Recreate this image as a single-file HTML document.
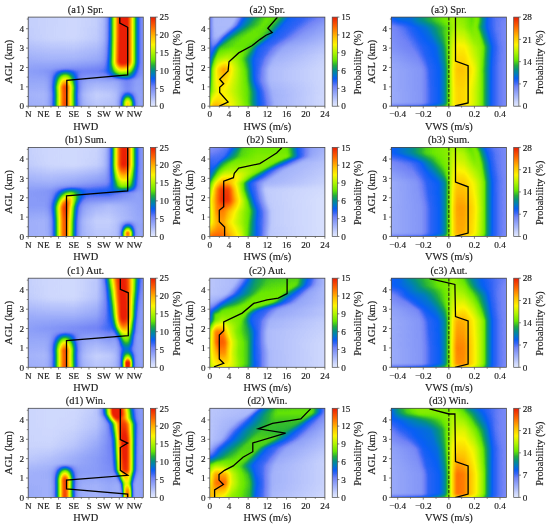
<!DOCTYPE html><html><head><meta charset="utf-8"><style>html,body{margin:0;padding:0;background:#fff;width:550px;height:528px;overflow:hidden}body{position:relative}svg{display:block;position:absolute;left:0;top:0}.hc{position:absolute;overflow:hidden}.hm{position:absolute;left:-3px;top:-3px;filter:url(#cm)}.hm i{display:block;height:2px}.t{font-family:"Liberation Serif",serif;font-size:9.2px;fill:#1a1a1a;stroke:#1a1a1a;stroke-width:0.15px}.l{font-family:"Liberation Serif",serif;font-size:10.4px;fill:#1a1a1a;stroke:#1a1a1a;stroke-width:0.15px}</style></head><body><div class="hc" style="left:28px;top:17px;width:115px;height:89px"><div class="hm" style="width:121px;height:95px"><i style="background:linear-gradient(90deg,#0f0f0f 0%,#0b0b0b 40.2%,#0f0f0f 58.9%,#181818 63.9%,#1e1e1e 65.6%,#292929 67.2%,#373737 68.5%,#494949 69.7%,#575757 70.5%,#717171 71.8%,#c2c2c2 75.1%,#dddddd 76.3%,#f2f2f2 77.6%,#fdfdfd 78.4%,#ffffff 78.8%,#ffffff 84.2%,#fefefe 84.6%,#f3f3f3 85.5%,#dedede 86.7%,#c4c4c4 88%,#767676 91.3%,#5e5e5e 92.5%,#4b4b4b 93.8%,#3d3d3d 95%,#343434 96.3%,#2e2e2e 97.9%,#2a2a2a 100%)"></i><i style="background:linear-gradient(90deg,#0f0f0f 0%,#0b0b0b 40.2%,#0f0f0f 58.9%,#181818 63.9%,#1e1e1e 65.6%,#292929 67.2%,#373737 68.5%,#494949 69.7%,#575757 70.5%,#717171 71.8%,#c2c2c2 75.1%,#dddddd 76.3%,#f2f2f2 77.6%,#fdfdfd 78.4%,#ffffff 78.8%,#ffffff 84.2%,#fefefe 84.6%,#f3f3f3 85.5%,#dedede 86.7%,#c4c4c4 88%,#767676 91.3%,#5e5e5e 92.5%,#4b4b4b 93.8%,#3d3d3d 95%,#343434 96.3%,#2e2e2e 97.9%,#2a2a2a 100%)"></i><i style="background:linear-gradient(90deg,#101010 0%,#0b0b0b 40.2%,#101010 58.9%,#181818 63.9%,#1e1e1e 65.6%,#2a2a2a 67.2%,#373737 68.5%,#494949 69.7%,#575757 70.5%,#717171 71.8%,#c2c2c2 75.1%,#dddddd 76.3%,#f2f2f2 77.6%,#fdfdfd 78.4%,#ffffff 78.8%,#ffffff 84.2%,#fefefe 84.6%,#f3f3f3 85.5%,#dedede 86.7%,#c4c4c4 88%,#767676 91.3%,#5e5e5e 92.5%,#4b4b4b 93.8%,#3d3d3d 95%,#343434 96.3%,#2e2e2e 97.9%,#2a2a2a 100%)"></i><i style="background:linear-gradient(90deg,#101010 0%,#0b0b0b 40.2%,#101010 58.9%,#181818 63.9%,#1f1f1f 65.6%,#2a2a2a 67.2%,#373737 68.5%,#494949 69.7%,#585858 70.5%,#717171 71.8%,#c2c2c2 75.1%,#dddddd 76.3%,#f2f2f2 77.6%,#fdfdfd 78.4%,#ffffff 78.8%,#ffffff 84.2%,#fefefe 84.6%,#f3f3f3 85.5%,#dedede 86.7%,#c4c4c4 88%,#767676 91.3%,#5e5e5e 92.5%,#4b4b4b 93.8%,#3d3d3d 95%,#343434 96.3%,#2e2e2e 97.9%,#2a2a2a 100%)"></i><i style="background:linear-gradient(90deg,#101010 0%,#0b0b0b 40.2%,#101010 58.9%,#181818 63.9%,#1f1f1f 65.6%,#2a2a2a 67.2%,#373737 68.5%,#494949 69.7%,#585858 70.5%,#727272 71.8%,#c2c2c2 75.1%,#dddddd 76.3%,#f2f2f2 77.6%,#fdfdfd 78.4%,#ffffff 78.8%,#ffffff 84.2%,#fefefe 84.6%,#f3f3f3 85.5%,#dedede 86.7%,#c4c4c4 88%,#767676 91.3%,#5e5e5e 92.5%,#4b4b4b 93.8%,#3d3d3d 95%,#343434 96.3%,#2e2e2e 97.9%,#2a2a2a 100%)"></i><i style="background:linear-gradient(90deg,#101010 0%,#0b0b0b 40.2%,#101010 58.9%,#191919 63.9%,#1f1f1f 65.6%,#2a2a2a 67.2%,#383838 68.5%,#4a4a4a 69.7%,#585858 70.5%,#727272 71.8%,#c2c2c2 75.1%,#dddddd 76.3%,#f3f3f3 77.6%,#fdfdfd 78.4%,#ffffff 78.8%,#ffffff 84.2%,#fefefe 84.6%,#f3f3f3 85.5%,#dedede 86.7%,#c4c4c4 88%,#767676 91.3%,#5e5e5e 92.5%,#4b4b4b 93.8%,#3d3d3d 95%,#343434 96.3%,#2e2e2e 97.9%,#2a2a2a 100%)"></i><i style="background:linear-gradient(90deg,#101010 0%,#0d0d0d 21.6%,#0b0b0b 40.2%,#101010 58.9%,#191919 63.9%,#1f1f1f 65.6%,#2b2b2b 67.2%,#383838 68.5%,#4a4a4a 69.7%,#585858 70.5%,#727272 71.8%,#c2c2c2 75.1%,#dddddd 76.3%,#f3f3f3 77.6%,#fdfdfd 78.4%,#ffffff 78.8%,#ffffff 84.2%,#fefefe 84.6%,#f3f3f3 85.5%,#dedede 86.7%,#c4c4c4 88%,#767676 91.3%,#5e5e5e 92.5%,#4b4b4b 93.8%,#3d3d3d 95%,#343434 96.3%,#2e2e2e 97.9%,#2a2a2a 100%)"></i><i style="background:linear-gradient(90deg,#111111 0%,#0d0d0d 21.6%,#0b0b0b 40.2%,#111111 58.9%,#191919 63.9%,#202020 65.6%,#2b2b2b 67.2%,#383838 68.5%,#4a4a4a 69.7%,#585858 70.5%,#727272 71.8%,#c3c3c3 75.1%,#dddddd 76.3%,#f3f3f3 77.6%,#fdfdfd 78.4%,#ffffff 78.8%,#ffffff 84.2%,#fefefe 84.6%,#f3f3f3 85.5%,#dedede 86.7%,#c4c4c4 88%,#767676 91.3%,#5e5e5e 92.5%,#4b4b4b 93.8%,#3d3d3d 95%,#343434 96.3%,#2e2e2e 97.9%,#2a2a2a 100%)"></i><i style="background:linear-gradient(90deg,#111111 0%,#0d0d0d 21.6%,#0b0b0b 40.2%,#111111 58.9%,#191919 63.9%,#202020 65.6%,#2b2b2b 67.2%,#383838 68.5%,#4a4a4a 69.7%,#595959 70.5%,#727272 71.8%,#c3c3c3 75.1%,#dedede 76.3%,#f3f3f3 77.6%,#fdfdfd 78.4%,#ffffff 78.8%,#ffffff 84.2%,#fefefe 84.6%,#f3f3f3 85.5%,#dedede 86.7%,#c4c4c4 88%,#767676 91.3%,#5e5e5e 92.5%,#4b4b4b 93.8%,#3d3d3d 95%,#343434 96.3%,#2e2e2e 97.9%,#2a2a2a 100%)"></i><i style="background:linear-gradient(90deg,#111111 0%,#0d0d0d 21.6%,#0b0b0b 40.2%,#111111 58.9%,#1a1a1a 63.9%,#202020 65.6%,#2b2b2b 67.2%,#393939 68.5%,#4a4a4a 69.7%,#595959 70.5%,#737373 71.8%,#c3c3c3 75.1%,#dedede 76.3%,#f3f3f3 77.6%,#fdfdfd 78.4%,#ffffff 78.8%,#ffffff 84.2%,#fefefe 84.6%,#f3f3f3 85.5%,#dedede 86.7%,#c4c4c4 88%,#767676 91.3%,#5e5e5e 92.5%,#4b4b4b 93.8%,#3d3d3d 95%,#343434 96.3%,#2e2e2e 97.9%,#2a2a2a 100%)"></i><i style="background:linear-gradient(90deg,#111111 0%,#0d0d0d 21.6%,#0b0b0b 40.2%,#111111 58.9%,#1a1a1a 63.9%,#202020 65.6%,#2c2c2c 67.2%,#393939 68.5%,#4b4b4b 69.7%,#595959 70.5%,#737373 71.8%,#c3c3c3 75.1%,#dedede 76.3%,#f3f3f3 77.6%,#fdfdfd 78.4%,#ffffff 78.8%,#ffffff 84.2%,#fefefe 84.6%,#f3f3f3 85.5%,#dedede 86.7%,#c4c4c4 88%,#767676 91.3%,#5e5e5e 92.5%,#4b4b4b 93.8%,#3d3d3d 95%,#343434 96.3%,#2e2e2e 97.9%,#2a2a2a 100%)"></i><i style="background:linear-gradient(90deg,#121212 0%,#0d0d0d 21.6%,#0b0b0b 40.2%,#121212 58.9%,#1a1a1a 63.9%,#212121 65.6%,#2c2c2c 67.2%,#393939 68.5%,#4b4b4b 69.7%,#595959 70.5%,#737373 71.8%,#c3c3c3 75.1%,#dedede 76.3%,#f3f3f3 77.6%,#fdfdfd 78.4%,#ffffff 78.8%,#ffffff 84.2%,#fefefe 84.6%,#f3f3f3 85.5%,#dedede 86.7%,#c4c4c4 88%,#767676 91.3%,#5e5e5e 92.5%,#4b4b4b 93.8%,#3d3d3d 95%,#343434 96.3%,#2e2e2e 97.9%,#2a2a2a 100%)"></i><i style="background:linear-gradient(90deg,#121212 0%,#0d0d0d 21.6%,#0c0c0c 40.2%,#121212 58.9%,#1b1b1b 63.9%,#212121 65.6%,#2c2c2c 67.2%,#3a3a3a 68.5%,#4b4b4b 69.7%,#5a5a5a 70.5%,#737373 71.8%,#c3c3c3 75.1%,#dedede 76.3%,#ededed 77.2%,#f9f9f9 78%,#fdfdfd 78.4%,#ffffff 78.8%,#ffffff 84.2%,#fefefe 84.6%,#f3f3f3 85.5%,#dedede 86.7%,#c4c4c4 88%,#767676 91.3%,#5e5e5e 92.5%,#4b4b4b 93.8%,#3d3d3d 95%,#343434 96.3%,#2e2e2e 97.9%,#2a2a2a 100%)"></i><i style="background:linear-gradient(90deg,#141414 0%,#0f0f0f 21.6%,#0e0e0e 40.2%,#141414 58.9%,#1c1c1c 63.9%,#222222 65.6%,#2e2e2e 67.2%,#3b3b3b 68.5%,#4d4d4d 69.7%,#5b5b5b 70.5%,#747474 71.8%,#c4c4c4 75.1%,#dfdfdf 76.3%,#ededed 77.2%,#f9f9f9 78%,#fefefe 78.4%,#ffffff 78.8%,#ffffff 84.2%,#fefefe 84.6%,#f3f3f3 85.5%,#dedede 86.7%,#c4c4c4 88%,#767676 91.3%,#5e5e5e 92.5%,#4b4b4b 93.8%,#3d3d3d 95%,#343434 96.3%,#2e2e2e 97.9%,#2a2a2a 100%)"></i><i style="background:linear-gradient(90deg,#151515 0%,#111111 21.6%,#101010 40.2%,#161616 58.9%,#1a1a1a 62.2%,#1f1f1f 64.3%,#262626 66%,#2f2f2f 67.2%,#3c3c3c 68.5%,#4e4e4e 69.7%,#5c5c5c 70.5%,#757575 71.8%,#c5c5c5 75.1%,#dfdfdf 76.3%,#eeeeee 77.2%,#f9f9f9 78%,#fefefe 78.4%,#ffffff 78.8%,#ffffff 84.2%,#fefefe 84.6%,#f3f3f3 85.5%,#dedede 86.7%,#c4c4c4 88%,#767676 91.3%,#5e5e5e 92.5%,#4b4b4b 93.8%,#3d3d3d 95%,#343434 96.3%,#2e2e2e 97.9%,#2a2a2a 100%)"></i><i style="background:linear-gradient(90deg,#171717 0%,#121212 21.6%,#111111 40.2%,#171717 58.9%,#1c1c1c 62.2%,#202020 64.3%,#272727 66%,#303030 67.2%,#3d3d3d 68.5%,#4f4f4f 69.7%,#5d5d5d 70.5%,#767676 71.8%,#c5c5c5 75.1%,#e0e0e0 76.3%,#eeeeee 77.2%,#fafafa 78%,#fefefe 78.4%,#ffffff 78.8%,#ffffff 84.2%,#fefefe 84.6%,#f3f3f3 85.5%,#dedede 86.7%,#c4c4c4 88%,#767676 91.3%,#5e5e5e 92.5%,#4b4b4b 93.8%,#3d3d3d 95%,#343434 96.3%,#2e2e2e 97.9%,#2a2a2a 100%)"></i><i style="background:linear-gradient(90deg,#181818 0%,#141414 21.2%,#131313 40.2%,#191919 58.9%,#1d1d1d 62.2%,#222222 64.3%,#292929 66%,#323232 67.2%,#3f3f3f 68.5%,#505050 69.7%,#5e5e5e 70.5%,#777777 71.8%,#c6c6c6 75.1%,#e0e0e0 76.3%,#efefef 77.2%,#fafafa 78%,#ffffff 78.4%,#ffffff 78.8%,#ffffff 84.2%,#fefefe 84.6%,#f3f3f3 85.5%,#dedede 86.7%,#c4c4c4 88%,#767676 91.3%,#5e5e5e 92.5%,#4b4b4b 93.8%,#3d3d3d 95%,#343434 96.3%,#2e2e2e 97.9%,#2a2a2a 100%)"></i><i style="background:linear-gradient(90deg,#191919 0%,#161616 21.2%,#151515 40.2%,#1b1b1b 58.9%,#1f1f1f 62.2%,#232323 64.3%,#2a2a2a 66%,#333333 67.2%,#404040 68.5%,#515151 69.7%,#5f5f5f 70.5%,#787878 71.8%,#bdbdbd 74.7%,#d9d9d9 75.9%,#efefef 77.2%,#ffffff 78.4%,#ffffff 84.2%,#fefefe 84.6%,#f3f3f3 85.5%,#dedede 86.7%,#c4c4c4 88%,#767676 91.3%,#5e5e5e 92.5%,#4b4b4b 93.8%,#3d3d3d 95%,#343434 96.3%,#2e2e2e 97.9%,#2a2a2a 100%)"></i><i style="background:linear-gradient(90deg,#1b1b1b 0%,#171717 21.2%,#171717 40.2%,#1c1c1c 58.9%,#202020 62.2%,#252525 64.3%,#2b2b2b 66%,#343434 67.2%,#414141 68.5%,#525252 69.7%,#606060 70.5%,#797979 71.8%,#bebebe 74.7%,#d9d9d9 75.9%,#f0f0f0 77.2%,#ffffff 78.4%,#ffffff 84.2%,#fefefe 84.6%,#f3f3f3 85.5%,#dedede 86.7%,#c4c4c4 88%,#767676 91.3%,#5e5e5e 92.5%,#4b4b4b 93.8%,#3d3d3d 95%,#343434 96.3%,#2e2e2e 97.9%,#2a2a2a 100%)"></i><i style="background:linear-gradient(90deg,#1c1c1c 0%,#191919 21.2%,#191919 40.2%,#1e1e1e 58.9%,#222222 62.2%,#262626 64.3%,#2d2d2d 66%,#353535 67.2%,#424242 68.5%,#535353 69.7%,#616161 70.5%,#7a7a7a 71.8%,#bebebe 74.7%,#dadada 75.9%,#f0f0f0 77.2%,#fbfbfb 78%,#ffffff 78.4%,#ffffff 84.2%,#fefefe 84.6%,#f3f3f3 85.5%,#dedede 86.7%,#c4c4c4 88%,#767676 91.3%,#5e5e5e 92.5%,#4b4b4b 93.8%,#3d3d3d 95%,#343434 96.3%,#2e2e2e 97.9%,#2a2a2a 100%)"></i><i style="background:linear-gradient(90deg,#1e1e1e 0%,#1b1b1b 21.2%,#1a1a1a 40.2%,#202020 58.9%,#232323 62.2%,#272727 64.3%,#2e2e2e 66%,#373737 67.2%,#434343 68.5%,#555555 69.7%,#626262 70.5%,#7b7b7b 71.8%,#bfbfbf 74.7%,#dadada 75.9%,#f0f0f0 77.2%,#fcfcfc 78%,#ffffff 78.4%,#ffffff 84.2%,#fefefe 84.6%,#f3f3f3 85.5%,#dedede 86.7%,#c4c4c4 88%,#767676 91.3%,#5e5e5e 92.5%,#4b4b4b 93.8%,#3d3d3d 95%,#343434 96.3%,#2e2e2e 97.9%,#2a2a2a 100%)"></i><i style="background:linear-gradient(90deg,#1f1f1f 0%,#1c1c1c 21.2%,#1c1c1c 40.2%,#212121 58.9%,#252525 62.2%,#292929 64.3%,#303030 66%,#383838 67.2%,#454545 68.5%,#565656 69.7%,#636363 70.5%,#7c7c7c 71.8%,#c0c0c0 74.7%,#dbdbdb 75.9%,#f1f1f1 77.2%,#fcfcfc 78%,#ffffff 78.4%,#ffffff 84.2%,#fefefe 84.6%,#f3f3f3 85.5%,#dedede 86.7%,#c4c4c4 88%,#767676 91.3%,#5e5e5e 92.5%,#4b4b4b 93.8%,#3d3d3d 95%,#343434 96.3%,#2e2e2e 97.9%,#2a2a2a 100%)"></i><i style="background:linear-gradient(90deg,#212121 0%,#1e1e1e 21.2%,#1e1e1e 40.2%,#232323 58.9%,#262626 62.2%,#2a2a2a 64.3%,#313131 66%,#393939 67.2%,#464646 68.5%,#575757 69.7%,#646464 70.5%,#7d7d7d 71.8%,#c0c0c0 74.7%,#dbdbdb 75.9%,#f1f1f1 77.2%,#fcfcfc 78%,#ffffff 78.4%,#ffffff 84.2%,#fefefe 84.6%,#f3f3f3 85.5%,#dedede 86.7%,#c4c4c4 88%,#767676 91.3%,#5e5e5e 92.5%,#4b4b4b 93.8%,#3d3d3d 95%,#343434 96.3%,#2e2e2e 97.9%,#2a2a2a 100%)"></i><i style="background:linear-gradient(90deg,#222222 0%,#202020 21.2%,#212121 40.2%,#262626 58.9%,#292929 62.2%,#2d2d2d 64.3%,#343434 66%,#3c3c3c 67.2%,#484848 68.5%,#595959 69.7%,#676767 70.5%,#7f7f7f 71.8%,#cbcbcb 75.1%,#e5e5e5 76.3%,#f9f9f9 77.6%,#fefefe 78%,#ffffff 78.4%,#fefefe 84.6%,#f4f4f4 85.5%,#dfdfdf 86.7%,#c4c4c4 88%,#767676 91.3%,#5e5e5e 92.5%,#4b4b4b 93.8%,#3d3d3d 95%,#343434 96.3%,#2e2e2e 97.9%,#2a2a2a 100%)"></i><i style="background:linear-gradient(90deg,#232323 0%,#232323 21.2%,#252525 40.2%,#2a2a2a 58.9%,#2d2d2d 62.2%,#303030 64.3%,#363636 66%,#3e3e3e 67.2%,#4a4a4a 68.5%,#5a5a5a 69.7%,#676767 70.5%,#7e7e7e 71.8%,#c6c6c6 75.1%,#dedede 76.3%,#ececec 77.2%,#f6f6f6 78%,#fdfdfd 78.8%,#ffffff 79.3%,#ffffff 83.4%,#f6f6f6 84.6%,#ececec 85.5%,#d7d7d7 86.7%,#bebebe 88%,#737373 91.3%,#5c5c5c 92.5%,#4a4a4a 93.8%,#3d3d3d 95%,#343434 96.3%,#2f2f2f 97.5%,#2b2b2b 100%)"></i><i style="background:linear-gradient(90deg,#252525 0%,#262626 21.2%,#292929 40.2%,#2e2e2e 59.3%,#313131 62.7%,#353535 64.7%,#393939 66%,#404040 67.2%,#4b4b4b 68.5%,#5a5a5a 69.7%,#656565 70.5%,#7a7a7a 71.8%,#bcbcbc 75.1%,#d8d8d8 76.8%,#e3e3e3 77.6%,#ebebeb 78.4%,#f0f0f0 79.3%,#f3f3f3 80.5%,#f1f1f1 82.6%,#eeeeee 83.4%,#e6e6e6 84.6%,#dddddd 85.5%,#d1d1d1 86.3%,#bbbbbb 87.6%,#7e7e7e 90.5%,#666666 91.7%,#525252 92.9%,#434343 94.2%,#383838 95.4%,#323232 96.7%,#2d2d2d 98.3%,#2b2b2b 100%)"></i><i style="background:linear-gradient(90deg,#262626 0%,#282828 21.6%,#313131 56.8%,#343434 61.8%,#383838 64.7%,#3f3f3f 66.8%,#484848 68%,#4f4f4f 68.9%,#5d5d5d 70.1%,#6d6d6d 71.4%,#818181 72.6%,#acacac 75.1%,#c4c4c4 76.8%,#cdcdcd 77.6%,#d3d3d3 78.4%,#d7d7d7 79.3%,#d9d9d9 80.5%,#d5d5d5 83.4%,#cecece 84.6%,#c6c6c6 85.5%,#bcbcbc 86.3%,#a8a8a8 87.6%,#747474 90.5%,#5f5f5f 91.7%,#4d4d4d 92.9%,#404040 94.2%,#373737 95.4%,#313131 96.7%,#2b2b2b 100%)"></i><i style="background:linear-gradient(90deg,#272727 0%,#2b2b2b 21.2%,#353535 33.6%,#333333 48.1%,#363636 60.2%,#3b3b3b 64.7%,#414141 66.8%,#484848 68%,#4f4f4f 68.9%,#5a5a5a 70.1%,#676767 71.4%,#9c9c9c 75.1%,#b0b0b0 76.8%,#b7b7b7 77.6%,#bcbcbc 78.4%,#c0c0c0 79.3%,#c1c1c1 80.5%,#bdbdbd 83.4%,#b6b6b6 84.6%,#b0b0b0 85.5%,#a7a7a7 86.3%,#969696 87.6%,#696969 90.5%,#575757 91.7%,#484848 92.9%,#3d3d3d 94.2%,#353535 95.4%,#313131 96.7%,#2c2c2c 100%)"></i><i style="background:linear-gradient(90deg,#292929 0%,#2c2c2c 14.9%,#303030 20.7%,#373737 24.5%,#4c4c4c 30.7%,#505050 33.2%,#4e4e4e 35.7%,#3e3e3e 42.3%,#393939 46.1%,#383838 49.8%,#393939 57.3%,#3b3b3b 62.2%,#3e3e3e 64.7%,#454545 67.2%,#545454 69.7%,#666666 71.8%,#8d8d8d 75.1%,#9d9d9d 76.8%,#a6a6a6 78.4%,#aaaaaa 80.1%,#a5a5a5 83.4%,#a0a0a0 84.6%,#9a9a9a 85.5%,#939393 86.3%,#858585 87.6%,#505050 91.7%,#434343 92.9%,#3a3a3a 94.2%,#343434 95.4%,#303030 96.7%,#2c2c2c 100%)"></i><i style="background:linear-gradient(90deg,#282828 0%,#2b2b2b 15.4%,#2d2d2d 18.3%,#303030 20.7%,#363636 22.8%,#3d3d3d 24.5%,#616161 30.7%,#666666 32%,#686868 33.2%,#676767 34.4%,#646464 35.7%,#434343 42.3%,#3d3d3d 44%,#383838 46.1%,#363636 48.5%,#363636 52.3%,#373737 60.6%,#3a3a3a 64.7%,#404040 67.2%,#4c4c4c 69.7%,#5b5b5b 71.8%,#797979 75.1%,#858585 76.8%,#8d8d8d 78.4%,#909090 80.1%,#8c8c8c 83.4%,#888888 84.6%,#838383 85.5%,#727272 87.6%,#484848 91.7%,#3e3e3e 92.9%,#373737 94.2%,#2f2f2f 96.7%,#2c2c2c 100%)"></i><i style="background:linear-gradient(90deg,#272727 0%,#2a2a2a 15.4%,#2c2c2c 18.3%,#303030 20.3%,#373737 22.4%,#414141 24.1%,#4e4e4e 25.7%,#707070 29.5%,#7a7a7a 30.7%,#808080 32%,#828282 33.2%,#808080 34.4%,#787878 36.1%,#4f4f4f 41.1%,#424242 43.2%,#393939 45.2%,#343434 47.7%,#323232 51.5%,#323232 59.3%,#343434 63.9%,#373737 66.4%,#3c3c3c 68%,#484848 71%,#696969 75.9%,#747474 78%,#787878 80.1%,#797979 82.6%,#767676 84.2%,#6f6f6f 85.9%,#636363 87.6%,#434343 91.3%,#3b3b3b 92.5%,#353535 93.8%,#2e2e2e 96.3%,#2b2b2b 100%)"></i><i style="background:linear-gradient(90deg,#262626 0%,#282828 15.4%,#2b2b2b 18.3%,#303030 20.3%,#3a3a3a 22.4%,#474747 24.1%,#585858 25.7%,#848484 29.5%,#909090 30.7%,#989898 32%,#9a9a9a 33.2%,#979797 34.4%,#8c8c8c 36.1%,#808080 37.3%,#565656 41.1%,#444444 43.2%,#383838 45.2%,#313131 47.7%,#2e2e2e 51.5%,#2d2d2d 58.9%,#2f2f2f 63.9%,#323232 66.8%,#3e3e3e 71.8%,#575757 77.2%,#5f5f5f 79.3%,#636363 80.9%,#656565 83.4%,#636363 84.6%,#5c5c5c 86.3%,#3e3e3e 90.9%,#323232 93.4%,#2c2c2c 95.9%,#2a2a2a 100%)"></i><i style="background:linear-gradient(90deg,#252525 0%,#262626 15.4%,#292929 18.3%,#2f2f2f 20.3%,#3b3b3b 22.4%,#4b4b4b 24.1%,#5f5f5f 25.7%,#959595 29.5%,#a3a3a3 30.7%,#acacac 32%,#afafaf 33.2%,#ababab 34.4%,#a6a6a6 35.3%,#9e9e9e 36.1%,#8e8e8e 37.3%,#5b5b5b 41.1%,#454545 43.2%,#3c3c3c 44.4%,#353535 45.6%,#2e2e2e 48.1%,#2a2a2a 51.5%,#282828 58.9%,#2b2b2b 66.8%,#313131 73%,#424242 80.5%,#464646 83.8%,#424242 86.3%,#333333 90.5%,#2d2d2d 92.9%,#2a2a2a 95.4%,#2a2a2a 100%)"></i><i style="background:linear-gradient(90deg,#252525 0%,#252525 15.4%,#282828 18.3%,#2f2f2f 20.3%,#363636 21.6%,#3d3d3d 22.4%,#4f4f4f 24.1%,#676767 25.7%,#a5a5a5 29.5%,#b5b5b5 30.7%,#c0c0c0 32%,#c4c4c4 33.2%,#bfbfbf 34.4%,#b9b9b9 35.3%,#afafaf 36.1%,#9d9d9d 37.3%,#616161 41.1%,#505050 42.3%,#474747 43.2%,#3c3c3c 44.4%,#343434 45.6%,#2b2b2b 48.1%,#262626 51.5%,#232323 58.9%,#262626 69.3%,#252525 73.9%,#282828 76.8%,#343434 82.6%,#363636 84.2%,#343434 86.3%,#2c2c2c 90.5%,#292929 92.5%,#292929 100%)"></i><i style="background:linear-gradient(90deg,#242424 0%,#232323 15.4%,#272727 18.3%,#2e2e2e 20.3%,#363636 21.6%,#3e3e3e 22.4%,#515151 24.1%,#6c6c6c 25.7%,#b0b0b0 29.5%,#c3c3c3 30.7%,#cecece 32%,#d2d2d2 33.2%,#cdcdcd 34.4%,#c6c6c6 35.3%,#bbbbbb 36.1%,#a7a7a7 37.3%,#646464 41.1%,#515151 42.3%,#474747 43.2%,#3b3b3b 44.4%,#323232 45.6%,#2c2c2c 46.9%,#282828 48.1%,#222222 51.5%,#1f1f1f 58.9%,#212121 73%,#252525 76.3%,#333333 82.6%,#353535 84.6%,#333333 86.3%,#292929 92.1%,#292929 100%)"></i><i style="background:linear-gradient(90deg,#232323 0%,#222222 15.4%,#262626 18.3%,#2e2e2e 20.3%,#373737 21.6%,#3f3f3f 22.4%,#555555 24.1%,#717171 25.7%,#bdbdbd 29.5%,#d1d1d1 30.7%,#dedede 32%,#e2e2e2 32.8%,#e2e2e2 33.2%,#e1e1e1 33.6%,#dddddd 34.4%,#d4d4d4 35.3%,#c9c9c9 36.1%,#b3b3b3 37.3%,#696969 41.1%,#545454 42.3%,#494949 43.2%,#3b3b3b 44.4%,#323232 45.6%,#2b2b2b 46.9%,#262626 48.1%,#202020 51.5%,#1c1c1c 58.9%,#1f1f1f 72.6%,#232323 76.3%,#323232 82.6%,#343434 84.6%,#333333 86.3%,#292929 92.1%,#282828 100%)"></i><i style="background:linear-gradient(90deg,#222222 0%,#212121 15.4%,#252525 18.3%,#2e2e2e 20.3%,#373737 21.6%,#404040 22.4%,#585858 24.1%,#777777 25.7%,#c8c8c8 29.5%,#dedede 30.7%,#ececec 32%,#f0f0f0 32.8%,#f0f0f0 33.2%,#efefef 33.6%,#eaeaea 34.4%,#e1e1e1 35.3%,#d5d5d5 36.1%,#bdbdbd 37.3%,#6d6d6d 41.1%,#575757 42.3%,#4b4b4b 43.2%,#3c3c3c 44.4%,#313131 45.6%,#2a2a2a 46.9%,#252525 48.1%,#1e1e1e 51.9%,#191919 59.3%,#1e1e1e 74.3%,#222222 76.8%,#303030 82.2%,#333333 84.2%,#323232 86.3%,#2a2a2a 90.5%,#282828 92.5%,#282828 100%)"></i><i style="background:linear-gradient(90deg,#212121 0%,#202020 15.4%,#242424 18.3%,#2d2d2d 20.3%,#363636 21.6%,#3f3f3f 22.4%,#565656 24.1%,#757575 25.7%,#c7c7c7 29.5%,#dcdcdc 30.7%,#eaeaea 32%,#eeeeee 32.8%,#efefef 33.2%,#eeeeee 33.6%,#e9e9e9 34.4%,#e0e0e0 35.3%,#d3d3d3 36.1%,#bcbcbc 37.3%,#6c6c6c 41.1%,#555555 42.3%,#494949 43.2%,#3a3a3a 44.4%,#2f2f2f 45.6%,#282828 46.9%,#222222 48.5%,#1c1c1c 51.9%,#171717 58.9%,#1a1a1a 71.4%,#1f1f1f 75.9%,#303030 82.6%,#323232 84.6%,#313131 86.3%,#282828 92.1%,#282828 100%)"></i><i style="background:linear-gradient(90deg,#202020 0%,#1f1f1f 15.4%,#232323 18.3%,#2b2b2b 20.3%,#353535 21.6%,#3e3e3e 22.4%,#555555 24.1%,#747474 25.7%,#c6c6c6 29.5%,#dbdbdb 30.7%,#e9e9e9 32%,#ededed 32.8%,#ededed 33.2%,#ededed 33.6%,#e8e8e8 34.4%,#dfdfdf 35.3%,#d2d2d2 36.1%,#bababa 37.3%,#6a6a6a 41.1%,#545454 42.3%,#474747 43.2%,#393939 44.4%,#2e2e2e 45.6%,#262626 46.9%,#202020 48.5%,#1a1a1a 51.9%,#141414 58.9%,#171717 71%,#1d1d1d 75.9%,#313131 82.6%,#343434 84.6%,#333333 86.3%,#2a2a2a 90.5%,#282828 92.5%,#272727 100%)"></i><i style="background:linear-gradient(90deg,#1f1f1f 0%,#1d1d1d 15.4%,#212121 18.3%,#2a2a2a 20.3%,#333333 21.6%,#3c3c3c 22.4%,#545454 24.1%,#737373 25.7%,#c4c4c4 29.5%,#dadada 30.7%,#e8e8e8 32%,#ececec 32.8%,#ececec 33.2%,#ebebeb 33.6%,#e6e6e6 34.4%,#dddddd 35.3%,#d1d1d1 36.1%,#b9b9b9 37.3%,#696969 41.1%,#525252 42.3%,#464646 43.2%,#373737 44.4%,#2c2c2c 45.6%,#242424 46.9%,#1e1e1e 48.5%,#181818 51.9%,#111111 59.3%,#141414 69.3%,#171717 73%,#1a1a1a 75.1%,#212121 77.2%,#292929 78.8%,#3f3f3f 82.6%,#434343 83.8%,#454545 84.6%,#444444 85.5%,#414141 86.7%,#303030 90.5%,#292929 92.5%,#272727 95%,#272727 100%)"></i><i style="background:linear-gradient(90deg,#1f1f1f 0%,#1d1d1d 15.4%,#212121 18.3%,#292929 20.3%,#373737 22%,#464646 23.2%,#535353 24.1%,#727272 25.7%,#c3c3c3 29.5%,#d9d9d9 30.7%,#e7e7e7 32%,#ebebeb 32.8%,#ebebeb 33.2%,#eaeaea 33.6%,#e5e5e5 34.4%,#dcdcdc 35.3%,#d0d0d0 36.1%,#b8b8b8 37.3%,#686868 41.1%,#515151 42.3%,#454545 43.2%,#363636 44.4%,#2b2b2b 45.6%,#232323 46.9%,#1c1c1c 48.5%,#161616 51.9%,#101010 59.3%,#121212 69.3%,#171717 73.9%,#1c1c1c 75.9%,#232323 77.6%,#2f2f2f 79.3%,#515151 83%,#565656 83.8%,#585858 84.6%,#575757 85.5%,#545454 86.3%,#4f4f4f 87.1%,#343434 90.5%,#2b2b2b 92.5%,#262626 95%,#262626 100%)"></i><i style="background:linear-gradient(90deg,#1f1f1f 0%,#1d1d1d 15.4%,#212121 18.3%,#2a2a2a 20.3%,#373737 22%,#464646 23.2%,#535353 24.1%,#727272 25.7%,#c4c4c4 29.5%,#d9d9d9 30.7%,#e7e7e7 32%,#ebebeb 32.8%,#ececec 33.2%,#ebebeb 33.6%,#e6e6e6 34.4%,#dddddd 35.3%,#d0d0d0 36.1%,#b8b8b8 37.3%,#686868 41.1%,#525252 42.3%,#454545 43.2%,#363636 44.4%,#2b2b2b 45.6%,#242424 46.9%,#1d1d1d 48.5%,#171717 51.9%,#101010 59.3%,#131313 69.3%,#161616 72.6%,#191919 74.7%,#1e1e1e 76.3%,#292929 78%,#3b3b3b 79.7%,#6a6a6a 83%,#747474 84.2%,#757575 85.1%,#727272 85.9%,#6b6b6b 86.7%,#404040 90%,#373737 90.9%,#2e2e2e 92.1%,#2a2a2a 93.4%,#272727 94.6%,#262626 100%)"></i><i style="background:linear-gradient(90deg,#202020 0%,#1d1d1d 15.4%,#212121 18.3%,#2a2a2a 20.3%,#383838 22%,#474747 23.2%,#545454 24.1%,#737373 25.7%,#c4c4c4 29.5%,#dadada 30.7%,#e8e8e8 32%,#ececec 32.8%,#ececec 33.2%,#ebebeb 33.6%,#e6e6e6 34.4%,#dddddd 35.3%,#d1d1d1 36.1%,#b9b9b9 37.3%,#696969 41.1%,#525252 42.3%,#464646 43.2%,#373737 44.4%,#2c2c2c 45.6%,#242424 46.9%,#1e1e1e 48.5%,#171717 51.9%,#111111 59.3%,#151515 70.5%,#171717 73.4%,#1a1a1a 75.1%,#222222 76.8%,#282828 77.6%,#303030 78.4%,#3c3c3c 79.3%,#494949 80.1%,#727272 82.2%,#818181 83%,#8c8c8c 83.8%,#8f8f8f 84.2%,#919191 85.1%,#8c8c8c 85.9%,#828282 86.7%,#474747 90%,#3c3c3c 90.9%,#303030 92.1%,#2a2a2a 93.4%,#272727 94.6%,#262626 100%)"></i><i style="background:linear-gradient(90deg,#202020 0%,#1e1e1e 15.4%,#222222 18.3%,#2b2b2b 20.3%,#383838 22%,#474747 23.2%,#545454 24.1%,#737373 25.7%,#c5c5c5 29.5%,#dadada 30.7%,#e8e8e8 32%,#ececec 32.8%,#ededed 33.2%,#ececec 33.6%,#e7e7e7 34.4%,#dedede 35.3%,#d1d1d1 36.1%,#b9b9b9 37.3%,#696969 41.1%,#535353 42.3%,#464646 43.2%,#373737 44.4%,#2c2c2c 45.6%,#252525 46.9%,#1e1e1e 48.5%,#181818 51.9%,#121212 59.3%,#161616 71.4%,#181818 73.9%,#1d1d1d 75.5%,#272727 77.2%,#353535 78.4%,#424242 79.3%,#535353 80.1%,#8e8e8e 82.6%,#9e9e9e 83.4%,#a8a8a8 84.2%,#aaaaaa 85.1%,#a5a5a5 85.9%,#989898 86.7%,#878787 87.6%,#606060 89.2%,#4f4f4f 90%,#414141 90.9%,#333333 92.1%,#2b2b2b 93.4%,#282828 94.6%,#262626 100%)"></i><i style="background:linear-gradient(90deg,#202020 0%,#1e1e1e 15.4%,#222222 18.3%,#2b2b2b 20.3%,#383838 22%,#484848 23.2%,#545454 24.1%,#747474 25.7%,#c5c5c5 29.5%,#dbdbdb 30.7%,#e9e9e9 32%,#ededed 32.8%,#ededed 33.2%,#ececec 33.6%,#e7e7e7 34.4%,#dedede 35.3%,#d2d2d2 36.1%,#bababa 37.3%,#6a6a6a 41.1%,#535353 42.3%,#474747 43.2%,#383838 44.4%,#2d2d2d 45.6%,#252525 46.9%,#1f1f1f 48.5%,#191919 51.9%,#131313 59.3%,#171717 71.8%,#191919 73.9%,#1d1d1d 75.5%,#222222 76.3%,#282828 77.2%,#373737 78.4%,#464646 79.3%,#595959 80.1%,#9b9b9b 82.6%,#adadad 83.4%,#b8b8b8 84.2%,#bababa 84.6%,#bbbbbb 85.1%,#b9b9b9 85.5%,#b4b4b4 85.9%,#a6a6a6 86.7%,#939393 87.6%,#676767 89.2%,#545454 90%,#454545 90.9%,#353535 92.1%,#2c2c2c 93.4%,#282828 94.6%,#262626 96.3%,#262626 100%)"></i><i style="background:linear-gradient(90deg,#212121 0%,#1f1f1f 15.4%,#232323 18.3%,#2b2b2b 20.3%,#393939 22%,#484848 23.2%,#555555 24.1%,#747474 25.7%,#c6c6c6 29.5%,#dbdbdb 30.7%,#e9e9e9 32%,#ededed 32.8%,#ededed 33.2%,#ededed 33.6%,#e8e8e8 34.4%,#dfdfdf 35.3%,#d2d2d2 36.1%,#bababa 37.3%,#6a6a6a 41.1%,#545454 42.3%,#474747 43.2%,#383838 44.4%,#2e2e2e 45.6%,#262626 46.9%,#202020 48.5%,#1a1a1a 51.9%,#141414 59.3%,#181818 71.8%,#191919 73.9%,#1e1e1e 75.5%,#222222 76.3%,#282828 77.2%,#373737 78.4%,#464646 79.3%,#585858 80.1%,#999999 82.6%,#ababab 83.4%,#b6b6b6 84.2%,#b8b8b8 84.6%,#b8b8b8 85.1%,#b6b6b6 85.5%,#b2b2b2 85.9%,#a4a4a4 86.7%,#919191 87.6%,#666666 89.2%,#545454 90%,#444444 90.9%,#353535 92.1%,#2c2c2c 93.4%,#282828 94.6%,#262626 96.3%,#262626 100%)"></i><i style="background:linear-gradient(90deg,#212121 0%,#1f1f1f 15.4%,#232323 18.3%,#2c2c2c 20.3%,#393939 22%,#484848 23.2%,#555555 24.1%,#747474 25.7%,#c6c6c6 29.5%,#dbdbdb 30.7%,#e9e9e9 32%,#ededed 32.8%,#eeeeee 33.2%,#ededed 33.6%,#e8e8e8 34.4%,#dfdfdf 35.3%,#d2d2d2 36.1%,#bababa 37.3%,#6a6a6a 41.1%,#545454 42.3%,#484848 43.2%,#393939 44.4%,#2e2e2e 45.6%,#262626 46.9%,#202020 48.5%,#1a1a1a 51.9%,#141414 59.3%,#181818 72.2%,#1b1b1b 74.3%,#1e1e1e 75.5%,#222222 76.3%,#282828 77.2%,#373737 78.4%,#454545 79.3%,#575757 80.1%,#989898 82.6%,#a9a9a9 83.4%,#b4b4b4 84.2%,#b7b7b7 84.6%,#b7b7b7 85.1%,#b5b5b5 85.5%,#b1b1b1 85.9%,#a3a3a3 86.7%,#909090 87.6%,#666666 89.2%,#535353 90%,#444444 90.9%,#343434 92.1%,#2c2c2c 93.4%,#282828 94.6%,#262626 96.3%,#262626 100%)"></i><i style="background:linear-gradient(90deg,#212121 0%,#1f1f1f 15.4%,#232323 18.3%,#2c2c2c 20.3%,#393939 22%,#484848 23.2%,#555555 24.1%,#747474 25.7%,#c6c6c6 29.5%,#dbdbdb 30.7%,#e9e9e9 32%,#ededed 32.8%,#eeeeee 33.2%,#ededed 33.6%,#e8e8e8 34.4%,#dfdfdf 35.3%,#d2d2d2 36.1%,#bababa 37.3%,#6a6a6a 41.1%,#545454 42.3%,#484848 43.2%,#393939 44.4%,#2e2e2e 45.6%,#262626 46.9%,#202020 48.5%,#1a1a1a 51.9%,#141414 59.3%,#181818 72.2%,#1b1b1b 74.3%,#1e1e1e 75.5%,#222222 76.3%,#282828 77.2%,#373737 78.4%,#454545 79.3%,#575757 80.1%,#989898 82.6%,#a9a9a9 83.4%,#b4b4b4 84.2%,#b7b7b7 84.6%,#b7b7b7 85.1%,#b5b5b5 85.5%,#b1b1b1 85.9%,#a3a3a3 86.7%,#909090 87.6%,#666666 89.2%,#535353 90%,#444444 90.9%,#343434 92.1%,#2c2c2c 93.4%,#282828 94.6%,#262626 96.3%,#262626 100%)"></i></div></div><div class="hc" style="left:210px;top:17px;width:115px;height:89px"><div class="hm" style="width:121px;height:95px"><i style="background:linear-gradient(90deg,#424242 0%,#414141 1.2%,#3e3e3e 2.1%,#383838 2.9%,#202020 5.4%,#1b1b1b 6.6%,#1a1a1a 22.8%,#1d1d1d 24.1%,#222222 24.9%,#444444 29%,#505050 31.1%,#737373 42.3%,#828282 49%,#848484 51%,#808080 56.8%,#7b7b7b 59.3%,#6f6f6f 62.2%,#515151 67.2%,#4c4c4c 68.9%,#454545 81.7%,#343434 97.1%,#333333 100%)"></i><i style="background:linear-gradient(90deg,#424242 0%,#414141 1.2%,#3e3e3e 2.1%,#383838 2.9%,#202020 5.4%,#1b1b1b 6.6%,#1a1a1a 22.8%,#1d1d1d 24.1%,#222222 24.9%,#444444 29%,#505050 31.1%,#737373 42.3%,#828282 49%,#848484 51%,#808080 56.8%,#7b7b7b 59.3%,#6f6f6f 62.2%,#515151 67.2%,#4c4c4c 68.9%,#454545 81.7%,#343434 97.1%,#333333 100%)"></i><i style="background:linear-gradient(90deg,#424242 0%,#414141 1.2%,#3e3e3e 2.1%,#383838 2.9%,#202020 5.4%,#1b1b1b 6.6%,#1a1a1a 22%,#1c1c1c 22.8%,#202020 23.7%,#454545 28.2%,#505050 30.3%,#727272 40.7%,#828282 47.7%,#848484 49.8%,#808080 55.6%,#7a7a7a 58.1%,#717171 60.6%,#535353 65.6%,#4d4d4d 67.2%,#444444 80.1%,#323232 96.3%,#313131 100%)"></i><i style="background:linear-gradient(90deg,#424242 0%,#414141 1.2%,#3e3e3e 2.1%,#383838 2.9%,#202020 5.4%,#1b1b1b 6.6%,#1a1a1a 21.2%,#1c1c1c 22%,#202020 22.8%,#454545 27.4%,#4d4d4d 28.6%,#525252 29.9%,#737373 39.4%,#828282 46.9%,#848484 49%,#808080 54.4%,#797979 57.3%,#6e6e6e 59.8%,#525252 64.3%,#4d4d4d 66%,#454545 78%,#353535 91.3%,#2f2f2f 97.1%,#2e2e2e 100%)"></i><i style="background:linear-gradient(90deg,#424242 0%,#414141 1.2%,#3e3e3e 2.1%,#383838 2.9%,#202020 5.4%,#1b1b1b 6.6%,#1a1a1a 20.3%,#1d1d1d 21.2%,#212121 22%,#464646 26.6%,#4e4e4e 27.8%,#535353 29%,#737373 38.2%,#828282 45.6%,#848484 48.1%,#808080 53.1%,#787878 56%,#6f6f6f 58.1%,#515151 63.1%,#4c4c4c 64.7%,#454545 75.9%,#343434 88.8%,#2d2d2d 96.7%,#2c2c2c 100%)"></i><i style="background:linear-gradient(90deg,#424242 0%,#414141 1.2%,#3e3e3e 2.1%,#383838 2.9%,#202020 5.4%,#1b1b1b 6.6%,#1a1a1a 8.7%,#1a1a1a 19.5%,#1d1d1d 20.3%,#222222 21.2%,#4a4a4a 26.1%,#555555 28.6%,#6d6d6d 34.9%,#737373 36.9%,#828282 44.8%,#848484 46.9%,#7f7f7f 51.9%,#777777 54.8%,#6f6f6f 56.8%,#535353 61.4%,#4d4d4d 63.1%,#454545 74.3%,#333333 87.1%,#2a2a2a 96.7%,#2a2a2a 100%)"></i><i style="background:linear-gradient(90deg,#434343 0%,#424242 1.2%,#3f3f3f 2.1%,#383838 2.9%,#202020 5.4%,#1b1b1b 6.6%,#1b1b1b 17.8%,#1d1d1d 18.7%,#222222 19.5%,#444444 23.7%,#4d4d4d 24.9%,#6d6d6d 32.8%,#737373 34.4%,#777777 36.1%,#838383 43.2%,#848484 45.2%,#808080 50.2%,#777777 53.5%,#6e6e6e 55.6%,#525252 60.2%,#4c4c4c 61.8%,#444444 72.6%,#323232 85.5%,#282828 96.7%,#282828 100%)"></i><i style="background:linear-gradient(90deg,#444444 0%,#434343 1.2%,#3f3f3f 2.1%,#393939 2.9%,#242424 5%,#1d1d1d 6.2%,#1b1b1b 7.9%,#1a1a1a 15.8%,#1d1d1d 16.6%,#212121 17.4%,#444444 21.6%,#4d4d4d 22.8%,#707070 31.1%,#767676 32.8%,#797979 34.4%,#838383 40.7%,#848484 42.7%,#818181 48.5%,#787878 52.3%,#6e6e6e 54.4%,#535353 58.5%,#4d4d4d 60.2%,#444444 71%,#313131 83.4%,#262626 96.7%,#262626 100%)"></i><i style="background:linear-gradient(90deg,#454545 0%,#444444 1.2%,#404040 2.1%,#3a3a3a 2.9%,#252525 5%,#1d1d1d 6.2%,#1b1b1b 7.9%,#1b1b1b 13.7%,#1c1c1c 14.5%,#212121 15.4%,#444444 19.5%,#4f4f4f 21.2%,#747474 29.5%,#797979 31.5%,#848484 38.6%,#838383 44.4%,#818181 47.3%,#777777 51.5%,#6e6e6e 53.1%,#525252 57.3%,#4c4c4c 58.9%,#444444 68.9%,#303030 81.3%,#252525 96.3%,#242424 100%)"></i><i style="background:linear-gradient(90deg,#464646 0%,#454545 1.2%,#414141 2.1%,#3b3b3b 2.9%,#252525 5%,#1e1e1e 6.2%,#1b1b1b 9.1%,#1b1b1b 12%,#1e1e1e 12.9%,#232323 13.7%,#434343 17.4%,#4f4f4f 19.1%,#6e6e6e 25.7%,#777777 27.8%,#7a7a7a 29.5%,#848484 36.1%,#838383 43.6%,#808080 46.5%,#777777 50.2%,#707070 51.5%,#535353 55.6%,#4d4d4d 57.3%,#444444 67.2%,#2f2f2f 79.7%,#232323 96.3%,#222222 100%)"></i><i style="background:linear-gradient(90deg,#474747 0%,#454545 1.2%,#424242 2.1%,#3b3b3b 2.9%,#252525 5%,#202020 5.8%,#1c1c1c 7.5%,#1b1b1b 10%,#1e1e1e 10.8%,#222222 11.6%,#434343 15.4%,#4f4f4f 17%,#707070 23.7%,#787878 25.7%,#848484 33.6%,#848484 42.3%,#818181 44.8%,#797979 48.5%,#707070 50.2%,#525252 54.4%,#4c4c4c 56%,#444444 65.1%,#2e2e2e 77.6%,#212121 96.3%,#202020 100%)"></i><i style="background:linear-gradient(90deg,#484848 0%,#464646 1.2%,#434343 2.1%,#3c3c3c 2.9%,#2a2a2a 4.6%,#212121 5.8%,#1e1e1e 7.1%,#1e1e1e 8.3%,#202020 9.1%,#242424 10%,#454545 13.7%,#515151 15.4%,#717171 21.6%,#797979 23.2%,#7d7d7d 25.3%,#848484 31.5%,#848484 40.7%,#7e7e7e 45.2%,#787878 47.3%,#717171 48.5%,#555555 52.3%,#505050 53.1%,#4c4c4c 54.4%,#444444 63.5%,#2d2d2d 75.9%,#1f1f1f 96.3%,#1e1e1e 100%)"></i><i style="background:linear-gradient(90deg,#494949 0%,#474747 1.2%,#444444 2.1%,#3e3e3e 2.9%,#2d2d2d 4.6%,#282828 5.4%,#252525 6.6%,#252525 7.9%,#2b2b2b 9.1%,#474747 12.4%,#535353 14.1%,#727272 19.5%,#7a7a7a 21.2%,#848484 29.5%,#848484 38.6%,#7e7e7e 43.2%,#797979 45.2%,#717171 46.5%,#555555 50.2%,#505050 51%,#4c4c4c 52.3%,#434343 61.4%,#2c2c2c 73.4%,#1d1d1d 96.3%,#1c1c1c 100%)"></i><i style="background:linear-gradient(90deg,#494949 0%,#484848 1.2%,#454545 2.1%,#343434 4.1%,#2f2f2f 5%,#2c2c2c 5.8%,#2c2c2c 7.1%,#313131 8.3%,#4f4f4f 12%,#6c6c6c 16.2%,#747474 17.4%,#797979 18.7%,#7d7d7d 20.3%,#848484 27.8%,#848484 36.5%,#7e7e7e 41.1%,#797979 43.2%,#727272 44.4%,#545454 48.1%,#4f4f4f 49%,#4c4c4c 50.2%,#434343 58.9%,#2a2a2a 71.4%,#1b1b1b 96.3%,#1a1a1a 100%)"></i><i style="background:linear-gradient(90deg,#4a4a4a 0%,#484848 1.7%,#444444 2.5%,#353535 4.6%,#323232 5.4%,#333333 6.2%,#353535 7.1%,#3a3a3a 7.9%,#707070 14.5%,#797979 16.2%,#7c7c7c 17.8%,#848484 25.7%,#848484 34.4%,#7e7e7e 39.4%,#7a7a7a 41.1%,#737373 42.3%,#545454 46.1%,#4c4c4c 47.7%,#434343 56.8%,#292929 68.5%,#1a1a1a 95.4%,#191919 100%)"></i><i style="background:linear-gradient(90deg,#4b4b4b 0%,#494949 1.7%,#3b3b3b 4.1%,#393939 5.4%,#3c3c3c 6.2%,#434343 7.5%,#515151 9.1%,#717171 12.4%,#777777 13.3%,#7a7a7a 14.1%,#848484 24.1%,#848484 32.4%,#7d7d7d 37.8%,#787878 39.4%,#707070 40.7%,#545454 44%,#4d4d4d 45.2%,#424242 54.8%,#272727 66.4%,#181818 95.4%,#171717 100%)"></i><i style="background:linear-gradient(90deg,#4c4c4c 0%,#4b4b4b 1.7%,#414141 4.1%,#424242 5.4%,#474747 6.2%,#4d4d4d 7.1%,#737373 10.4%,#787878 11.2%,#7b7b7b 12%,#848484 22.4%,#848484 30.3%,#7d7d7d 35.7%,#797979 37.3%,#717171 38.6%,#535353 41.9%,#4d4d4d 43.2%,#414141 52.7%,#252525 64.3%,#161616 95.4%,#151515 100%)"></i><i style="background:linear-gradient(90deg,#4c4c4c 0%,#4a4a4a 1.7%,#454545 3.7%,#474747 5%,#4c4c4c 5.8%,#545454 6.6%,#767676 9.5%,#7c7c7c 10.4%,#7f7f7f 11.2%,#888888 21.2%,#868686 28.6%,#7e7e7e 34%,#797979 36.1%,#717171 37.3%,#555555 40.7%,#505050 41.5%,#4c4c4c 42.3%,#424242 51%,#242424 62.7%,#151515 95%,#131313 100%)"></i><i style="background:linear-gradient(90deg,#4b4b4b 0%,#474747 3.3%,#4b4b4b 4.6%,#515151 5.4%,#595959 6.2%,#7b7b7b 9.1%,#808080 10%,#838383 10.8%,#8c8c8c 19.9%,#898989 26.1%,#868686 29.5%,#7a7a7a 34.9%,#737373 36.1%,#535353 40.2%,#4d4d4d 41.5%,#414141 50.2%,#232323 61.4%,#131313 95.4%,#121212 100%)"></i><i style="background:linear-gradient(90deg,#4a4a4a 0%,#494949 2.9%,#4e4e4e 4.1%,#595959 5.4%,#7f7f7f 8.7%,#878787 10%,#8f8f8f 17%,#909090 19.9%,#8a8a8a 27.4%,#7f7f7f 32.4%,#7b7b7b 33.6%,#757575 34.9%,#575757 39%,#4e4e4e 40.7%,#4b4b4b 41.9%,#414141 49%,#252525 58.5%,#222222 60.2%,#111111 100%)"></i><i style="background:linear-gradient(90deg,#494949 0%,#4a4a4a 2.1%,#4e4e4e 3.3%,#595959 4.6%,#808080 7.9%,#878787 8.7%,#8b8b8b 9.5%,#949494 16.2%,#959595 18.7%,#8c8c8c 26.6%,#858585 29.5%,#787878 33.2%,#555555 38.6%,#4d4d4d 40.2%,#414141 48.1%,#212121 58.5%,#101010 95%,#0f0f0f 100%)"></i><i style="background:linear-gradient(90deg,#484848 0%,#494949 1.7%,#4f4f4f 2.9%,#5c5c5c 4.1%,#848484 7.5%,#8e8e8e 8.7%,#939393 10.8%,#999999 15.8%,#999999 17.4%,#8f8f8f 25.3%,#8a8a8a 27.4%,#7a7a7a 32%,#565656 37.8%,#4e4e4e 39.4%,#414141 46.9%,#242424 55.6%,#202020 57.3%,#0e0e0e 100%)"></i><i style="background:linear-gradient(90deg,#484848 0%,#494949 1.2%,#505050 2.5%,#595959 3.3%,#848484 6.6%,#8c8c8c 7.5%,#939393 8.3%,#969696 9.1%,#999999 10.4%,#9e9e9e 14.5%,#9f9f9f 16.2%,#949494 23.7%,#8e8e8e 26.1%,#7a7a7a 31.1%,#4f4f4f 38.6%,#4a4a4a 40.2%,#414141 46.1%,#232323 54.4%,#1f1f1f 56%,#0d0d0d 100%)"></i><i style="background:linear-gradient(90deg,#494949 0%,#4a4a4a 1.2%,#4f4f4f 2.1%,#535353 2.5%,#767676 5%,#868686 6.2%,#939393 7.5%,#999999 8.3%,#9d9d9d 9.1%,#a0a0a0 10.4%,#a8a8a8 14.1%,#a9a9a9 15.8%,#a5a5a5 18.3%,#929292 25.7%,#7a7a7a 31.5%,#565656 37.3%,#4d4d4d 39%,#404040 45.6%,#232323 53.5%,#1e1e1e 55.2%,#0c0c0c 100%)"></i><i style="background:linear-gradient(90deg,#4a4a4a 0%,#4c4c4c 1.2%,#515151 2.1%,#5c5c5c 2.9%,#777777 4.6%,#888888 5.8%,#969696 7.1%,#a0a0a0 8.3%,#a6a6a6 9.5%,#ababab 11.2%,#b2b2b2 14.1%,#b3b3b3 15.4%,#b0b0b0 17%,#9b9b9b 23.7%,#808080 30.7%,#767676 32.8%,#565656 37.3%,#4d4d4d 39%,#404040 45.2%,#232323 52.7%,#1e1e1e 54.4%,#1b1b1b 57.3%,#0c0c0c 100%)"></i><i style="background:linear-gradient(90deg,#4b4b4b 0%,#4d4d4d 1.2%,#545454 2.1%,#5a5a5a 2.5%,#777777 4.1%,#848484 5%,#989898 6.6%,#a4a4a4 7.9%,#acacac 9.1%,#b1b1b1 10.4%,#bbbbbb 13.7%,#bdbdbd 14.9%,#b7b7b7 17%,#7e7e7e 31.5%,#757575 33.2%,#575757 37.3%,#4d4d4d 39%,#404040 44.8%,#222222 51.9%,#1d1d1d 53.5%,#1b1b1b 56%,#0b0b0b 100%)"></i><i style="background:linear-gradient(90deg,#4c4c4c 0%,#4e4e4e 1.2%,#565656 2.1%,#5d5d5d 2.5%,#7d7d7d 4.1%,#8a8a8a 5%,#9f9f9f 6.6%,#ababab 7.9%,#b3b3b3 9.1%,#bcbcbc 11.2%,#c4c4c4 13.3%,#c6c6c6 14.5%,#c2c2c2 16.2%,#a3a3a3 22.8%,#7c7c7c 32.4%,#727272 34%,#555555 37.8%,#4e4e4e 39%,#3e3e3e 44.8%,#222222 51%,#1c1c1c 52.7%,#1a1a1a 55.2%,#0b0b0b 100%)"></i><i style="background:linear-gradient(90deg,#4c4c4c 0%,#4e4e4e 0.8%,#535353 1.7%,#606060 2.5%,#7b7b7b 3.7%,#8b8b8b 4.6%,#9c9c9c 5.8%,#aeaeae 7.5%,#b8b8b8 8.7%,#c2c2c2 10.4%,#cdcdcd 12.9%,#d0d0d0 14.1%,#cecece 14.9%,#cbcbcb 15.8%,#a5a5a5 22.8%,#7c7c7c 32.8%,#757575 34%,#565656 37.8%,#4e4e4e 39%,#3d3d3d 44.4%,#202020 50.6%,#1b1b1b 52.3%,#191919 54.8%,#0a0a0a 100%)"></i><i style="background:linear-gradient(90deg,#4d4d4d 0%,#4f4f4f 0.8%,#545454 1.7%,#626262 2.5%,#7d7d7d 3.7%,#8d8d8d 4.6%,#9e9e9e 5.8%,#afafaf 7.5%,#bbbbbb 9.1%,#c8c8c8 11.6%,#cecece 13.3%,#cfcfcf 14.1%,#c9c9c9 15.8%,#a6a6a6 22.4%,#7e7e7e 32.8%,#737373 34.4%,#565656 37.8%,#4e4e4e 39%,#3d3d3d 44.4%,#212121 50.2%,#1b1b1b 51.9%,#191919 54.4%,#0a0a0a 100%)"></i><i style="background:linear-gradient(90deg,#4e4e4e 0%,#505050 0.8%,#555555 1.7%,#626262 2.5%,#7e7e7e 3.7%,#8e8e8e 4.6%,#9f9f9f 5.8%,#ababab 7.1%,#b8b8b8 8.7%,#c0c0c0 10.4%,#cacaca 12.9%,#cccccc 14.1%,#c8c8c8 15.4%,#a5a5a5 22.4%,#7e7e7e 32.8%,#747474 34.4%,#575757 37.8%,#4e4e4e 39%,#494949 40.2%,#3c3c3c 44.4%,#212121 50.2%,#1b1b1b 51.9%,#191919 54.4%,#0a0a0a 100%)"></i><i style="background:linear-gradient(90deg,#4f4f4f 0%,#515151 0.8%,#565656 1.7%,#636363 2.5%,#7f7f7f 3.7%,#8e8e8e 4.6%,#9f9f9f 5.8%,#ababab 7.1%,#b4b4b4 8.3%,#bbbbbb 9.5%,#c6c6c6 12.4%,#c8c8c8 13.7%,#c4c4c4 15.4%,#a5a5a5 22.4%,#7f7f7f 32.8%,#787878 34%,#575757 37.8%,#4c4c4c 39.4%,#3c3c3c 44.4%,#212121 50.2%,#1b1b1b 51.9%,#191919 54.4%,#0a0a0a 100%)"></i><i style="background:linear-gradient(90deg,#505050 0%,#525252 0.8%,#575757 1.7%,#646464 2.5%,#808080 3.7%,#8f8f8f 4.6%,#9b9b9b 5.4%,#a7a7a7 6.6%,#b1b1b1 7.9%,#b9b9b9 9.5%,#c4c4c4 12.4%,#c5c5c5 13.7%,#c0c0c0 15.4%,#a4a4a4 22.4%,#808080 32.8%,#757575 34.4%,#585858 37.8%,#4d4d4d 39.4%,#3b3b3b 44.4%,#212121 50.2%,#1b1b1b 51.9%,#191919 54.4%,#0a0a0a 100%)"></i><i style="background:linear-gradient(90deg,#515151 0%,#535353 0.8%,#585858 1.7%,#656565 2.5%,#818181 3.7%,#909090 4.6%,#9b9b9b 5.4%,#a7a7a7 6.6%,#b0b0b0 7.9%,#b8b8b8 9.5%,#c1c1c1 12.4%,#c1c1c1 13.7%,#bebebe 14.9%,#a4a4a4 22%,#818181 32.8%,#767676 34.4%,#555555 38.2%,#4d4d4d 39.4%,#3b3b3b 44.4%,#212121 50.2%,#1b1b1b 51.9%,#191919 54.4%,#0a0a0a 100%)"></i><i style="background:linear-gradient(90deg,#535353 0%,#545454 0.8%,#5a5a5a 1.7%,#676767 2.5%,#828282 3.7%,#919191 4.6%,#9c9c9c 5.4%,#a7a7a7 6.6%,#afafaf 7.9%,#b5b5b5 9.1%,#bdbdbd 12%,#bebebe 13.3%,#bbbbbb 14.9%,#a3a3a3 22%,#818181 32.8%,#777777 34.4%,#575757 38.2%,#4e4e4e 39.4%,#3b3b3b 44.4%,#202020 50.6%,#1b1b1b 52.3%,#191919 54.8%,#0a0a0a 100%)"></i><i style="background:linear-gradient(90deg,#585858 0%,#595959 0.8%,#5e5e5e 1.7%,#6b6b6b 2.5%,#848484 3.7%,#919191 4.6%,#9b9b9b 5.4%,#a6a6a6 6.6%,#aeaeae 7.9%,#b3b3b3 9.1%,#bbbbbb 12%,#bcbcbc 13.3%,#b8b8b8 14.9%,#808080 33.2%,#767676 34.9%,#575757 38.6%,#4f4f4f 39.8%,#3c3c3c 44.8%,#212121 51%,#1c1c1c 52.7%,#0a0a0a 100%)"></i><i style="background:linear-gradient(90deg,#5c5c5c 0%,#5e5e5e 0.8%,#636363 1.7%,#6e6e6e 2.5%,#858585 3.7%,#929292 4.6%,#9b9b9b 5.4%,#a5a5a5 6.6%,#adadad 7.9%,#b2b2b2 9.1%,#b8b8b8 11.6%,#b9b9b9 13.3%,#818181 33.2%,#787878 34.9%,#585858 39%,#505050 40.2%,#3d3d3d 45.2%,#212121 51.5%,#1c1c1c 53.1%,#0a0a0a 100%)"></i><i style="background:linear-gradient(90deg,#616161 0%,#626262 0.8%,#676767 1.7%,#727272 2.5%,#878787 3.7%,#929292 4.6%,#9b9b9b 5.4%,#a5a5a5 6.6%,#acacac 7.9%,#b0b0b0 9.1%,#b6b6b6 11.6%,#b6b6b6 12.9%,#a8a8a8 19.1%,#818181 33.6%,#777777 35.3%,#5b5b5b 39%,#515151 40.7%,#3e3e3e 45.6%,#222222 51.9%,#1d1d1d 53.5%,#0a0a0a 100%)"></i><i style="background:linear-gradient(90deg,#666666 0%,#676767 0.8%,#6b6b6b 1.7%,#707070 2.1%,#898989 3.7%,#939393 4.6%,#9e9e9e 5.8%,#a6a6a6 7.1%,#acacac 8.3%,#b0b0b0 10%,#b3b3b3 11.6%,#b4b4b4 12.9%,#a7a7a7 19.1%,#818181 33.6%,#797979 35.3%,#5c5c5c 39.4%,#525252 41.1%,#3e3e3e 46.1%,#232323 52.3%,#1e1e1e 53.9%,#0a0a0a 100%)"></i><i style="background:linear-gradient(90deg,#6b6b6b 0%,#6c6c6c 0.8%,#707070 1.7%,#797979 2.5%,#8f8f8f 4.1%,#9a9a9a 5.4%,#a5a5a5 7.1%,#aaaaaa 8.3%,#afafaf 10.4%,#b1b1b1 12.9%,#a7a7a7 18.7%,#818181 34%,#787878 35.7%,#5d5d5d 39.8%,#535353 41.5%,#414141 46.1%,#242424 52.7%,#1f1f1f 54.4%,#0b0b0b 95.4%,#0a0a0a 100%)"></i><i style="background:linear-gradient(90deg,#707070 0%,#717171 0.8%,#757575 1.7%,#7e7e7e 2.5%,#959595 4.1%,#9c9c9c 5%,#a7a7a7 6.6%,#acacac 7.9%,#afafaf 9.1%,#b2b2b2 11.2%,#b2b2b2 12.9%,#a7a7a7 19.1%,#818181 34%,#797979 35.7%,#545454 41.5%,#414141 46.5%,#252525 52.7%,#202020 54.4%,#1d1d1d 57.3%,#0a0a0a 100%)"></i><i style="background:linear-gradient(90deg,#757575 0%,#777777 0.8%,#7b7b7b 1.7%,#848484 2.5%,#9b9b9b 4.1%,#a2a2a2 5%,#a9a9a9 6.2%,#afafaf 7.5%,#b1b1b1 8.7%,#b4b4b4 11.2%,#b4b4b4 12.9%,#a6a6a6 19.9%,#818181 34%,#797979 35.7%,#545454 41.5%,#424242 46.5%,#252525 53.1%,#202020 54.8%,#0b0b0b 95%,#0a0a0a 100%)"></i><i style="background:linear-gradient(90deg,#7b7b7b 0%,#7c7c7c 0.8%,#808080 1.7%,#8a8a8a 2.5%,#a1a1a1 4.1%,#a8a8a8 5%,#adadad 5.8%,#b4b4b4 8.3%,#b6b6b6 10.8%,#b6b6b6 12.4%,#a7a7a7 20.3%,#818181 34%,#797979 35.7%,#545454 41.5%,#424242 46.9%,#252525 53.5%,#1f1f1f 55.2%,#0b0b0b 95.4%,#0a0a0a 100%)"></i><i style="background:linear-gradient(90deg,#818181 0%,#828282 0.8%,#868686 1.7%,#8f8f8f 2.5%,#a7a7a7 4.1%,#aeaeae 5%,#b2b2b2 5.8%,#b8b8b8 8.3%,#b8b8b8 12.4%,#a8a8a8 20.7%,#818181 34%,#797979 35.7%,#5c5c5c 40.2%,#535353 41.9%,#414141 47.3%,#242424 53.9%,#1f1f1f 55.6%,#0b0b0b 95.4%,#0a0a0a 100%)"></i><i style="background:linear-gradient(90deg,#868686 0%,#878787 0.8%,#8b8b8b 1.7%,#959595 2.5%,#adadad 4.1%,#b6b6b6 5.4%,#bababa 6.6%,#bcbcbc 8.3%,#bababa 12%,#a7a7a7 21.6%,#838383 33.6%,#797979 35.7%,#5c5c5c 40.2%,#535353 41.9%,#414141 47.7%,#262626 53.9%,#202020 55.6%,#1d1d1d 58.5%,#0b0b0b 95.9%,#0a0a0a 100%)"></i><i style="background:linear-gradient(90deg,#8c8c8c 0%,#8d8d8d 0.8%,#919191 1.7%,#9b9b9b 2.5%,#b3b3b3 4.1%,#b7b7b7 4.6%,#bcbcbc 5.4%,#c0c0c0 7.9%,#bebebe 10.8%,#a8a8a8 22%,#838383 33.6%,#797979 35.7%,#535353 41.9%,#404040 48.1%,#252525 54.4%,#202020 56%,#1d1d1d 59.3%,#0b0b0b 95.9%,#0a0a0a 100%)"></i><i style="background:linear-gradient(90deg,#a3a3a3 0%,#a3a3a3 0.8%,#a6a6a6 1.7%,#adadad 2.5%,#bfbfbf 4.1%,#c6c6c6 5.4%,#cacaca 7.5%,#c6c6c6 11.2%,#c1c1c1 13.7%,#848484 34%,#7c7c7c 35.7%,#5a5a5a 40.7%,#535353 41.9%,#414141 48.1%,#252525 54.4%,#202020 56%,#1d1d1d 58.9%,#0b0b0b 95.9%,#0a0a0a 100%)"></i><i style="background:linear-gradient(90deg,#b3b3b3 0%,#b3b3b3 1.2%,#b6b6b6 2.1%,#c9c9c9 4.6%,#cfcfcf 6.2%,#d0d0d0 8.3%,#cbcbcb 12%,#adadad 20.3%,#868686 34%,#7e7e7e 35.7%,#5b5b5b 40.7%,#535353 41.9%,#414141 48.1%,#242424 54.8%,#1f1f1f 56.4%,#0b0b0b 95.4%,#0a0a0a 100%)"></i><i style="background:linear-gradient(90deg,#b3b3b3 0%,#b3b3b3 1.2%,#b6b6b6 2.1%,#c9c9c9 4.6%,#cfcfcf 6.2%,#d0d0d0 8.3%,#cbcbcb 12%,#adadad 20.3%,#868686 34%,#7e7e7e 35.7%,#5b5b5b 40.7%,#535353 41.9%,#414141 48.1%,#242424 54.8%,#1f1f1f 56.4%,#0b0b0b 95.4%,#0a0a0a 100%)"></i></div></div><div class="hc" style="left:391px;top:17px;width:115px;height:89px"><div class="hm" style="width:121px;height:95px"><i style="background:linear-gradient(90deg,#4d4d4d 0%,#4e4e4e 2.9%,#575757 8.3%,#555555 18.7%,#7e7e7e 39%,#878787 49.4%,#909090 53.1%,#919191 54.4%,#8c8c8c 62.7%,#828282 68.9%,#838383 70.1%,#8a8a8a 72.6%,#8a8a8a 73.4%,#858585 74.7%,#676767 78.4%,#565656 80.9%,#4b4b4b 83%,#414141 87.1%,#3d3d3d 89.2%,#383838 100%)"></i><i style="background:linear-gradient(90deg,#4d4d4d 0%,#4e4e4e 2.9%,#575757 8.3%,#555555 18.7%,#7e7e7e 39%,#878787 49.4%,#909090 53.1%,#919191 54.4%,#8c8c8c 62.7%,#828282 68.9%,#838383 70.1%,#8a8a8a 72.6%,#8a8a8a 73.4%,#858585 74.7%,#676767 78.4%,#565656 80.9%,#4b4b4b 83%,#414141 87.1%,#3d3d3d 89.2%,#383838 100%)"></i><i style="background:linear-gradient(90deg,#494949 0%,#4a4a4a 2.9%,#545454 8.3%,#555555 18.7%,#7d7d7d 38.6%,#8a8a8a 49.4%,#949494 53.1%,#949494 54.4%,#8e8e8e 62.7%,#828282 68.9%,#838383 70.1%,#8a8a8a 72.6%,#8a8a8a 73.4%,#858585 74.7%,#676767 78.4%,#565656 80.9%,#4b4b4b 83%,#414141 87.1%,#3d3d3d 89.2%,#363636 100%)"></i><i style="background:linear-gradient(90deg,#454545 0%,#464646 2.9%,#505050 8.7%,#545454 19.1%,#7c7c7c 39.4%,#8a8a8a 49.4%,#959595 53.1%,#969696 54.4%,#8f8f8f 62.7%,#838383 68.9%,#848484 70.1%,#8b8b8b 72.6%,#8a8a8a 73.4%,#848484 74.7%,#6a6a6a 78%,#585858 80.5%,#505050 81.7%,#4b4b4b 83%,#3d3d3d 89.2%,#363636 97.1%,#353535 100%)"></i><i style="background:linear-gradient(90deg,#3f3f3f 0%,#404040 2.9%,#4a4a4a 9.5%,#505050 17.8%,#535353 20.3%,#636363 29.9%,#7a7a7a 40.7%,#888888 49.4%,#949494 53.1%,#969696 55.2%,#919191 62.7%,#848484 68.5%,#858585 69.7%,#8b8b8b 72.2%,#8b8b8b 73%,#858585 74.3%,#6b6b6b 77.6%,#575757 80.5%,#505050 81.7%,#4b4b4b 83%,#3d3d3d 89.2%,#353535 97.1%,#343434 100%)"></i><i style="background:linear-gradient(90deg,#393939 0%,#3b3b3b 3.7%,#5d5d5d 30.3%,#767676 41.1%,#868686 49.4%,#959595 53.5%,#979797 56%,#929292 62.7%,#858585 68.5%,#868686 69.7%,#8b8b8b 71.8%,#8b8b8b 72.6%,#868686 73.9%,#6c6c6c 77.2%,#5e5e5e 79.3%,#525252 81.3%,#4b4b4b 83%,#3d3d3d 89.2%,#353535 97.1%,#343434 100%)"></i><i style="background:linear-gradient(90deg,#333333 0%,#353535 4.1%,#3f3f3f 11.6%,#4a4a4a 18.7%,#585858 31.1%,#727272 41.5%,#838383 49.4%,#969696 53.9%,#989898 56.4%,#949494 62.7%,#878787 68%,#878787 69.3%,#8b8b8b 71.4%,#8b8b8b 72.6%,#848484 73.9%,#707070 76.3%,#656565 78%,#525252 81.3%,#4b4b4b 83%,#3d3d3d 89.2%,#343434 97.1%,#333333 100%)"></i><i style="background:linear-gradient(90deg,#333333 0%,#343434 3.3%,#3c3c3c 11.2%,#4a4a4a 19.9%,#575757 32%,#838383 49.4%,#979797 53.9%,#9b9b9b 56.8%,#969696 62.7%,#898989 68.5%,#8c8c8c 71.8%,#8b8b8b 73%,#848484 74.3%,#707070 76.8%,#656565 78.4%,#515151 81.7%,#4b4b4b 83.4%,#3c3c3c 89.6%,#343434 97.1%,#333333 100%)"></i><i style="background:linear-gradient(90deg,#323232 0%,#333333 3.3%,#3c3c3c 12.4%,#4a4a4a 20.7%,#565656 32.8%,#838383 49%,#878787 50.2%,#949494 52.7%,#999999 53.9%,#9c9c9c 55.6%,#9d9d9d 57.3%,#9a9a9a 62.7%,#8a8a8a 68.9%,#8d8d8d 72.2%,#8b8b8b 73.4%,#858585 74.7%,#6e6e6e 77.6%,#636363 79.3%,#525252 82.2%,#4b4b4b 83.8%,#3d3d3d 89.6%,#343434 97.1%,#333333 100%)"></i><i style="background:linear-gradient(90deg,#313131 0%,#323232 3.3%,#3c3c3c 13.7%,#4a4a4a 22%,#565656 33.6%,#838383 49%,#888888 50.2%,#969696 52.7%,#9b9b9b 53.9%,#9f9f9f 55.6%,#a0a0a0 57.3%,#9c9c9c 63.1%,#8c8c8c 69.3%,#8d8d8d 72.6%,#8c8c8c 73.9%,#868686 75.1%,#6f6f6f 78%,#636363 79.7%,#525252 82.6%,#4b4b4b 84.2%,#3d3d3d 90%,#343434 97.1%,#333333 100%)"></i><i style="background:linear-gradient(90deg,#313131 0%,#323232 3.3%,#3c3c3c 14.5%,#4a4a4a 22.8%,#555555 34.4%,#6e6e6e 42.7%,#828282 48.5%,#888888 50.2%,#979797 52.7%,#9d9d9d 53.9%,#a1a1a1 56%,#a2a2a2 57.7%,#9f9f9f 63.1%,#8e8e8e 69.7%,#8d8d8d 74.3%,#878787 75.5%,#6d6d6d 78.8%,#616161 80.5%,#525252 83%,#4b4b4b 84.6%,#3d3d3d 90.5%,#343434 97.1%,#333333 100%)"></i><i style="background:linear-gradient(90deg,#303030 0%,#323232 3.7%,#3b3b3b 15.4%,#4a4a4a 24.1%,#555555 35.3%,#6a6a6a 42.3%,#767676 45.6%,#878787 49.8%,#999999 52.7%,#9f9f9f 53.9%,#a4a4a4 56%,#a5a5a5 57.7%,#a3a3a3 62.7%,#909090 69.7%,#8d8d8d 74.7%,#8a8a8a 75.5%,#858585 76.3%,#6d6d6d 79.3%,#5d5d5d 81.7%,#505050 83.8%,#4b4b4b 85.1%,#3c3c3c 90.9%,#343434 97.1%,#333333 100%)"></i><i style="background:linear-gradient(90deg,#303030 0%,#313131 3.7%,#3b3b3b 16.2%,#4a4a4a 24.9%,#545454 36.1%,#656565 41.5%,#727272 45.2%,#878787 49.8%,#9a9a9a 52.7%,#a1a1a1 53.9%,#a6a6a6 56%,#a8a8a8 57.7%,#a5a5a5 63.1%,#929292 70.1%,#8e8e8e 75.1%,#8b8b8b 75.9%,#868686 76.8%,#6b6b6b 80.1%,#5a5a5a 82.6%,#505050 84.2%,#4b4b4b 85.5%,#3c3c3c 91.3%,#343434 97.1%,#333333 100%)"></i><i style="background:linear-gradient(90deg,#2f2f2f 0%,#303030 3.7%,#3a3a3a 17%,#4a4a4a 26.1%,#545454 36.9%,#5b5b5b 39.4%,#707070 45.2%,#888888 49.8%,#9c9c9c 52.7%,#a2a2a2 53.9%,#a9a9a9 56%,#aaaaaa 58.1%,#a8a8a8 63.1%,#959595 70.1%,#8e8e8e 75.5%,#878787 77.2%,#6c6c6c 80.5%,#585858 83.4%,#4b4b4b 85.9%,#3c3c3c 91.7%,#343434 97.1%,#333333 100%)"></i><i style="background:linear-gradient(90deg,#2f2f2f 0%,#303030 3.7%,#3a3a3a 18.3%,#4a4a4a 27%,#525252 36.5%,#545454 38.2%,#676767 43.6%,#707070 45.6%,#868686 49.4%,#9d9d9d 52.7%,#a4a4a4 53.9%,#ababab 56%,#adadad 58.1%,#ababab 63.1%,#969696 70.5%,#8e8e8e 76.3%,#878787 77.6%,#6a6a6a 81.3%,#585858 83.8%,#515151 85.1%,#4b4b4b 86.3%,#3c3c3c 91.7%,#353535 97.1%,#333333 100%)"></i><i style="background:linear-gradient(90deg,#2e2e2e 0%,#2f2f2f 3.7%,#3a3a3a 19.1%,#4a4a4a 28.2%,#515151 37.3%,#545454 39%,#626262 43.2%,#6d6d6d 45.6%,#808080 48.5%,#9e9e9e 52.7%,#a6a6a6 53.9%,#aeaeae 56.4%,#b0b0b0 58.5%,#afafaf 61.8%,#aeaeae 63.5%,#989898 71%,#8e8e8e 76.8%,#858585 78.4%,#6b6b6b 81.7%,#595959 84.2%,#515151 85.5%,#4b4b4b 86.7%,#3c3c3c 92.1%,#343434 97.5%,#333333 100%)"></i><i style="background:linear-gradient(90deg,#2e2e2e 0%,#2f2f2f 3.7%,#393939 19.9%,#494949 29%,#525252 39.4%,#5b5b5b 41.9%,#6d6d6d 46.1%,#7b7b7b 48.1%,#a0a0a0 52.7%,#a8a8a8 53.9%,#b1b1b1 56.4%,#b3b3b3 58.9%,#b2b2b2 61.8%,#b1b1b1 63.5%,#9a9a9a 71.4%,#8f8f8f 77.2%,#868686 78.8%,#6b6b6b 82.2%,#565656 85.1%,#4b4b4b 87.1%,#3c3c3c 92.5%,#343434 97.5%,#333333 100%)"></i><i style="background:linear-gradient(90deg,#2d2d2d 0%,#2e2e2e 3.7%,#383838 20.3%,#494949 29.5%,#525252 39.8%,#5b5b5b 42.3%,#6b6b6b 46.1%,#777777 47.7%,#a1a1a1 52.7%,#a9a9a9 53.9%,#b2b2b2 56.4%,#b4b4b4 58.9%,#b4b4b4 61.8%,#b2b2b2 63.5%,#9c9c9c 71.4%,#909090 76.8%,#888888 78.4%,#616161 83.4%,#535353 85.5%,#4c4c4c 86.7%,#3d3d3d 92.1%,#353535 97.1%,#333333 100%)"></i><i style="background:linear-gradient(90deg,#2c2c2c 0%,#2d2d2d 3.7%,#373737 21.2%,#494949 30.3%,#525252 40.2%,#626262 44.4%,#6d6d6d 46.5%,#7a7a7a 48.1%,#a1a1a1 52.7%,#aaaaaa 53.9%,#b4b4b4 56.4%,#b6b6b6 58.9%,#b6b6b6 61.8%,#b4b4b4 63.5%,#9d9d9d 71.4%,#909090 76.8%,#888888 78.4%,#5e5e5e 83.8%,#525252 85.5%,#4c4c4c 86.7%,#3c3c3c 92.1%,#343434 97.5%,#333333 100%)"></i><i style="background:linear-gradient(90deg,#2b2b2b 0%,#2c2c2c 3.7%,#363636 22%,#494949 30.7%,#505050 39%,#535353 40.7%,#616161 44.4%,#6c6c6c 46.5%,#757575 47.7%,#a2a2a2 52.7%,#adadad 54.4%,#b5b5b5 56.4%,#b7b7b7 58.9%,#b7b7b7 61.8%,#b5b5b5 63.5%,#909090 76.8%,#878787 78.4%,#696969 82.2%,#545454 85.1%,#4d4d4d 86.3%,#484848 87.6%,#3c3c3c 92.5%,#343434 97.5%,#333333 100%)"></i><i style="background:linear-gradient(90deg,#2a2a2a 0%,#2a2a2a 3.7%,#353535 22.4%,#383838 24.1%,#494949 31.1%,#525252 40.7%,#5e5e5e 44%,#6a6a6a 46.5%,#747474 47.7%,#a2a2a2 52.7%,#aeaeae 54.4%,#b6b6b6 56.4%,#b9b9b9 58.9%,#b9b9b9 62.2%,#b6b6b6 63.9%,#909090 76.8%,#878787 78.4%,#6c6c6c 81.7%,#565656 84.6%,#4f4f4f 85.9%,#484848 87.6%,#3b3b3b 92.5%,#343434 97.5%,#333333 100%)"></i><i style="background:linear-gradient(90deg,#292929 0%,#292929 3.7%,#343434 23.2%,#373737 24.9%,#484848 31.5%,#525252 41.1%,#606060 44.8%,#6c6c6c 46.9%,#777777 48.1%,#9f9f9f 52.3%,#afafaf 54.4%,#b8b8b8 56.4%,#bababa 58.5%,#bababa 62.2%,#b8b8b8 63.9%,#a2a2a2 71.4%,#929292 76.3%,#898989 78%,#6b6b6b 81.7%,#565656 84.6%,#4e4e4e 85.9%,#494949 87.1%,#3c3c3c 92.1%,#343434 97.5%,#333333 100%)"></i><i style="background:linear-gradient(90deg,#282828 0%,#282828 3.7%,#333333 23.7%,#373737 25.7%,#484848 32%,#4f4f4f 39.8%,#525252 41.5%,#616161 45.2%,#6b6b6b 46.9%,#767676 48.1%,#a0a0a0 52.3%,#b0b0b0 54.4%,#b9b9b9 56.4%,#bcbcbc 58.5%,#bcbcbc 62.2%,#b9b9b9 63.9%,#a5a5a5 71%,#949494 75.9%,#888888 78%,#6a6a6a 81.7%,#555555 84.6%,#4e4e4e 85.9%,#494949 87.1%,#3c3c3c 92.1%,#343434 97.5%,#333333 100%)"></i><i style="background:linear-gradient(90deg,#272727 0%,#282828 4.1%,#323232 24.5%,#353535 26.1%,#474747 32.4%,#515151 41.5%,#5e5e5e 44.8%,#696969 46.9%,#757575 48.1%,#a0a0a0 52.3%,#b1b1b1 54.4%,#bbbbbb 56.4%,#bebebe 58.5%,#bdbdbd 62.2%,#bbbbbb 63.9%,#a7a7a7 71%,#979797 75.1%,#8b8b8b 77.6%,#696969 81.7%,#545454 84.6%,#4d4d4d 85.9%,#494949 87.1%,#3c3c3c 92.1%,#343434 97.5%,#333333 100%)"></i><i style="background:linear-gradient(90deg,#262626 0%,#262626 3.7%,#313131 24.9%,#353535 27%,#484848 33.2%,#515151 41.9%,#5d5d5d 44.8%,#686868 46.9%,#737373 48.1%,#a1a1a1 52.3%,#b2b2b2 54.4%,#bcbcbc 56.4%,#bfbfbf 58.5%,#bfbfbf 61.8%,#bdbdbd 63.5%,#ababab 70.1%,#a3a3a3 72.6%,#949494 75.9%,#8d8d8d 77.2%,#5a5a5a 83.8%,#4f4f4f 85.5%,#4a4a4a 86.7%,#3c3c3c 91.7%,#343434 97.1%,#333333 100%)"></i><i style="background:linear-gradient(90deg,#252525 0%,#252525 4.1%,#303030 25.7%,#333333 27.4%,#474747 33.6%,#4e4e4e 40.7%,#515151 42.3%,#5f5f5f 45.6%,#6a6a6a 47.3%,#727272 48.1%,#a1a1a1 52.3%,#b3b3b3 54.4%,#bebebe 56.4%,#c1c1c1 58.5%,#c1c1c1 61.8%,#bfbfbf 63.5%,#adadad 70.1%,#a6a6a6 72.2%,#8f8f8f 76.8%,#595959 83.8%,#4e4e4e 85.5%,#494949 86.7%,#3c3c3c 91.7%,#343434 97.1%,#333333 100%)"></i><i style="background:linear-gradient(90deg,#242424 0%,#2f2f2f 26.1%,#333333 28.2%,#474747 34%,#505050 42.3%,#5c5c5c 45.2%,#696969 47.3%,#717171 48.1%,#9d9d9d 51.9%,#aaaaaa 53.1%,#b4b4b4 54.4%,#bfbfbf 56.4%,#c2c2c2 58.5%,#c2c2c2 61.8%,#c1c1c1 63.5%,#b0b0b0 69.7%,#a9a9a9 71.8%,#8f8f8f 76.8%,#585858 83.8%,#4e4e4e 85.5%,#494949 86.7%,#3c3c3c 91.7%,#343434 97.1%,#333333 100%)"></i><i style="background:linear-gradient(90deg,#232323 0%,#2e2e2e 27%,#323232 28.6%,#474747 34.4%,#505050 42.7%,#5d5d5d 45.6%,#676767 47.3%,#747474 48.5%,#8f8f8f 50.6%,#9e9e9e 51.9%,#ababab 53.1%,#b5b5b5 54.4%,#c1c1c1 56.4%,#c4c4c4 58.5%,#c4c4c4 61.8%,#c2c2c2 63.5%,#b2b2b2 69.7%,#ababab 71.8%,#919191 76.3%,#5a5a5a 83.4%,#505050 85.1%,#4a4a4a 86.3%,#3d3d3d 91.3%,#343434 97.1%,#333333 100%)"></i><i style="background:linear-gradient(90deg,#222222 0%,#2e2e2e 27%,#313131 28.6%,#424242 33.2%,#474747 34.9%,#505050 42.7%,#5c5c5c 45.6%,#676767 47.3%,#6f6f6f 48.1%,#8f8f8f 50.6%,#9e9e9e 51.9%,#aaaaaa 53.1%,#b5b5b5 54.4%,#c0c0c0 56.4%,#c4c4c4 58.5%,#c4c4c4 61.8%,#c2c2c2 63.5%,#b2b2b2 69.7%,#aaaaaa 71.8%,#919191 76.3%,#5a5a5a 83.4%,#505050 85.1%,#4a4a4a 86.3%,#3d3d3d 91.3%,#343434 97.1%,#333333 100%)"></i><i style="background:linear-gradient(90deg,#222222 0%,#2e2e2e 27%,#323232 29%,#474747 34.9%,#505050 42.7%,#5c5c5c 45.6%,#676767 47.3%,#6f6f6f 48.1%,#8f8f8f 50.6%,#9d9d9d 51.9%,#aaaaaa 53.1%,#b4b4b4 54.4%,#c0c0c0 56.4%,#c3c3c3 58.5%,#c3c3c3 61.8%,#c1c1c1 63.5%,#b1b1b1 69.7%,#a9a9a9 71.8%,#919191 76.3%,#5a5a5a 83.4%,#505050 85.1%,#4a4a4a 86.3%,#3d3d3d 91.3%,#343434 97.1%,#333333 100%)"></i><i style="background:linear-gradient(90deg,#222222 0%,#2e2e2e 27%,#323232 29%,#474747 34.9%,#505050 42.7%,#5c5c5c 45.6%,#676767 47.3%,#6f6f6f 48.1%,#8f8f8f 50.6%,#9d9d9d 51.9%,#aaaaaa 53.1%,#b4b4b4 54.4%,#bfbfbf 56.4%,#c2c2c2 58.5%,#c2c2c2 61.8%,#c0c0c0 63.5%,#b0b0b0 69.7%,#a9a9a9 71.8%,#8e8e8e 76.8%,#5a5a5a 83.4%,#505050 85.1%,#4a4a4a 86.3%,#3d3d3d 91.3%,#343434 97.1%,#333333 100%)"></i><i style="background:linear-gradient(90deg,#222222 0%,#2e2e2e 27%,#323232 29%,#474747 34.9%,#505050 42.7%,#5c5c5c 45.6%,#676767 47.3%,#6f6f6f 48.1%,#999999 51.5%,#a6a6a6 52.7%,#b0b0b0 53.9%,#b9b9b9 55.2%,#bebebe 56.4%,#c2c2c2 58.5%,#c1c1c1 61.8%,#c0c0c0 63.5%,#afafaf 69.7%,#a8a8a8 71.8%,#8e8e8e 76.8%,#5a5a5a 83.4%,#505050 85.1%,#4a4a4a 86.3%,#3d3d3d 91.3%,#343434 97.1%,#333333 100%)"></i><i style="background:linear-gradient(90deg,#222222 0%,#2e2e2e 27%,#323232 29%,#464646 34.9%,#505050 42.7%,#5c5c5c 45.6%,#676767 47.3%,#6f6f6f 48.1%,#989898 51.5%,#a5a5a5 52.7%,#b0b0b0 53.9%,#b8b8b8 55.2%,#bebebe 56.4%,#c1c1c1 58.5%,#c1c1c1 61.8%,#bfbfbf 63.5%,#adadad 70.1%,#a5a5a5 72.2%,#8e8e8e 76.8%,#5a5a5a 83.4%,#505050 85.1%,#4a4a4a 86.3%,#3d3d3d 91.3%,#343434 97.1%,#333333 100%)"></i><i style="background:linear-gradient(90deg,#222222 0%,#2e2e2e 27%,#323232 29%,#474747 35.3%,#505050 42.7%,#5c5c5c 45.6%,#676767 47.3%,#6f6f6f 48.1%,#989898 51.5%,#a5a5a5 52.7%,#b0b0b0 53.9%,#b7b7b7 55.2%,#bdbdbd 56.4%,#c0c0c0 58.5%,#c0c0c0 61.8%,#bebebe 63.5%,#acacac 70.1%,#a4a4a4 72.2%,#8e8e8e 76.8%,#5a5a5a 83.4%,#505050 85.1%,#4a4a4a 86.3%,#3d3d3d 91.3%,#343434 97.1%,#333333 100%)"></i><i style="background:linear-gradient(90deg,#222222 0%,#2e2e2e 27%,#323232 29%,#474747 35.3%,#505050 42.7%,#5c5c5c 45.6%,#676767 47.3%,#6f6f6f 48.1%,#989898 51.5%,#a5a5a5 52.7%,#afafaf 53.9%,#b7b7b7 55.2%,#bdbdbd 56.4%,#bfbfbf 58.5%,#bfbfbf 61.8%,#bebebe 63.5%,#acacac 69.7%,#a4a4a4 72.2%,#8e8e8e 76.8%,#575757 83.8%,#4d4d4d 85.5%,#494949 86.7%,#3c3c3c 91.7%,#343434 97.1%,#333333 100%)"></i><i style="background:linear-gradient(90deg,#222222 0%,#2e2e2e 27%,#323232 29%,#474747 35.3%,#505050 42.7%,#5c5c5c 45.6%,#676767 47.3%,#6f6f6f 48.1%,#989898 51.5%,#a5a5a5 52.7%,#afafaf 53.9%,#b6b6b6 55.2%,#bcbcbc 56.4%,#bfbfbf 58.5%,#bfbfbf 61.8%,#bdbdbd 63.5%,#aaaaaa 70.1%,#a1a1a1 72.6%,#8e8e8e 76.8%,#575757 83.8%,#4d4d4d 85.5%,#494949 86.7%,#3c3c3c 91.7%,#343434 97.1%,#333333 100%)"></i><i style="background:linear-gradient(90deg,#222222 0%,#2e2e2e 27%,#323232 29%,#464646 35.3%,#505050 42.7%,#5c5c5c 45.6%,#676767 47.3%,#6f6f6f 48.1%,#8a8a8a 50.2%,#989898 51.5%,#a4a4a4 52.7%,#aeaeae 53.9%,#b6b6b6 55.2%,#bbbbbb 56.4%,#bebebe 58.5%,#bebebe 62.2%,#bbbbbb 63.9%,#a8a8a8 70.5%,#9d9d9d 73.4%,#8e8e8e 76.8%,#575757 83.8%,#4d4d4d 85.5%,#494949 86.7%,#3c3c3c 91.7%,#343434 97.1%,#333333 100%)"></i><i style="background:linear-gradient(90deg,#222222 0%,#2e2e2e 27%,#323232 29%,#464646 35.3%,#505050 42.7%,#5c5c5c 45.6%,#676767 47.3%,#6f6f6f 48.1%,#8a8a8a 50.2%,#989898 51.5%,#a4a4a4 52.7%,#aeaeae 53.9%,#b5b5b5 55.2%,#bbbbbb 56.4%,#bdbdbd 58.5%,#bdbdbd 62.2%,#bababa 63.9%,#a6a6a6 71%,#969696 75.1%,#8b8b8b 77.2%,#6a6a6a 81.3%,#555555 84.2%,#4d4d4d 85.5%,#494949 86.7%,#3c3c3c 91.7%,#343434 97.1%,#333333 100%)"></i><i style="background:linear-gradient(90deg,#222222 0%,#232323 4.1%,#2e2e2e 27.4%,#323232 29%,#464646 35.3%,#505050 42.7%,#5c5c5c 45.6%,#676767 47.3%,#6f6f6f 48.1%,#898989 50.2%,#989898 51.5%,#a4a4a4 52.7%,#aeaeae 53.9%,#b5b5b5 55.2%,#bababa 56.4%,#bdbdbd 58.5%,#bcbcbc 62.2%,#bababa 63.9%,#a5a5a5 71%,#959595 75.1%,#8b8b8b 77.2%,#6a6a6a 81.3%,#555555 84.2%,#4d4d4d 85.5%,#494949 86.7%,#3c3c3c 91.7%,#343434 97.1%,#333333 100%)"></i><i style="background:linear-gradient(90deg,#222222 0%,#232323 4.1%,#2e2e2e 27.4%,#323232 29%,#464646 35.3%,#505050 42.7%,#5c5c5c 45.6%,#676767 47.3%,#6f6f6f 48.1%,#898989 50.2%,#989898 51.5%,#a4a4a4 52.7%,#aeaeae 53.9%,#b5b5b5 55.2%,#bababa 56.4%,#bdbdbd 58.5%,#bcbcbc 62.2%,#bababa 63.9%,#a5a5a5 71%,#959595 75.1%,#8b8b8b 77.2%,#6a6a6a 81.3%,#555555 84.2%,#4d4d4d 85.5%,#494949 86.7%,#3c3c3c 91.7%,#343434 97.1%,#333333 100%)"></i><i style="background:linear-gradient(90deg,#222222 0%,#232323 4.1%,#2e2e2e 27.4%,#323232 29%,#464646 35.3%,#505050 42.7%,#5c5c5c 45.6%,#676767 47.3%,#6f6f6f 48.1%,#898989 50.2%,#989898 51.5%,#a4a4a4 52.7%,#aeaeae 53.9%,#b5b5b5 55.2%,#bababa 56.4%,#bdbdbd 58.5%,#bcbcbc 62.2%,#bababa 63.9%,#a5a5a5 71%,#959595 75.1%,#8b8b8b 77.2%,#6a6a6a 81.3%,#555555 84.2%,#4d4d4d 85.5%,#494949 86.7%,#3c3c3c 91.7%,#343434 97.1%,#333333 100%)"></i><i style="background:linear-gradient(90deg,#222222 0%,#232323 4.1%,#2e2e2e 27.4%,#323232 29%,#464646 35.3%,#505050 42.7%,#5c5c5c 45.6%,#676767 47.3%,#6f6f6f 48.1%,#898989 50.2%,#989898 51.5%,#a4a4a4 52.7%,#aeaeae 53.9%,#b5b5b5 55.2%,#bababa 56.4%,#bdbdbd 58.5%,#bcbcbc 62.2%,#bababa 63.9%,#a5a5a5 71%,#959595 75.1%,#8b8b8b 77.2%,#6a6a6a 81.3%,#555555 84.2%,#4d4d4d 85.5%,#494949 86.7%,#3c3c3c 91.7%,#343434 97.1%,#333333 100%)"></i><i style="background:linear-gradient(90deg,#222222 0%,#232323 4.1%,#2e2e2e 27.4%,#323232 29%,#464646 35.3%,#505050 42.7%,#5c5c5c 45.6%,#676767 47.3%,#6f6f6f 48.1%,#898989 50.2%,#989898 51.5%,#a4a4a4 52.7%,#aeaeae 53.9%,#b5b5b5 55.2%,#bababa 56.4%,#bdbdbd 58.5%,#bcbcbc 62.2%,#bababa 63.9%,#a5a5a5 71%,#959595 75.1%,#8b8b8b 77.2%,#6a6a6a 81.3%,#555555 84.2%,#4d4d4d 85.5%,#494949 86.7%,#3c3c3c 91.7%,#343434 97.1%,#333333 100%)"></i><i style="background:linear-gradient(90deg,#222222 0%,#232323 4.1%,#2e2e2e 27.4%,#323232 29%,#464646 35.3%,#505050 42.7%,#5c5c5c 45.6%,#676767 47.3%,#6f6f6f 48.1%,#898989 50.2%,#989898 51.5%,#a4a4a4 52.7%,#aeaeae 53.9%,#b5b5b5 55.2%,#bababa 56.4%,#bdbdbd 58.5%,#bcbcbc 62.2%,#bababa 63.9%,#a5a5a5 71%,#959595 75.1%,#8b8b8b 77.2%,#6a6a6a 81.3%,#555555 84.2%,#4d4d4d 85.5%,#494949 86.7%,#3c3c3c 91.7%,#343434 97.1%,#333333 100%)"></i><i style="background:linear-gradient(90deg,#222222 0%,#232323 4.1%,#2e2e2e 27.4%,#323232 29%,#464646 35.3%,#505050 42.7%,#5c5c5c 45.6%,#676767 47.3%,#6f6f6f 48.1%,#898989 50.2%,#989898 51.5%,#a4a4a4 52.7%,#aeaeae 53.9%,#b5b5b5 55.2%,#bababa 56.4%,#bdbdbd 58.5%,#bcbcbc 62.2%,#bababa 63.9%,#a5a5a5 71%,#959595 75.1%,#8b8b8b 77.2%,#6a6a6a 81.3%,#555555 84.2%,#4d4d4d 85.5%,#494949 86.7%,#3c3c3c 91.7%,#343434 97.1%,#333333 100%)"></i><i style="background:linear-gradient(90deg,#303030 0%,#313131 4.1%,#3c3c3c 26.1%,#585858 41.5%,#616161 44%,#6f6f6f 46.9%,#797979 48.1%,#9b9b9b 51.5%,#a6a6a6 52.7%,#afafaf 53.9%,#b9b9b9 56.4%,#bbbbbb 59.3%,#bababa 62.2%,#b8b8b8 63.9%,#a2a2a2 71.4%,#919191 75.9%,#888888 77.6%,#6a6a6a 81.3%,#555555 84.2%,#4d4d4d 85.5%,#494949 86.7%,#3c3c3c 91.7%,#343434 97.1%,#333333 100%)"></i><i style="background:linear-gradient(90deg,#474747 0%,#484848 3.7%,#525252 23.2%,#525252 32.8%,#535353 34.4%,#696969 41.1%,#7e7e7e 46.5%,#858585 47.7%,#a7a7a7 52.3%,#b0b0b0 53.9%,#b7b7b7 56.8%,#b8b8b8 61.4%,#b6b6b6 63.1%,#b4b4b4 64.3%,#8f8f8f 76.3%,#888888 77.6%,#6a6a6a 81.3%,#575757 83.8%,#505050 85.1%,#4a4a4a 86.3%,#3d3d3d 91.3%,#343434 97.1%,#333333 100%)"></i><i style="background:linear-gradient(90deg,#474747 0%,#484848 3.7%,#525252 23.2%,#525252 32.8%,#535353 34.4%,#696969 41.1%,#7e7e7e 46.5%,#858585 47.7%,#a7a7a7 52.3%,#b0b0b0 53.9%,#b7b7b7 56.8%,#b8b8b8 61.4%,#b6b6b6 63.1%,#b4b4b4 64.3%,#8f8f8f 76.3%,#888888 77.6%,#6a6a6a 81.3%,#575757 83.8%,#505050 85.1%,#4a4a4a 86.3%,#3d3d3d 91.3%,#343434 97.1%,#333333 100%)"></i></div></div><div class="hc" style="left:28px;top:147px;width:115px;height:89px"><div class="hm" style="width:121px;height:95px"><i style="background:linear-gradient(90deg,#0f0f0f 0%,#0b0b0b 21.6%,#0a0a0a 40.2%,#0d0d0d 58.9%,#121212 63.1%,#181818 65.6%,#1d1d1d 66.8%,#242424 68%,#313131 69.3%,#414141 70.5%,#505050 71.4%,#6b6b6b 72.6%,#b4b4b4 75.5%,#c8c8c8 76.3%,#d9d9d9 77.2%,#e7e7e7 78%,#f2f2f2 78.8%,#f9f9f9 79.7%,#fdfdfd 80.5%,#ffffff 81.7%,#fefefe 83%,#f9f9f9 83.8%,#f2f2f2 84.6%,#e6e6e6 85.5%,#d8d8d8 86.3%,#c6c6c6 87.1%,#808080 90%,#656565 91.3%,#4f4f4f 92.5%,#434343 93.4%,#373737 94.6%,#303030 95.9%,#2b2b2b 97.5%,#292929 100%)"></i><i style="background:linear-gradient(90deg,#0f0f0f 0%,#0b0b0b 21.6%,#0a0a0a 40.2%,#0d0d0d 58.9%,#121212 63.1%,#181818 65.6%,#1d1d1d 66.8%,#242424 68%,#313131 69.3%,#414141 70.5%,#505050 71.4%,#6b6b6b 72.6%,#b4b4b4 75.5%,#c8c8c8 76.3%,#d9d9d9 77.2%,#e7e7e7 78%,#f2f2f2 78.8%,#f9f9f9 79.7%,#fdfdfd 80.5%,#ffffff 81.7%,#fefefe 83%,#f9f9f9 83.8%,#f2f2f2 84.6%,#e6e6e6 85.5%,#d8d8d8 86.3%,#c6c6c6 87.1%,#808080 90%,#656565 91.3%,#4f4f4f 92.5%,#434343 93.4%,#373737 94.6%,#303030 95.9%,#2b2b2b 97.5%,#292929 100%)"></i><i style="background:linear-gradient(90deg,#101010 0%,#0b0b0b 21.6%,#0a0a0a 40.2%,#0d0d0d 58.9%,#121212 63.1%,#181818 65.6%,#1d1d1d 66.8%,#252525 68%,#313131 69.3%,#424242 70.5%,#505050 71.4%,#6b6b6b 72.6%,#b4b4b4 75.5%,#c8c8c8 76.3%,#d9d9d9 77.2%,#e7e7e7 78%,#f2f2f2 78.8%,#f9f9f9 79.7%,#fdfdfd 80.5%,#ffffff 81.7%,#fefefe 83%,#f9f9f9 83.8%,#f2f2f2 84.6%,#e6e6e6 85.5%,#d8d8d8 86.3%,#c6c6c6 87.1%,#808080 90%,#656565 91.3%,#4f4f4f 92.5%,#434343 93.4%,#373737 94.6%,#303030 95.9%,#2b2b2b 97.5%,#292929 100%)"></i><i style="background:linear-gradient(90deg,#101010 0%,#0b0b0b 21.6%,#0a0a0a 40.2%,#0d0d0d 58.9%,#131313 63.1%,#181818 65.6%,#1d1d1d 66.8%,#252525 68%,#313131 69.3%,#424242 70.5%,#505050 71.4%,#6b6b6b 72.6%,#b4b4b4 75.5%,#c8c8c8 76.3%,#d9d9d9 77.2%,#e7e7e7 78%,#f2f2f2 78.8%,#f9f9f9 79.7%,#fdfdfd 80.5%,#ffffff 81.7%,#fefefe 83%,#f9f9f9 83.8%,#f2f2f2 84.6%,#e6e6e6 85.5%,#d8d8d8 86.3%,#c6c6c6 87.1%,#808080 90%,#656565 91.3%,#4f4f4f 92.5%,#434343 93.4%,#373737 94.6%,#303030 95.9%,#2b2b2b 97.5%,#292929 100%)"></i><i style="background:linear-gradient(90deg,#101010 0%,#0b0b0b 21.6%,#0a0a0a 40.2%,#0e0e0e 58.9%,#131313 63.1%,#181818 65.6%,#1d1d1d 66.8%,#252525 68%,#313131 69.3%,#424242 70.5%,#515151 71.4%,#6b6b6b 72.6%,#b4b4b4 75.5%,#c8c8c8 76.3%,#d9d9d9 77.2%,#e8e8e8 78%,#f2f2f2 78.8%,#f9f9f9 79.7%,#fdfdfd 80.5%,#ffffff 81.7%,#fefefe 83%,#f9f9f9 83.8%,#f2f2f2 84.6%,#e6e6e6 85.5%,#d8d8d8 86.3%,#c6c6c6 87.1%,#808080 90%,#656565 91.3%,#4f4f4f 92.5%,#434343 93.4%,#373737 94.6%,#303030 95.9%,#2b2b2b 97.5%,#292929 100%)"></i><i style="background:linear-gradient(90deg,#101010 0%,#0b0b0b 21.6%,#0a0a0a 40.2%,#0e0e0e 58.9%,#131313 63.1%,#191919 65.6%,#1e1e1e 66.8%,#262626 68%,#323232 69.3%,#424242 70.5%,#515151 71.4%,#6b6b6b 72.6%,#b5b5b5 75.5%,#c8c8c8 76.3%,#d9d9d9 77.2%,#e8e8e8 78%,#f2f2f2 78.8%,#f9f9f9 79.7%,#fdfdfd 80.5%,#ffffff 81.7%,#fefefe 83%,#f9f9f9 83.8%,#f2f2f2 84.6%,#e6e6e6 85.5%,#d8d8d8 86.3%,#c6c6c6 87.1%,#808080 90%,#656565 91.3%,#4f4f4f 92.5%,#434343 93.4%,#373737 94.6%,#303030 95.9%,#2b2b2b 97.5%,#292929 100%)"></i><i style="background:linear-gradient(90deg,#111111 0%,#0b0b0b 21.6%,#0a0a0a 40.2%,#0e0e0e 58.9%,#131313 62.7%,#181818 65.1%,#1e1e1e 66.8%,#262626 68%,#2d2d2d 68.9%,#3c3c3c 70.1%,#4a4a4a 71%,#626262 72.2%,#808080 73.4%,#bfbfbf 75.9%,#d1d1d1 76.8%,#e1e1e1 77.6%,#eeeeee 78.4%,#fafafa 79.7%,#fdfdfd 80.5%,#ffffff 81.7%,#fefefe 83%,#f9f9f9 83.8%,#f2f2f2 84.6%,#e6e6e6 85.5%,#d8d8d8 86.3%,#c6c6c6 87.1%,#808080 90%,#656565 91.3%,#4f4f4f 92.5%,#434343 93.4%,#373737 94.6%,#303030 95.9%,#2b2b2b 97.5%,#292929 100%)"></i><i style="background:linear-gradient(90deg,#111111 0%,#0b0b0b 21.6%,#0a0a0a 40.2%,#0e0e0e 58.9%,#131313 62.7%,#181818 65.1%,#1e1e1e 66.8%,#262626 68%,#2e2e2e 68.9%,#3d3d3d 70.1%,#4a4a4a 71%,#626262 72.2%,#808080 73.4%,#bfbfbf 75.9%,#d1d1d1 76.8%,#e1e1e1 77.6%,#eeeeee 78.4%,#fafafa 79.7%,#fdfdfd 80.5%,#ffffff 81.7%,#fefefe 83%,#f9f9f9 83.8%,#f2f2f2 84.6%,#e6e6e6 85.5%,#d8d8d8 86.3%,#c6c6c6 87.1%,#808080 90%,#656565 91.3%,#4f4f4f 92.5%,#434343 93.4%,#373737 94.6%,#303030 95.9%,#2b2b2b 97.5%,#292929 100%)"></i><i style="background:linear-gradient(90deg,#111111 0%,#0b0b0b 21.6%,#0a0a0a 40.2%,#0f0f0f 58.9%,#131313 62.7%,#181818 65.1%,#1f1f1f 66.8%,#262626 68%,#2e2e2e 68.9%,#3d3d3d 70.1%,#4a4a4a 71%,#636363 72.2%,#808080 73.4%,#bfbfbf 75.9%,#d2d2d2 76.8%,#e1e1e1 77.6%,#eeeeee 78.4%,#fafafa 79.7%,#fdfdfd 80.5%,#ffffff 81.7%,#fefefe 83%,#f9f9f9 83.8%,#f2f2f2 84.6%,#e6e6e6 85.5%,#d8d8d8 86.3%,#c6c6c6 87.1%,#808080 90%,#656565 91.3%,#4f4f4f 92.5%,#434343 93.4%,#373737 94.6%,#303030 95.9%,#2b2b2b 97.5%,#292929 100%)"></i><i style="background:linear-gradient(90deg,#121212 0%,#0b0b0b 21.6%,#0a0a0a 40.2%,#0f0f0f 58.9%,#141414 62.7%,#191919 65.1%,#1f1f1f 66.8%,#272727 68%,#2e2e2e 68.9%,#3d3d3d 70.1%,#4a4a4a 71%,#636363 72.2%,#808080 73.4%,#bfbfbf 75.9%,#d2d2d2 76.8%,#e1e1e1 77.6%,#eeeeee 78.4%,#fafafa 79.7%,#fefefe 80.5%,#ffffff 81.7%,#fefefe 83%,#f9f9f9 83.8%,#f2f2f2 84.6%,#e6e6e6 85.5%,#d8d8d8 86.3%,#c6c6c6 87.1%,#808080 90%,#656565 91.3%,#4f4f4f 92.5%,#434343 93.4%,#373737 94.6%,#303030 95.9%,#2b2b2b 97.5%,#292929 100%)"></i><i style="background:linear-gradient(90deg,#121212 0%,#0c0c0c 21.2%,#0a0a0a 40.2%,#101010 58.9%,#141414 62.7%,#191919 65.1%,#1f1f1f 66.8%,#272727 68%,#2f2f2f 68.9%,#3e3e3e 70.1%,#4b4b4b 71%,#636363 72.2%,#808080 73.4%,#bfbfbf 75.9%,#d1d1d1 76.8%,#e1e1e1 77.6%,#ededed 78.4%,#f9f9f9 79.7%,#fdfdfd 80.5%,#fefefe 81.7%,#fdfdfd 83%,#f9f9f9 83.8%,#f1f1f1 84.6%,#e6e6e6 85.5%,#d7d7d7 86.3%,#c6c6c6 87.1%,#808080 90%,#646464 91.3%,#4f4f4f 92.5%,#434343 93.4%,#373737 94.6%,#303030 95.9%,#2b2b2b 97.5%,#292929 100%)"></i><i style="background:linear-gradient(90deg,#141414 0%,#0e0e0e 21.2%,#0d0d0d 40.2%,#131313 58.9%,#181818 63.1%,#1d1d1d 65.6%,#222222 66.8%,#292929 68%,#303030 68.9%,#3e3e3e 70.1%,#4b4b4b 71%,#626262 72.2%,#7e7e7e 73.4%,#bababa 75.9%,#cbcbcb 76.8%,#dadada 77.6%,#e6e6e6 78.4%,#eeeeee 79.3%,#f3f3f3 80.1%,#f6f6f6 81.3%,#f5f5f5 82.6%,#f2f2f2 83.4%,#e9e9e9 84.6%,#dedede 85.5%,#d0d0d0 86.3%,#bfbfbf 87.1%,#7c7c7c 90%,#626262 91.3%,#4d4d4d 92.5%,#424242 93.4%,#363636 94.6%,#303030 95.9%,#2b2b2b 97.5%,#292929 100%)"></i><i style="background:linear-gradient(90deg,#161616 0%,#101010 21.2%,#101010 40.2%,#161616 58.9%,#1b1b1b 63.1%,#1f1f1f 65.6%,#242424 66.8%,#2b2b2b 68%,#323232 68.9%,#3f3f3f 70.1%,#4b4b4b 71%,#616161 72.2%,#7b7b7b 73.4%,#b4b4b4 75.9%,#c5c5c5 76.8%,#d3d3d3 77.6%,#dedede 78.4%,#e6e6e6 79.3%,#eaeaea 80.1%,#ededed 81.3%,#ececec 82.6%,#eaeaea 83.4%,#e0e0e0 84.6%,#d6d6d6 85.5%,#c9c9c9 86.3%,#b9b9b9 87.1%,#787878 90%,#5f5f5f 91.3%,#4b4b4b 92.5%,#414141 93.4%,#363636 94.6%,#2f2f2f 95.9%,#2b2b2b 97.5%,#292929 100%)"></i><i style="background:linear-gradient(90deg,#171717 0%,#121212 21.2%,#131313 40.2%,#191919 58.9%,#1d1d1d 63.1%,#222222 65.6%,#262626 66.8%,#2c2c2c 68%,#333333 68.9%,#3f3f3f 70.1%,#4a4a4a 71%,#5e5e5e 72.2%,#777777 73.4%,#acacac 75.9%,#bcbcbc 76.8%,#c9c9c9 77.6%,#d4d4d4 78.4%,#dbdbdb 79.3%,#e0e0e0 80.1%,#e2e2e2 81.3%,#e2e2e2 82.6%,#e0e0e0 83.4%,#d7d7d7 84.6%,#cdcdcd 85.5%,#c1c1c1 86.3%,#b2b2b2 87.1%,#757575 90%,#5d5d5d 91.3%,#4a4a4a 92.5%,#404040 93.4%,#353535 94.6%,#2f2f2f 95.9%,#2b2b2b 97.5%,#292929 100%)"></i><i style="background:linear-gradient(90deg,#191919 0%,#141414 21.2%,#161616 40.2%,#1c1c1c 58.9%,#202020 63.1%,#242424 65.6%,#282828 66.8%,#2e2e2e 68%,#3b3b3b 69.7%,#444444 70.5%,#4f4f4f 71.4%,#636363 72.6%,#a5a5a5 75.9%,#b4b4b4 76.8%,#c0c0c0 77.6%,#cacaca 78.4%,#d1d1d1 79.3%,#d6d6d6 80.1%,#d8d8d8 81.3%,#d7d7d7 82.6%,#d5d5d5 83.4%,#cecece 84.6%,#c5c5c5 85.5%,#b9b9b9 86.3%,#ababab 87.1%,#727272 90%,#5b5b5b 91.3%,#494949 92.5%,#3b3b3b 93.8%,#333333 95%,#2e2e2e 96.3%,#292929 100%)"></i><i style="background:linear-gradient(90deg,#1b1b1b 0%,#171717 21.2%,#191919 40.2%,#202020 58.9%,#272727 65.6%,#2a2a2a 66.8%,#303030 68%,#3b3b3b 69.7%,#434343 70.5%,#4d4d4d 71.4%,#606060 72.6%,#9d9d9d 75.9%,#b7b7b7 77.6%,#c1c1c1 78.4%,#c7c7c7 79.3%,#cbcbcb 80.1%,#cdcdcd 81.3%,#cccccc 83%,#c9c9c9 83.8%,#c4c4c4 84.6%,#bcbcbc 85.5%,#b1b1b1 86.3%,#a4a4a4 87.1%,#6e6e6e 90%,#595959 91.3%,#474747 92.5%,#3a3a3a 93.8%,#323232 95%,#2d2d2d 96.3%,#292929 100%)"></i><i style="background:linear-gradient(90deg,#1d1d1d 0%,#191919 21.2%,#1c1c1c 40.2%,#232323 58.9%,#292929 65.6%,#313131 68%,#3c3c3c 69.7%,#434343 70.5%,#4c4c4c 71.4%,#5e5e5e 72.6%,#969696 75.9%,#aeaeae 77.6%,#b7b7b7 78.4%,#bdbdbd 79.3%,#c1c1c1 80.1%,#c3c3c3 81.3%,#c2c2c2 83%,#bfbfbf 83.8%,#bababa 84.6%,#b3b3b3 85.5%,#a9a9a9 86.3%,#9d9d9d 87.1%,#565656 91.3%,#464646 92.5%,#3a3a3a 93.8%,#323232 95%,#2d2d2d 96.3%,#292929 100%)"></i><i style="background:linear-gradient(90deg,#1e1e1e 0%,#1b1b1b 21.2%,#1f1f1f 40.2%,#262626 59.3%,#2c2c2c 66%,#333333 68%,#3c3c3c 69.7%,#434343 70.5%,#4b4b4b 71.4%,#5b5b5b 72.6%,#8e8e8e 75.9%,#a4a4a4 77.6%,#adadad 78.4%,#b2b2b2 79.3%,#b6b6b6 80.1%,#b8b8b8 81.3%,#b7b7b7 83%,#b5b5b5 83.8%,#b0b0b0 84.6%,#a9a9a9 85.5%,#959595 87.1%,#545454 91.3%,#444444 92.5%,#393939 93.8%,#313131 95%,#2d2d2d 96.3%,#292929 100%)"></i><i style="background:linear-gradient(90deg,#202020 0%,#1d1d1d 21.6%,#222222 40.2%,#292929 57.3%,#2c2c2c 63.1%,#2f2f2f 66%,#363636 68.5%,#3f3f3f 70.1%,#454545 71%,#575757 72.6%,#8a8a8a 76.3%,#999999 77.6%,#a1a1a1 78.4%,#a6a6a6 79.3%,#a9a9a9 80.1%,#ababab 81.3%,#aaaaaa 83%,#a8a8a8 83.8%,#a2a2a2 85.1%,#9b9b9b 85.9%,#878787 87.6%,#515151 91.3%,#434343 92.5%,#383838 93.8%,#313131 95%,#2d2d2d 96.3%,#292929 100%)"></i><i style="background:linear-gradient(90deg,#222222 0%,#202020 21.6%,#262626 40.2%,#2f2f2f 61.4%,#323232 66%,#393939 68.5%,#464646 71%,#555555 72.6%,#828282 76.3%,#939393 78%,#9d9d9d 79.7%,#9f9f9f 81.3%,#9d9d9d 83.8%,#989898 85.1%,#919191 85.9%,#808080 87.6%,#4a4a4a 91.7%,#3d3d3d 92.9%,#373737 93.8%,#313131 95%,#2d2d2d 96.3%,#292929 100%)"></i><i style="background:linear-gradient(90deg,#242424 0%,#232323 21.6%,#2b2b2b 40.2%,#393939 66.4%,#3e3e3e 68.5%,#444444 70.1%,#4b4b4b 71.4%,#595959 73%,#7c7c7c 76.3%,#888888 77.6%,#939393 79.3%,#969696 80.9%,#949494 83.8%,#8f8f8f 85.1%,#898989 85.9%,#797979 87.6%,#484848 91.7%,#3c3c3c 92.9%,#363636 93.8%,#303030 95%,#2d2d2d 96.3%,#2a2a2a 100%)"></i><i style="background:linear-gradient(90deg,#262626 0%,#262626 21.2%,#2b2b2b 26.6%,#383838 38.2%,#383838 51.5%,#3f3f3f 66.4%,#424242 68.5%,#4c4c4c 71.4%,#575757 73%,#7c7c7c 77.6%,#848484 79.3%,#878787 80.9%,#848484 83.8%,#7f7f7f 85.1%,#7b7b7b 85.9%,#6d6d6d 87.6%,#434343 91.7%,#393939 92.9%,#343434 93.8%,#2d2d2d 96.3%,#2a2a2a 100%)"></i><i style="background:linear-gradient(90deg,#282828 0%,#2b2b2b 21.6%,#333333 26.6%,#4d4d4d 34.9%,#525252 38.2%,#505050 41.1%,#444444 47.7%,#414141 51.5%,#454545 66.8%,#4c4c4c 71.4%,#525252 73%,#696969 77.6%,#6d6d6d 79.3%,#6e6e6e 80.5%,#6b6b6b 83.8%,#646464 85.9%,#5a5a5a 87.6%,#3b3b3b 91.7%,#323232 93.4%,#2d2d2d 95.9%,#2b2b2b 100%)"></i><i style="background:linear-gradient(90deg,#2a2a2a 0%,#2c2c2c 16.6%,#303030 22%,#353535 24.5%,#3e3e3e 27%,#484848 29%,#606060 33.2%,#676767 34.9%,#6c6c6c 36.5%,#6e6e6e 38.2%,#6c6c6c 39.4%,#686868 41.1%,#4f4f4f 47.7%,#484848 51%,#474747 54.4%,#4c4c4c 71%,#555555 77.6%,#565656 80.1%,#525252 83.4%,#4d4d4d 85.5%,#2e2e2e 93.4%,#2c2c2c 95.9%,#2b2b2b 100%)"></i><i style="background:linear-gradient(90deg,#2b2b2b 0%,#2d2d2d 16.6%,#2f2f2f 19.9%,#323232 22%,#393939 24.1%,#434343 26.1%,#515151 28.2%,#7c7c7c 33.6%,#848484 35.3%,#888888 36.9%,#878787 38.2%,#818181 39.8%,#777777 41.5%,#5e5e5e 45.2%,#535353 47.3%,#4d4d4d 49%,#494949 51%,#474747 53.9%,#494949 59.3%,#484848 69.3%,#363636 81.7%,#292929 92.9%,#2b2b2b 100%)"></i><i style="background:linear-gradient(90deg,#2b2b2b 0%,#2d2d2d 16.6%,#2f2f2f 19.9%,#343434 22%,#3f3f3f 24.5%,#4e4e4e 26.6%,#5d5d5d 28.2%,#858585 32%,#949494 33.6%,#9d9d9d 35.3%,#9f9f9f 36.5%,#9d9d9d 37.8%,#939393 39.4%,#898989 40.7%,#656565 44.4%,#555555 46.5%,#4a4a4a 48.5%,#444444 50.6%,#414141 53.9%,#424242 59.3%,#414141 69.3%,#323232 81.7%,#282828 92.9%,#2b2b2b 100%)"></i><i style="background:linear-gradient(90deg,#2b2b2b 0%,#2c2c2c 16.2%,#2f2f2f 19.5%,#343434 21.6%,#3e3e3e 23.7%,#4b4b4b 25.3%,#616161 27.4%,#939393 31.1%,#a6a6a6 32.8%,#adadad 33.6%,#b3b3b3 34.4%,#b6b6b6 35.7%,#b5b5b5 36.5%,#b2b2b2 37.3%,#a5a5a5 39%,#989898 40.2%,#696969 44%,#555555 46.1%,#484848 48.1%,#3f3f3f 50.6%,#3b3b3b 54.4%,#393939 69.3%,#2f2f2f 81.7%,#282828 92.9%,#2a2a2a 100%)"></i><i style="background:linear-gradient(90deg,#2b2b2b 0%,#2c2c2c 16.2%,#2f2f2f 19.1%,#363636 21.6%,#434343 23.7%,#575757 25.7%,#6e6e6e 27.4%,#a8a8a8 31.1%,#b8b8b8 32.4%,#c1c1c1 33.2%,#c6c6c6 34%,#c9c9c9 35.3%,#c5c5c5 36.5%,#bfbfbf 37.3%,#b7b7b7 38.2%,#a1a1a1 39.8%,#6f6f6f 43.2%,#565656 45.2%,#4b4b4b 46.5%,#434343 47.7%,#3a3a3a 50.2%,#363636 53.9%,#323232 69.3%,#2b2b2b 82.2%,#282828 92.9%,#2a2a2a 100%)"></i><i style="background:linear-gradient(90deg,#2b2b2b 0%,#2c2c2c 16.2%,#2f2f2f 19.1%,#363636 21.2%,#444444 23.2%,#565656 24.9%,#6e6e6e 26.6%,#b0b0b0 30.3%,#c3c3c3 31.5%,#cecece 32.4%,#d5d5d5 33.2%,#dadada 34.4%,#d6d6d6 35.7%,#d0d0d0 36.5%,#c6c6c6 37.3%,#adadad 39%,#818181 41.5%,#6d6d6d 42.7%,#5c5c5c 44%,#525252 44.8%,#4a4a4a 45.6%,#414141 46.9%,#3a3a3a 48.1%,#363636 49.4%,#323232 51.5%,#2f2f2f 54.8%,#272727 81.7%,#272727 92.9%,#2a2a2a 100%)"></i><i style="background:linear-gradient(90deg,#2b2b2b 0%,#2b2b2b 16.2%,#2f2f2f 19.1%,#383838 21.2%,#414141 22.4%,#484848 23.2%,#5e5e5e 24.9%,#7a7a7a 26.6%,#bcbcbc 29.9%,#cbcbcb 30.7%,#d7d7d7 31.5%,#e4e4e4 32.8%,#e8e8e8 34%,#e3e3e3 35.3%,#dadada 36.1%,#cfcfcf 36.9%,#bababa 38.2%,#717171 41.9%,#5e5e5e 43.2%,#535353 44%,#454545 45.2%,#3c3c3c 46.5%,#353535 47.7%,#313131 49%,#2d2d2d 51%,#2a2a2a 53.9%,#232323 69.3%,#232323 81.7%,#292929 100%)"></i><i style="background:linear-gradient(90deg,#2b2b2b 0%,#2b2b2b 15.8%,#2f2f2f 18.7%,#363636 20.7%,#3c3c3c 21.6%,#474747 22.8%,#5d5d5d 24.5%,#7a7a7a 26.1%,#c8c8c8 29.9%,#dcdcdc 31.1%,#e9e9e9 32.4%,#ededed 33.2%,#ededed 33.6%,#ededed 34%,#e8e8e8 34.9%,#dfdfdf 35.7%,#d3d3d3 36.5%,#bcbcbc 37.8%,#707070 41.5%,#5b5b5b 42.7%,#505050 43.6%,#464646 44.4%,#3b3b3b 45.6%,#333333 46.9%,#2d2d2d 48.5%,#282828 51%,#242424 54.8%,#1b1b1b 69.3%,#202020 81.7%,#292929 97.9%,#292929 100%)"></i><i style="background:linear-gradient(90deg,#2a2a2a 0%,#2a2a2a 15.8%,#2e2e2e 18.7%,#373737 20.7%,#3d3d3d 21.6%,#4a4a4a 22.8%,#555555 23.7%,#626262 24.5%,#828282 26.1%,#cbcbcb 29.5%,#e1e1e1 30.7%,#efefef 32%,#f3f3f3 32.8%,#f3f3f3 33.2%,#f2f2f2 33.6%,#ededed 34.4%,#e3e3e3 35.3%,#d6d6d6 36.1%,#bebebe 37.3%,#919191 39.4%,#6f6f6f 41.1%,#595959 42.3%,#4e4e4e 43.2%,#444444 44%,#393939 45.2%,#313131 46.5%,#2a2a2a 48.1%,#252525 51%,#202020 56%,#191919 69.3%,#1e1e1e 81.7%,#292929 97.9%,#292929 100%)"></i><i style="background:linear-gradient(90deg,#292929 0%,#282828 15.8%,#2d2d2d 18.7%,#363636 20.7%,#3c3c3c 21.6%,#494949 22.8%,#555555 23.7%,#626262 24.5%,#838383 26.1%,#c4c4c4 29%,#dbdbdb 30.3%,#ececec 31.5%,#f2f2f2 32.4%,#f3f3f3 32.8%,#f3f3f3 33.2%,#efefef 34%,#e7e7e7 34.9%,#dbdbdb 35.7%,#c4c4c4 36.9%,#8d8d8d 39.4%,#6b6b6b 41.1%,#565656 42.3%,#4a4a4a 43.2%,#414141 44%,#363636 45.2%,#2f2f2f 46.5%,#282828 48.1%,#222222 51.5%,#1b1b1b 58.9%,#171717 69.3%,#1d1d1d 81.7%,#262626 93.4%,#282828 100%)"></i><i style="background:linear-gradient(90deg,#282828 0%,#272727 15.8%,#2b2b2b 18.7%,#343434 20.7%,#3b3b3b 21.6%,#484848 22.8%,#535353 23.7%,#616161 24.5%,#818181 26.1%,#c2c2c2 29%,#dadada 30.3%,#eaeaea 31.5%,#f0f0f0 32.4%,#f1f1f1 32.8%,#f1f1f1 33.2%,#ededed 34%,#e5e5e5 34.9%,#d9d9d9 35.7%,#c1c1c1 36.9%,#8b8b8b 39.4%,#696969 41.1%,#545454 42.3%,#484848 43.2%,#3f3f3f 44%,#343434 45.2%,#2d2d2d 46.5%,#262626 48.1%,#202020 51.5%,#191919 58.9%,#161616 69.3%,#1d1d1d 81.7%,#252525 93.4%,#282828 100%)"></i><i style="background:linear-gradient(90deg,#262626 0%,#252525 15.8%,#292929 18.7%,#333333 20.7%,#393939 21.6%,#464646 22.8%,#515151 23.7%,#5f5f5f 24.5%,#808080 26.1%,#c0c0c0 29%,#d8d8d8 30.3%,#e8e8e8 31.5%,#eeeeee 32.4%,#efefef 32.8%,#efefef 33.2%,#ebebeb 34%,#e3e3e3 34.9%,#d6d6d6 35.7%,#bfbfbf 36.9%,#888888 39.4%,#6e6e6e 40.7%,#585858 41.9%,#4b4b4b 42.7%,#3d3d3d 44%,#323232 45.2%,#2b2b2b 46.5%,#252525 48.1%,#1e1e1e 51.5%,#171717 58.9%,#151515 69.3%,#1c1c1c 81.7%,#252525 93.4%,#282828 100%)"></i><i style="background:linear-gradient(90deg,#252525 0%,#232323 15.8%,#282828 18.7%,#313131 20.7%,#373737 21.6%,#444444 22.8%,#505050 23.7%,#5d5d5d 24.5%,#7e7e7e 26.1%,#bfbfbf 29%,#d6d6d6 30.3%,#e6e6e6 31.5%,#ececec 32.4%,#ededed 32.8%,#ededed 33.2%,#e9e9e9 34%,#e0e0e0 34.9%,#d4d4d4 35.7%,#bcbcbc 36.9%,#868686 39.4%,#6c6c6c 40.7%,#565656 41.9%,#494949 42.7%,#3a3a3a 44%,#303030 45.2%,#292929 46.5%,#232323 48.1%,#1d1d1d 51.5%,#151515 58.9%,#131313 69.3%,#252525 93.4%,#272727 100%)"></i><i style="background:linear-gradient(90deg,#242424 0%,#222222 15.8%,#262626 18.7%,#2f2f2f 20.7%,#353535 21.6%,#424242 22.8%,#4e4e4e 23.7%,#5b5b5b 24.5%,#7c7c7c 26.1%,#bdbdbd 29%,#d4d4d4 30.3%,#e5e5e5 31.5%,#eaeaea 32.4%,#ebebeb 32.8%,#ebebeb 33.2%,#e7e7e7 34%,#dedede 34.9%,#d2d2d2 35.7%,#bababa 36.9%,#838383 39.4%,#6a6a6a 40.7%,#535353 41.9%,#474747 42.7%,#383838 44%,#2e2e2e 45.2%,#272727 46.5%,#212121 48.1%,#1b1b1b 51.5%,#131313 58.9%,#121212 69.3%,#242424 93.4%,#272727 100%)"></i><i style="background:linear-gradient(90deg,#222222 0%,#202020 15.8%,#242424 18.7%,#2d2d2d 20.7%,#343434 21.6%,#414141 22.8%,#4c4c4c 23.7%,#5a5a5a 24.5%,#7a7a7a 26.1%,#bbbbbb 29%,#d3d3d3 30.3%,#e3e3e3 31.5%,#e8e8e8 32.4%,#e9e9e9 32.8%,#e9e9e9 33.2%,#e4e4e4 34%,#dcdcdc 34.9%,#cfcfcf 35.7%,#b7b7b7 36.9%,#818181 39.4%,#676767 40.7%,#515151 41.9%,#454545 42.7%,#363636 44%,#2c2c2c 45.2%,#252525 46.5%,#1f1f1f 48.1%,#191919 51.5%,#111111 58.9%,#111111 69.3%,#242424 93.4%,#272727 100%)"></i><i style="background:linear-gradient(90deg,#212121 0%,#1f1f1f 15.8%,#232323 18.7%,#2c2c2c 20.7%,#323232 21.6%,#3f3f3f 22.8%,#4a4a4a 23.7%,#585858 24.5%,#797979 26.1%,#bababa 29%,#d1d1d1 30.3%,#e1e1e1 31.5%,#e6e6e6 32.4%,#e7e7e7 32.8%,#e7e7e7 33.2%,#e2e2e2 34%,#dadada 34.9%,#cdcdcd 35.7%,#b5b5b5 36.9%,#7e7e7e 39.4%,#656565 40.7%,#4f4f4f 41.9%,#424242 42.7%,#343434 44%,#2a2a2a 45.2%,#232323 46.5%,#1d1d1d 48.1%,#171717 51.5%,#101010 58.9%,#0f0f0f 69.3%,#161616 76.8%,#252525 85.1%,#242424 91.7%,#262626 100%)"></i><i style="background:linear-gradient(90deg,#212121 0%,#1f1f1f 15.8%,#232323 18.7%,#2c2c2c 20.7%,#323232 21.6%,#3f3f3f 22.8%,#4a4a4a 23.7%,#585858 24.5%,#797979 26.1%,#bababa 29%,#d1d1d1 30.3%,#e1e1e1 31.5%,#e6e6e6 32.4%,#e7e7e7 32.8%,#e6e6e6 33.2%,#e2e2e2 34%,#d9d9d9 34.9%,#cccccc 35.7%,#b4b4b4 36.9%,#7d7d7d 39.4%,#646464 40.7%,#4e4e4e 41.9%,#424242 42.7%,#383838 43.6%,#2d2d2d 44.8%,#252525 46.1%,#1e1e1e 47.7%,#181818 51%,#101010 58.9%,#101010 69.3%,#141414 74.3%,#191919 77.2%,#202020 79.3%,#323232 83%,#373737 85.1%,#363636 86.7%,#2a2a2a 90.5%,#272727 92.1%,#252525 94.6%,#262626 100%)"></i><i style="background:linear-gradient(90deg,#212121 0%,#1f1f1f 15.8%,#232323 18.7%,#2c2c2c 20.7%,#323232 21.6%,#3f3f3f 22.8%,#4a4a4a 23.7%,#585858 24.5%,#787878 26.1%,#bababa 29%,#d1d1d1 30.3%,#e1e1e1 31.5%,#e6e6e6 32.4%,#e6e6e6 32.8%,#e6e6e6 33.2%,#e1e1e1 34%,#d8d8d8 34.9%,#cccccc 35.7%,#b3b3b3 36.9%,#7c7c7c 39.4%,#636363 40.7%,#4d4d4d 41.9%,#424242 42.7%,#383838 43.6%,#2d2d2d 44.8%,#252525 46.1%,#1e1e1e 47.7%,#181818 51%,#111111 59.3%,#111111 69.3%,#151515 74.3%,#1a1a1a 76.8%,#212121 78.4%,#2c2c2c 80.1%,#454545 83%,#4c4c4c 84.2%,#4d4d4d 85.1%,#4c4c4c 85.9%,#494949 86.7%,#323232 90%,#292929 92.1%,#262626 94.6%,#262626 100%)"></i><i style="background:linear-gradient(90deg,#212121 0%,#1f1f1f 15.8%,#232323 18.7%,#2b2b2b 20.7%,#323232 21.6%,#3f3f3f 22.8%,#4a4a4a 23.7%,#575757 24.5%,#787878 26.1%,#bababa 29%,#d1d1d1 30.3%,#e0e0e0 31.5%,#e5e5e5 32.4%,#e6e6e6 32.8%,#e6e6e6 33.2%,#e1e1e1 34%,#d8d8d8 34.9%,#cbcbcb 35.7%,#b3b3b3 36.9%,#7c7c7c 39.4%,#636363 40.7%,#4d4d4d 41.9%,#414141 42.7%,#373737 43.6%,#2c2c2c 44.8%,#252525 46.1%,#1f1f1f 47.7%,#191919 51%,#111111 59.3%,#111111 69.3%,#171717 75.5%,#1d1d1d 77.2%,#282828 78.8%,#373737 80.1%,#5c5c5c 82.6%,#666666 83.4%,#6d6d6d 84.2%,#6f6f6f 85.1%,#6e6e6e 85.5%,#696969 86.3%,#606060 87.1%,#3a3a3a 90%,#333333 90.9%,#2b2b2b 92.1%,#272727 93.4%,#262626 94.6%,#262626 100%)"></i><i style="background:linear-gradient(90deg,#212121 0%,#1f1f1f 15.8%,#232323 18.7%,#2b2b2b 20.7%,#313131 21.6%,#3f3f3f 22.8%,#4a4a4a 23.7%,#575757 24.5%,#787878 26.1%,#b9b9b9 29%,#d1d1d1 30.3%,#dcdcdc 31.1%,#e0e0e0 31.5%,#e5e5e5 32.4%,#e6e6e6 32.8%,#e5e5e5 33.2%,#e0e0e0 34%,#d1d1d1 35.3%,#bbbbbb 36.5%,#7b7b7b 39.4%,#626262 40.7%,#4c4c4c 41.9%,#414141 42.7%,#373737 43.6%,#2c2c2c 44.8%,#252525 46.1%,#1f1f1f 47.7%,#191919 51%,#121212 59.3%,#121212 69.3%,#151515 74.3%,#1a1a1a 76.3%,#1d1d1d 77.2%,#232323 78%,#313131 79.3%,#474747 80.5%,#757575 82.6%,#858585 83.4%,#8f8f8f 84.2%,#929292 85.1%,#919191 85.5%,#888888 86.3%,#7a7a7a 87.1%,#575757 88.8%,#474747 89.6%,#3b3b3b 90.5%,#2e2e2e 91.7%,#282828 92.9%,#262626 94.2%,#262626 100%)"></i><i style="background:linear-gradient(90deg,#212121 0%,#1f1f1f 15.8%,#222222 18.7%,#2b2b2b 20.7%,#313131 21.6%,#3e3e3e 22.8%,#4a4a4a 23.7%,#575757 24.5%,#787878 26.1%,#b9b9b9 29%,#d1d1d1 30.3%,#dcdcdc 31.1%,#e0e0e0 31.5%,#e5e5e5 32.4%,#e5e5e5 32.8%,#e5e5e5 33.2%,#e0e0e0 34%,#d1d1d1 35.3%,#bababa 36.5%,#838383 39%,#696969 40.2%,#525252 41.5%,#464646 42.3%,#373737 43.6%,#2c2c2c 44.8%,#252525 46.1%,#1f1f1f 47.7%,#191919 51%,#131313 59.3%,#131313 69.3%,#161616 74.3%,#1a1a1a 76.3%,#1f1f1f 77.2%,#262626 78%,#313131 78.8%,#393939 79.3%,#414141 79.7%,#565656 80.5%,#989898 82.6%,#aeaeae 83.4%,#b7b7b7 83.8%,#bdbdbd 84.2%,#c0c0c0 84.6%,#c0c0c0 85.1%,#bebebe 85.5%,#b9b9b9 85.9%,#b1b1b1 86.3%,#9c9c9c 87.1%,#6a6a6a 88.8%,#535353 89.6%,#424242 90.5%,#3b3b3b 90.9%,#313131 91.7%,#292929 92.9%,#262626 94.2%,#262626 100%)"></i><i style="background:linear-gradient(90deg,#212121 0%,#1f1f1f 15.8%,#222222 18.7%,#2b2b2b 20.7%,#313131 21.6%,#3e3e3e 22.8%,#4a4a4a 23.7%,#575757 24.5%,#787878 26.1%,#b9b9b9 29%,#d0d0d0 30.3%,#dcdcdc 31.1%,#e0e0e0 31.5%,#e5e5e5 32.4%,#e5e5e5 32.8%,#e4e4e4 33.2%,#e0e0e0 34%,#d0d0d0 35.3%,#b9b9b9 36.5%,#717171 39.8%,#595959 41.1%,#454545 42.3%,#3b3b3b 43.2%,#2f2f2f 44.4%,#272727 45.6%,#202020 47.3%,#1a1a1a 51%,#131313 59.3%,#131313 69.3%,#151515 72.2%,#171717 75.1%,#1d1d1d 76.8%,#282828 78%,#343434 78.8%,#3d3d3d 79.3%,#474747 79.7%,#616161 80.5%,#7f7f7f 81.3%,#b1b1b1 82.6%,#cdcdcd 83.4%,#d8d8d8 83.8%,#e0e0e0 84.2%,#e4e4e4 84.6%,#e4e4e4 85.1%,#e1e1e1 85.5%,#dadada 85.9%,#d0d0d0 86.3%,#b6b6b6 87.1%,#777777 88.8%,#5b5b5b 89.6%,#464646 90.5%,#383838 91.3%,#323232 91.7%,#2c2c2c 92.5%,#272727 93.8%,#252525 95.4%,#262626 100%)"></i><i style="background:linear-gradient(90deg,#212121 0%,#1f1f1f 15.8%,#222222 18.7%,#2b2b2b 20.7%,#313131 21.6%,#3e3e3e 22.8%,#4a4a4a 23.7%,#575757 24.5%,#787878 26.1%,#b9b9b9 29%,#d0d0d0 30.3%,#dcdcdc 31.1%,#e0e0e0 31.5%,#e4e4e4 32.4%,#e5e5e5 32.8%,#e4e4e4 33.2%,#dfdfdf 34%,#cfcfcf 35.3%,#b8b8b8 36.5%,#707070 39.8%,#585858 41.1%,#454545 42.3%,#3b3b3b 43.2%,#2f2f2f 44.4%,#272727 45.6%,#202020 47.3%,#1a1a1a 51%,#141414 59.3%,#141414 69.3%,#151515 72.6%,#181818 75.1%,#1d1d1d 76.8%,#272727 78%,#333333 78.8%,#3b3b3b 79.3%,#454545 79.7%,#5d5d5d 80.5%,#7b7b7b 81.3%,#aaaaaa 82.6%,#c5c5c5 83.4%,#cfcfcf 83.8%,#d7d7d7 84.2%,#dbdbdb 84.6%,#dbdbdb 85.1%,#d8d8d8 85.5%,#d1d1d1 85.9%,#c8c8c8 86.3%,#afafaf 87.1%,#737373 88.8%,#595959 89.6%,#454545 90.5%,#373737 91.3%,#323232 91.7%,#2b2b2b 92.5%,#272727 93.8%,#252525 95.4%,#262626 100%)"></i><i style="background:linear-gradient(90deg,#212121 0%,#1f1f1f 15.8%,#222222 18.7%,#2b2b2b 20.7%,#313131 21.6%,#3e3e3e 22.8%,#494949 23.7%,#575757 24.5%,#787878 26.1%,#b9b9b9 29%,#d0d0d0 30.3%,#dcdcdc 31.1%,#e0e0e0 31.5%,#e4e4e4 32.4%,#e5e5e5 32.8%,#e4e4e4 33.2%,#dfdfdf 34%,#cfcfcf 35.3%,#b8b8b8 36.5%,#6f6f6f 39.8%,#585858 41.1%,#444444 42.3%,#3a3a3a 43.2%,#2f2f2f 44.4%,#272727 45.6%,#202020 47.3%,#1a1a1a 51%,#141414 59.3%,#141414 69.3%,#161616 72.6%,#181818 75.1%,#1d1d1d 76.8%,#272727 78%,#323232 78.8%,#3a3a3a 79.3%,#444444 79.7%,#5b5b5b 80.5%,#777777 81.3%,#a5a5a5 82.6%,#bfbfbf 83.4%,#c9c9c9 83.8%,#d0d0d0 84.2%,#d4d4d4 84.6%,#d4d4d4 85.1%,#d1d1d1 85.5%,#cbcbcb 85.9%,#c2c2c2 86.3%,#aaaaaa 87.1%,#707070 88.8%,#575757 89.6%,#434343 90.5%,#363636 91.3%,#313131 91.7%,#2b2b2b 92.5%,#272727 93.8%,#252525 95.4%,#262626 100%)"></i><i style="background:linear-gradient(90deg,#212121 0%,#1f1f1f 15.8%,#222222 18.7%,#2b2b2b 20.7%,#313131 21.6%,#3e3e3e 22.8%,#494949 23.7%,#575757 24.5%,#787878 26.1%,#b9b9b9 29%,#d0d0d0 30.3%,#dcdcdc 31.1%,#e0e0e0 31.5%,#e4e4e4 32.4%,#e5e5e5 32.8%,#e4e4e4 33.2%,#dfdfdf 34%,#cfcfcf 35.3%,#b8b8b8 36.5%,#6f6f6f 39.8%,#585858 41.1%,#444444 42.3%,#3a3a3a 43.2%,#2f2f2f 44.4%,#272727 45.6%,#202020 47.3%,#1a1a1a 51%,#141414 59.3%,#141414 69.3%,#161616 72.6%,#181818 75.1%,#1d1d1d 76.8%,#272727 78%,#323232 78.8%,#3a3a3a 79.3%,#444444 79.7%,#5b5b5b 80.5%,#777777 81.3%,#a5a5a5 82.6%,#bfbfbf 83.4%,#c9c9c9 83.8%,#d0d0d0 84.2%,#d4d4d4 84.6%,#d4d4d4 85.1%,#d1d1d1 85.5%,#cbcbcb 85.9%,#c2c2c2 86.3%,#aaaaaa 87.1%,#707070 88.8%,#575757 89.6%,#434343 90.5%,#363636 91.3%,#313131 91.7%,#2b2b2b 92.5%,#272727 93.8%,#252525 95.4%,#262626 100%)"></i></div></div><div class="hc" style="left:210px;top:147px;width:115px;height:89px"><div class="hm" style="width:121px;height:95px"><i style="background:linear-gradient(90deg,#2e2e2e 0%,#2f2f2f 3.7%,#3b3b3b 16.2%,#3e3e3e 17.8%,#454545 19.5%,#5b5b5b 24.1%,#7b7b7b 29.5%,#808080 31.1%,#858585 42.3%,#858585 63.9%,#828282 66.4%,#767676 69.3%,#6e6e6e 70.5%,#535353 73.9%,#4c4c4c 75.1%,#3e3e3e 80.1%,#2b2b2b 85.5%,#272727 87.6%,#202020 95.9%,#1f1f1f 100%)"></i><i style="background:linear-gradient(90deg,#2e2e2e 0%,#2f2f2f 3.7%,#3b3b3b 16.2%,#3e3e3e 17.8%,#454545 19.5%,#5b5b5b 24.1%,#7b7b7b 29.5%,#808080 31.1%,#858585 42.3%,#858585 63.9%,#828282 66.4%,#767676 69.3%,#6e6e6e 70.5%,#535353 73.9%,#4c4c4c 75.1%,#3e3e3e 80.1%,#2b2b2b 85.5%,#272727 87.6%,#202020 95.9%,#1f1f1f 100%)"></i><i style="background:linear-gradient(90deg,#313131 0%,#323232 3.7%,#3f3f3f 17%,#4b4b4b 19.9%,#7a7a7a 28.6%,#808080 30.7%,#868686 42.3%,#868686 64.3%,#838383 66.4%,#777777 69.3%,#6f6f6f 70.5%,#555555 73.9%,#4d4d4d 75.1%,#3e3e3e 80.1%,#2a2a2a 85.5%,#262626 87.6%,#1f1f1f 95.9%,#1e1e1e 100%)"></i><i style="background:linear-gradient(90deg,#343434 0%,#353535 3.7%,#404040 16.2%,#474747 17.8%,#787878 27.4%,#7d7d7d 28.6%,#808080 29.9%,#878787 42.3%,#878787 64.3%,#848484 66.4%,#787878 69.3%,#717171 70.5%,#535353 74.3%,#4c4c4c 75.5%,#3e3e3e 80.1%,#292929 85.5%,#252525 87.6%,#1e1e1e 95.9%,#1d1d1d 100%)"></i><i style="background:linear-gradient(90deg,#373737 0%,#393939 4.6%,#3f3f3f 13.7%,#414141 15.4%,#484848 17%,#616161 21.6%,#6f6f6f 24.5%,#7d7d7d 27.8%,#808080 29.5%,#898989 42.3%,#898989 64.3%,#868686 66.4%,#7a7a7a 69.3%,#6f6f6f 71%,#555555 74.3%,#4d4d4d 75.5%,#3e3e3e 80.1%,#282828 85.5%,#252525 87.1%,#1d1d1d 95.4%,#1c1c1c 100%)"></i><i style="background:linear-gradient(90deg,#3a3a3a 0%,#404040 12%,#434343 14.5%,#4a4a4a 16.2%,#676767 21.6%,#7b7b7b 26.6%,#808080 28.6%,#8b8b8b 42.3%,#8b8b8b 64.3%,#898989 66%,#7f7f7f 68.5%,#737373 70.5%,#575757 74.3%,#4e4e4e 75.5%,#3e3e3e 80.1%,#272727 85.5%,#242424 87.1%,#1c1c1c 95.4%,#1a1a1a 100%)"></i><i style="background:linear-gradient(90deg,#3e3e3e 0%,#414141 11.2%,#434343 13.3%,#4a4a4a 14.9%,#606060 18.7%,#686868 20.3%,#7c7c7c 25.7%,#818181 27.8%,#8c8c8c 41.9%,#8c8c8c 63.9%,#8a8a8a 65.6%,#7f7f7f 68%,#767676 69.7%,#4f4f4f 75.1%,#3d3d3d 79.7%,#252525 85.1%,#222222 86.7%,#1b1b1b 95%,#191919 100%)"></i><i style="background:linear-gradient(90deg,#414141 0%,#424242 10%,#444444 11.6%,#4a4a4a 12.9%,#636363 16.6%,#6c6c6c 18.3%,#808080 24.1%,#848484 26.1%,#8d8d8d 40.7%,#8c8c8c 60.2%,#888888 62.2%,#7b7b7b 65.1%,#737373 66.4%,#545454 70.5%,#4d4d4d 71.8%,#3f3f3f 75.9%,#282828 80.9%,#232323 82.2%,#212121 83.8%,#1a1a1a 94.6%,#181818 100%)"></i><i style="background:linear-gradient(90deg,#444444 0%,#434343 8.3%,#444444 9.5%,#4a4a4a 10.8%,#666666 14.5%,#707070 16.2%,#838383 22%,#888888 24.1%,#8e8e8e 39.4%,#8c8c8c 56.4%,#888888 58.5%,#7b7b7b 61.4%,#545454 66.8%,#4d4d4d 68%,#3e3e3e 72.6%,#222222 78.8%,#1f1f1f 81.3%,#161616 100%)"></i><i style="background:linear-gradient(90deg,#474747 0%,#444444 6.6%,#454545 7.9%,#4c4c4c 9.1%,#6a6a6a 12.4%,#727272 13.7%,#7c7c7c 16.6%,#888888 20.7%,#8b8b8b 22.4%,#8f8f8f 37.8%,#8c8c8c 52.7%,#888888 54.8%,#7b7b7b 57.7%,#545454 63.1%,#4d4d4d 64.3%,#3e3e3e 69.3%,#252525 74.7%,#202020 75.9%,#1d1d1d 78.4%,#141414 100%)"></i><i style="background:linear-gradient(90deg,#494949 0%,#484848 5.8%,#4a4a4a 7.1%,#515151 8.3%,#6c6c6c 11.2%,#747474 12.4%,#7c7c7c 14.5%,#8d8d8d 20.3%,#929292 35.3%,#8d8d8d 49%,#8a8a8a 51%,#7d7d7d 54.4%,#757575 55.6%,#565656 59.3%,#4e4e4e 60.6%,#3f3f3f 65.6%,#252525 71%,#202020 72.6%,#1d1d1d 75.5%,#141414 100%)"></i><i style="background:linear-gradient(90deg,#4a4a4a 0%,#4b4b4b 4.6%,#4e4e4e 6.2%,#565656 7.5%,#717171 10.4%,#797979 11.6%,#8a8a8a 16.6%,#909090 18.7%,#959595 32.8%,#8f8f8f 44.4%,#8c8c8c 47.3%,#808080 51%,#757575 52.7%,#585858 55.6%,#4f4f4f 56.8%,#494949 58.1%,#3d3d3d 62.2%,#262626 67.2%,#202020 68.9%,#1e1e1e 71.4%,#131313 100%)"></i><i style="background:linear-gradient(90deg,#4c4c4c 0%,#4d4d4d 2.9%,#515151 5%,#585858 6.2%,#737373 9.1%,#7b7b7b 10.4%,#8b8b8b 14.5%,#929292 16.6%,#949494 19.5%,#979797 29.5%,#979797 32%,#8e8e8e 42.7%,#828282 47.7%,#7e7e7e 48.5%,#777777 49.4%,#575757 52.3%,#4d4d4d 53.5%,#4a4a4a 54.4%,#3e3e3e 58.5%,#242424 63.9%,#1f1f1f 65.6%,#121212 100%)"></i><i style="background:linear-gradient(90deg,#4d4d4d 0%,#4e4e4e 2.1%,#545454 4.1%,#5b5b5b 5.4%,#727272 7.9%,#7c7c7c 9.1%,#878787 11.2%,#969696 14.9%,#999999 17%,#9d9d9d 29%,#919191 39.4%,#838383 44.4%,#7a7a7a 46.1%,#585858 49.4%,#4e4e4e 50.6%,#494949 51.9%,#3e3e3e 55.6%,#252525 61%,#1f1f1f 62.7%,#111111 100%)"></i><i style="background:linear-gradient(90deg,#4d4d4d 0%,#4e4e4e 1.7%,#555555 3.3%,#5d5d5d 4.6%,#787878 7.5%,#828282 8.7%,#979797 12.4%,#9e9e9e 14.1%,#a1a1a1 16.2%,#a5a5a5 27%,#949494 36.5%,#858585 41.1%,#7f7f7f 42.3%,#797979 43.2%,#575757 46.9%,#4e4e4e 48.1%,#494949 49.4%,#3d3d3d 53.5%,#262626 58.5%,#202020 60.2%,#1e1e1e 62.7%,#111111 100%)"></i><i style="background:linear-gradient(90deg,#4d4d4d 0%,#4e4e4e 1.2%,#535353 2.5%,#858585 7.9%,#9c9c9c 11.2%,#a5a5a5 12.9%,#a9a9a9 14.9%,#acacac 24.9%,#aaaaaa 26.6%,#9b9b9b 32.4%,#909090 35.7%,#7e7e7e 39.4%,#575757 44.4%,#4f4f4f 45.6%,#4a4a4a 46.9%,#3e3e3e 51%,#262626 56%,#202020 57.7%,#1e1e1e 60.2%,#101010 100%)"></i><i style="background:linear-gradient(90deg,#505050 0%,#515151 1.2%,#555555 2.1%,#5d5d5d 2.9%,#757575 5%,#898989 7.1%,#a3a3a3 10.4%,#adadad 12%,#b1b1b1 14.1%,#b4b4b4 22.8%,#b0b0b0 24.9%,#999999 31.5%,#7f7f7f 36.5%,#565656 41.9%,#4e4e4e 43.2%,#3e3e3e 48.5%,#252525 53.9%,#1f1f1f 55.6%,#0f0f0f 100%)"></i><i style="background:linear-gradient(90deg,#5c5c5c 0%,#5d5d5d 1.2%,#646464 2.5%,#848484 5.4%,#959595 7.1%,#acacac 10%,#b7b7b7 11.6%,#bababa 12.4%,#bcbcbc 13.7%,#bcbcbc 20.7%,#bababa 22%,#b5b5b5 23.7%,#a3a3a3 28.2%,#989898 30.3%,#7f7f7f 34.4%,#585858 39%,#4d4d4d 40.7%,#3e3e3e 45.6%,#242424 51.5%,#202020 52.7%,#1e1e1e 55.2%,#0e0e0e 100%)"></i><i style="background:linear-gradient(90deg,#686868 0%,#696969 1.2%,#6f6f6f 2.5%,#777777 3.3%,#949494 5.8%,#a1a1a1 7.1%,#b5b5b5 9.5%,#c2c2c2 11.6%,#c6c6c6 13.3%,#c5c5c5 18.7%,#c3c3c3 19.9%,#bcbcbc 21.6%,#aaaaaa 25.7%,#9e9e9e 27.8%,#828282 32%,#565656 36.5%,#4d4d4d 37.8%,#3e3e3e 42.7%,#262626 48.5%,#202020 50.2%,#1e1e1e 52.7%,#0d0d0d 100%)"></i><i style="background:linear-gradient(90deg,#737373 0%,#747474 1.2%,#7a7a7a 2.5%,#868686 3.7%,#a0a0a0 5.8%,#adadad 7.1%,#bbbbbb 8.7%,#cbcbcb 11.2%,#cfcfcf 12%,#d0d0d0 12.9%,#cecece 16.2%,#cccccc 17.8%,#c7c7c7 19.1%,#b1b1b1 23.2%,#a2a2a2 25.7%,#848484 29.9%,#565656 34%,#4d4d4d 35.3%,#3e3e3e 40.2%,#202020 47.7%,#1d1d1d 50.6%,#0d0d0d 100%)"></i><i style="background:linear-gradient(90deg,#7b7b7b 0%,#7d7d7d 1.7%,#858585 2.9%,#8d8d8d 3.7%,#adadad 6.2%,#bbbbbb 7.5%,#c8c8c8 9.1%,#d7d7d7 11.2%,#dadada 12%,#dcdcdc 12.9%,#dadada 16.2%,#d7d7d7 17.8%,#d1d1d1 19.1%,#aaaaaa 24.9%,#848484 29.9%,#595959 34%,#4f4f4f 35.3%,#494949 36.5%,#3d3d3d 40.7%,#212121 46.5%,#1c1c1c 48.1%,#1a1a1a 50.6%,#0b0b0b 100%)"></i><i style="background:linear-gradient(90deg,#838383 0%,#858585 1.7%,#8c8c8c 2.9%,#999999 4.1%,#b6b6b6 6.2%,#c5c5c5 7.5%,#d3d3d3 9.1%,#e2e2e2 11.2%,#e6e6e6 12%,#e8e8e8 12.9%,#e6e6e6 16.2%,#e2e2e2 17.8%,#dedede 18.7%,#d5d5d5 19.9%,#888888 29.5%,#585858 34.4%,#4e4e4e 35.7%,#494949 36.9%,#3e3e3e 40.7%,#1f1f1f 46.5%,#181818 48.1%,#161616 50.6%,#0a0a0a 100%)"></i><i style="background:linear-gradient(90deg,#8b8b8b 0%,#8c8c8c 1.7%,#939393 2.9%,#a0a0a0 4.1%,#c4c4c4 6.6%,#cecece 7.5%,#dadada 8.7%,#ededed 11.2%,#f1f1f1 12%,#f3f3f3 12.9%,#f1f1f1 16.6%,#ededed 17.8%,#e5e5e5 19.1%,#b7b7b7 24.1%,#898989 29.5%,#5a5a5a 34.4%,#505050 35.7%,#4a4a4a 36.9%,#424242 39.8%,#3c3c3c 41.1%,#1c1c1c 46.5%,#141414 48.1%,#121212 50.6%,#080808 100%)"></i><i style="background:linear-gradient(90deg,#909090 0%,#929292 1.7%,#989898 2.9%,#a5a5a5 4.1%,#c7c7c7 6.6%,#d1d1d1 7.5%,#e0e0e0 9.1%,#f0f0f0 11.2%,#f4f4f4 12%,#f6f6f6 12.9%,#f4f4f4 16.6%,#f0f0f0 17.8%,#e8e8e8 19.1%,#bababa 24.1%,#858585 30.3%,#5b5b5b 34.9%,#515151 36.1%,#4a4a4a 37.3%,#3e3e3e 41.1%,#1a1a1a 46.9%,#131313 48.5%,#111111 51%,#070707 100%)"></i><i style="background:linear-gradient(90deg,#959595 0%,#969696 1.7%,#9c9c9c 2.9%,#a9a9a9 4.1%,#d2d2d2 7.5%,#e1e1e1 9.1%,#f1f1f1 11.2%,#f5f5f5 12%,#f7f7f7 12.9%,#f5f5f5 16.6%,#f2f2f2 17.8%,#eaeaea 19.1%,#b6b6b6 24.9%,#878787 30.7%,#515151 36.5%,#4b4b4b 37.8%,#414141 40.7%,#3c3c3c 41.9%,#1a1a1a 47.3%,#141414 48.5%,#111111 51%,#070707 100%)"></i><i style="background:linear-gradient(90deg,#999999 0%,#9b9b9b 1.7%,#a1a1a1 2.9%,#adadad 4.1%,#cbcbcb 6.6%,#d8d8d8 7.9%,#ececec 10.4%,#f4f4f4 11.6%,#f8f8f8 12.4%,#f8f8f8 13.3%,#f6f6f6 16.6%,#f3f3f3 17.8%,#e8e8e8 19.5%,#b9b9b9 24.9%,#848484 31.5%,#525252 36.9%,#4b4b4b 38.2%,#3d3d3d 41.9%,#1a1a1a 47.7%,#141414 49%,#111111 51.5%,#060606 100%)"></i><i style="background:linear-gradient(90deg,#9e9e9e 0%,#9f9f9f 1.7%,#a5a5a5 2.9%,#b1b1b1 4.1%,#cccccc 6.6%,#d9d9d9 7.9%,#ededed 10.4%,#f5f5f5 11.6%,#f8f8f8 12.4%,#f9f9f9 13.3%,#f7f7f7 16.6%,#f4f4f4 17.8%,#e9e9e9 19.5%,#b8b8b8 25.3%,#858585 32%,#5a5a5a 36.5%,#505050 37.8%,#494949 39%,#3d3d3d 42.3%,#1c1c1c 47.7%,#141414 49.4%,#111111 51.9%,#060606 100%)"></i><i style="background:linear-gradient(90deg,#a2a2a2 0%,#a4a4a4 1.7%,#aaaaaa 2.9%,#b4b4b4 4.1%,#dadada 7.9%,#eeeeee 10.4%,#f6f6f6 11.6%,#f9f9f9 12.4%,#fafafa 13.3%,#f8f8f8 16.6%,#f5f5f5 17.8%,#ededed 19.1%,#b8b8b8 25.7%,#8a8a8a 32%,#515151 38.2%,#4a4a4a 39.4%,#3d3d3d 42.7%,#1c1c1c 48.1%,#141414 49.8%,#111111 52.3%,#050505 100%)"></i><i style="background:linear-gradient(90deg,#a5a5a5 0%,#a7a7a7 1.7%,#adadad 2.9%,#b7b7b7 4.1%,#dadada 7.9%,#ededed 10.4%,#f5f5f5 11.6%,#f8f8f8 12.4%,#f9f9f9 13.3%,#f6f6f6 16.6%,#f3f3f3 17.8%,#ededed 19.1%,#b6b6b6 26.1%,#8a8a8a 32.4%,#7d7d7d 34%,#585858 37.8%,#4e4e4e 39%,#3d3d3d 43.2%,#1c1c1c 48.5%,#141414 50.2%,#111111 52.7%,#050505 100%)"></i><i style="background:linear-gradient(90deg,#a4a4a4 0%,#a6a6a6 1.7%,#ababab 2.9%,#b6b6b6 4.1%,#d6d6d6 7.5%,#dedede 8.7%,#ededed 11.2%,#f2f2f2 12.9%,#f1f1f1 14.5%,#ebebeb 17.8%,#e3e3e3 19.5%,#b0b0b0 26.6%,#848484 33.6%,#595959 38.2%,#4f4f4f 39.4%,#494949 40.7%,#3e3e3e 43.6%,#1a1a1a 49.4%,#131313 51%,#111111 53.5%,#050505 100%)"></i><i style="background:linear-gradient(90deg,#a3a3a3 0%,#a4a4a4 1.7%,#aaaaaa 2.9%,#b4b4b4 4.1%,#d1d1d1 7.1%,#dddddd 8.7%,#ebebeb 12%,#ececec 12.9%,#ebebeb 14.1%,#e2e2e2 17.8%,#dbdbdb 19.5%,#aaaaaa 27%,#838383 34%,#797979 35.3%,#575757 39%,#4e4e4e 40.2%,#3d3d3d 44.4%,#1b1b1b 49.8%,#141414 51.5%,#111111 53.9%,#050505 100%)"></i><i style="background:linear-gradient(90deg,#a1a1a1 0%,#a3a3a3 1.7%,#a8a8a8 2.9%,#b3b3b3 4.1%,#d0d0d0 7.1%,#d9d9d9 8.3%,#e4e4e4 11.6%,#e6e6e6 12.9%,#e6e6e6 13.7%,#dbdbdb 17.4%,#d3d3d3 19.5%,#a7a7a7 27%,#858585 34%,#797979 35.7%,#585858 39.4%,#4f4f4f 40.7%,#3e3e3e 44.8%,#1a1a1a 50.6%,#131313 52.3%,#111111 54.8%,#050505 100%)"></i><i style="background:linear-gradient(90deg,#a0a0a0 0%,#a1a1a1 1.7%,#a7a7a7 2.9%,#b1b1b1 4.1%,#d0d0d0 7.1%,#d9d9d9 8.3%,#dcdcdc 9.5%,#e0e0e0 11.6%,#e0e0e0 13.7%,#cbcbcb 19.5%,#a1a1a1 27.4%,#828282 34.9%,#797979 36.1%,#505050 41.1%,#494949 42.3%,#3c3c3c 45.6%,#1b1b1b 51%,#131313 52.7%,#111111 55.2%,#050505 100%)"></i><i style="background:linear-gradient(90deg,#9e9e9e 0%,#a0a0a0 1.7%,#a6a6a6 2.9%,#b4b4b4 4.6%,#cfcfcf 7.1%,#d8d8d8 8.3%,#dbdbdb 10%,#dbdbdb 13.3%,#d6d6d6 14.9%,#c5c5c5 19.1%,#9b9b9b 27.8%,#818181 35.3%,#767676 36.9%,#575757 40.7%,#4e4e4e 41.9%,#3d3d3d 46.1%,#191919 51.9%,#131313 53.5%,#111111 56%,#050505 100%)"></i><i style="background:linear-gradient(90deg,#9e9e9e 0%,#a0a0a0 1.7%,#a5a5a5 2.9%,#b0b0b0 4.1%,#cdcdcd 7.1%,#d6d6d6 8.3%,#d9d9d9 10%,#d9d9d9 13.3%,#d2d2d2 15.4%,#9b9b9b 27.4%,#808080 35.3%,#787878 36.5%,#505050 41.5%,#4a4a4a 42.7%,#3e3e3e 46.1%,#1a1a1a 51.9%,#131313 53.5%,#111111 56%,#050505 100%)"></i><i style="background:linear-gradient(90deg,#9e9e9e 0%,#a0a0a0 1.7%,#a6a6a6 2.9%,#b0b0b0 4.1%,#cbcbcb 7.1%,#d3d3d3 8.3%,#d7d7d7 10%,#d7d7d7 13.3%,#d2d2d2 14.9%,#bababa 19.9%,#9c9c9c 27%,#818181 34.9%,#777777 36.5%,#585858 40.2%,#505050 41.5%,#4a4a4a 42.7%,#3e3e3e 46.1%,#1a1a1a 51.9%,#131313 53.5%,#111111 56%,#050505 100%)"></i><i style="background:linear-gradient(90deg,#9e9e9e 0%,#9f9f9f 1.2%,#a3a3a3 2.5%,#acacac 3.7%,#c9c9c9 7.1%,#d1d1d1 8.3%,#d4d4d4 10%,#d5d5d5 13.3%,#d1d1d1 14.5%,#bababa 19.5%,#9d9d9d 26.6%,#838383 34.4%,#787878 36.1%,#575757 40.2%,#4f4f4f 41.5%,#3e3e3e 46.1%,#1a1a1a 51.9%,#131313 53.5%,#111111 56%,#050505 100%)"></i><i style="background:linear-gradient(90deg,#9e9e9e 0%,#9f9f9f 1.2%,#a4a4a4 2.5%,#c8c8c8 7.1%,#cecece 8.3%,#d2d2d2 10%,#d3d3d3 13.3%,#cfcfcf 14.5%,#bcbcbc 18.3%,#b4b4b4 20.3%,#9b9b9b 27%,#848484 34%,#7a7a7a 35.7%,#505050 41.1%,#4a4a4a 42.3%,#3e3e3e 46.1%,#1a1a1a 51.9%,#131313 53.5%,#111111 56%,#050505 100%)"></i><i style="background:linear-gradient(90deg,#9e9e9e 0%,#9f9f9f 1.2%,#a4a4a4 2.5%,#c3c3c3 6.6%,#cccccc 8.3%,#d0d0d0 10.4%,#d1d1d1 13.3%,#cdcdcd 14.5%,#bbbbbb 17.8%,#b4b4b4 19.5%,#9a9a9a 27%,#858585 33.6%,#7b7b7b 35.3%,#585858 39.8%,#4f4f4f 41.1%,#4a4a4a 42.3%,#3e3e3e 46.1%,#1a1a1a 51.9%,#131313 53.5%,#111111 56%,#050505 100%)"></i><i style="background:linear-gradient(90deg,#a1a1a1 0%,#a2a2a2 1.2%,#a4a4a4 2.1%,#c3c3c3 6.6%,#cbcbcb 8.3%,#cfcfcf 10.4%,#d0d0d0 13.3%,#cccccc 14.5%,#bdbdbd 17.4%,#b5b5b5 19.1%,#848484 33.6%,#7a7a7a 35.3%,#515151 40.7%,#4b4b4b 41.9%,#3d3d3d 46.1%,#1a1a1a 51.9%,#131313 53.5%,#111111 56%,#050505 100%)"></i><i style="background:linear-gradient(90deg,#a8a8a8 0%,#a9a9a9 1.2%,#acacac 2.1%,#c1c1c1 5.4%,#cfcfcf 8.3%,#d2d2d2 10.4%,#d2d2d2 13.3%,#cfcfcf 14.5%,#b9b9b9 19.1%,#868686 33.2%,#7c7c7c 34.9%,#515151 40.7%,#4b4b4b 41.9%,#424242 44.8%,#3d3d3d 46.1%,#1b1b1b 51.5%,#131313 53.1%,#111111 55.6%,#050505 100%)"></i><i style="background:linear-gradient(90deg,#b0b0b0 0%,#b1b1b1 1.2%,#b4b4b4 2.1%,#c5c5c5 5%,#d2d2d2 8.3%,#d4d4d4 9.5%,#d5d5d5 12%,#d3d3d3 14.1%,#bebebe 18.7%,#a0a0a0 27%,#858585 33.2%,#7b7b7b 34.9%,#515151 40.7%,#3f3f3f 45.6%,#1a1a1a 51.5%,#141414 52.7%,#121212 53.5%,#050505 100%)"></i><i style="background:linear-gradient(90deg,#b8b8b8 0%,#bababa 1.7%,#c9c9c9 4.6%,#d5d5d5 8.3%,#d7d7d7 9.5%,#d8d8d8 12%,#d5d5d5 14.1%,#c1c1c1 18.7%,#a2a2a2 27%,#878787 32.8%,#7b7b7b 34.9%,#545454 40.2%,#4d4d4d 41.5%,#3f3f3f 45.6%,#191919 51.5%,#131313 53.1%,#050505 100%)"></i><i style="background:linear-gradient(90deg,#c0c0c0 0%,#c2c2c2 1.7%,#d0d0d0 4.6%,#d9d9d9 8.3%,#dbdbdb 12%,#d7d7d7 14.1%,#c4c4c4 18.7%,#a6a6a6 26.6%,#9d9d9d 28.6%,#808080 34%,#545454 40.2%,#4e4e4e 41.5%,#404040 45.2%,#393939 46.5%,#1a1a1a 51%,#131313 52.7%,#111111 55.2%,#050505 100%)"></i><i style="background:linear-gradient(90deg,#c7c7c7 0%,#c9c9c9 1.7%,#d7d7d7 4.6%,#dddddd 7.9%,#dedede 9.5%,#dddddd 12%,#d9d9d9 14.5%,#a3a3a3 27.8%,#828282 33.6%,#565656 39.8%,#505050 41.1%,#404040 45.2%,#191919 51%,#131313 52.7%,#050505 100%)"></i><i style="background:linear-gradient(90deg,#d1d1d1 0%,#d2d2d2 1.7%,#dfdfdf 4.6%,#e2e2e2 7.5%,#e3e3e3 9.5%,#e2e2e2 11.6%,#e0e0e0 13.3%,#dcdcdc 14.5%,#a8a8a8 27.4%,#818181 33.6%,#555555 39.8%,#4f4f4f 41.1%,#404040 45.2%,#191919 51%,#121212 52.7%,#050505 100%)"></i><i style="background:linear-gradient(90deg,#d9d9d9 0%,#dadada 1.7%,#e6e6e6 4.6%,#eaeaea 8.3%,#e7e7e7 12%,#e1e1e1 14.5%,#ababab 27.4%,#858585 33.2%,#565656 39.4%,#505050 40.7%,#404040 45.2%,#1b1b1b 50.6%,#131313 52.3%,#111111 54.8%,#050505 100%)"></i><i style="background:linear-gradient(90deg,#d9d9d9 0%,#dadada 1.7%,#e6e6e6 4.6%,#eaeaea 8.3%,#e7e7e7 12%,#e1e1e1 14.5%,#ababab 27.4%,#858585 33.2%,#565656 39.4%,#505050 40.7%,#404040 45.2%,#1b1b1b 50.6%,#131313 52.3%,#111111 54.8%,#050505 100%)"></i></div></div><div class="hc" style="left:391px;top:147px;width:115px;height:89px"><div class="hm" style="width:121px;height:95px"><i style="background:linear-gradient(90deg,#4d4d4d 0%,#4d4d4d 2.9%,#515151 7.1%,#606060 17.4%,#7f7f7f 31.5%,#878787 39.4%,#8c8c8c 49.4%,#959595 53.1%,#969696 54.4%,#8f8f8f 62.2%,#838383 66.4%,#828282 67.2%,#838383 68%,#8a8a8a 70.5%,#8a8a8a 71.4%,#858585 72.6%,#6a6a6a 75.9%,#555555 78.8%,#4b4b4b 80.9%,#3d3d3d 87.1%,#343434 97.1%,#333333 100%)"></i><i style="background:linear-gradient(90deg,#4d4d4d 0%,#4d4d4d 2.9%,#515151 7.1%,#606060 17.4%,#7f7f7f 31.5%,#878787 39.4%,#8c8c8c 49.4%,#959595 53.1%,#969696 54.4%,#8f8f8f 62.2%,#838383 66.4%,#828282 67.2%,#838383 68%,#8a8a8a 70.5%,#8a8a8a 71.4%,#858585 72.6%,#6a6a6a 75.9%,#555555 78.8%,#4b4b4b 80.9%,#3d3d3d 87.1%,#343434 97.1%,#333333 100%)"></i><i style="background:linear-gradient(90deg,#4d4d4d 0%,#4d4d4d 2.9%,#515151 7.1%,#606060 17.4%,#7f7f7f 31.5%,#878787 39.4%,#8d8d8d 49.4%,#8f8f8f 50.6%,#979797 53.1%,#989898 54.8%,#919191 62.7%,#848484 67.6%,#858585 68.9%,#8a8a8a 71%,#8a8a8a 72.2%,#838383 73.4%,#686868 76.8%,#565656 79.3%,#4f4f4f 80.5%,#4a4a4a 81.7%,#3d3d3d 87.6%,#343434 97.1%,#333333 100%)"></i><i style="background:linear-gradient(90deg,#4d4d4d 0%,#4d4d4d 2.9%,#515151 7.1%,#606060 17.4%,#7f7f7f 31.5%,#878787 39.4%,#8e8e8e 49.4%,#909090 50.6%,#999999 53.1%,#9b9b9b 55.2%,#959595 62.7%,#878787 67.2%,#858585 68.5%,#868686 69.7%,#8b8b8b 71.8%,#8b8b8b 72.6%,#858585 73.9%,#686868 77.6%,#565656 80.1%,#4b4b4b 82.2%,#3d3d3d 88.4%,#343434 97.1%,#333333 100%)"></i><i style="background:linear-gradient(90deg,#4d4d4d 0%,#4d4d4d 2.9%,#515151 7.1%,#5e5e5e 16.2%,#636363 19.5%,#7f7f7f 31.1%,#878787 39%,#8e8e8e 49%,#919191 50.6%,#9c9c9c 53.5%,#9e9e9e 56%,#989898 62.7%,#878787 68.9%,#878787 70.1%,#8b8b8b 72.6%,#8b8b8b 73.4%,#858585 74.7%,#6a6a6a 78%,#555555 80.9%,#4b4b4b 83%,#3d3d3d 89.2%,#343434 97.1%,#333333 100%)"></i><i style="background:linear-gradient(90deg,#484848 0%,#494949 3.3%,#4e4e4e 9.1%,#5b5b5b 18.7%,#606060 21.2%,#7b7b7b 32%,#858585 39.8%,#8e8e8e 49.4%,#929292 50.6%,#9d9d9d 53.5%,#a0a0a0 56.4%,#9b9b9b 62.7%,#898989 69.3%,#888888 70.5%,#8c8c8c 73%,#8b8b8b 73.9%,#858585 75.1%,#6a6a6a 78.4%,#555555 81.3%,#4b4b4b 83.4%,#3d3d3d 89.2%,#343434 97.1%,#333333 100%)"></i><i style="background:linear-gradient(90deg,#434343 0%,#434343 3.3%,#4a4a4a 11.2%,#585858 20.7%,#777777 33.2%,#848484 40.7%,#8e8e8e 49.4%,#929292 50.6%,#9e9e9e 53.5%,#a1a1a1 54.8%,#a1a1a1 56.8%,#9c9c9c 63.1%,#8a8a8a 69.7%,#898989 71%,#8c8c8c 73.4%,#8b8b8b 74.3%,#858585 75.5%,#6b6b6b 78.8%,#565656 81.7%,#4b4b4b 83.8%,#3d3d3d 89.6%,#343434 97.1%,#333333 100%)"></i><i style="background:linear-gradient(90deg,#3d3d3d 0%,#3e3e3e 3.3%,#474747 13.7%,#545454 22.8%,#757575 35.3%,#828282 41.1%,#8e8e8e 49.4%,#929292 50.6%,#9f9f9f 53.5%,#a2a2a2 54.8%,#a3a3a3 56.8%,#9e9e9e 63.1%,#8b8b8b 70.1%,#8b8b8b 71.4%,#8d8d8d 73.9%,#8c8c8c 74.7%,#858585 75.9%,#6b6b6b 79.3%,#565656 82.2%,#4b4b4b 84.2%,#404040 88%,#3c3c3c 90%,#343434 97.1%,#333333 100%)"></i><i style="background:linear-gradient(90deg,#383838 0%,#393939 3.7%,#434343 15.8%,#4f4f4f 24.5%,#7e7e7e 40.2%,#8e8e8e 49.4%,#929292 50.6%,#a2a2a2 53.9%,#a5a5a5 56.8%,#a0a0a0 63.1%,#8c8c8c 71%,#8d8d8d 74.3%,#8c8c8c 75.1%,#868686 76.3%,#6b6b6b 79.7%,#565656 82.6%,#4b4b4b 84.6%,#3d3d3d 90%,#343434 97.1%,#333333 100%)"></i><i style="background:linear-gradient(90deg,#333333 0%,#343434 3.7%,#3f3f3f 17.8%,#4c4c4c 26.6%,#7e7e7e 41.5%,#8f8f8f 49.8%,#a3a3a3 53.9%,#a7a7a7 55.6%,#a8a8a8 57.3%,#a3a3a3 63.1%,#8e8e8e 71.4%,#8e8e8e 74.7%,#8c8c8c 75.5%,#868686 76.8%,#6b6b6b 80.1%,#565656 83%,#4b4b4b 85.1%,#414141 88.4%,#3c3c3c 90.5%,#343434 97.1%,#333333 100%)"></i><i style="background:linear-gradient(90deg,#313131 0%,#323232 3.7%,#3d3d3d 18.3%,#4b4b4b 27%,#616161 34.4%,#7c7c7c 42.3%,#8d8d8d 49.4%,#929292 50.6%,#a1a1a1 53.1%,#a6a6a6 54.4%,#aaaaaa 57.3%,#a6a6a6 62.7%,#929292 71%,#8d8d8d 75.5%,#8a8a8a 76.3%,#858585 77.2%,#6a6a6a 80.5%,#555555 83.4%,#4a4a4a 85.5%,#3d3d3d 90.5%,#343434 97.1%,#333333 100%)"></i><i style="background:linear-gradient(90deg,#2f2f2f 0%,#303030 3.7%,#3b3b3b 18.7%,#4b4b4b 27.8%,#616161 35.7%,#7a7a7a 43.2%,#8b8b8b 49%,#929292 50.6%,#a6a6a6 53.9%,#acacac 56%,#adadad 57.7%,#a9a9a9 63.1%,#959595 71%,#8e8e8e 75.9%,#878787 77.2%,#6b6b6b 80.5%,#595959 83%,#515151 84.2%,#4b4b4b 85.5%,#414141 88.8%,#3c3c3c 90.9%,#343434 97.1%,#333333 100%)"></i><i style="background:linear-gradient(90deg,#2e2e2e 0%,#2f2f2f 3.7%,#3a3a3a 19.5%,#4b4b4b 28.6%,#5c5c5c 35.7%,#646464 38.2%,#8b8b8b 49.4%,#929292 50.6%,#a3a3a3 53.1%,#a9a9a9 54.4%,#aeaeae 56%,#afafaf 57.7%,#acacac 63.1%,#989898 71%,#8f8f8f 75.9%,#8c8c8c 76.8%,#868686 77.6%,#6a6a6a 80.9%,#585858 83.4%,#505050 84.6%,#4a4a4a 85.9%,#3d3d3d 90.9%,#343434 97.1%,#333333 100%)"></i><i style="background:linear-gradient(90deg,#2c2c2c 0%,#2d2d2d 3.7%,#383838 20.3%,#595959 36.1%,#626262 39%,#7e7e7e 46.5%,#8c8c8c 49.8%,#a9a9a9 53.9%,#b0b0b0 56%,#b2b2b2 57.7%,#b0b0b0 61.8%,#aeaeae 63.5%,#9b9b9b 71%,#909090 75.9%,#898989 77.6%,#626262 82.2%,#535353 84.2%,#4b4b4b 85.9%,#414141 89.2%,#3c3c3c 91.3%,#343434 97.1%,#333333 100%)"></i><i style="background:linear-gradient(90deg,#2a2a2a 0%,#2b2b2b 3.7%,#363636 20.7%,#595959 37.8%,#6e6e6e 43.6%,#7c7c7c 46.9%,#8c8c8c 49.8%,#a5a5a5 53.1%,#acacac 54.4%,#b3b3b3 56.4%,#b5b5b5 58.1%,#b1b1b1 63.5%,#919191 76.3%,#888888 78%,#646464 82.2%,#525252 84.6%,#4c4c4c 85.9%,#3d3d3d 91.3%,#343434 97.1%,#333333 100%)"></i><i style="background:linear-gradient(90deg,#292929 0%,#292929 3.7%,#353535 21.2%,#494949 30.3%,#575757 38.6%,#616161 41.5%,#727272 45.6%,#8b8b8b 49.8%,#a3a3a3 52.7%,#ababab 53.9%,#b5b5b5 56%,#b8b8b8 58.1%,#b7b7b7 61.8%,#b5b5b5 63.5%,#929292 76.3%,#8a8a8a 78%,#626262 82.6%,#545454 84.6%,#4b4b4b 86.3%,#3c3c3c 91.7%,#343434 97.1%,#333333 100%)"></i><i style="background:linear-gradient(90deg,#272727 0%,#282828 3.7%,#333333 21.6%,#363636 23.7%,#484848 30.7%,#565656 39.8%,#656565 44%,#6e6e6e 46.1%,#868686 49.4%,#a4a4a4 52.7%,#adadad 53.9%,#b7b7b7 56%,#bababa 58.1%,#bababa 61.8%,#b7b7b7 63.9%,#949494 76.3%,#8f8f8f 77.6%,#898989 78.4%,#646464 82.6%,#555555 84.6%,#4c4c4c 86.3%,#3d3d3d 91.7%,#353535 97.1%,#333333 100%)"></i><i style="background:linear-gradient(90deg,#252525 0%,#262626 4.1%,#313131 22.4%,#484848 31.5%,#545454 40.7%,#656565 45.2%,#6e6e6e 46.9%,#7c7c7c 48.5%,#a4a4a4 52.7%,#b1b1b1 54.4%,#bbbbbb 56.4%,#bdbdbd 58.5%,#bcbcbc 62.2%,#bababa 63.9%,#a6a6a6 71.4%,#939393 77.2%,#898989 78.8%,#6d6d6d 81.7%,#5f5f5f 83.4%,#515151 85.5%,#4a4a4a 87.1%,#3c3c3c 92.1%,#343434 97.5%,#333333 100%)"></i><i style="background:linear-gradient(90deg,#242424 0%,#242424 3.7%,#2f2f2f 22.8%,#323232 24.5%,#474747 32%,#525252 41.5%,#626262 45.6%,#6b6b6b 47.3%,#737373 48.1%,#a1a1a1 52.3%,#b2b2b2 54.4%,#bdbdbd 56.4%,#c0c0c0 58.5%,#c0c0c0 61.8%,#bebebe 63.5%,#a6a6a6 72.2%,#969696 76.8%,#8e8e8e 78.4%,#888888 79.3%,#6f6f6f 81.7%,#646464 83%,#555555 85.1%,#4c4c4c 86.7%,#3d3d3d 92.1%,#343434 97.5%,#333333 100%)"></i><i style="background:linear-gradient(90deg,#222222 0%,#232323 4.1%,#2e2e2e 23.2%,#313131 24.9%,#474747 32.4%,#505050 41.9%,#5d5d5d 45.2%,#646464 46.9%,#6f6f6f 48.1%,#949494 51%,#adadad 53.5%,#b7b7b7 54.8%,#bdbdbd 56%,#c1c1c1 57.3%,#c2c2c2 58.5%,#c2c2c2 61.8%,#c0c0c0 63.5%,#aaaaaa 71.8%,#979797 76.8%,#8f8f8f 78.4%,#868686 79.7%,#707070 81.7%,#656565 83%,#565656 85.1%,#4d4d4d 86.7%,#434343 89.6%,#3c3c3c 92.5%,#343434 97.5%,#333333 100%)"></i><i style="background:linear-gradient(90deg,#222222 0%,#232323 4.1%,#2e2e2e 23.7%,#313131 25.3%,#474747 32.8%,#4e4e4e 40.7%,#515151 42.3%,#5e5e5e 45.6%,#676767 47.3%,#747474 48.5%,#8f8f8f 50.6%,#9e9e9e 51.9%,#aaaaaa 53.1%,#b5b5b5 54.4%,#c0c0c0 56.4%,#c3c3c3 58.5%,#c3c3c3 61.8%,#c2c2c2 63.5%,#ababab 71.8%,#979797 76.8%,#8f8f8f 78.4%,#868686 79.7%,#707070 81.7%,#656565 83%,#565656 85.1%,#4d4d4d 86.7%,#434343 89.6%,#3c3c3c 92.5%,#343434 97.5%,#333333 100%)"></i><i style="background:linear-gradient(90deg,#222222 0%,#232323 3.7%,#2e2e2e 23.7%,#323232 25.7%,#464646 32.8%,#4e4e4e 40.7%,#515151 42.3%,#5e5e5e 45.6%,#676767 47.3%,#747474 48.5%,#8f8f8f 50.6%,#9e9e9e 51.9%,#ababab 53.1%,#b5b5b5 54.4%,#c1c1c1 56.4%,#c5c5c5 58.5%,#c5c5c5 61.8%,#c3c3c3 63.5%,#acacac 71.8%,#989898 76.8%,#909090 78.4%,#868686 79.7%,#707070 81.7%,#656565 83%,#565656 85.1%,#4d4d4d 86.7%,#434343 89.6%,#3c3c3c 92.5%,#343434 97.5%,#333333 100%)"></i><i style="background:linear-gradient(90deg,#222222 0%,#232323 3.7%,#2e2e2e 24.1%,#323232 26.1%,#474747 33.2%,#4e4e4e 40.7%,#515151 42.3%,#5e5e5e 45.6%,#676767 47.3%,#747474 48.5%,#9e9e9e 51.9%,#ababab 53.1%,#b6b6b6 54.4%,#c2c2c2 56.4%,#c6c6c6 58.5%,#c6c6c6 61.8%,#c4c4c4 63.5%,#aeaeae 71.4%,#989898 76.8%,#909090 78.4%,#868686 79.7%,#707070 81.7%,#656565 83%,#565656 85.1%,#4d4d4d 86.7%,#434343 89.6%,#3c3c3c 92.5%,#343434 97.5%,#333333 100%)"></i><i style="background:linear-gradient(90deg,#222222 0%,#232323 4.1%,#2e2e2e 24.5%,#313131 26.1%,#474747 33.6%,#4e4e4e 40.7%,#515151 42.3%,#5e5e5e 45.6%,#676767 47.3%,#747474 48.5%,#8f8f8f 50.6%,#a3a3a3 52.3%,#b0b0b0 53.5%,#bababa 54.8%,#c4c4c4 56.4%,#c6c6c6 57.3%,#c7c7c7 58.5%,#c7c7c7 62.2%,#c4c4c4 63.9%,#b2b2b2 70.5%,#a7a7a7 73.4%,#909090 78.4%,#868686 79.7%,#707070 81.7%,#626262 83.4%,#515151 85.9%,#494949 87.6%,#3c3c3c 92.5%,#343434 97.5%,#333333 100%)"></i><i style="background:linear-gradient(90deg,#222222 0%,#232323 4.1%,#2e2e2e 24.9%,#313131 26.6%,#474747 33.6%,#515151 42.3%,#5e5e5e 45.6%,#676767 47.3%,#747474 48.5%,#9f9f9f 51.9%,#b4b4b4 53.9%,#bebebe 55.2%,#c5c5c5 56.4%,#c7c7c7 57.3%,#c8c8c8 58.5%,#c8c8c8 62.2%,#c6c6c6 63.9%,#b3b3b3 70.5%,#a9a9a9 73%,#909090 78.4%,#868686 79.7%,#707070 81.7%,#626262 83.4%,#515151 85.9%,#494949 87.6%,#3c3c3c 92.5%,#343434 97.5%,#333333 100%)"></i><i style="background:linear-gradient(90deg,#222222 0%,#232323 4.1%,#2e2e2e 25.3%,#323232 27%,#474747 34%,#505050 42.3%,#5d5d5d 45.6%,#676767 47.3%,#747474 48.5%,#a4a4a4 52.3%,#b5b5b5 53.9%,#bfbfbf 55.2%,#c6c6c6 56.4%,#c8c8c8 57.3%,#c9c9c9 58.5%,#c9c9c9 61.8%,#c8c8c8 63.5%,#b5b5b5 70.1%,#acacac 72.6%,#909090 78.4%,#868686 79.7%,#707070 81.7%,#656565 83%,#535353 85.5%,#4b4b4b 87.1%,#3c3c3c 92.5%,#343434 97.5%,#333333 100%)"></i><i style="background:linear-gradient(90deg,#222222 0%,#232323 3.7%,#2e2e2e 25.3%,#323232 27.4%,#464646 34%,#4e4e4e 41.1%,#515151 42.7%,#5f5f5f 46.1%,#6b6b6b 47.7%,#747474 48.5%,#a4a4a4 52.3%,#b2b2b2 53.5%,#bcbcbc 54.8%,#c7c7c7 56.4%,#cacaca 57.3%,#cbcbcb 58.5%,#cbcbcb 61.8%,#c9c9c9 63.5%,#b6b6b6 70.1%,#adadad 72.6%,#909090 78.4%,#868686 79.7%,#707070 81.7%,#656565 83%,#535353 85.5%,#4b4b4b 87.1%,#3c3c3c 92.5%,#343434 97.5%,#333333 100%)"></i><i style="background:linear-gradient(90deg,#222222 0%,#232323 4.1%,#2e2e2e 25.7%,#323232 27.8%,#474747 34.4%,#4e4e4e 41.1%,#515151 42.7%,#5f5f5f 46.1%,#6b6b6b 47.7%,#747474 48.5%,#a5a5a5 52.3%,#b2b2b2 53.5%,#bdbdbd 54.8%,#c8c8c8 56.4%,#cbcbcb 57.3%,#cccccc 58.5%,#cccccc 61.8%,#cacaca 63.5%,#b7b7b7 70.1%,#b0b0b0 72.2%,#909090 78.4%,#868686 79.7%,#707070 81.7%,#656565 83%,#535353 85.5%,#4b4b4b 87.1%,#3c3c3c 92.5%,#343434 97.5%,#333333 100%)"></i><i style="background:linear-gradient(90deg,#222222 0%,#232323 4.1%,#2e2e2e 26.1%,#313131 27.8%,#464646 34.4%,#4e4e4e 41.1%,#515151 42.7%,#5f5f5f 46.1%,#6b6b6b 47.7%,#747474 48.5%,#aaaaaa 52.7%,#bebebe 54.8%,#c9c9c9 56.4%,#cccccc 57.3%,#cdcdcd 58.5%,#cdcdcd 61.8%,#cbcbcb 63.5%,#b8b8b8 70.1%,#b1b1b1 72.2%,#909090 78.4%,#868686 79.7%,#707070 81.7%,#656565 83%,#535353 85.5%,#4b4b4b 87.1%,#3c3c3c 92.5%,#343434 97.5%,#333333 100%)"></i><i style="background:linear-gradient(90deg,#222222 0%,#232323 4.1%,#2e2e2e 26.6%,#313131 28.2%,#464646 34.9%,#515151 42.7%,#5f5f5f 46.1%,#6b6b6b 47.7%,#747474 48.5%,#aaaaaa 52.7%,#bfbfbf 54.8%,#cacaca 56.4%,#cdcdcd 57.3%,#cecece 58.5%,#cecece 61.8%,#cccccc 63.5%,#b9b9b9 70.1%,#b1b1b1 72.2%,#909090 78.4%,#868686 79.7%,#707070 81.7%,#656565 83%,#535353 85.5%,#4b4b4b 87.1%,#3c3c3c 92.5%,#343434 97.5%,#333333 100%)"></i><i style="background:linear-gradient(90deg,#222222 0%,#232323 4.1%,#2e2e2e 27%,#323232 28.6%,#474747 35.3%,#505050 42.7%,#5f5f5f 46.1%,#6b6b6b 47.7%,#747474 48.5%,#ababab 52.7%,#b8b8b8 53.9%,#c3c3c3 55.2%,#cdcdcd 56.8%,#d0d0d0 58.9%,#cfcfcf 61.8%,#cecece 63.5%,#bababa 70.1%,#b2b2b2 72.2%,#909090 78.4%,#868686 79.7%,#707070 81.7%,#656565 83%,#535353 85.5%,#4b4b4b 87.1%,#3c3c3c 92.5%,#343434 97.5%,#333333 100%)"></i><i style="background:linear-gradient(90deg,#222222 0%,#2e2e2e 27%,#323232 29%,#464646 35.3%,#505050 42.7%,#5f5f5f 46.1%,#6b6b6b 47.7%,#747474 48.5%,#ababab 52.7%,#b9b9b9 53.9%,#c4c4c4 55.2%,#cecece 56.8%,#d1d1d1 58.9%,#d1d1d1 61.8%,#cfcfcf 63.5%,#bbbbbb 70.1%,#b3b3b3 72.2%,#919191 78.4%,#868686 79.7%,#707070 81.7%,#656565 83%,#535353 85.5%,#4b4b4b 87.1%,#3c3c3c 92.5%,#343434 97.5%,#333333 100%)"></i><i style="background:linear-gradient(90deg,#222222 0%,#232323 4.1%,#2e2e2e 27.4%,#323232 29%,#464646 35.3%,#505050 42.7%,#5f5f5f 46.1%,#6b6b6b 47.7%,#747474 48.5%,#ababab 52.7%,#b9b9b9 53.9%,#c4c4c4 55.2%,#cecece 56.8%,#d1d1d1 58.9%,#d1d1d1 61.8%,#cfcfcf 63.5%,#bbbbbb 70.1%,#b3b3b3 72.2%,#919191 78.4%,#868686 79.7%,#707070 81.7%,#656565 83%,#535353 85.5%,#4b4b4b 87.1%,#3c3c3c 92.5%,#343434 97.5%,#333333 100%)"></i><i style="background:linear-gradient(90deg,#222222 0%,#232323 4.1%,#2e2e2e 27.4%,#323232 29%,#464646 35.3%,#505050 42.7%,#5f5f5f 46.1%,#6b6b6b 47.7%,#747474 48.5%,#ababab 52.7%,#b9b9b9 53.9%,#c4c4c4 55.2%,#cecece 56.8%,#d0d0d0 58.9%,#d0d0d0 61.8%,#cecece 63.5%,#bbbbbb 70.1%,#b3b3b3 72.2%,#919191 78.4%,#868686 79.7%,#707070 81.7%,#656565 83%,#535353 85.5%,#4b4b4b 87.1%,#3c3c3c 92.5%,#343434 97.5%,#333333 100%)"></i><i style="background:linear-gradient(90deg,#222222 0%,#232323 4.1%,#2e2e2e 27.4%,#323232 29%,#464646 35.3%,#505050 42.7%,#5f5f5f 46.1%,#6b6b6b 47.7%,#747474 48.5%,#ababab 52.7%,#b9b9b9 53.9%,#c4c4c4 55.2%,#cdcdcd 56.8%,#d0d0d0 58.9%,#d0d0d0 61.8%,#cecece 63.5%,#bbbbbb 70.1%,#b3b3b3 72.2%,#909090 78.4%,#868686 79.7%,#707070 81.7%,#656565 83%,#535353 85.5%,#4b4b4b 87.1%,#3c3c3c 92.5%,#343434 97.5%,#333333 100%)"></i><i style="background:linear-gradient(90deg,#222222 0%,#232323 4.1%,#2e2e2e 27.4%,#323232 29%,#464646 35.3%,#505050 42.7%,#5f5f5f 46.1%,#6b6b6b 47.7%,#747474 48.5%,#ababab 52.7%,#b8b8b8 53.9%,#c3c3c3 55.2%,#cdcdcd 56.8%,#d0d0d0 58.9%,#d0d0d0 61.8%,#cecece 63.5%,#bababa 70.1%,#b2b2b2 72.2%,#909090 78.4%,#868686 79.7%,#707070 81.7%,#656565 83%,#535353 85.5%,#4b4b4b 87.1%,#3c3c3c 92.5%,#343434 97.5%,#333333 100%)"></i><i style="background:linear-gradient(90deg,#222222 0%,#232323 4.1%,#2e2e2e 27.4%,#323232 29%,#464646 35.3%,#505050 42.7%,#5f5f5f 46.1%,#6b6b6b 47.7%,#747474 48.5%,#ababab 52.7%,#b8b8b8 53.9%,#c3c3c3 55.2%,#cdcdcd 56.8%,#cfcfcf 58.9%,#cfcfcf 61.8%,#cdcdcd 63.5%,#bababa 70.1%,#b2b2b2 72.2%,#909090 78.4%,#868686 79.7%,#707070 81.7%,#656565 83%,#535353 85.5%,#4b4b4b 87.1%,#3c3c3c 92.5%,#343434 97.5%,#333333 100%)"></i><i style="background:linear-gradient(90deg,#222222 0%,#232323 4.1%,#2e2e2e 27.4%,#323232 29%,#464646 35.3%,#505050 42.7%,#5f5f5f 46.1%,#6b6b6b 47.7%,#747474 48.5%,#ababab 52.7%,#b8b8b8 53.9%,#c3c3c3 55.2%,#cccccc 56.8%,#cfcfcf 58.9%,#cfcfcf 61.8%,#cdcdcd 63.5%,#bababa 70.1%,#b2b2b2 72.2%,#909090 78.4%,#868686 79.7%,#707070 81.7%,#656565 83%,#535353 85.5%,#4b4b4b 87.1%,#3c3c3c 92.5%,#343434 97.5%,#333333 100%)"></i><i style="background:linear-gradient(90deg,#222222 0%,#232323 4.1%,#2e2e2e 27.4%,#323232 29%,#464646 35.3%,#505050 42.7%,#5f5f5f 46.1%,#6b6b6b 47.7%,#747474 48.5%,#aaaaaa 52.7%,#bfbfbf 54.8%,#cacaca 56.4%,#cdcdcd 57.3%,#cecece 58.5%,#cecece 61.8%,#cdcdcd 63.5%,#b9b9b9 70.1%,#b1b1b1 72.2%,#909090 78.4%,#868686 79.7%,#707070 81.7%,#656565 83%,#535353 85.5%,#4b4b4b 87.1%,#3c3c3c 92.5%,#343434 97.5%,#333333 100%)"></i><i style="background:linear-gradient(90deg,#222222 0%,#232323 4.1%,#2e2e2e 27.4%,#323232 29%,#464646 35.3%,#505050 42.7%,#5f5f5f 46.1%,#6b6b6b 47.7%,#747474 48.5%,#aaaaaa 52.7%,#bfbfbf 54.8%,#cacaca 56.4%,#cdcdcd 57.3%,#cecece 58.5%,#cecece 61.8%,#cccccc 63.5%,#b9b9b9 70.1%,#b1b1b1 72.2%,#909090 78.4%,#868686 79.7%,#707070 81.7%,#656565 83%,#535353 85.5%,#4b4b4b 87.1%,#3c3c3c 92.5%,#343434 97.5%,#333333 100%)"></i><i style="background:linear-gradient(90deg,#222222 0%,#232323 4.1%,#2e2e2e 27.4%,#323232 29%,#464646 35.3%,#505050 42.7%,#5f5f5f 46.1%,#6b6b6b 47.7%,#747474 48.5%,#aaaaaa 52.7%,#bfbfbf 54.8%,#cacaca 56.4%,#cccccc 57.3%,#cecece 58.5%,#cecece 61.8%,#cccccc 63.5%,#b8b8b8 70.1%,#b1b1b1 72.2%,#909090 78.4%,#868686 79.7%,#707070 81.7%,#656565 83%,#535353 85.5%,#4b4b4b 87.1%,#3c3c3c 92.5%,#343434 97.5%,#333333 100%)"></i><i style="background:linear-gradient(90deg,#222222 0%,#232323 4.1%,#2e2e2e 27.4%,#323232 29%,#464646 35.3%,#505050 42.7%,#5f5f5f 46.1%,#6b6b6b 47.7%,#747474 48.5%,#aaaaaa 52.7%,#bebebe 54.8%,#c9c9c9 56.4%,#cccccc 57.3%,#cdcdcd 58.5%,#cdcdcd 61.8%,#cbcbcb 63.5%,#b8b8b8 70.1%,#b0b0b0 72.2%,#909090 78.4%,#868686 79.7%,#707070 81.7%,#656565 83%,#535353 85.5%,#4b4b4b 87.1%,#3c3c3c 92.5%,#343434 97.5%,#333333 100%)"></i><i style="background:linear-gradient(90deg,#222222 0%,#232323 4.1%,#2e2e2e 27.4%,#323232 29%,#464646 35.3%,#505050 42.7%,#5f5f5f 46.1%,#6b6b6b 47.7%,#747474 48.5%,#a5a5a5 52.3%,#b3b3b3 53.5%,#bebebe 54.8%,#c9c9c9 56.4%,#cccccc 57.3%,#cdcdcd 58.5%,#cdcdcd 61.8%,#cbcbcb 63.5%,#b8b8b8 70.1%,#b0b0b0 72.2%,#909090 78.4%,#868686 79.7%,#707070 81.7%,#656565 83%,#535353 85.5%,#4b4b4b 87.1%,#3c3c3c 92.5%,#343434 97.5%,#333333 100%)"></i><i style="background:linear-gradient(90deg,#222222 0%,#232323 4.1%,#2e2e2e 27.4%,#323232 29%,#464646 35.3%,#505050 42.7%,#5c5c5c 45.6%,#676767 47.3%,#747474 48.5%,#959595 51%,#aaaaaa 52.7%,#bebebe 54.8%,#c9c9c9 56.4%,#cbcbcb 57.3%,#cdcdcd 58.5%,#cdcdcd 61.8%,#cbcbcb 63.5%,#b7b7b7 70.1%,#b0b0b0 72.2%,#909090 78.4%,#868686 79.7%,#707070 81.7%,#656565 83%,#535353 85.5%,#4b4b4b 87.1%,#3c3c3c 92.5%,#343434 97.5%,#333333 100%)"></i><i style="background:linear-gradient(90deg,#222222 0%,#232323 4.1%,#2e2e2e 27.4%,#323232 29%,#464646 35.3%,#505050 42.7%,#5c5c5c 45.6%,#676767 47.3%,#747474 48.5%,#959595 51%,#aaaaaa 52.7%,#bebebe 54.8%,#c8c8c8 56.4%,#cbcbcb 57.3%,#cccccc 58.5%,#cccccc 61.8%,#cacaca 63.5%,#b7b7b7 70.1%,#adadad 72.6%,#909090 78.4%,#868686 79.7%,#707070 81.7%,#656565 83%,#535353 85.5%,#4b4b4b 87.1%,#3c3c3c 92.5%,#343434 97.5%,#333333 100%)"></i><i style="background:linear-gradient(90deg,#2b2b2b 0%,#2c2c2c 4.1%,#363636 26.6%,#4a4a4a 35.3%,#565656 42.3%,#636363 45.6%,#6d6d6d 47.3%,#7a7a7a 48.5%,#aaaaaa 52.7%,#bbbbbb 54.8%,#c2c2c2 56%,#c5c5c5 56.8%,#c7c7c7 58.9%,#c7c7c7 62.2%,#c4c4c4 63.9%,#b1b1b1 70.5%,#a5a5a5 73.4%,#909090 78%,#868686 79.3%,#6e6e6e 81.7%,#636363 83%,#525252 85.5%,#4a4a4a 87.1%,#3c3c3c 92.5%,#343434 97.5%,#333333 100%)"></i><i style="background:linear-gradient(90deg,#474747 0%,#484848 3.7%,#525252 23.2%,#525252 32.8%,#535353 34.4%,#696969 41.1%,#7e7e7e 46.5%,#858585 47.7%,#a7a7a7 52.3%,#b0b0b0 53.9%,#b7b7b7 56.8%,#b8b8b8 61.4%,#b6b6b6 63.1%,#b4b4b4 64.3%,#8f8f8f 76.3%,#888888 77.6%,#6a6a6a 81.3%,#575757 83.8%,#505050 85.1%,#4a4a4a 86.3%,#3d3d3d 91.3%,#343434 97.1%,#333333 100%)"></i><i style="background:linear-gradient(90deg,#474747 0%,#484848 3.7%,#525252 23.2%,#525252 32.8%,#535353 34.4%,#696969 41.1%,#7e7e7e 46.5%,#858585 47.7%,#a7a7a7 52.3%,#b0b0b0 53.9%,#b7b7b7 56.8%,#b8b8b8 61.4%,#b6b6b6 63.1%,#b4b4b4 64.3%,#8f8f8f 76.3%,#888888 77.6%,#6a6a6a 81.3%,#575757 83.8%,#505050 85.1%,#4a4a4a 86.3%,#3d3d3d 91.3%,#343434 97.1%,#333333 100%)"></i></div></div><div class="hc" style="left:28px;top:278px;width:115px;height:89px"><div class="hm" style="width:121px;height:95px"><i style="background:linear-gradient(90deg,#0f0f0f 0%,#0b0b0b 21.6%,#0a0a0a 40.2%,#111111 56%,#141414 59.3%,#1c1c1c 61.4%,#252525 63.1%,#333333 64.7%,#414141 66%,#4d4d4d 66.8%,#626262 68%,#c0c0c0 73%,#dddddd 74.7%,#ededed 75.9%,#f6f6f6 76.8%,#fcfcfc 77.6%,#ffffff 78.4%,#ffffff 81.3%,#fdfdfd 82.2%,#f9f9f9 83.4%,#efefef 84.6%,#e0e0e0 85.9%,#cccccc 87.1%,#747474 91.7%,#606060 92.9%,#545454 93.8%,#454545 95%,#383838 96.7%,#313131 98.3%,#2c2c2c 100%)"></i><i style="background:linear-gradient(90deg,#0f0f0f 0%,#0b0b0b 21.6%,#0a0a0a 40.2%,#111111 56%,#141414 59.3%,#1c1c1c 61.4%,#252525 63.1%,#333333 64.7%,#414141 66%,#4d4d4d 66.8%,#626262 68%,#c0c0c0 73%,#dddddd 74.7%,#ededed 75.9%,#f6f6f6 76.8%,#fcfcfc 77.6%,#ffffff 78.4%,#ffffff 81.3%,#fdfdfd 82.2%,#f9f9f9 83.4%,#efefef 84.6%,#e0e0e0 85.9%,#cccccc 87.1%,#747474 91.7%,#606060 92.9%,#545454 93.8%,#454545 95%,#383838 96.7%,#313131 98.3%,#2c2c2c 100%)"></i><i style="background:linear-gradient(90deg,#101010 0%,#0b0b0b 21.6%,#0a0a0a 40.2%,#111111 56%,#131313 59.3%,#1c1c1c 61.4%,#252525 63.1%,#323232 64.7%,#3f3f3f 66%,#505050 67.2%,#5e5e5e 68%,#8c8c8c 70.5%,#c5c5c5 73.4%,#dadada 74.7%,#ececec 75.9%,#f4f4f4 76.8%,#fbfbfb 77.6%,#ffffff 78.4%,#ffffff 81.3%,#fdfdfd 82.6%,#f6f6f6 83.8%,#efefef 84.6%,#e0e0e0 85.9%,#cccccc 87.1%,#737373 91.7%,#5e5e5e 92.9%,#525252 93.8%,#444444 95%,#373737 96.7%,#303030 98.3%,#2c2c2c 100%)"></i><i style="background:linear-gradient(90deg,#101010 0%,#0b0b0b 21.6%,#0a0a0a 40.2%,#141414 59.3%,#1b1b1b 61.4%,#242424 63.1%,#303030 64.7%,#3d3d3d 66%,#4d4d4d 67.2%,#5a5a5a 68%,#878787 70.5%,#c8c8c8 73.9%,#dedede 75.1%,#eeeeee 76.3%,#f7f7f7 77.2%,#fdfdfd 78%,#ffffff 78.8%,#ffffff 81.3%,#fdfdfd 82.6%,#f7f7f7 83.8%,#f0f0f0 84.6%,#e6e6e6 85.5%,#d3d3d3 86.7%,#bcbcbc 88%,#717171 91.7%,#5d5d5d 92.9%,#515151 93.8%,#434343 95%,#363636 96.7%,#2f2f2f 98.3%,#2b2b2b 100%)"></i><i style="background:linear-gradient(90deg,#101010 0%,#0b0b0b 21.6%,#0a0a0a 40.2%,#141414 59.3%,#1d1d1d 61.8%,#262626 63.5%,#323232 65.1%,#3f3f3f 66.4%,#575757 68%,#7b7b7b 70.1%,#c4c4c4 73.9%,#e1e1e1 75.5%,#ececec 76.3%,#f5f5f5 77.2%,#fcfcfc 78%,#ffffff 78.8%,#ffffff 81.3%,#fdfdfd 82.6%,#f7f7f7 83.8%,#f0f0f0 84.6%,#e6e6e6 85.5%,#d3d3d3 86.7%,#bcbcbc 88%,#888888 90.5%,#707070 91.7%,#5b5b5b 92.9%,#4f4f4f 93.8%,#414141 95%,#353535 96.7%,#2f2f2f 98.3%,#2b2b2b 100%)"></i><i style="background:linear-gradient(90deg,#101010 0%,#0b0b0b 21.6%,#0a0a0a 40.2%,#141414 59.3%,#1d1d1d 61.8%,#282828 63.9%,#343434 65.6%,#424242 66.8%,#535353 68%,#7e7e7e 70.5%,#c8c8c8 74.3%,#dedede 75.5%,#eaeaea 76.3%,#f4f4f4 77.2%,#fbfbfb 78%,#ffffff 78.8%,#ffffff 81.7%,#fdfdfd 82.6%,#f8f8f8 83.8%,#f0f0f0 84.6%,#e7e7e7 85.5%,#d3d3d3 86.7%,#bcbcbc 88%,#878787 90.5%,#6f6f6f 91.7%,#5a5a5a 92.9%,#4e4e4e 93.8%,#404040 95%,#373737 96.3%,#2f2f2f 97.9%,#2b2b2b 100%)"></i><i style="background:linear-gradient(90deg,#111111 0%,#0b0b0b 21.6%,#0a0a0a 40.2%,#141414 59.3%,#1d1d1d 61.8%,#272727 63.9%,#333333 65.6%,#3f3f3f 66.8%,#505050 68%,#797979 70.5%,#919191 71.8%,#c4c4c4 74.3%,#e2e2e2 75.9%,#ededed 76.8%,#f6f6f6 77.6%,#fcfcfc 78.4%,#ffffff 79.3%,#fefefe 82.6%,#f8f8f8 83.8%,#f1f1f1 84.6%,#e7e7e7 85.5%,#d4d4d4 86.7%,#bbbbbb 88%,#757575 91.3%,#5e5e5e 92.5%,#4c4c4c 93.8%,#3f3f3f 95%,#363636 96.3%,#2f2f2f 97.9%,#2b2b2b 100%)"></i><i style="background:linear-gradient(90deg,#111111 0%,#0b0b0b 21.6%,#0a0a0a 40.2%,#141414 59.3%,#1f1f1f 62.2%,#292929 64.3%,#353535 66%,#424242 67.2%,#535353 68.5%,#7c7c7c 71%,#949494 72.2%,#c8c8c8 74.7%,#dfdfdf 75.9%,#ebebeb 76.8%,#f5f5f5 77.6%,#fcfcfc 78.4%,#ffffff 79.3%,#fefefe 82.6%,#f8f8f8 83.8%,#f1f1f1 84.6%,#e8e8e8 85.5%,#d4d4d4 86.7%,#bbbbbb 88%,#737373 91.3%,#5d5d5d 92.5%,#4b4b4b 93.8%,#3d3d3d 95%,#353535 96.3%,#2e2e2e 97.9%,#2a2a2a 100%)"></i><i style="background:linear-gradient(90deg,#111111 0%,#0b0b0b 21.6%,#0a0a0a 40.2%,#141414 59.3%,#1f1f1f 62.2%,#292929 64.3%,#343434 66%,#404040 67.2%,#515151 68.5%,#787878 71%,#909090 72.2%,#cdcdcd 75.1%,#e3e3e3 76.3%,#efefef 77.2%,#f8f8f8 78%,#ffffff 79.3%,#fefefe 82.6%,#f8f8f8 83.8%,#f1f1f1 84.6%,#e7e7e7 85.5%,#d3d3d3 86.7%,#bababa 88%,#717171 91.3%,#5a5a5a 92.5%,#4e4e4e 93.4%,#3f3f3f 94.6%,#333333 96.3%,#2e2e2e 97.5%,#2a2a2a 100%)"></i><i style="background:linear-gradient(90deg,#111111 0%,#0b0b0b 21.6%,#0a0a0a 40.2%,#151515 59.3%,#212121 62.7%,#2b2b2b 64.7%,#373737 66.4%,#444444 67.6%,#676767 70.1%,#747474 71%,#8c8c8c 72.2%,#cbcbcb 75.1%,#e1e1e1 76.3%,#eeeeee 77.2%,#f7f7f7 78%,#ffffff 79.3%,#fefefe 82.6%,#f8f8f8 83.8%,#f1f1f1 84.6%,#e7e7e7 85.5%,#d2d2d2 86.7%,#b8b8b8 88%,#888888 90%,#6e6e6e 91.3%,#585858 92.5%,#4b4b4b 93.4%,#3d3d3d 94.6%,#323232 96.3%,#2e2e2e 97.5%,#2a2a2a 100%)"></i><i style="background:linear-gradient(90deg,#121212 0%,#0b0b0b 21.6%,#0a0a0a 40.2%,#151515 59.3%,#212121 62.7%,#2b2b2b 64.7%,#363636 66.4%,#424242 67.6%,#646464 70.1%,#787878 71.4%,#919191 72.6%,#c7c7c7 75.1%,#d8d8d8 75.9%,#e6e6e6 76.8%,#f1f1f1 77.6%,#fafafa 78.4%,#ffffff 79.3%,#ffffff 79.7%,#ffffff 81.7%,#fdfdfd 83%,#f5f5f5 84.2%,#ececec 85.1%,#e0e0e0 85.9%,#c8c8c8 87.1%,#7d7d7d 90.5%,#636363 91.7%,#4f4f4f 92.9%,#3f3f3f 94.2%,#353535 95.4%,#2f2f2f 96.7%,#2b2b2b 98.3%,#2a2a2a 100%)"></i><i style="background:linear-gradient(90deg,#121212 0%,#0c0c0c 21.2%,#0b0b0b 40.2%,#161616 59.3%,#232323 63.1%,#2d2d2d 65.1%,#393939 66.8%,#464646 68%,#606060 70.1%,#747474 71.4%,#8d8d8d 72.6%,#cdcdcd 75.5%,#e4e4e4 76.8%,#f0f0f0 77.6%,#f9f9f9 78.4%,#fefefe 79.3%,#ffffff 79.7%,#ffffff 82.2%,#fdfdfd 83%,#f5f5f5 84.2%,#ececec 85.1%,#dfdfdf 85.9%,#c7c7c7 87.1%,#838383 90%,#686868 91.3%,#525252 92.5%,#424242 93.8%,#373737 95%,#303030 96.3%,#2c2c2c 97.5%,#292929 100%)"></i><i style="background:linear-gradient(90deg,#141414 0%,#0e0e0e 21.2%,#0d0d0d 40.2%,#181818 59.3%,#252525 63.1%,#2e2e2e 65.1%,#393939 66.8%,#444444 68%,#5d5d5d 70.1%,#707070 71.4%,#888888 72.6%,#d2d2d2 75.9%,#e9e9e9 77.2%,#f8f8f8 78.4%,#fefefe 79.3%,#ffffff 79.7%,#ffffff 82.2%,#fdfdfd 83%,#f5f5f5 84.2%,#ececec 85.1%,#dfdfdf 85.9%,#c6c6c6 87.1%,#808080 90%,#666666 91.3%,#505050 92.5%,#404040 93.8%,#353535 95%,#2f2f2f 96.3%,#2c2c2c 97.5%,#292929 100%)"></i><i style="background:linear-gradient(90deg,#161616 0%,#101010 21.2%,#0f0f0f 40.2%,#1a1a1a 59.3%,#282828 63.5%,#313131 65.6%,#3b3b3b 67.2%,#474747 68.5%,#5f5f5f 70.5%,#737373 71.8%,#8d8d8d 73%,#cfcfcf 75.9%,#e7e7e7 77.2%,#f7f7f7 78.4%,#fefefe 79.3%,#ffffff 79.7%,#ffffff 82.6%,#fefefe 83%,#f6f6f6 84.2%,#ececec 85.1%,#dedede 85.9%,#cecece 86.7%,#bbbbbb 87.6%,#7e7e7e 90%,#636363 91.3%,#4d4d4d 92.5%,#3e3e3e 93.8%,#343434 95%,#2e2e2e 96.3%,#2b2b2b 97.5%,#292929 100%)"></i><i style="background:linear-gradient(90deg,#171717 0%,#131313 21.2%,#121212 40.2%,#1c1c1c 59.3%,#2b2b2b 63.9%,#363636 66.4%,#424242 68%,#575757 70.1%,#626262 71%,#777777 72.2%,#929292 73.4%,#cccccc 75.9%,#e5e5e5 77.2%,#f6f6f6 78.4%,#fefefe 79.3%,#ffffff 79.7%,#fefefe 83%,#f6f6f6 84.2%,#ececec 85.1%,#dedede 85.9%,#cdcdcd 86.7%,#b9b9b9 87.6%,#858585 89.6%,#686868 90.9%,#515151 92.1%,#404040 93.4%,#353535 94.6%,#2e2e2e 95.9%,#2b2b2b 97.5%,#292929 100%)"></i><i style="background:linear-gradient(90deg,#191919 0%,#151515 21.2%,#141414 40.2%,#1e1e1e 59.3%,#2c2c2c 63.9%,#363636 66.4%,#414141 68%,#595959 70.5%,#656565 71.4%,#7b7b7b 72.6%,#979797 73.9%,#c9c9c9 75.9%,#e3e3e3 77.2%,#f5f5f5 78.4%,#fdfdfd 79.3%,#ffffff 79.7%,#fefefe 83%,#f6f6f6 84.2%,#ebebeb 85.1%,#dddddd 85.9%,#cccccc 86.7%,#828282 89.6%,#666666 90.9%,#4e4e4e 92.1%,#3e3e3e 93.4%,#333333 94.6%,#2e2e2e 95.9%,#2b2b2b 97.1%,#292929 100%)"></i><i style="background:linear-gradient(90deg,#1b1b1b 0%,#171717 21.2%,#161616 40.2%,#202020 59.3%,#2f2f2f 64.3%,#373737 66.4%,#414141 68%,#575757 70.5%,#626262 71.4%,#787878 72.6%,#949494 73.9%,#c6c6c6 75.9%,#e1e1e1 77.2%,#f5f5f5 78.4%,#fdfdfd 79.3%,#ffffff 79.7%,#ffffff 83%,#f6f6f6 84.2%,#ececec 85.1%,#dddddd 85.9%,#cbcbcb 86.7%,#818181 89.6%,#646464 90.9%,#4d4d4d 92.1%,#3c3c3c 93.4%,#323232 94.6%,#2d2d2d 95.9%,#2b2b2b 97.1%,#292929 100%)"></i><i style="background:linear-gradient(90deg,#1d1d1d 0%,#191919 21.2%,#191919 40.2%,#212121 58.9%,#282828 61.4%,#333333 65.1%,#3c3c3c 67.2%,#515151 70.1%,#5a5a5a 71%,#666666 71.8%,#7d7d7d 73%,#909090 73.9%,#cdcdcd 76.3%,#dfdfdf 77.2%,#f4f4f4 78.4%,#fcfcfc 79.3%,#ffffff 79.7%,#ffffff 83%,#fafafa 83.8%,#f2f2f2 84.6%,#ececec 85.1%,#dddddd 85.9%,#cbcbcb 86.7%,#7f7f7f 89.6%,#626262 90.9%,#4b4b4b 92.1%,#3b3b3b 93.4%,#313131 94.6%,#2c2c2c 95.9%,#2a2a2a 97.1%,#292929 100%)"></i><i style="background:linear-gradient(90deg,#1f1f1f 0%,#1b1b1b 21.2%,#1b1b1b 40.2%,#232323 58.9%,#2f2f2f 63.5%,#373737 66%,#3e3e3e 67.6%,#505050 70.1%,#5d5d5d 71.4%,#6a6a6a 72.2%,#838383 73.4%,#cbcbcb 76.3%,#e5e5e5 77.6%,#f8f8f8 78.8%,#ffffff 79.7%,#ffffff 83%,#fbfbfb 83.8%,#f2f2f2 84.6%,#e5e5e5 85.5%,#cacaca 86.7%,#7d7d7d 89.6%,#606060 90.9%,#505050 91.7%,#3e3e3e 92.9%,#333333 94.2%,#2d2d2d 95.4%,#2a2a2a 97.1%,#292929 100%)"></i><i style="background:linear-gradient(90deg,#202020 0%,#1e1e1e 21.2%,#1d1d1d 40.2%,#252525 58.9%,#333333 64.3%,#393939 66.4%,#414141 68%,#4e4e4e 70.1%,#5b5b5b 71.4%,#676767 72.2%,#7f7f7f 73.4%,#939393 74.3%,#c8c8c8 76.3%,#e3e3e3 77.6%,#f1f1f1 78.4%,#f7f7f7 78.8%,#ffffff 79.7%,#ffffff 80.1%,#fefefe 83.4%,#f7f7f7 84.2%,#ececec 85.1%,#dcdcdc 85.9%,#c9c9c9 86.7%,#868686 89.2%,#676767 90.5%,#4e4e4e 91.7%,#3c3c3c 92.9%,#323232 94.2%,#2c2c2c 95.4%,#2a2a2a 97.1%,#292929 100%)"></i><i style="background:linear-gradient(90deg,#222222 0%,#202020 21.2%,#202020 40.2%,#272727 58.9%,#363636 65.1%,#3f3f3f 67.6%,#4d4d4d 70.1%,#545454 71%,#5e5e5e 71.8%,#6b6b6b 72.6%,#7b7b7b 73.4%,#8f8f8f 74.3%,#cfcfcf 76.8%,#e1e1e1 77.6%,#f0f0f0 78.4%,#f6f6f6 78.8%,#ffffff 79.7%,#ffffff 80.1%,#ffffff 83.4%,#f8f8f8 84.2%,#ececec 85.1%,#dcdcdc 85.9%,#c9c9c9 86.7%,#848484 89.2%,#656565 90.5%,#4c4c4c 91.7%,#3b3b3b 92.9%,#313131 94.2%,#2c2c2c 95.4%,#2a2a2a 97.1%,#292929 100%)"></i><i style="background:linear-gradient(90deg,#232323 0%,#232323 40.2%,#2a2a2a 58.9%,#3a3a3a 66%,#3f3f3f 67.6%,#4b4b4b 70.1%,#515151 71%,#5a5a5a 71.8%,#676767 72.6%,#808080 73.9%,#cacaca 76.8%,#e6e6e6 78%,#f3f3f3 78.8%,#f8f8f8 79.3%,#fefefe 80.1%,#ffffff 80.5%,#fefefe 83%,#f9f9f9 83.8%,#f5f5f5 84.2%,#e9e9e9 85.1%,#d9d9d9 85.9%,#c5c5c5 86.7%,#808080 89.2%,#616161 90.5%,#505050 91.3%,#3e3e3e 92.5%,#323232 93.8%,#2d2d2d 95%,#2a2a2a 96.7%,#292929 100%)"></i><i style="background:linear-gradient(90deg,#242424 0%,#262626 40.2%,#2d2d2d 58.9%,#3d3d3d 66.8%,#4c4c4c 70.5%,#525252 71.4%,#5c5c5c 72.2%,#6a6a6a 73%,#7a7a7a 73.9%,#8e8e8e 74.7%,#c4c4c4 76.8%,#e0e0e0 78%,#ededed 78.8%,#f2f2f2 79.3%,#f9f9f9 80.1%,#fcfcfc 80.9%,#fafafa 82.6%,#f7f7f7 83.4%,#f0f0f0 84.2%,#e4e4e4 85.1%,#d3d3d3 85.9%,#bfbfbf 86.7%,#7a7a7a 89.2%,#656565 90%,#4c4c4c 91.3%,#3b3b3b 92.5%,#313131 93.8%,#2c2c2c 95%,#2a2a2a 96.7%,#2a2a2a 100%)"></i><i style="background:linear-gradient(90deg,#252525 0%,#292929 40.2%,#2f2f2f 58.9%,#3e3e3e 67.2%,#494949 70.5%,#4f4f4f 71.4%,#575757 72.2%,#636363 73%,#737373 73.9%,#868686 74.7%,#c4c4c4 77.2%,#dddddd 78.4%,#e9e9e9 79.3%,#ededed 79.7%,#f0f0f0 80.1%,#f3f3f3 80.9%,#f2f2f2 82.6%,#efefef 83.4%,#e8e8e8 84.2%,#dcdcdc 85.1%,#c2c2c2 86.3%,#747474 89.2%,#606060 90%,#494949 91.3%,#393939 92.5%,#303030 93.8%,#2c2c2c 95%,#2a2a2a 100%)"></i><i style="background:linear-gradient(90deg,#262626 0%,#2c2c2c 40.2%,#323232 58.9%,#404040 67.6%,#494949 71%,#4f4f4f 71.8%,#575757 72.6%,#646464 73.4%,#737373 74.3%,#868686 75.1%,#b8b8b8 77.2%,#d1d1d1 78.4%,#dddddd 79.3%,#e1e1e1 79.7%,#e7e7e7 80.5%,#e8e8e8 81.3%,#e7e7e7 82.6%,#e4e4e4 83.4%,#dedede 84.2%,#d3d3d3 85.1%,#bababa 86.3%,#7a7a7a 88.8%,#5c5c5c 90%,#4c4c4c 90.9%,#3b3b3b 92.1%,#313131 93.4%,#2c2c2c 94.6%,#2a2a2a 96.3%,#2b2b2b 100%)"></i><i style="background:linear-gradient(90deg,#272727 0%,#2f2f2f 40.2%,#353535 58.9%,#3e3e3e 66.4%,#454545 70.5%,#494949 71.4%,#4e4e4e 72.2%,#575757 73%,#636363 73.9%,#7c7c7c 75.1%,#b5b5b5 77.6%,#cccccc 78.8%,#d6d6d6 79.7%,#d9d9d9 80.1%,#dddddd 81.3%,#dcdcdc 82.6%,#dadada 83.4%,#d4d4d4 84.2%,#c9c9c9 85.1%,#b2b2b2 86.3%,#747474 88.8%,#585858 90%,#494949 90.9%,#393939 92.1%,#303030 93.4%,#2c2c2c 94.6%,#2b2b2b 96.3%,#2b2b2b 100%)"></i><i style="background:linear-gradient(90deg,#282828 0%,#373737 58.9%,#434343 69.3%,#444444 71%,#474747 71.8%,#4c4c4c 72.6%,#545454 73.4%,#606060 74.3%,#777777 75.5%,#adadad 78%,#c2c2c2 79.3%,#cbcbcb 80.1%,#cdcdcd 80.5%,#d0d0d0 81.3%,#d0d0d0 82.6%,#cfcfcf 83.4%,#c9c9c9 84.2%,#c5c5c5 84.6%,#bababa 85.5%,#a1a1a1 86.7%,#6f6f6f 88.8%,#555555 90%,#474747 90.9%,#383838 92.1%,#2f2f2f 93.4%,#2c2c2c 94.6%,#2b2b2b 100%)"></i><i style="background:linear-gradient(90deg,#282828 0%,#353535 58.9%,#404040 69.3%,#3f3f3f 71.4%,#424242 72.2%,#464646 73%,#4d4d4d 73.9%,#585858 74.7%,#6e6e6e 75.9%,#a1a1a1 78.4%,#b5b5b5 79.7%,#b9b9b9 80.1%,#bfbfbf 80.9%,#c2c2c2 82.6%,#c1c1c1 83.4%,#bdbdbd 84.2%,#bababa 84.6%,#b0b0b0 85.5%,#999999 86.7%,#626262 89.2%,#515151 90%,#444444 90.9%,#363636 92.1%,#2e2e2e 93.4%,#2b2b2b 94.6%,#2b2b2b 100%)"></i><i style="background:linear-gradient(90deg,#282828 0%,#2b2b2b 21.2%,#343434 33.6%,#313131 45.2%,#323232 58.9%,#3b3b3b 69.3%,#3a3a3a 71%,#3b3b3b 72.2%,#3d3d3d 73%,#424242 73.9%,#505050 75.1%,#646464 76.3%,#949494 78.8%,#a7a7a7 80.1%,#ababab 80.5%,#b0b0b0 81.3%,#b3b3b3 83%,#b2b2b2 83.8%,#adadad 84.6%,#aaaaaa 85.1%,#9f9f9f 85.9%,#919191 86.7%,#5d5d5d 89.2%,#4d4d4d 90%,#414141 90.9%,#343434 92.1%,#2d2d2d 93.4%,#2b2b2b 94.6%,#2b2b2b 100%)"></i><i style="background:linear-gradient(90deg,#272727 0%,#282828 16.2%,#2b2b2b 21.2%,#323232 24.9%,#454545 30.7%,#494949 33.2%,#464646 36.1%,#343434 42.7%,#2f2f2f 46.9%,#2e2e2e 58.9%,#373737 69.3%,#353535 71.4%,#353535 72.6%,#383838 73.4%,#3c3c3c 74.3%,#484848 75.5%,#5b5b5b 76.8%,#898989 79.3%,#9a9a9a 80.5%,#a2a2a2 81.7%,#a5a5a5 83.4%,#a1a1a1 84.6%,#949494 85.9%,#7f7f7f 87.1%,#4f4f4f 89.6%,#3c3c3c 90.9%,#343434 91.7%,#2d2d2d 92.9%,#2a2a2a 94.2%,#2a2a2a 100%)"></i><i style="background:linear-gradient(90deg,#262626 0%,#272727 16.2%,#2b2b2b 21.2%,#313131 23.2%,#383838 24.9%,#5a5a5a 30.7%,#5f5f5f 32%,#616161 33.2%,#5f5f5f 34.4%,#595959 36.1%,#404040 40.7%,#363636 42.7%,#313131 44.4%,#2e2e2e 46.5%,#2b2b2b 50.2%,#2a2a2a 58.9%,#333333 69.3%,#303030 71.8%,#313131 73%,#333333 73.9%,#373737 74.7%,#424242 75.9%,#535353 77.2%,#7e7e7e 79.7%,#8e8e8e 80.9%,#959595 82.2%,#969696 83.4%,#949494 84.6%,#898989 85.9%,#757575 87.1%,#484848 89.6%,#3d3d3d 90.5%,#313131 91.7%,#2b2b2b 92.9%,#292929 94.2%,#2a2a2a 100%)"></i><i style="background:linear-gradient(90deg,#252525 0%,#262626 16.2%,#282828 19.1%,#2c2c2c 21.2%,#343434 23.2%,#3f3f3f 24.9%,#4d4d4d 26.6%,#696969 29.5%,#737373 30.7%,#7a7a7a 32%,#7c7c7c 33.2%,#797979 34.4%,#727272 35.7%,#686868 36.9%,#474747 40.7%,#3b3b3b 42.3%,#333333 44%,#2d2d2d 46.1%,#292929 49.8%,#262626 58.9%,#2f2f2f 69.3%,#2d2d2d 71.8%,#2d2d2d 73.4%,#333333 75.1%,#3d3d3d 76.3%,#4f4f4f 77.6%,#797979 80.1%,#848484 80.9%,#8d8d8d 82.2%,#909090 83.4%,#8e8e8e 84.6%,#838383 85.9%,#717171 87.1%,#454545 89.6%,#3a3a3a 90.5%,#303030 91.7%,#2a2a2a 92.9%,#292929 94.2%,#2a2a2a 100%)"></i><i style="background:linear-gradient(90deg,#242424 0%,#242424 15.8%,#262626 18.7%,#2b2b2b 20.7%,#353535 22.8%,#424242 24.5%,#545454 26.1%,#7e7e7e 29.5%,#8a8a8a 30.7%,#929292 32%,#949494 33.2%,#909090 34.4%,#878787 35.7%,#7a7a7a 36.9%,#4e4e4e 40.7%,#3e3e3e 42.3%,#363636 43.6%,#303030 44.8%,#292929 47.3%,#262626 50.6%,#232323 58.9%,#2b2b2b 69.3%,#292929 72.6%,#2a2a2a 74.3%,#2f2f2f 75.5%,#393939 76.8%,#4a4a4a 78%,#727272 80.5%,#7c7c7c 81.3%,#858585 82.6%,#878787 83.8%,#838383 85.1%,#7c7c7c 85.9%,#6b6b6b 87.1%,#424242 89.6%,#383838 90.5%,#2f2f2f 91.7%,#2a2a2a 92.9%,#292929 94.2%,#292929 100%)"></i><i style="background:linear-gradient(90deg,#242424 0%,#232323 15.8%,#252525 18.7%,#2b2b2b 20.7%,#2f2f2f 21.6%,#383838 22.8%,#484848 24.5%,#5e5e5e 26.1%,#8f8f8f 29.5%,#9e9e9e 30.7%,#a7a7a7 32%,#aaaaaa 33.2%,#a5a5a5 34.4%,#9a9a9a 35.7%,#8a8a8a 36.9%,#555555 40.7%,#464646 41.9%,#3e3e3e 42.7%,#303030 44.8%,#2b2b2b 46.1%,#262626 47.7%,#222222 51%,#1f1f1f 58.9%,#272727 69.3%,#262626 72.6%,#282828 74.7%,#2c2c2c 75.9%,#363636 77.2%,#454545 78.4%,#656565 80.5%,#747474 81.7%,#7a7a7a 82.6%,#7d7d7d 83.8%,#7b7b7b 85.1%,#757575 85.9%,#656565 87.1%,#404040 89.6%,#373737 90.5%,#2e2e2e 91.7%,#2a2a2a 92.9%,#292929 94.2%,#292929 100%)"></i><i style="background:linear-gradient(90deg,#232323 0%,#222222 15.8%,#252525 18.7%,#2d2d2d 20.7%,#313131 21.6%,#3c3c3c 22.8%,#4f4f4f 24.5%,#686868 26.1%,#9b9b9b 29%,#adadad 30.3%,#bababa 31.5%,#c0c0c0 32.8%,#bdbdbd 34%,#b7b7b7 34.9%,#aeaeae 35.7%,#9c9c9c 36.9%,#5e5e5e 40.7%,#4c4c4c 41.9%,#434343 42.7%,#373737 44%,#2f2f2f 45.2%,#262626 47.7%,#212121 51%,#1d1d1d 58.9%,#242424 69.3%,#232323 73%,#252525 74.7%,#2a2a2a 75.9%,#323232 77.2%,#404040 78.4%,#5c5c5c 80.5%,#696969 81.7%,#6e6e6e 82.6%,#717171 83.8%,#6f6f6f 85.1%,#6a6a6a 85.9%,#5d5d5d 87.1%,#3d3d3d 89.6%,#353535 90.5%,#2d2d2d 91.7%,#2a2a2a 92.9%,#282828 94.2%,#282828 100%)"></i><i style="background:linear-gradient(90deg,#222222 0%,#212121 15.8%,#252525 18.7%,#2d2d2d 20.7%,#323232 21.6%,#3d3d3d 22.8%,#535353 24.5%,#6e6e6e 26.1%,#a6a6a6 29%,#bababa 30.3%,#c8c8c8 31.5%,#cecece 32.8%,#cbcbcb 34%,#c4c4c4 34.9%,#bababa 35.7%,#a6a6a6 36.9%,#626262 40.7%,#4f4f4f 41.9%,#444444 42.7%,#383838 44%,#2f2f2f 45.2%,#282828 46.5%,#242424 47.7%,#1f1f1f 51%,#1a1a1a 58.9%,#232323 74.3%,#272727 75.9%,#2f2f2f 77.2%,#3b3b3b 78.4%,#525252 80.5%,#5d5d5d 81.7%,#646464 83%,#656565 84.2%,#626262 85.5%,#5c5c5c 86.3%,#3a3a3a 89.6%,#333333 90.5%,#2d2d2d 91.7%,#282828 94.2%,#282828 100%)"></i><i style="background:linear-gradient(90deg,#212121 0%,#202020 15.8%,#242424 18.7%,#2d2d2d 20.7%,#333333 21.6%,#3f3f3f 22.8%,#565656 24.5%,#747474 26.1%,#b1b1b1 29%,#c7c7c7 30.3%,#d6d6d6 31.5%,#dbdbdb 32.4%,#dcdcdc 32.8%,#dcdcdc 33.2%,#d9d9d9 34%,#d2d2d2 34.9%,#c7c7c7 35.7%,#b1b1b1 36.9%,#676767 40.7%,#525252 41.9%,#464646 42.7%,#383838 44%,#2e2e2e 45.2%,#282828 46.5%,#232323 47.7%,#1d1d1d 51%,#181818 58.9%,#202020 73.9%,#232323 75.5%,#292929 76.8%,#323232 78%,#505050 81.3%,#565656 82.6%,#595959 84.2%,#575757 85.5%,#525252 86.3%,#373737 89.6%,#313131 90.5%,#2c2c2c 91.7%,#282828 94.6%,#282828 100%)"></i><i style="background:linear-gradient(90deg,#212121 0%,#1f1f1f 15.8%,#242424 18.7%,#2d2d2d 20.7%,#333333 21.6%,#404040 22.8%,#4c4c4c 23.7%,#595959 24.5%,#7a7a7a 26.1%,#bbbbbb 29%,#d2d2d2 30.3%,#e3e3e3 31.5%,#e8e8e8 32.4%,#eaeaea 32.8%,#eaeaea 33.2%,#e6e6e6 34%,#dedede 34.9%,#d2d2d2 35.7%,#bbbbbb 36.9%,#848484 39.4%,#636363 41.1%,#4e4e4e 42.3%,#424242 43.2%,#393939 44%,#2e2e2e 45.2%,#272727 46.5%,#212121 48.1%,#1b1b1b 51.5%,#161616 59.3%,#1e1e1e 73.9%,#222222 75.5%,#2a2a2a 77.2%,#343434 78.4%,#4c4c4c 80.9%,#545454 82.2%,#575757 83%,#595959 84.2%,#565656 85.5%,#525252 86.3%,#373737 89.6%,#313131 90.5%,#2c2c2c 91.7%,#282828 94.6%,#272727 100%)"></i><i style="background:linear-gradient(90deg,#202020 0%,#1e1e1e 15.8%,#222222 18.7%,#2c2c2c 20.7%,#323232 21.6%,#3f3f3f 22.8%,#4b4b4b 23.7%,#585858 24.5%,#797979 26.1%,#bababa 29%,#d1d1d1 30.3%,#e2e2e2 31.5%,#e7e7e7 32.4%,#e9e9e9 32.8%,#e9e9e9 33.2%,#e5e5e5 34%,#dddddd 34.9%,#d1d1d1 35.7%,#bababa 36.9%,#838383 39.4%,#626262 41.1%,#4c4c4c 42.3%,#414141 43.2%,#373737 44%,#2d2d2d 45.2%,#252525 46.5%,#1f1f1f 48.1%,#191919 51.5%,#141414 59.3%,#181818 70.5%,#1c1c1c 73.9%,#202020 75.5%,#292929 77.2%,#343434 78.4%,#505050 80.9%,#585858 81.7%,#606060 83%,#636363 84.2%,#636363 85.1%,#5c5c5c 86.3%,#3b3b3b 89.6%,#343434 90.5%,#2d2d2d 91.7%,#2a2a2a 92.9%,#282828 94.6%,#272727 100%)"></i><i style="background:linear-gradient(90deg,#1f1f1f 0%,#1d1d1d 15.8%,#212121 18.7%,#2b2b2b 20.7%,#313131 21.6%,#3e3e3e 22.8%,#494949 23.7%,#575757 24.5%,#787878 26.1%,#b8b8b8 29%,#d0d0d0 30.3%,#e0e0e0 31.5%,#e6e6e6 32.4%,#e7e7e7 32.8%,#e7e7e7 33.2%,#e4e4e4 34%,#dcdcdc 34.9%,#d0d0d0 35.7%,#b9b9b9 36.9%,#828282 39.4%,#606060 41.1%,#4b4b4b 42.3%,#404040 43.2%,#363636 44%,#2b2b2b 45.2%,#242424 46.5%,#1e1e1e 48.1%,#181818 51.5%,#111111 59.3%,#151515 69.3%,#171717 72.2%,#1b1b1b 74.3%,#212121 75.9%,#2c2c2c 77.6%,#3a3a3a 78.8%,#5d5d5d 81.3%,#6c6c6c 82.6%,#757575 83.8%,#777777 84.6%,#757575 85.5%,#6e6e6e 86.3%,#656565 87.1%,#414141 89.6%,#383838 90.5%,#2f2f2f 91.7%,#2a2a2a 92.9%,#282828 94.6%,#272727 100%)"></i><i style="background:linear-gradient(90deg,#1f1f1f 0%,#1c1c1c 15.8%,#212121 18.7%,#2a2a2a 20.7%,#303030 21.6%,#3d3d3d 22.8%,#494949 23.7%,#565656 24.5%,#777777 26.1%,#b8b8b8 29%,#cfcfcf 30.3%,#e0e0e0 31.5%,#e5e5e5 32.4%,#e7e7e7 32.8%,#e7e7e7 33.2%,#e3e3e3 34%,#dbdbdb 34.9%,#cfcfcf 35.7%,#b8b8b8 36.9%,#818181 39.4%,#5f5f5f 41.1%,#4a4a4a 42.3%,#3f3f3f 43.2%,#353535 44%,#2a2a2a 45.2%,#232323 46.5%,#1c1c1c 48.1%,#161616 51.5%,#0f0f0f 59.3%,#121212 69.3%,#161616 72.6%,#1a1a1a 74.7%,#222222 76.3%,#282828 77.2%,#303030 78%,#424242 79.3%,#767676 82.2%,#828282 83%,#8b8b8b 83.8%,#8f8f8f 84.6%,#8d8d8d 85.5%,#858585 86.3%,#777777 87.1%,#565656 88.8%,#474747 89.6%,#3c3c3c 90.5%,#303030 91.7%,#2b2b2b 92.9%,#282828 94.2%,#262626 100%)"></i><i style="background:linear-gradient(90deg,#1f1f1f 0%,#1d1d1d 15.8%,#212121 18.7%,#2a2a2a 20.7%,#303030 21.6%,#3e3e3e 22.8%,#494949 23.7%,#565656 24.5%,#777777 26.1%,#b8b8b8 29%,#d0d0d0 30.3%,#e0e0e0 31.5%,#e6e6e6 32.4%,#e7e7e7 32.8%,#e7e7e7 33.2%,#e3e3e3 34%,#dbdbdb 34.9%,#d0d0d0 35.7%,#b8b8b8 36.9%,#828282 39.4%,#606060 41.1%,#4b4b4b 42.3%,#3f3f3f 43.2%,#363636 44%,#2b2b2b 45.2%,#232323 46.5%,#1d1d1d 48.1%,#171717 51.5%,#101010 59.3%,#141414 70.1%,#181818 73.4%,#1e1e1e 75.5%,#282828 77.2%,#303030 78%,#3c3c3c 78.8%,#4b4b4b 79.7%,#5d5d5d 80.5%,#919191 82.6%,#a3a3a3 83.4%,#afafaf 84.2%,#b2b2b2 84.6%,#b2b2b2 85.1%,#afafaf 85.5%,#aaaaaa 85.9%,#a3a3a3 86.3%,#8e8e8e 87.1%,#6b6b6b 88.4%,#555555 89.2%,#444444 90%,#3e3e3e 90.5%,#343434 91.3%,#2c2c2c 92.5%,#282828 94.2%,#262626 100%)"></i><i style="background:linear-gradient(90deg,#202020 0%,#1d1d1d 15.8%,#212121 18.7%,#2b2b2b 20.7%,#313131 21.6%,#3e3e3e 22.8%,#494949 23.7%,#575757 24.5%,#787878 26.1%,#b8b8b8 29%,#d0d0d0 30.3%,#e0e0e0 31.5%,#e6e6e6 32.4%,#e7e7e7 32.8%,#e7e7e7 33.2%,#e4e4e4 34%,#dcdcdc 34.9%,#d0d0d0 35.7%,#b9b9b9 36.9%,#828282 39.4%,#606060 41.1%,#4b4b4b 42.3%,#404040 43.2%,#363636 44%,#2b2b2b 45.2%,#242424 46.5%,#1e1e1e 48.1%,#181818 51.5%,#111111 59.3%,#151515 71%,#191919 73.9%,#202020 75.9%,#282828 77.2%,#303030 78%,#3c3c3c 78.8%,#4c4c4c 79.7%,#565656 80.1%,#6e6e6e 80.9%,#8a8a8a 81.7%,#b7b7b7 83%,#c5c5c5 83.4%,#d0d0d0 83.8%,#d8d8d8 84.2%,#dcdcdc 84.6%,#dddddd 85.1%,#d9d9d9 85.5%,#d2d2d2 85.9%,#c7c7c7 86.3%,#aaaaaa 87.1%,#787878 88.4%,#5c5c5c 89.2%,#474747 90%,#393939 90.9%,#343434 91.3%,#2e2e2e 92.1%,#292929 93.8%,#272727 95.9%,#262626 100%)"></i><i style="background:linear-gradient(90deg,#202020 0%,#1e1e1e 15.8%,#222222 18.7%,#2b2b2b 20.7%,#313131 21.6%,#3f3f3f 22.8%,#4a4a4a 23.7%,#575757 24.5%,#787878 26.1%,#b9b9b9 29%,#c9c9c9 29.9%,#d7d7d7 30.7%,#e1e1e1 31.5%,#e4e4e4 32%,#e8e8e8 32.8%,#e8e8e8 33.2%,#e7e7e7 33.6%,#e1e1e1 34.4%,#d0d0d0 35.7%,#b9b9b9 36.9%,#696969 40.7%,#4c4c4c 42.3%,#404040 43.2%,#333333 44.4%,#2c2c2c 45.2%,#242424 46.5%,#1e1e1e 48.1%,#1a1a1a 50.2%,#121212 59.3%,#151515 69.7%,#181818 72.6%,#1c1c1c 74.7%,#232323 76.3%,#2c2c2c 77.6%,#363636 78.4%,#3d3d3d 78.8%,#4f4f4f 79.7%,#686868 80.5%,#777777 80.9%,#9d9d9d 81.7%,#dcdcdc 83%,#efefef 83.4%,#ffffff 83.8%,#ffffff 85.9%,#f5f5f5 86.3%,#e2e2e2 86.7%,#9e9e9e 88%,#767676 88.8%,#656565 89.2%,#565656 89.6%,#4b4b4b 90%,#424242 90.5%,#3b3b3b 90.9%,#353535 91.3%,#2e2e2e 92.1%,#2a2a2a 93.4%,#272727 95.4%,#262626 100%)"></i><i style="background:linear-gradient(90deg,#202020 0%,#1e1e1e 15.8%,#222222 18.7%,#2c2c2c 20.7%,#323232 21.6%,#3f3f3f 22.8%,#4a4a4a 23.7%,#585858 24.5%,#787878 26.1%,#b9b9b9 29%,#cacaca 29.9%,#d7d7d7 30.7%,#e1e1e1 31.5%,#e5e5e5 32%,#e8e8e8 32.8%,#e8e8e8 33.2%,#e7e7e7 33.6%,#e1e1e1 34.4%,#d1d1d1 35.7%,#bababa 36.9%,#696969 40.7%,#4c4c4c 42.3%,#414141 43.2%,#333333 44.4%,#2c2c2c 45.2%,#252525 46.5%,#1f1f1f 48.1%,#1b1b1b 50.2%,#131313 58.9%,#161616 69.7%,#191919 72.6%,#1d1d1d 74.7%,#232323 76.3%,#2d2d2d 77.6%,#373737 78.4%,#3d3d3d 78.8%,#4f4f4f 79.7%,#5a5a5a 80.1%,#686868 80.5%,#787878 80.9%,#9d9d9d 81.7%,#dfdfdf 83%,#f2f2f2 83.4%,#ffffff 83.8%,#ffffff 85.9%,#f9f9f9 86.3%,#e5e5e5 86.7%,#8a8a8a 88.4%,#767676 88.8%,#656565 89.2%,#575757 89.6%,#4b4b4b 90%,#424242 90.5%,#3b3b3b 90.9%,#353535 91.3%,#2f2f2f 92.1%,#2a2a2a 93.4%,#282828 95.4%,#272727 100%)"></i><i style="background:linear-gradient(90deg,#212121 0%,#1f1f1f 15.8%,#232323 18.7%,#2c2c2c 20.7%,#323232 21.6%,#3f3f3f 22.8%,#4b4b4b 23.7%,#585858 24.5%,#797979 26.1%,#bababa 29%,#cacaca 29.9%,#d8d8d8 30.7%,#e2e2e2 31.5%,#e5e5e5 32%,#e9e9e9 32.8%,#e9e9e9 33.2%,#e8e8e8 33.6%,#e2e2e2 34.4%,#d1d1d1 35.7%,#bababa 36.9%,#6a6a6a 40.7%,#4d4d4d 42.3%,#414141 43.2%,#343434 44.4%,#2d2d2d 45.2%,#262626 46.5%,#1f1f1f 48.1%,#1b1b1b 50.2%,#141414 58.9%,#171717 70.1%,#191919 72.6%,#1d1d1d 74.7%,#242424 76.3%,#2d2d2d 77.6%,#373737 78.4%,#3d3d3d 78.8%,#4e4e4e 79.7%,#666666 80.5%,#757575 80.9%,#878787 81.3%,#9a9a9a 81.7%,#d8d8d8 83%,#ebebeb 83.4%,#fbfbfb 83.8%,#ffffff 84.2%,#ffffff 85.9%,#f1f1f1 86.3%,#dedede 86.7%,#878787 88.4%,#747474 88.8%,#636363 89.2%,#555555 89.6%,#4a4a4a 90%,#414141 90.5%,#3b3b3b 90.9%,#353535 91.3%,#2f2f2f 92.1%,#2b2b2b 93.4%,#282828 95.4%,#272727 100%)"></i><i style="background:linear-gradient(90deg,#212121 0%,#1f1f1f 15.8%,#232323 18.7%,#2c2c2c 20.7%,#323232 21.6%,#404040 22.8%,#4b4b4b 23.7%,#595959 24.5%,#797979 26.1%,#bababa 29%,#cacaca 29.9%,#d8d8d8 30.7%,#e2e2e2 31.5%,#e6e6e6 32%,#e9e9e9 32.8%,#e9e9e9 33.2%,#e8e8e8 33.6%,#e2e2e2 34.4%,#d2d2d2 35.7%,#bababa 36.9%,#6a6a6a 40.7%,#4d4d4d 42.3%,#414141 43.2%,#343434 44.4%,#2d2d2d 45.2%,#262626 46.5%,#202020 48.1%,#1c1c1c 50.2%,#151515 58.9%,#181818 70.1%,#1a1a1a 72.6%,#1e1e1e 74.7%,#242424 76.3%,#2d2d2d 77.6%,#3d3d3d 78.8%,#4e4e4e 79.7%,#656565 80.5%,#747474 80.9%,#979797 81.7%,#d4d4d4 83%,#e6e6e6 83.4%,#f6f6f6 83.8%,#ffffff 84.2%,#ffffff 85.5%,#fbfbfb 85.9%,#ececec 86.3%,#dadada 86.7%,#858585 88.4%,#727272 88.8%,#626262 89.2%,#555555 89.6%,#4a4a4a 90%,#3a3a3a 90.9%,#353535 91.3%,#2f2f2f 92.1%,#2b2b2b 93.4%,#282828 95.4%,#272727 100%)"></i><i style="background:linear-gradient(90deg,#212121 0%,#1f1f1f 15.8%,#232323 18.7%,#2c2c2c 20.7%,#323232 21.6%,#404040 22.8%,#4b4b4b 23.7%,#595959 24.5%,#797979 26.1%,#bababa 29%,#cacaca 29.9%,#d8d8d8 30.7%,#e2e2e2 31.5%,#e6e6e6 32%,#e9e9e9 32.8%,#e9e9e9 33.2%,#e8e8e8 33.6%,#e2e2e2 34.4%,#d2d2d2 35.7%,#bababa 36.9%,#6a6a6a 40.7%,#4d4d4d 42.3%,#414141 43.2%,#343434 44.4%,#2d2d2d 45.2%,#262626 46.5%,#202020 48.1%,#1c1c1c 50.2%,#151515 58.9%,#181818 70.1%,#1a1a1a 72.6%,#1e1e1e 74.7%,#242424 76.3%,#2d2d2d 77.6%,#3d3d3d 78.8%,#4e4e4e 79.7%,#656565 80.5%,#747474 80.9%,#979797 81.7%,#d4d4d4 83%,#e6e6e6 83.4%,#f6f6f6 83.8%,#ffffff 84.2%,#ffffff 85.5%,#fbfbfb 85.9%,#ececec 86.3%,#dadada 86.7%,#858585 88.4%,#727272 88.8%,#626262 89.2%,#555555 89.6%,#4a4a4a 90%,#3a3a3a 90.9%,#353535 91.3%,#2f2f2f 92.1%,#2b2b2b 93.4%,#282828 95.4%,#272727 100%)"></i></div></div><div class="hc" style="left:210px;top:278px;width:115px;height:89px"><div class="hm" style="width:121px;height:95px"><i style="background:linear-gradient(90deg,#141414 0%,#1a1a1a 25.3%,#1c1c1c 26.1%,#232323 27.4%,#474747 33.2%,#535353 35.3%,#666666 39%,#6d6d6d 41.1%,#7a7a7a 50.6%,#7f7f7f 73.9%,#7e7e7e 75.1%,#7b7b7b 76.3%,#4f4f4f 83.4%,#414141 87.6%,#282828 92.1%,#1b1b1b 97.1%,#1a1a1a 100%)"></i><i style="background:linear-gradient(90deg,#141414 0%,#1a1a1a 25.3%,#1c1c1c 26.1%,#232323 27.4%,#474747 33.2%,#535353 35.3%,#666666 39%,#6d6d6d 41.1%,#7a7a7a 50.6%,#7f7f7f 73.9%,#7e7e7e 75.1%,#7b7b7b 76.3%,#4f4f4f 83.4%,#414141 87.6%,#282828 92.1%,#1b1b1b 97.1%,#1a1a1a 100%)"></i><i style="background:linear-gradient(90deg,#141414 0%,#1a1a1a 24.1%,#1c1c1c 24.9%,#212121 26.1%,#4f4f4f 33.6%,#656565 38.2%,#6c6c6c 40.2%,#7b7b7b 50.2%,#808080 73%,#7f7f7f 74.7%,#7b7b7b 75.9%,#4f4f4f 83%,#414141 87.1%,#2e2e2e 90.5%,#282828 91.7%,#1b1b1b 97.1%,#1a1a1a 100%)"></i><i style="background:linear-gradient(90deg,#141414 0%,#1a1a1a 23.2%,#1d1d1d 24.1%,#232323 25.3%,#4c4c4c 32%,#686868 38.2%,#6d6d6d 40.2%,#7b7b7b 48.5%,#7d7d7d 51.5%,#828282 72.6%,#818181 74.3%,#7c7c7c 75.5%,#515151 82.2%,#4b4b4b 83.4%,#404040 86.7%,#292929 90.9%,#1c1c1c 96.7%,#1a1a1a 100%)"></i><i style="background:linear-gradient(90deg,#141414 0%,#191919 20.3%,#1b1b1b 22.4%,#222222 24.1%,#4b4b4b 30.7%,#676767 37.3%,#6e6e6e 39.8%,#7c7c7c 48.5%,#7f7f7f 51.5%,#838383 72.2%,#828282 73.9%,#7d7d7d 75.1%,#6d6d6d 77.6%,#505050 81.7%,#4b4b4b 83%,#424242 85.9%,#292929 90.5%,#1c1c1c 96.7%,#1a1a1a 100%)"></i><i style="background:linear-gradient(90deg,#141414 0%,#191919 19.1%,#1b1b1b 21.2%,#222222 22.8%,#4b4b4b 29.5%,#656565 36.1%,#6d6d6d 38.6%,#7e7e7e 48.1%,#808080 51%,#848484 71%,#838383 72.6%,#7e7e7e 73.9%,#6f6f6f 76.3%,#4f4f4f 80.9%,#414141 85.1%,#2a2a2a 89.2%,#262626 90.9%,#1b1b1b 96.7%,#1a1a1a 100%)"></i><i style="background:linear-gradient(90deg,#141414 0%,#191919 17.8%,#1b1b1b 19.9%,#222222 21.6%,#494949 27.8%,#535353 29.9%,#6b6b6b 36.9%,#7f7f7f 46.5%,#818181 49%,#858585 68%,#848484 69.7%,#808080 71%,#717171 73.4%,#505050 78.4%,#4b4b4b 79.7%,#414141 83%,#2e2e2e 86.3%,#292929 87.6%,#252525 89.2%,#1b1b1b 96.3%,#1a1a1a 100%)"></i><i style="background:linear-gradient(90deg,#141414 0%,#1a1a1a 18.3%,#212121 19.9%,#454545 25.7%,#505050 27.8%,#6b6b6b 36.1%,#818181 45.2%,#828282 47.3%,#868686 65.1%,#858585 66.8%,#818181 68%,#737373 70.5%,#515151 75.9%,#4b4b4b 77.2%,#414141 80.9%,#2d2d2d 84.6%,#282828 85.9%,#1b1b1b 96.3%,#1a1a1a 100%)"></i><i style="background:linear-gradient(90deg,#141414 0%,#191919 14.9%,#1b1b1b 17%,#222222 18.7%,#464646 24.5%,#4e4e4e 26.1%,#6b6b6b 34.9%,#828282 43.6%,#848484 45.6%,#868686 62.7%,#858585 64.3%,#818181 65.6%,#4f4f4f 73.9%,#4b4b4b 75.1%,#414141 78.8%,#2d2d2d 82.6%,#282828 83.8%,#252525 85.5%,#1b1b1b 95.9%,#1a1a1a 100%)"></i><i style="background:linear-gradient(90deg,#141414 0%,#191919 13.7%,#1b1b1b 15.8%,#222222 17.4%,#444444 22.8%,#4d4d4d 24.5%,#838383 41.9%,#858585 44%,#878787 59.8%,#868686 61.4%,#828282 62.7%,#505050 71.4%,#4c4c4c 72.6%,#424242 76.8%,#2c2c2c 80.9%,#272727 82.2%,#252525 83.8%,#1b1b1b 95.9%,#1a1a1a 100%)"></i><i style="background:linear-gradient(90deg,#171717 0%,#1b1b1b 11.6%,#1e1e1e 13.7%,#242424 14.9%,#464646 20.3%,#4e4e4e 22%,#6c6c6c 31.5%,#838383 39.8%,#858585 41.9%,#878787 58.1%,#868686 59.8%,#828282 61%,#505050 69.3%,#4b4b4b 70.5%,#424242 74.7%,#282828 80.1%,#252525 82.2%,#1b1b1b 95%,#1a1a1a 100%)"></i><i style="background:linear-gradient(90deg,#191919 0%,#1b1b1b 4.6%,#202020 11.2%,#252525 12.4%,#474747 17.8%,#4f4f4f 19.5%,#6b6b6b 28.6%,#848484 37.8%,#868686 40.2%,#888888 56%,#878787 57.7%,#818181 59.3%,#727272 61.8%,#565656 66%,#4f4f4f 67.2%,#4b4b4b 68.5%,#424242 72.6%,#2c2c2c 77.2%,#272727 78.4%,#252525 80.5%,#1b1b1b 95.4%,#1a1a1a 100%)"></i><i style="background:linear-gradient(90deg,#1b1b1b 0%,#1d1d1d 4.1%,#212121 7.9%,#242424 9.1%,#2c2c2c 10.8%,#484848 15.4%,#505050 17%,#6b6b6b 25.7%,#848484 35.7%,#878787 38.2%,#898989 54.4%,#878787 56%,#818181 57.7%,#717171 60.2%,#555555 63.9%,#4e4e4e 65.1%,#4a4a4a 66.4%,#424242 70.5%,#282828 76.3%,#242424 79.3%,#1a1a1a 96.3%,#1a1a1a 100%)"></i><i style="background:linear-gradient(90deg,#1e1e1e 0%,#1f1f1f 2.9%,#262626 6.6%,#2e2e2e 8.3%,#474747 12.4%,#4f4f4f 14.1%,#6b6b6b 23.2%,#848484 33.6%,#878787 36.1%,#898989 52.7%,#888888 54.4%,#808080 56%,#707070 58.5%,#555555 61.8%,#4e4e4e 63.1%,#424242 68.5%,#2c2c2c 73.4%,#272727 74.7%,#252525 76.8%,#1b1b1b 94.6%,#1a1a1a 100%)"></i><i style="background:linear-gradient(90deg,#252525 0%,#262626 2.5%,#2c2c2c 5.4%,#323232 6.6%,#4f4f4f 11.6%,#6c6c6c 19.5%,#828282 29.5%,#878787 32%,#888888 33.6%,#898989 49%,#878787 50.6%,#818181 51.9%,#707070 54.4%,#555555 57.7%,#4e4e4e 58.9%,#424242 64.7%,#272727 71.4%,#252525 74.3%,#191919 96.3%,#191919 100%)"></i><i style="background:linear-gradient(90deg,#2f2f2f 0%,#303030 2.5%,#363636 5%,#545454 10.4%,#686868 14.5%,#727272 16.6%,#767676 18.3%,#898989 30.3%,#898989 43.2%,#878787 44.8%,#828282 46.1%,#727272 48.5%,#545454 52.3%,#4d4d4d 53.5%,#414141 60.2%,#2c2c2c 65.6%,#272727 67.2%,#181818 95.4%,#171717 100%)"></i><i style="background:linear-gradient(90deg,#393939 0%,#3a3a3a 2.5%,#424242 5%,#565656 8.7%,#747474 13.3%,#797979 14.1%,#7c7c7c 15.4%,#8a8a8a 27.4%,#888888 37.8%,#878787 39.4%,#828282 40.7%,#767676 42.3%,#565656 46.5%,#4d4d4d 48.1%,#414141 55.2%,#2b2b2b 61.4%,#272727 63.1%,#171717 95.4%,#151515 100%)"></i><i style="background:linear-gradient(90deg,#414141 0%,#434343 2.5%,#484848 4.1%,#5d5d5d 7.5%,#797979 11.2%,#818181 12.9%,#8b8b8b 24.1%,#8b8b8b 27.4%,#888888 33.6%,#868686 35.3%,#7d7d7d 36.9%,#565656 41.9%,#4d4d4d 43.6%,#414141 51.5%,#2a2a2a 58.1%,#262626 59.8%,#151515 95.9%,#141414 100%)"></i><i style="background:linear-gradient(90deg,#444444 0%,#454545 1.7%,#494949 2.9%,#515151 4.1%,#666666 6.2%,#707070 7.5%,#7c7c7c 10%,#848484 12%,#868686 13.7%,#8b8b8b 22%,#8b8b8b 25.7%,#868686 33.2%,#838383 34%,#7e7e7e 34.9%,#575757 39.4%,#4d4d4d 41.1%,#424242 49.4%,#292929 56.4%,#252525 58.1%,#141414 100%)"></i><i style="background:linear-gradient(90deg,#474747 0%,#494949 1.7%,#4f4f4f 2.9%,#575757 3.7%,#6f6f6f 5.4%,#797979 6.2%,#7f7f7f 7.1%,#828282 7.9%,#8a8a8a 12.9%,#8c8c8c 21.2%,#8b8b8b 24.9%,#888888 30.3%,#848484 32%,#7b7b7b 33.2%,#575757 36.9%,#515151 37.8%,#4d4d4d 38.6%,#424242 47.7%,#282828 54.8%,#242424 56.4%,#141414 100%)"></i><i style="background:linear-gradient(90deg,#494949 0%,#4a4a4a 1.2%,#4f4f4f 2.5%,#5b5b5b 3.7%,#727272 5.4%,#7b7b7b 6.2%,#828282 7.1%,#858585 7.9%,#8e8e8e 12.4%,#8c8c8c 22.4%,#888888 28.6%,#868686 30.3%,#7d7d7d 32%,#555555 36.5%,#4e4e4e 37.8%,#4b4b4b 39%,#424242 46.5%,#272727 53.5%,#232323 55.2%,#131313 100%)"></i><i style="background:linear-gradient(90deg,#4b4b4b 0%,#4c4c4c 1.2%,#525252 2.5%,#5a5a5a 3.3%,#797979 5.8%,#818181 6.6%,#868686 7.5%,#919191 11.6%,#929292 14.1%,#898989 26.6%,#868686 29%,#818181 30.3%,#777777 32%,#6d6d6d 33.2%,#575757 35.7%,#4f4f4f 36.9%,#4b4b4b 38.2%,#424242 45.2%,#252525 52.3%,#212121 53.9%,#111111 100%)"></i><i style="background:linear-gradient(90deg,#4c4c4c 0%,#4e4e4e 1.2%,#525252 2.1%,#5a5a5a 2.9%,#7b7b7b 5.8%,#888888 7.5%,#959595 11.2%,#969696 13.3%,#898989 26.6%,#868686 28.2%,#808080 29.5%,#757575 31.5%,#6c6c6c 32.8%,#555555 35.3%,#4e4e4e 36.5%,#4b4b4b 37.8%,#424242 44%,#3c3c3c 45.6%,#242424 51%,#1f1f1f 52.7%,#101010 100%)"></i><i style="background:linear-gradient(90deg,#575757 0%,#585858 1.2%,#5d5d5d 2.1%,#646464 2.9%,#868686 5.8%,#8e8e8e 6.6%,#949494 7.5%,#9e9e9e 10.8%,#a1a1a1 12.9%,#939393 19.9%,#8a8a8a 26.1%,#868686 27.8%,#737373 32%,#6a6a6a 33.2%,#555555 35.7%,#4e4e4e 36.9%,#404040 44%,#232323 50.6%,#1e1e1e 52.3%,#0f0f0f 100%)"></i><i style="background:linear-gradient(90deg,#646464 0%,#656565 1.2%,#6d6d6d 2.5%,#959595 5.8%,#9d9d9d 6.6%,#a2a2a2 7.5%,#aaaaaa 10.4%,#adadad 12.4%,#a9a9a9 14.1%,#999999 19.1%,#8b8b8b 25.7%,#838383 28.2%,#727272 32.4%,#6a6a6a 33.6%,#565656 36.1%,#4f4f4f 37.3%,#4b4b4b 38.6%,#404040 44%,#222222 50.2%,#1d1d1d 51.9%,#0e0e0e 100%)"></i><i style="background:linear-gradient(90deg,#717171 0%,#737373 1.2%,#797979 2.5%,#828282 3.3%,#a7a7a7 6.2%,#b1b1b1 7.5%,#b6b6b6 9.5%,#b9b9b9 12.4%,#b4b4b4 14.1%,#9e9e9e 19.1%,#898989 26.1%,#767676 32%,#6d6d6d 33.6%,#555555 36.9%,#4e4e4e 38.2%,#3f3f3f 44%,#222222 49.8%,#1d1d1d 51.5%,#0e0e0e 100%)"></i><i style="background:linear-gradient(90deg,#7e7e7e 0%,#808080 1.2%,#868686 2.5%,#949494 3.7%,#b6b6b6 6.2%,#c0c0c0 7.5%,#c4c4c4 9.1%,#c5c5c5 12.4%,#c1c1c1 13.7%,#a9a9a9 17.4%,#a1a1a1 19.1%,#8c8c8c 24.9%,#747474 32.8%,#6d6d6d 34%,#4f4f4f 38.6%,#4a4a4a 39.8%,#3f3f3f 44%,#222222 49.4%,#1c1c1c 51%,#0e0e0e 100%)"></i><i style="background:linear-gradient(90deg,#8c8c8c 0%,#8d8d8d 1.2%,#939393 2.5%,#a1a1a1 3.7%,#c4c4c4 6.2%,#cccccc 7.1%,#cfcfcf 7.5%,#d2d2d2 8.7%,#d2d2d2 12%,#d1d1d1 12.9%,#cccccc 13.7%,#b0b0b0 17%,#a3a3a3 19.1%,#8c8c8c 24.5%,#727272 33.6%,#4e4e4e 39.4%,#3e3e3e 44%,#212121 49%,#1b1b1b 50.6%,#191919 53.1%,#0d0d0d 100%)"></i><i style="background:linear-gradient(90deg,#959595 0%,#979797 1.7%,#9f9f9f 2.9%,#afafaf 4.1%,#cecece 6.2%,#d6d6d6 7.1%,#d9d9d9 7.5%,#dcdcdc 8.7%,#dcdcdc 12%,#dadada 12.9%,#d5d5d5 13.7%,#b0b0b0 17.4%,#a3a3a3 19.5%,#8c8c8c 24.5%,#777777 32.4%,#717171 34%,#505050 39.4%,#3e3e3e 44%,#222222 48.5%,#1b1b1b 50.2%,#191919 52.7%,#0d0d0d 100%)"></i><i style="background:linear-gradient(90deg,#969696 0%,#999999 1.7%,#a1a1a1 2.9%,#b0b0b0 4.1%,#cecece 6.2%,#d8d8d8 7.1%,#dbdbdb 7.5%,#dedede 8.7%,#dddddd 12.4%,#dbdbdb 13.3%,#d6d6d6 14.1%,#b1b1b1 17.8%,#a4a4a4 19.9%,#8c8c8c 24.9%,#747474 33.6%,#6e6e6e 34.9%,#505050 39.4%,#3e3e3e 44%,#222222 48.5%,#1b1b1b 50.2%,#191919 52.7%,#0c0c0c 100%)"></i><i style="background:linear-gradient(90deg,#989898 0%,#9a9a9a 1.7%,#a2a2a2 2.9%,#b1b1b1 4.1%,#d4d4d4 6.6%,#dcdcdc 7.5%,#dfdfdf 7.9%,#e1e1e1 9.1%,#e0e0e0 12.4%,#dddddd 13.7%,#d7d7d7 14.5%,#b1b1b1 18.3%,#a4a4a4 20.3%,#8d8d8d 25.3%,#767676 33.6%,#6f6f6f 34.9%,#4f4f4f 39.4%,#3e3e3e 44%,#222222 48.5%,#1b1b1b 50.2%,#191919 52.7%,#0c0c0c 100%)"></i><i style="background:linear-gradient(90deg,#9a9a9a 0%,#9c9c9c 1.7%,#a4a4a4 2.9%,#b2b2b2 4.1%,#d5d5d5 6.6%,#e0e0e0 7.9%,#e3e3e3 9.1%,#e2e2e2 12.9%,#e0e0e0 13.7%,#dbdbdb 14.5%,#d4d4d4 15.4%,#b2b2b2 18.7%,#a4a4a4 20.7%,#8e8e8e 25.3%,#777777 33.6%,#707070 34.9%,#4f4f4f 39.4%,#3e3e3e 44%,#222222 48.5%,#1b1b1b 50.2%,#191919 52.7%,#0b0b0b 100%)"></i><i style="background:linear-gradient(90deg,#9c9c9c 0%,#9e9e9e 1.7%,#a6a6a6 2.9%,#b3b3b3 4.1%,#dadada 7.1%,#e4e4e4 8.3%,#e6e6e6 9.5%,#e4e4e4 13.3%,#e1e1e1 14.1%,#dddddd 14.9%,#d5d5d5 15.8%,#b3b3b3 19.1%,#a5a5a5 21.2%,#8f8f8f 25.7%,#787878 33.6%,#717171 34.9%,#565656 38.2%,#4e4e4e 39.4%,#3e3e3e 44%,#222222 48.5%,#1b1b1b 50.2%,#191919 52.7%,#0b0b0b 100%)"></i><i style="background:linear-gradient(90deg,#9e9e9e 0%,#a0a0a0 1.7%,#a7a7a7 2.9%,#b4b4b4 4.1%,#dbdbdb 7.1%,#e6e6e6 8.3%,#e9e9e9 9.5%,#e6e6e6 13.3%,#e3e3e3 14.5%,#dddddd 15.4%,#b3b3b3 19.5%,#a5a5a5 21.6%,#8f8f8f 26.1%,#7a7a7a 33.6%,#727272 34.9%,#505050 39%,#4a4a4a 40.2%,#3e3e3e 44%,#222222 48.5%,#1b1b1b 50.2%,#191919 52.7%,#0a0a0a 100%)"></i><i style="background:linear-gradient(90deg,#9e9e9e 0%,#a0a0a0 1.7%,#a7a7a7 2.9%,#b4b4b4 4.1%,#d7d7d7 7.1%,#e2e2e2 8.3%,#e6e6e6 9.5%,#e4e4e4 13.3%,#e1e1e1 14.5%,#dcdcdc 15.4%,#b3b3b3 19.5%,#a5a5a5 21.6%,#8f8f8f 26.1%,#7e7e7e 32.4%,#7a7a7a 33.6%,#727272 34.9%,#595959 37.8%,#505050 39%,#4a4a4a 40.2%,#3e3e3e 44%,#212121 49%,#1b1b1b 50.6%,#191919 53.1%,#0a0a0a 100%)"></i><i style="background:linear-gradient(90deg,#9e9e9e 0%,#a0a0a0 1.7%,#a7a7a7 2.9%,#b3b3b3 4.1%,#d7d7d7 7.5%,#e0e0e0 8.7%,#e3e3e3 10%,#e0e0e0 13.7%,#dedede 14.5%,#d9d9d9 15.4%,#b2b2b2 19.5%,#a4a4a4 21.6%,#8e8e8e 26.1%,#7e7e7e 32.4%,#7a7a7a 33.6%,#727272 34.9%,#565656 38.2%,#4e4e4e 39.4%,#3f3f3f 44%,#212121 49.4%,#1a1a1a 51%,#191919 53.5%,#0a0a0a 100%)"></i><i style="background:linear-gradient(90deg,#9e9e9e 0%,#a0a0a0 1.7%,#a7a7a7 2.9%,#d3d3d3 7.5%,#dcdcdc 8.7%,#dfdfdf 10.4%,#dddddd 13.7%,#dbdbdb 14.5%,#d7d7d7 15.4%,#b1b1b1 19.5%,#a3a3a3 21.6%,#8e8e8e 26.1%,#7e7e7e 32.4%,#7a7a7a 33.6%,#727272 34.9%,#565656 38.2%,#4e4e4e 39.4%,#3f3f3f 44%,#202020 49.8%,#1b1b1b 51%,#191919 53.5%,#0a0a0a 100%)"></i><i style="background:linear-gradient(90deg,#9e9e9e 0%,#9f9f9f 1.2%,#a4a4a4 2.5%,#aeaeae 3.7%,#cfcfcf 7.5%,#d7d7d7 8.7%,#dbdbdb 10.4%,#dadada 13.7%,#d8d8d8 14.5%,#d4d4d4 15.4%,#b0b0b0 19.5%,#a2a2a2 21.6%,#8d8d8d 26.1%,#7e7e7e 32.4%,#7a7a7a 33.6%,#727272 34.9%,#565656 38.2%,#4e4e4e 39.4%,#404040 44%,#222222 49.8%,#1b1b1b 51.5%,#191919 53.9%,#0a0a0a 100%)"></i><i style="background:linear-gradient(90deg,#9e9e9e 0%,#9f9f9f 1.2%,#a4a4a4 2.5%,#cbcbcb 7.5%,#d5d5d5 9.1%,#d8d8d8 10.8%,#d7d7d7 13.7%,#d6d6d6 14.5%,#d2d2d2 15.4%,#aeaeae 19.5%,#a2a2a2 21.6%,#8d8d8d 26.1%,#7e7e7e 32.4%,#7a7a7a 33.6%,#727272 34.9%,#565656 38.2%,#4e4e4e 39.4%,#3f3f3f 44.4%,#212121 50.2%,#1b1b1b 51.9%,#191919 54.4%,#0a0a0a 100%)"></i><i style="background:linear-gradient(90deg,#9e9e9e 0%,#9f9f9f 1.2%,#a3a3a3 2.5%,#c7c7c7 7.5%,#d1d1d1 9.1%,#d4d4d4 10.8%,#d3d3d3 14.1%,#d1d1d1 14.9%,#cccccc 15.8%,#ababab 19.9%,#9f9f9f 22%,#8d8d8d 26.1%,#7e7e7e 32.4%,#7a7a7a 33.6%,#727272 34.9%,#565656 38.2%,#4e4e4e 39.4%,#3f3f3f 44.4%,#222222 50.2%,#1b1b1b 51.9%,#191919 54.4%,#0a0a0a 100%)"></i><i style="background:linear-gradient(90deg,#9d9d9d 0%,#9e9e9e 1.2%,#a0a0a0 2.1%,#bebebe 6.6%,#cbcbcb 9.1%,#cecece 10.8%,#cecece 14.1%,#c9c9c9 15.8%,#a7a7a7 20.7%,#919191 25.3%,#8b8b8b 27%,#7e7e7e 32.4%,#7a7a7a 33.6%,#727272 34.9%,#565656 38.2%,#4e4e4e 39.4%,#414141 44%,#202020 50.6%,#1a1a1a 52.3%,#191919 54.8%,#0a0a0a 100%)"></i><i style="background:linear-gradient(90deg,#9c9c9c 0%,#9d9d9d 1.2%,#9f9f9f 2.1%,#b4b4b4 5.4%,#c6c6c6 9.1%,#c9c9c9 10.8%,#c8c8c8 14.5%,#c3c3c3 16.2%,#a5a5a5 21.2%,#909090 25.7%,#8a8a8a 27.4%,#7e7e7e 32.4%,#7a7a7a 33.6%,#727272 34.9%,#5a5a5a 37.8%,#515151 39%,#4c4c4c 40.2%,#414141 44%,#202020 50.6%,#1a1a1a 52.3%,#191919 54.8%,#0a0a0a 100%)"></i><i style="background:linear-gradient(90deg,#9b9b9b 0%,#9c9c9c 1.2%,#9e9e9e 2.1%,#b0b0b0 5%,#c1c1c1 9.1%,#c3c3c3 10.8%,#c2c2c2 14.9%,#bdbdbd 16.6%,#a4a4a4 21.6%,#8f8f8f 26.1%,#7a7a7a 33.6%,#727272 34.9%,#5a5a5a 37.8%,#515151 39%,#4c4c4c 40.2%,#414141 44%,#202020 50.6%,#1a1a1a 52.3%,#191919 54.8%,#0a0a0a 100%)"></i><i style="background:linear-gradient(90deg,#9a9a9a 0%,#9b9b9b 1.2%,#9d9d9d 2.1%,#aeaeae 5%,#bcbcbc 9.1%,#bebebe 11.2%,#bdbdbd 15.4%,#b7b7b7 17.4%,#8e8e8e 26.6%,#7a7a7a 33.6%,#727272 34.9%,#5a5a5a 37.8%,#525252 39%,#414141 44%,#202020 50.6%,#1a1a1a 52.3%,#191919 54.8%,#0a0a0a 100%)"></i><i style="background:linear-gradient(90deg,#999999 0%,#9b9b9b 1.7%,#aaaaaa 4.6%,#b6b6b6 8.7%,#b8b8b8 10.8%,#b7b7b7 15.8%,#b3b3b3 17.4%,#a6a6a6 21.2%,#8c8c8c 27.4%,#7c7c7c 33.2%,#727272 34.9%,#5a5a5a 37.8%,#525252 39%,#414141 44%,#202020 50.6%,#1a1a1a 52.3%,#191919 54.8%,#0a0a0a 100%)"></i><i style="background:linear-gradient(90deg,#929292 0%,#949494 1.7%,#a4a4a4 4.6%,#b0b0b0 8.7%,#b2b2b2 10.8%,#b1b1b1 15.8%,#aeaeae 17.4%,#a3a3a3 21.2%,#888888 27.4%,#777777 33.2%,#717171 34.4%,#5a5a5a 37.3%,#525252 38.6%,#414141 44%,#202020 50.6%,#1a1a1a 52.3%,#191919 54.8%,#0a0a0a 100%)"></i><i style="background:linear-gradient(90deg,#8c8c8c 0%,#8f8f8f 1.7%,#a0a0a0 4.6%,#ababab 8.7%,#adadad 11.2%,#acacac 16.2%,#9f9f9f 21.6%,#858585 27.4%,#747474 33.2%,#6e6e6e 34.4%,#5a5a5a 36.9%,#535353 38.2%,#414141 44%,#202020 50.6%,#1a1a1a 52.3%,#191919 54.8%,#0a0a0a 100%)"></i><i style="background:linear-gradient(90deg,#8c8c8c 0%,#8f8f8f 1.7%,#a0a0a0 4.6%,#ababab 8.7%,#adadad 11.2%,#acacac 16.2%,#9f9f9f 21.6%,#858585 27.4%,#747474 33.2%,#6e6e6e 34.4%,#5a5a5a 36.9%,#535353 38.2%,#414141 44%,#202020 50.6%,#1a1a1a 52.3%,#191919 54.8%,#0a0a0a 100%)"></i></div></div><div class="hc" style="left:391px;top:278px;width:115px;height:89px"><div class="hm" style="width:121px;height:95px"><i style="background:linear-gradient(90deg,#4d4d4d 0%,#4d4d4d 3.7%,#525252 10%,#676767 19.1%,#797979 30.3%,#848484 39.8%,#878787 49.4%,#909090 53.9%,#8c8c8c 56.8%,#808080 62.7%,#6a6a6a 67.6%,#616161 70.1%,#5a5a5a 72.2%,#525252 75.9%,#484848 82.2%,#3e3e3e 90%,#383838 100%)"></i><i style="background:linear-gradient(90deg,#4d4d4d 0%,#4d4d4d 3.7%,#525252 10%,#676767 19.1%,#797979 30.3%,#848484 39.8%,#878787 49.4%,#909090 53.9%,#8c8c8c 56.8%,#808080 62.7%,#6a6a6a 67.6%,#616161 70.1%,#5a5a5a 72.2%,#525252 75.9%,#484848 82.2%,#3e3e3e 90%,#383838 100%)"></i><i style="background:linear-gradient(90deg,#4d4d4d 0%,#4d4d4d 3.3%,#525252 10%,#787878 30.3%,#848484 40.2%,#888888 49.4%,#919191 53.9%,#8e8e8e 56.4%,#828282 62.7%,#606060 71%,#515151 76.3%,#484848 82.2%,#3e3e3e 90%,#383838 97.1%,#373737 100%)"></i><i style="background:linear-gradient(90deg,#4d4d4d 0%,#4d4d4d 3.3%,#525252 10.4%,#616161 19.5%,#777777 30.7%,#848484 40.7%,#898989 49.4%,#919191 52.7%,#929292 53.9%,#888888 61%,#848484 63.1%,#616161 71.4%,#525252 76.3%,#3e3e3e 90.5%,#373737 97.1%,#363636 100%)"></i><i style="background:linear-gradient(90deg,#4d4d4d 0%,#505050 7.5%,#555555 12.9%,#606060 20.3%,#777777 31.5%,#848484 41.1%,#8a8a8a 49.4%,#929292 52.7%,#939393 53.9%,#878787 63.1%,#626262 71.8%,#535353 76.3%,#3d3d3d 90.9%,#363636 97.1%,#343434 100%)"></i><i style="background:linear-gradient(90deg,#4d4d4d 0%,#4d4d4d 3.3%,#515151 9.5%,#5c5c5c 19.9%,#777777 32%,#848484 41.5%,#8b8b8b 49.4%,#939393 52.7%,#959595 53.9%,#8d8d8d 61.8%,#898989 63.5%,#7c7c7c 66.8%,#5e5e5e 73.4%,#535353 76.8%,#3b3b3b 92.1%,#343434 97.5%,#333333 100%)"></i><i style="background:linear-gradient(90deg,#484848 0%,#484848 2.9%,#4d4d4d 8.3%,#585858 18.7%,#717171 31.5%,#818181 41.1%,#8b8b8b 49.4%,#959595 53.1%,#969696 54.4%,#8f8f8f 61.8%,#8c8c8c 63.5%,#7d7d7d 67.6%,#5c5c5c 75.1%,#535353 78%,#4a4a4a 82.6%,#3d3d3d 90.5%,#343434 97.1%,#333333 100%)"></i><i style="background:linear-gradient(90deg,#424242 0%,#434343 3.3%,#494949 9.1%,#666666 28.2%,#8a8a8a 49%,#979797 53.1%,#989898 54.8%,#929292 61.8%,#8e8e8e 63.9%,#7f7f7f 68.5%,#5b5b5b 76.8%,#4b4b4b 82.6%,#3c3c3c 90.9%,#343434 97.1%,#333333 100%)"></i><i style="background:linear-gradient(90deg,#3c3c3c 0%,#3e3e3e 4.1%,#454545 8.7%,#525252 16.2%,#646464 29.9%,#8a8a8a 49%,#989898 53.1%,#9a9a9a 55.2%,#959595 61.8%,#909090 64.3%,#818181 69.3%,#5b5b5b 78.4%,#4a4a4a 83.8%,#3c3c3c 90.9%,#343434 97.1%,#333333 100%)"></i><i style="background:linear-gradient(90deg,#363636 0%,#373737 2.5%,#3a3a3a 4.6%,#404040 8.3%,#4e4e4e 14.5%,#5e5e5e 29.9%,#898989 49%,#9a9a9a 53.5%,#9c9c9c 56%,#979797 62.7%,#888888 68.5%,#7f7f7f 71%,#505050 82.2%,#494949 84.6%,#3c3c3c 90.5%,#343434 97.1%,#333333 100%)"></i><i style="background:linear-gradient(90deg,#323232 0%,#333333 2.9%,#3a3a3a 7.5%,#4d4d4d 14.9%,#5b5b5b 30.3%,#898989 49%,#8d8d8d 50.2%,#9c9c9c 53.5%,#9f9f9f 56.4%,#9a9a9a 63.1%,#888888 69.7%,#737373 75.1%,#4f4f4f 83%,#474747 85.5%,#3c3c3c 90.5%,#343434 97.1%,#333333 100%)"></i><i style="background:linear-gradient(90deg,#313131 0%,#323232 3.3%,#3a3a3a 10%,#4a4a4a 15.8%,#4d4d4d 17.4%,#5a5a5a 31.5%,#727272 40.7%,#898989 49%,#9e9e9e 53.9%,#a1a1a1 56.8%,#9e9e9e 63.1%,#8c8c8c 69.7%,#787878 74.7%,#505050 83%,#484848 85.5%,#3c3c3c 90.9%,#343434 97.1%,#333333 100%)"></i><i style="background:linear-gradient(90deg,#2f2f2f 0%,#303030 3.3%,#393939 11.6%,#3d3d3d 13.7%,#4c4c4c 19.1%,#5a5a5a 32.8%,#717171 41.5%,#888888 48.5%,#8e8e8e 50.2%,#9b9b9b 52.7%,#a0a0a0 53.9%,#a3a3a3 55.6%,#a4a4a4 57.7%,#a2a2a2 63.1%,#8f8f8f 70.1%,#7a7a7a 75.1%,#515151 83%,#484848 85.5%,#3c3c3c 90.9%,#343434 97.1%,#333333 100%)"></i><i style="background:linear-gradient(90deg,#2d2d2d 0%,#2e2e2e 3.3%,#383838 14.1%,#3b3b3b 15.8%,#4c4c4c 21.2%,#595959 34%,#6e6e6e 41.5%,#797979 44.8%,#8c8c8c 49.8%,#9c9c9c 52.7%,#a2a2a2 53.9%,#a6a6a6 56%,#a7a7a7 58.1%,#a7a7a7 61.8%,#a5a5a5 63.5%,#919191 70.5%,#7b7b7b 75.5%,#515151 83.4%,#484848 85.9%,#3c3c3c 90.9%,#343434 97.1%,#333333 100%)"></i><i style="background:linear-gradient(90deg,#2c2c2c 0%,#2d2d2d 3.7%,#373737 16.2%,#3a3a3a 17.8%,#484848 22%,#4d4d4d 23.7%,#595959 35.3%,#6c6c6c 41.9%,#767676 44.8%,#8a8a8a 49.4%,#a0a0a0 53.1%,#a5a5a5 54.4%,#a9a9a9 56.8%,#ababab 61%,#a8a8a8 63.9%,#929292 71.4%,#7f7f7f 75.5%,#555555 83%,#4a4a4a 85.5%,#3d3d3d 90.9%,#343434 97.1%,#333333 100%)"></i><i style="background:linear-gradient(90deg,#2a2a2a 0%,#2b2b2b 3.7%,#353535 18.3%,#393939 19.9%,#4c4c4c 25.7%,#585858 36.5%,#606060 39.4%,#757575 45.2%,#8a8a8a 49.4%,#9f9f9f 52.7%,#a7a7a7 54.4%,#acacac 56.8%,#aeaeae 61.4%,#aeaeae 63.1%,#ababab 64.3%,#949494 71.8%,#7e7e7e 76.3%,#545454 83.4%,#494949 85.9%,#3c3c3c 91.3%,#343434 97.1%,#333333 100%)"></i><i style="background:linear-gradient(90deg,#282828 0%,#292929 3.7%,#343434 20.3%,#383838 22%,#4c4c4c 27.8%,#585858 38.2%,#6c6c6c 44%,#747474 46.1%,#898989 49.4%,#a0a0a0 52.7%,#a8a8a8 54.4%,#afafaf 57.3%,#b2b2b2 61.8%,#afafaf 64.3%,#9e9e9e 70.1%,#969696 72.2%,#828282 76.3%,#5b5b5b 82.6%,#4f4f4f 84.6%,#4a4a4a 85.9%,#3c3c3c 91.3%,#343434 97.1%,#333333 100%)"></i><i style="background:linear-gradient(90deg,#272727 0%,#272727 3.7%,#333333 22.4%,#363636 24.1%,#4c4c4c 29.9%,#585858 39.4%,#727272 46.5%,#7a7a7a 47.7%,#a1a1a1 52.7%,#aaaaaa 54.4%,#b2b2b2 57.3%,#b6b6b6 62.2%,#b2b2b2 64.7%,#a0a0a0 70.5%,#989898 72.6%,#868686 76.3%,#5d5d5d 82.6%,#515151 84.6%,#4a4a4a 86.3%,#3c3c3c 91.3%,#343434 97.1%,#333333 100%)"></i><i style="background:linear-gradient(90deg,#262626 0%,#262626 3.7%,#323232 23.2%,#353535 24.9%,#474747 29.5%,#4c4c4c 31.1%,#565656 39.8%,#666666 44.4%,#717171 46.9%,#7a7a7a 48.1%,#9f9f9f 52.3%,#adadad 54.4%,#b3b3b3 56%,#b6b6b6 57.3%,#bababa 61.8%,#b9b9b9 63.1%,#b5b5b5 64.7%,#a3a3a3 70.5%,#999999 73%,#878787 76.8%,#5f5f5f 82.6%,#525252 84.6%,#4a4a4a 86.3%,#3c3c3c 91.7%,#343434 97.1%,#333333 100%)"></i><i style="background:linear-gradient(90deg,#252525 0%,#262626 4.1%,#313131 24.1%,#353535 25.7%,#4a4a4a 31.5%,#565656 40.7%,#666666 45.2%,#6e6e6e 46.9%,#787878 48.1%,#a4a4a4 52.7%,#b2b2b2 54.8%,#b8b8b8 56%,#bbbbbb 57.3%,#bebebe 61.8%,#bcbcbc 63.9%,#a8a8a8 70.1%,#a0a0a0 72.2%,#8f8f8f 75.9%,#848484 78%,#696969 81.3%,#5e5e5e 83%,#515151 85.1%,#4b4b4b 86.3%,#3c3c3c 91.7%,#353535 97.1%,#333333 100%)"></i><i style="background:linear-gradient(90deg,#242424 0%,#252525 3.7%,#303030 24.5%,#333333 26.1%,#494949 32%,#545454 41.1%,#656565 45.6%,#6e6e6e 47.3%,#7a7a7a 48.5%,#a6a6a6 52.7%,#b0b0b0 53.9%,#b8b8b8 55.2%,#c0c0c0 57.3%,#c2c2c2 61.4%,#c1c1c1 63.1%,#bcbcbc 65.1%,#a7a7a7 71.4%,#919191 76.3%,#858585 78.4%,#6c6c6c 81.3%,#606060 83%,#525252 85.1%,#4a4a4a 86.7%,#3c3c3c 92.1%,#343434 97.5%,#333333 100%)"></i><i style="background:linear-gradient(90deg,#232323 0%,#242424 4.1%,#2f2f2f 25.3%,#333333 27%,#434343 31.1%,#484848 32.8%,#505050 39.8%,#535353 41.5%,#626262 45.6%,#6b6b6b 47.3%,#777777 48.5%,#a7a7a7 52.7%,#b3b3b3 53.9%,#bbbbbb 55.2%,#c2c2c2 56.4%,#c4c4c4 57.3%,#c6c6c6 61%,#c5c5c5 63.1%,#c1c1c1 64.7%,#aaaaaa 71.4%,#919191 77.2%,#868686 78.8%,#6c6c6c 81.7%,#626262 83%,#545454 85.1%,#4b4b4b 86.7%,#3c3c3c 92.1%,#343434 97.5%,#333333 100%)"></i><i style="background:linear-gradient(90deg,#232323 0%,#242424 4.1%,#2e2e2e 25.7%,#323232 27.4%,#474747 33.2%,#4e4e4e 40.2%,#525252 41.9%,#5f5f5f 45.6%,#696969 47.3%,#757575 48.5%,#959595 51%,#a9a9a9 52.7%,#b5b5b5 53.9%,#bfbfbf 55.2%,#c8c8c8 56.8%,#cacaca 58.9%,#cacaca 62.2%,#c7c7c7 63.9%,#adadad 71.4%,#959595 77.2%,#8e8e8e 78.4%,#888888 79.3%,#6f6f6f 81.7%,#616161 83.4%,#535353 85.5%,#4b4b4b 87.1%,#3c3c3c 92.5%,#343434 97.5%,#333333 100%)"></i><i style="background:linear-gradient(90deg,#222222 0%,#232323 4.1%,#2e2e2e 26.1%,#323232 27.8%,#474747 33.6%,#4e4e4e 40.7%,#525252 42.3%,#606060 46.1%,#676767 47.3%,#747474 48.5%,#a0a0a0 51.9%,#b7b7b7 53.9%,#c1c1c1 55.2%,#c9c9c9 56.4%,#cbcbcb 57.3%,#cdcdcd 58.5%,#cccccc 62.2%,#c9c9c9 63.9%,#aeaeae 71.4%,#969696 77.2%,#909090 78.4%,#8a8a8a 79.3%,#707070 81.7%,#626262 83.4%,#535353 85.5%,#4b4b4b 87.1%,#3c3c3c 92.5%,#343434 97.5%,#333333 100%)"></i><i style="background:linear-gradient(90deg,#222222 0%,#232323 4.1%,#2e2e2e 26.1%,#313131 27.8%,#464646 33.6%,#4e4e4e 40.7%,#515151 42.3%,#5e5e5e 45.6%,#676767 47.3%,#747474 48.5%,#a0a0a0 51.9%,#b7b7b7 53.9%,#c2c2c2 55.2%,#cacaca 56.4%,#cccccc 57.3%,#cecece 58.5%,#cdcdcd 62.2%,#cacaca 63.9%,#aeaeae 71.4%,#969696 77.2%,#909090 78.4%,#8a8a8a 79.3%,#707070 81.7%,#626262 83.4%,#535353 85.5%,#4b4b4b 87.1%,#3c3c3c 92.5%,#343434 97.5%,#333333 100%)"></i><i style="background:linear-gradient(90deg,#222222 0%,#232323 4.1%,#2e2e2e 26.1%,#313131 27.8%,#474747 34%,#4e4e4e 40.7%,#515151 42.3%,#5e5e5e 45.6%,#676767 47.3%,#747474 48.5%,#a0a0a0 51.9%,#b8b8b8 53.9%,#c3c3c3 55.2%,#cbcbcb 56.4%,#cecece 57.3%,#cfcfcf 58.5%,#cecece 62.2%,#cbcbcb 63.9%,#afafaf 71.4%,#969696 77.2%,#909090 78.4%,#8a8a8a 79.3%,#707070 81.7%,#626262 83.4%,#535353 85.5%,#4b4b4b 87.1%,#3c3c3c 92.5%,#343434 97.5%,#333333 100%)"></i><i style="background:linear-gradient(90deg,#222222 0%,#2e2e2e 26.1%,#323232 28.2%,#474747 34%,#4e4e4e 40.7%,#515151 42.3%,#5e5e5e 45.6%,#676767 47.3%,#747474 48.5%,#ababab 52.7%,#bdbdbd 54.4%,#c7c7c7 55.6%,#cccccc 56.4%,#cfcfcf 57.3%,#d0d0d0 58.5%,#cfcfcf 62.2%,#cccccc 63.9%,#afafaf 71.4%,#969696 77.2%,#909090 78.4%,#8a8a8a 79.3%,#707070 81.7%,#626262 83.4%,#535353 85.5%,#4b4b4b 87.1%,#3c3c3c 92.5%,#343434 97.5%,#333333 100%)"></i><i style="background:linear-gradient(90deg,#222222 0%,#232323 4.1%,#2e2e2e 26.6%,#323232 28.2%,#464646 34%,#515151 42.3%,#5e5e5e 45.6%,#676767 47.3%,#747474 48.5%,#ababab 52.7%,#bdbdbd 54.4%,#c8c8c8 55.6%,#cdcdcd 56.4%,#d0d0d0 57.3%,#d1d1d1 58.5%,#d0d0d0 62.2%,#cdcdcd 63.9%,#b0b0b0 71.4%,#969696 77.2%,#909090 78.4%,#8a8a8a 79.3%,#707070 81.7%,#626262 83.4%,#535353 85.5%,#4b4b4b 87.1%,#3c3c3c 92.5%,#343434 97.5%,#333333 100%)"></i><i style="background:linear-gradient(90deg,#222222 0%,#232323 4.1%,#2e2e2e 26.6%,#313131 28.2%,#474747 34.4%,#4e4e4e 41.1%,#525252 42.7%,#606060 46.1%,#676767 47.3%,#747474 48.5%,#a7a7a7 52.3%,#bebebe 54.4%,#c9c9c9 55.6%,#cecece 56.4%,#d1d1d1 57.3%,#d2d2d2 58.5%,#d1d1d1 62.2%,#cdcdcd 63.9%,#b0b0b0 71.4%,#969696 77.2%,#909090 78.4%,#8a8a8a 79.3%,#707070 81.7%,#626262 83.4%,#535353 85.5%,#4b4b4b 87.1%,#3c3c3c 92.5%,#343434 97.5%,#333333 100%)"></i><i style="background:linear-gradient(90deg,#222222 0%,#232323 4.1%,#2e2e2e 26.6%,#313131 28.2%,#474747 34.4%,#4e4e4e 41.1%,#525252 42.7%,#5f5f5f 46.1%,#676767 47.3%,#747474 48.5%,#a7a7a7 52.3%,#bfbfbf 54.4%,#c9c9c9 55.6%,#cfcfcf 56.4%,#d2d2d2 57.3%,#d3d3d3 58.5%,#d2d2d2 62.2%,#cecece 63.9%,#b0b0b0 71.4%,#979797 77.2%,#909090 78.4%,#8a8a8a 79.3%,#707070 81.7%,#626262 83.4%,#535353 85.5%,#4b4b4b 87.1%,#3c3c3c 92.5%,#343434 97.5%,#333333 100%)"></i><i style="background:linear-gradient(90deg,#222222 0%,#2e2e2e 26.6%,#323232 28.6%,#464646 34.4%,#4e4e4e 41.1%,#515151 42.7%,#5d5d5d 45.6%,#676767 47.3%,#747474 48.5%,#adadad 52.7%,#bfbfbf 54.4%,#cacaca 55.6%,#d0d0d0 56.4%,#d3d3d3 57.3%,#d4d4d4 58.5%,#d3d3d3 62.2%,#cfcfcf 63.9%,#b1b1b1 71.4%,#979797 77.2%,#909090 78.4%,#8a8a8a 79.3%,#707070 81.7%,#626262 83.4%,#535353 85.5%,#4b4b4b 87.1%,#3c3c3c 92.5%,#343434 97.5%,#333333 100%)"></i><i style="background:linear-gradient(90deg,#222222 0%,#232323 4.1%,#2e2e2e 27%,#323232 28.6%,#474747 34.9%,#4e4e4e 41.1%,#515151 42.7%,#5d5d5d 45.6%,#676767 47.3%,#747474 48.5%,#adadad 52.7%,#c0c0c0 54.4%,#cbcbcb 55.6%,#d1d1d1 56.4%,#d4d4d4 57.3%,#d5d5d5 58.5%,#d4d4d4 62.2%,#d0d0d0 63.9%,#b1b1b1 71.4%,#979797 77.2%,#909090 78.4%,#8a8a8a 79.3%,#707070 81.7%,#626262 83.4%,#535353 85.5%,#4b4b4b 87.1%,#3c3c3c 92.5%,#343434 97.5%,#333333 100%)"></i><i style="background:linear-gradient(90deg,#222222 0%,#232323 4.1%,#2e2e2e 27%,#323232 28.6%,#464646 34.9%,#4e4e4e 41.1%,#515151 42.7%,#5d5d5d 45.6%,#676767 47.3%,#747474 48.5%,#aeaeae 52.7%,#c1c1c1 54.4%,#cccccc 55.6%,#d2d2d2 56.4%,#d5d5d5 57.3%,#d6d6d6 58.5%,#d5d5d5 62.2%,#d1d1d1 63.9%,#b2b2b2 71.4%,#979797 77.2%,#909090 78.4%,#8a8a8a 79.3%,#707070 81.7%,#626262 83.4%,#535353 85.5%,#4b4b4b 87.1%,#3c3c3c 92.5%,#343434 97.5%,#333333 100%)"></i><i style="background:linear-gradient(90deg,#222222 0%,#2e2e2e 27%,#313131 28.6%,#464646 34.9%,#515151 42.7%,#5d5d5d 45.6%,#676767 47.3%,#747474 48.5%,#aeaeae 52.7%,#c2c2c2 54.4%,#cdcdcd 55.6%,#d3d3d3 56.4%,#d6d6d6 57.3%,#d7d7d7 58.5%,#d6d6d6 62.2%,#d2d2d2 63.9%,#b4b4b4 71%,#979797 77.2%,#909090 78.4%,#8a8a8a 79.3%,#707070 81.7%,#626262 83.4%,#535353 85.5%,#4b4b4b 87.1%,#3c3c3c 92.5%,#343434 97.5%,#333333 100%)"></i><i style="background:linear-gradient(90deg,#222222 0%,#2e2e2e 27%,#313131 28.6%,#474747 35.3%,#515151 42.7%,#5d5d5d 45.6%,#676767 47.3%,#747474 48.5%,#aeaeae 52.7%,#c7c7c7 54.8%,#d4d4d4 56.4%,#d7d7d7 57.3%,#d8d8d8 58.5%,#d7d7d7 62.2%,#d3d3d3 63.9%,#b4b4b4 71%,#979797 77.2%,#909090 78.4%,#8a8a8a 79.3%,#707070 81.7%,#626262 83.4%,#535353 85.5%,#4b4b4b 87.1%,#3c3c3c 92.5%,#343434 97.5%,#333333 100%)"></i><i style="background:linear-gradient(90deg,#222222 0%,#2e2e2e 27%,#323232 29%,#464646 35.3%,#4e4e4e 41.5%,#525252 43.2%,#5f5f5f 46.1%,#676767 47.3%,#747474 48.5%,#afafaf 52.7%,#c3c3c3 54.4%,#cfcfcf 55.6%,#d5d5d5 56.4%,#d8d8d8 57.3%,#d9d9d9 58.1%,#d8d8d8 61.8%,#d4d4d4 63.9%,#b5b5b5 71%,#999999 76.8%,#939393 78%,#8a8a8a 79.3%,#707070 81.7%,#626262 83.4%,#535353 85.5%,#4b4b4b 87.1%,#3c3c3c 92.5%,#343434 97.5%,#333333 100%)"></i><i style="background:linear-gradient(90deg,#222222 0%,#232323 4.1%,#2e2e2e 27.4%,#323232 29%,#464646 35.3%,#4e4e4e 41.5%,#515151 43.2%,#5f5f5f 46.1%,#6b6b6b 47.7%,#7a7a7a 49%,#b5b5b5 53.1%,#c4c4c4 54.4%,#d0d0d0 55.6%,#d6d6d6 56.4%,#d9d9d9 57.3%,#dadada 58.1%,#d9d9d9 61.8%,#d4d4d4 63.9%,#999999 76.8%,#939393 78%,#8a8a8a 79.3%,#707070 81.7%,#626262 83.4%,#535353 85.5%,#4b4b4b 87.1%,#3c3c3c 92.5%,#343434 97.5%,#333333 100%)"></i><i style="background:linear-gradient(90deg,#222222 0%,#232323 4.1%,#2e2e2e 27.4%,#323232 29%,#464646 35.3%,#4e4e4e 41.5%,#515151 43.2%,#5c5c5c 45.6%,#676767 47.3%,#747474 48.5%,#afafaf 52.7%,#c8c8c8 54.8%,#d5d5d5 56.4%,#d9d9d9 57.3%,#dadada 58.5%,#d8d8d8 62.2%,#d4d4d4 63.9%,#b5b5b5 71%,#979797 77.2%,#8a8a8a 79.3%,#707070 81.7%,#626262 83.4%,#535353 85.5%,#4b4b4b 87.1%,#3c3c3c 92.5%,#343434 97.5%,#333333 100%)"></i><i style="background:linear-gradient(90deg,#222222 0%,#232323 4.1%,#2e2e2e 27.4%,#323232 29%,#464646 35.3%,#4e4e4e 41.5%,#515151 43.2%,#5c5c5c 45.6%,#676767 47.3%,#747474 48.5%,#afafaf 52.7%,#c7c7c7 54.8%,#d5d5d5 56.4%,#d8d8d8 57.3%,#d9d9d9 58.5%,#d8d8d8 62.2%,#d4d4d4 63.9%,#b5b5b5 71%,#979797 77.2%,#8a8a8a 79.3%,#707070 81.7%,#626262 83.4%,#535353 85.5%,#4b4b4b 87.1%,#3c3c3c 92.5%,#343434 97.5%,#333333 100%)"></i><i style="background:linear-gradient(90deg,#222222 0%,#232323 4.1%,#2e2e2e 27.4%,#323232 29%,#464646 35.3%,#4e4e4e 41.5%,#515151 43.2%,#5c5c5c 45.6%,#676767 47.3%,#747474 48.5%,#afafaf 52.7%,#c7c7c7 54.8%,#d4d4d4 56.4%,#d8d8d8 57.3%,#d9d9d9 58.5%,#d8d8d8 62.2%,#d4d4d4 63.9%,#b5b5b5 71%,#999999 76.8%,#939393 78%,#8a8a8a 79.3%,#707070 81.7%,#626262 83.4%,#535353 85.5%,#4b4b4b 87.1%,#3c3c3c 92.5%,#343434 97.5%,#333333 100%)"></i><i style="background:linear-gradient(90deg,#222222 0%,#232323 4.1%,#2e2e2e 27.4%,#323232 29%,#464646 35.3%,#4e4e4e 41.5%,#515151 43.2%,#5f5f5f 46.1%,#6b6b6b 47.7%,#7a7a7a 49%,#b4b4b4 53.1%,#cacaca 55.2%,#d1d1d1 56%,#d6d6d6 56.8%,#d8d8d8 58.5%,#d7d7d7 62.2%,#d3d3d3 63.9%,#b5b5b5 71%,#999999 76.8%,#939393 78%,#8a8a8a 79.3%,#707070 81.7%,#626262 83.4%,#535353 85.5%,#4b4b4b 87.1%,#3c3c3c 92.5%,#343434 97.5%,#333333 100%)"></i><i style="background:linear-gradient(90deg,#222222 0%,#232323 4.1%,#2e2e2e 27.4%,#323232 29%,#464646 35.3%,#4e4e4e 41.5%,#515151 43.2%,#5f5f5f 46.1%,#6b6b6b 47.7%,#7a7a7a 49%,#b4b4b4 53.1%,#cacaca 55.2%,#d1d1d1 56%,#d5d5d5 56.8%,#d8d8d8 58.5%,#d7d7d7 62.2%,#d3d3d3 63.9%,#b5b5b5 71%,#999999 76.8%,#939393 78%,#8a8a8a 79.3%,#707070 81.7%,#626262 83.4%,#535353 85.5%,#4b4b4b 87.1%,#3c3c3c 92.5%,#343434 97.5%,#333333 100%)"></i><i style="background:linear-gradient(90deg,#222222 0%,#232323 4.1%,#2e2e2e 27.4%,#323232 29%,#464646 35.3%,#4e4e4e 41.5%,#515151 43.2%,#5f5f5f 46.1%,#6b6b6b 47.7%,#7a7a7a 49%,#b3b3b3 53.1%,#c9c9c9 55.2%,#d0d0d0 56%,#d5d5d5 56.8%,#d7d7d7 58.5%,#d6d6d6 62.2%,#d3d3d3 63.9%,#b5b5b5 71%,#999999 76.8%,#939393 78%,#8a8a8a 79.3%,#707070 81.7%,#626262 83.4%,#535353 85.5%,#4b4b4b 87.1%,#3c3c3c 92.5%,#343434 97.5%,#333333 100%)"></i><i style="background:linear-gradient(90deg,#222222 0%,#232323 4.1%,#2e2e2e 27.4%,#323232 29%,#464646 35.3%,#4e4e4e 41.5%,#515151 43.2%,#5f5f5f 46.1%,#6b6b6b 47.7%,#797979 49%,#b3b3b3 53.1%,#c9c9c9 55.2%,#cfcfcf 56%,#d4d4d4 56.8%,#d7d7d7 58.5%,#d6d6d6 62.2%,#d2d2d2 63.9%,#b5b5b5 71%,#999999 76.8%,#939393 78%,#8a8a8a 79.3%,#707070 81.7%,#626262 83.4%,#535353 85.5%,#4b4b4b 87.1%,#3c3c3c 92.5%,#343434 97.5%,#333333 100%)"></i><i style="background:linear-gradient(90deg,#222222 0%,#232323 4.1%,#2e2e2e 27.4%,#323232 29%,#464646 35.3%,#4e4e4e 41.5%,#515151 43.2%,#5f5f5f 46.1%,#6b6b6b 47.7%,#797979 49%,#b3b3b3 53.1%,#c8c8c8 55.2%,#cfcfcf 56%,#d3d3d3 56.8%,#d6d6d6 58.9%,#d6d6d6 62.2%,#d2d2d2 63.9%,#b5b5b5 71%,#999999 76.8%,#939393 78%,#8a8a8a 79.3%,#707070 81.7%,#626262 83.4%,#535353 85.5%,#4b4b4b 87.1%,#3c3c3c 92.5%,#343434 97.5%,#333333 100%)"></i><i style="background:linear-gradient(90deg,#373737 0%,#373737 3.7%,#424242 25.3%,#4c4c4c 34%,#535353 37.3%,#5f5f5f 42.3%,#6b6b6b 45.2%,#737373 46.9%,#818181 48.5%,#afafaf 53.1%,#b8b8b8 54.4%,#bfbfbf 55.6%,#c4c4c4 57.3%,#c5c5c5 60.6%,#c4c4c4 62.7%,#c1c1c1 64.3%,#a8a8a8 71.4%,#929292 76.8%,#888888 78.4%,#6e6e6e 81.3%,#5e5e5e 83.4%,#505050 85.5%,#4a4a4a 86.7%,#3c3c3c 92.1%,#343434 97.5%,#333333 100%)"></i><i style="background:linear-gradient(90deg,#474747 0%,#484848 3.7%,#525252 23.2%,#525252 32.8%,#535353 34.4%,#696969 41.1%,#7e7e7e 46.5%,#858585 47.7%,#a7a7a7 52.3%,#b0b0b0 53.9%,#b7b7b7 56.8%,#b8b8b8 61.4%,#b6b6b6 63.1%,#b4b4b4 64.3%,#8f8f8f 76.3%,#888888 77.6%,#6a6a6a 81.3%,#575757 83.8%,#505050 85.1%,#4a4a4a 86.3%,#3d3d3d 91.3%,#343434 97.1%,#333333 100%)"></i><i style="background:linear-gradient(90deg,#474747 0%,#484848 3.7%,#525252 23.2%,#525252 32.8%,#535353 34.4%,#696969 41.1%,#7e7e7e 46.5%,#858585 47.7%,#a7a7a7 52.3%,#b0b0b0 53.9%,#b7b7b7 56.8%,#b8b8b8 61.4%,#b6b6b6 63.1%,#b4b4b4 64.3%,#8f8f8f 76.3%,#888888 77.6%,#6a6a6a 81.3%,#575757 83.8%,#505050 85.1%,#4a4a4a 86.3%,#3d3d3d 91.3%,#343434 97.1%,#333333 100%)"></i></div></div><div class="hc" style="left:28px;top:408px;width:115px;height:89px"><div class="hm" style="width:121px;height:95px"><i style="background:linear-gradient(90deg,#0d0d0d 0%,#0a0a0a 21.2%,#0a0a0a 40.2%,#111111 55.6%,#161616 59.3%,#1e1e1e 61%,#2c2c2c 62.7%,#3b3b3b 63.9%,#4f4f4f 65.1%,#676767 66.4%,#848484 67.6%,#c5c5c5 70.1%,#fefefe 72.2%,#ffffff 72.6%,#ffffff 79.3%,#fbfbfb 79.7%,#e7e7e7 80.9%,#c9c9c9 82.6%,#7c7c7c 86.3%,#646464 87.6%,#4b4b4b 89.2%,#3b3b3b 90.9%,#313131 92.5%,#2d2d2d 94.2%,#2b2b2b 100%)"></i><i style="background:linear-gradient(90deg,#0d0d0d 0%,#0a0a0a 21.2%,#0a0a0a 40.2%,#111111 55.6%,#161616 59.3%,#1e1e1e 61%,#2c2c2c 62.7%,#3b3b3b 63.9%,#4f4f4f 65.1%,#676767 66.4%,#848484 67.6%,#c5c5c5 70.1%,#fefefe 72.2%,#ffffff 72.6%,#ffffff 79.3%,#fbfbfb 79.7%,#e7e7e7 80.9%,#c9c9c9 82.6%,#7c7c7c 86.3%,#646464 87.6%,#4b4b4b 89.2%,#3b3b3b 90.9%,#313131 92.5%,#2d2d2d 94.2%,#2b2b2b 100%)"></i><i style="background:linear-gradient(90deg,#0d0d0d 0%,#0a0a0a 21.2%,#0a0a0a 40.2%,#111111 55.6%,#161616 59.3%,#1e1e1e 61%,#2b2b2b 62.7%,#3a3a3a 63.9%,#4c4c4c 65.1%,#646464 66.4%,#808080 67.6%,#c2c2c2 70.1%,#fcfcfc 72.2%,#ffffff 72.6%,#ffffff 79.3%,#fcfcfc 79.7%,#e9e9e9 80.9%,#cccccc 82.6%,#b4b4b4 83.8%,#777777 86.7%,#606060 88%,#4e4e4e 89.2%,#3c3c3c 90.9%,#323232 92.5%,#2d2d2d 94.2%,#2c2c2c 95.9%,#2b2b2b 100%)"></i><i style="background:linear-gradient(90deg,#0d0d0d 0%,#0a0a0a 21.2%,#0b0b0b 40.2%,#111111 55.6%,#161616 59.3%,#1e1e1e 61%,#2a2a2a 62.7%,#3d3d3d 64.3%,#515151 65.6%,#696969 66.8%,#878787 68%,#bebebe 70.1%,#f9f9f9 72.2%,#ffffff 72.6%,#ffffff 79.3%,#fefefe 79.7%,#e5e5e5 81.3%,#c9c9c9 83%,#7c7c7c 86.7%,#646464 88%,#515151 89.2%,#424242 90.5%,#353535 92.1%,#2f2f2f 93.8%,#2c2c2c 95.9%,#2b2b2b 100%)"></i><i style="background:linear-gradient(90deg,#0d0d0d 0%,#0a0a0a 21.2%,#0b0b0b 40.2%,#121212 55.6%,#161616 59.3%,#1e1e1e 61%,#292929 62.7%,#3b3b3b 64.3%,#4e4e4e 65.6%,#666666 66.8%,#838383 68%,#bababa 70.1%,#f5f5f5 72.2%,#ffffff 72.6%,#ffffff 79.7%,#e8e8e8 81.3%,#cdcdcd 83%,#b5b5b5 84.2%,#787878 87.1%,#616161 88.4%,#4e4e4e 89.6%,#444444 90.5%,#373737 92.1%,#2f2f2f 93.8%,#2c2c2c 95.9%,#2b2b2b 100%)"></i><i style="background:linear-gradient(90deg,#0d0d0d 0%,#0a0a0a 21.2%,#0b0b0b 40.2%,#131313 56.8%,#151515 58.9%,#171717 59.8%,#1f1f1f 61.8%,#2a2a2a 63.5%,#3b3b3b 65.1%,#4d4d4d 66.4%,#656565 67.6%,#828282 68.9%,#aeaeae 70.5%,#ececec 72.6%,#f7f7f7 73%,#ffffff 73.4%,#ffffff 78.8%,#fcfcfc 79.3%,#e4e4e4 81.3%,#cccccc 83%,#aeaeae 84.6%,#737373 87.6%,#575757 89.2%,#464646 90.5%,#3b3b3b 91.7%,#333333 92.9%,#2e2e2e 94.6%,#2c2c2c 96.3%,#2b2b2b 100%)"></i><i style="background:linear-gradient(90deg,#0d0d0d 0%,#0a0a0a 21.2%,#0b0b0b 40.2%,#151515 58.9%,#1a1a1a 61%,#202020 62.7%,#2a2a2a 64.3%,#3a3a3a 66%,#4c4c4c 67.2%,#636363 68.5%,#898989 70.1%,#d8d8d8 73%,#ececec 73.9%,#fafafa 74.7%,#ffffff 75.1%,#ffffff 75.5%,#ffffff 77.2%,#fdfdfd 77.6%,#e1e1e1 80.9%,#d0d0d0 82.6%,#c4c4c4 83.4%,#afafaf 84.6%,#767676 87.6%,#606060 88.8%,#484848 90.5%,#3c3c3c 91.7%,#343434 92.9%,#2e2e2e 94.6%,#2c2c2c 96.3%,#2b2b2b 100%)"></i><i style="background:linear-gradient(90deg,#0d0d0d 0%,#0a0a0a 21.2%,#0c0c0c 40.2%,#151515 58.9%,#1c1c1c 61.8%,#222222 63.5%,#2a2a2a 65.1%,#343434 66.4%,#434343 67.6%,#505050 68.5%,#6f6f6f 70.1%,#8c8c8c 71.4%,#c0c0c0 73.4%,#dadada 74.7%,#e6e6e6 75.5%,#ebebeb 75.9%,#f0f0f0 76.8%,#f2f2f2 77.6%,#f0f0f0 78.8%,#e8e8e8 80.9%,#e0e0e0 82.2%,#d3d3d3 83.4%,#c6c6c6 84.2%,#b8b8b8 85.1%,#737373 88.4%,#5c5c5c 89.6%,#494949 90.9%,#3c3c3c 92.1%,#343434 93.4%,#2e2e2e 95%,#2c2c2c 96.7%,#2b2b2b 100%)"></i><i style="background:linear-gradient(90deg,#0d0d0d 0%,#0a0a0a 21.2%,#0c0c0c 40.2%,#151515 58.9%,#1f1f1f 63.1%,#262626 65.1%,#2d2d2d 66.4%,#373737 67.6%,#404040 68.5%,#575757 70.1%,#656565 71%,#7e7e7e 72.2%,#bebebe 75.1%,#d5d5d5 76.3%,#e0e0e0 77.2%,#e8e8e8 78%,#ececec 78.8%,#eeeeee 79.7%,#eeeeee 80.9%,#eaeaea 82.2%,#e0e0e0 83.4%,#d6d6d6 84.2%,#c9c9c9 85.1%,#b8b8b8 85.9%,#777777 88.8%,#5e5e5e 90%,#4a4a4a 91.3%,#3c3c3c 92.5%,#343434 93.8%,#2e2e2e 95.4%,#2b2b2b 100%)"></i><i style="background:linear-gradient(90deg,#0d0d0d 0%,#0a0a0a 21.2%,#0c0c0c 40.2%,#161616 58.9%,#222222 64.3%,#292929 66.4%,#303030 67.6%,#3a3a3a 68.9%,#4c4c4c 70.5%,#585858 71.4%,#707070 72.6%,#bebebe 75.9%,#d6d6d6 77.2%,#e3e3e3 78%,#ececec 78.8%,#f1f1f1 79.7%,#f3f3f3 80.5%,#f2f2f2 82.2%,#efefef 83%,#e8e8e8 83.8%,#dedede 84.6%,#d1d1d1 85.5%,#c0c0c0 86.3%,#7b7b7b 89.2%,#606060 90.5%,#4b4b4b 91.7%,#404040 92.5%,#363636 93.8%,#2f2f2f 95.4%,#2c2c2c 97.1%,#2b2b2b 100%)"></i><i style="background:linear-gradient(90deg,#0d0d0d 0%,#0a0a0a 21.2%,#0d0d0d 40.2%,#161616 58.9%,#242424 64.7%,#292929 66.4%,#2f2f2f 67.6%,#383838 68.9%,#484848 70.5%,#545454 71.4%,#6b6b6b 72.6%,#7e7e7e 73.4%,#c4c4c4 76.3%,#dcdcdc 77.6%,#e8e8e8 78.4%,#f0f0f0 79.3%,#f4f4f4 80.1%,#f5f5f5 80.9%,#f3f3f3 82.6%,#efefef 83.4%,#e7e7e7 84.2%,#dbdbdb 85.1%,#cccccc 85.9%,#b9b9b9 86.7%,#7c7c7c 89.2%,#696969 90%,#515151 91.3%,#404040 92.5%,#353535 93.8%,#2e2e2e 95.4%,#2c2c2c 97.1%,#2b2b2b 100%)"></i><i style="background:linear-gradient(90deg,#0d0d0d 0%,#0a0a0a 21.2%,#0d0d0d 40.2%,#171717 58.9%,#272727 65.6%,#2d2d2d 67.2%,#343434 68.5%,#414141 70.1%,#4a4a4a 71%,#575757 71.8%,#6f6f6f 73%,#828282 73.9%,#c1c1c1 76.3%,#dbdbdb 77.6%,#e8e8e8 78.4%,#f1f1f1 79.3%,#f6f6f6 80.1%,#f7f7f7 80.9%,#f6f6f6 82.6%,#f2f2f2 83.4%,#eaeaea 84.2%,#dedede 85.1%,#cfcfcf 85.9%,#bcbcbc 86.7%,#7c7c7c 89.2%,#696969 90%,#515151 91.3%,#404040 92.5%,#353535 93.8%,#2f2f2f 95%,#2c2c2c 96.7%,#2b2b2b 100%)"></i><i style="background:linear-gradient(90deg,#0d0d0d 0%,#0b0b0b 21.2%,#0e0e0e 40.2%,#191919 58.9%,#282828 66%,#333333 68.5%,#3f3f3f 70.1%,#4c4c4c 71.4%,#5a5a5a 72.2%,#6a6a6a 73%,#7d7d7d 73.9%,#c7c7c7 76.8%,#e1e1e1 78%,#ededed 78.8%,#f1f1f1 79.3%,#f7f7f7 80.1%,#fafafa 80.9%,#f9f9f9 82.6%,#f5f5f5 83.4%,#ededed 84.2%,#e2e2e2 85.1%,#d2d2d2 85.9%,#bfbfbf 86.7%,#7d7d7d 89.2%,#6a6a6a 90%,#515151 91.3%,#3f3f3f 92.5%,#343434 93.8%,#2f2f2f 95%,#2c2c2c 96.7%,#2b2b2b 100%)"></i><i style="background:linear-gradient(90deg,#0d0d0d 0%,#0b0b0b 21.2%,#0f0f0f 40.2%,#1a1a1a 58.9%,#2a2a2a 66.4%,#303030 68%,#3c3c3c 70.1%,#444444 71%,#4f4f4f 71.8%,#5d5d5d 72.6%,#6e6e6e 73.4%,#828282 74.3%,#c4c4c4 76.8%,#dfdfdf 78%,#ededed 78.8%,#f6f6f6 79.7%,#fbfbfb 80.5%,#fcfcfc 81.3%,#fbfbfb 82.6%,#f8f8f8 83.4%,#f1f1f1 84.2%,#e5e5e5 85.1%,#d5d5d5 85.9%,#c1c1c1 86.7%,#7e7e7e 89.2%,#616161 90.5%,#515151 91.3%,#3f3f3f 92.5%,#343434 93.8%,#2f2f2f 95%,#2c2c2c 96.7%,#2b2b2b 100%)"></i><i style="background:linear-gradient(90deg,#0d0d0d 0%,#0b0b0b 21.2%,#101010 40.2%,#1b1b1b 58.9%,#2c2c2c 66.8%,#303030 68%,#3b3b3b 70.1%,#414141 71%,#4b4b4b 71.8%,#585858 72.6%,#727272 73.9%,#878787 74.7%,#cbcbcb 77.2%,#e5e5e5 78.4%,#f2f2f2 79.3%,#f7f7f7 79.7%,#fcfcfc 80.5%,#fefefe 81.3%,#fefefe 82.6%,#fbfbfb 83.4%,#f4f4f4 84.2%,#e8e8e8 85.1%,#d8d8d8 85.9%,#c4c4c4 86.7%,#7f7f7f 89.2%,#616161 90.5%,#505050 91.3%,#3e3e3e 92.5%,#343434 93.8%,#2e2e2e 95%,#2c2c2c 96.7%,#2b2b2b 100%)"></i><i style="background:linear-gradient(90deg,#0d0d0d 0%,#0b0b0b 21.2%,#101010 40.2%,#1d1d1d 58.9%,#2f2f2f 67.6%,#3b3b3b 70.5%,#424242 71.4%,#4d4d4d 72.2%,#5b5b5b 73%,#6d6d6d 73.9%,#818181 74.7%,#c7c7c7 77.2%,#e4e4e4 78.4%,#f2f2f2 79.3%,#f7f7f7 79.7%,#fefefe 80.5%,#ffffff 80.9%,#ffffff 83%,#fefefe 83.4%,#f7f7f7 84.2%,#ececec 85.1%,#dbdbdb 85.9%,#c7c7c7 86.7%,#808080 89.2%,#616161 90.5%,#505050 91.3%,#3e3e3e 92.5%,#333333 93.8%,#2e2e2e 95%,#2c2c2c 96.7%,#2b2b2b 100%)"></i><i style="background:linear-gradient(90deg,#0d0d0d 0%,#0c0c0c 21.2%,#111111 40.2%,#1e1e1e 58.9%,#303030 68%,#383838 70.1%,#3c3c3c 71%,#444444 71.8%,#4f4f4f 72.6%,#5e5e5e 73.4%,#717171 74.3%,#878787 75.1%,#c3c3c3 77.2%,#e2e2e2 78.4%,#f1f1f1 79.3%,#f7f7f7 79.7%,#ffffff 80.5%,#fefefe 83.8%,#f5f5f5 84.6%,#efefef 85.1%,#dfdfdf 85.9%,#cacaca 86.7%,#818181 89.2%,#616161 90.5%,#505050 91.3%,#3d3d3d 92.5%,#333333 93.8%,#2e2e2e 95%,#2c2c2c 96.7%,#2b2b2b 100%)"></i><i style="background:linear-gradient(90deg,#0d0d0d 0%,#0c0c0c 21.2%,#121212 40.2%,#202020 58.9%,#2c2c2c 66%,#323232 68.5%,#373737 70.1%,#3b3b3b 71%,#464646 72.2%,#525252 73%,#636363 73.9%,#777777 74.7%,#8e8e8e 75.5%,#bfbfbf 77.2%,#dfdfdf 78.4%,#f0f0f0 79.3%,#f6f6f6 79.7%,#ffffff 80.5%,#ffffff 83.8%,#fcfcfc 84.2%,#f1f1f1 85.1%,#e1e1e1 85.9%,#cccccc 86.7%,#828282 89.2%,#616161 90.5%,#505050 91.3%,#3d3d3d 92.5%,#323232 93.8%,#2d2d2d 95%,#2c2c2c 96.7%,#2b2b2b 100%)"></i><i style="background:linear-gradient(90deg,#0d0d0d 0%,#0c0c0c 21.2%,#131313 40.2%,#222222 59.3%,#2e2e2e 66.8%,#373737 70.1%,#3b3b3b 71%,#414141 71.8%,#4b4b4b 72.6%,#585858 73.4%,#6a6a6a 74.3%,#7f7f7f 75.1%,#c8c8c8 77.6%,#dddddd 78.4%,#eeeeee 79.3%,#f5f5f5 79.7%,#fefefe 80.5%,#ffffff 80.9%,#ffffff 83.8%,#fcfcfc 84.2%,#f1f1f1 85.1%,#e1e1e1 85.9%,#cccccc 86.7%,#828282 89.2%,#616161 90.5%,#4f4f4f 91.3%,#3d3d3d 92.5%,#323232 93.8%,#2d2d2d 95%,#2b2b2b 96.7%,#2b2b2b 100%)"></i><i style="background:linear-gradient(90deg,#0d0d0d 0%,#0d0d0d 21.2%,#141414 40.2%,#232323 59.3%,#2f2f2f 66.8%,#373737 70.1%,#3a3a3a 71%,#404040 71.8%,#4a4a4a 72.6%,#575757 73.4%,#686868 74.3%,#7d7d7d 75.1%,#c6c6c6 77.6%,#dbdbdb 78.4%,#ededed 79.3%,#f3f3f3 79.7%,#fdfdfd 80.5%,#ffffff 80.9%,#ffffff 83.8%,#f7f7f7 84.6%,#f1f1f1 85.1%,#e0e0e0 85.9%,#cccccc 86.7%,#818181 89.2%,#606060 90.5%,#4f4f4f 91.3%,#3d3d3d 92.5%,#323232 93.8%,#2d2d2d 95%,#2b2b2b 96.7%,#2b2b2b 100%)"></i><i style="background:linear-gradient(90deg,#0d0d0d 0%,#0d0d0d 21.2%,#151515 40.2%,#242424 59.3%,#303030 66.8%,#373737 70.1%,#3a3a3a 71%,#404040 71.8%,#484848 72.6%,#555555 73.4%,#666666 74.3%,#7b7b7b 75.1%,#c4c4c4 77.6%,#e3e3e3 78.8%,#f2f2f2 79.7%,#f8f8f8 80.1%,#ffffff 80.9%,#ffffff 83.8%,#f6f6f6 84.6%,#f0f0f0 85.1%,#e0e0e0 85.9%,#cccccc 86.7%,#818181 89.2%,#606060 90.5%,#4f4f4f 91.3%,#3c3c3c 92.5%,#323232 93.8%,#2d2d2d 95%,#2b2b2b 96.7%,#2b2b2b 100%)"></i><i style="background:linear-gradient(90deg,#0e0e0e 0%,#0f0f0f 21.2%,#171717 40.2%,#262626 59.3%,#303030 66.8%,#383838 70.5%,#3c3c3c 71.4%,#424242 72.2%,#545454 73.4%,#646464 74.3%,#797979 75.1%,#c1c1c1 77.6%,#e1e1e1 78.8%,#f1f1f1 79.7%,#f7f7f7 80.1%,#fefefe 80.9%,#ffffff 81.3%,#fefefe 83.8%,#f6f6f6 84.6%,#f0f0f0 85.1%,#e1e1e1 85.9%,#cccccc 86.7%,#818181 89.2%,#606060 90.5%,#4e4e4e 91.3%,#3c3c3c 92.5%,#323232 93.8%,#2d2d2d 95%,#2c2c2c 96.3%,#2b2b2b 100%)"></i><i style="background:linear-gradient(90deg,#0f0f0f 0%,#101010 21.2%,#191919 40.2%,#272727 59.3%,#303030 66.8%,#373737 70.5%,#3b3b3b 71.4%,#414141 72.2%,#4b4b4b 73%,#595959 73.9%,#767676 75.1%,#8d8d8d 75.9%,#bfbfbf 77.6%,#dfdfdf 78.8%,#f0f0f0 79.7%,#f6f6f6 80.1%,#fefefe 80.9%,#ffffff 81.3%,#fefefe 83.8%,#f6f6f6 84.6%,#f0f0f0 85.1%,#e1e1e1 85.9%,#cccccc 86.7%,#818181 89.2%,#606060 90.5%,#4e4e4e 91.3%,#3c3c3c 92.5%,#323232 93.8%,#2d2d2d 95%,#2b2b2b 96.3%,#2b2b2b 100%)"></i><i style="background:linear-gradient(90deg,#0f0f0f 0%,#121212 21.2%,#1b1b1b 40.2%,#282828 59.3%,#313131 67.2%,#373737 70.5%,#3a3a3a 71.4%,#404040 72.2%,#4a4a4a 73%,#585858 73.9%,#747474 75.1%,#8b8b8b 75.9%,#c9c9c9 78%,#dedede 78.8%,#eeeeee 79.7%,#f4f4f4 80.1%,#f9f9f9 80.5%,#ffffff 81.3%,#fefefe 83.8%,#f6f6f6 84.6%,#e9e9e9 85.5%,#e1e1e1 85.9%,#cccccc 86.7%,#818181 89.2%,#606060 90.5%,#4e4e4e 91.3%,#474747 91.7%,#3c3c3c 92.5%,#313131 93.8%,#2d2d2d 95%,#2b2b2b 96.3%,#2b2b2b 100%)"></i><i style="background:linear-gradient(90deg,#101010 0%,#131313 21.2%,#1d1d1d 40.2%,#292929 59.3%,#313131 67.2%,#363636 70.5%,#3a3a3a 71.4%,#3f3f3f 72.2%,#494949 73%,#565656 73.9%,#5e5e5e 74.3%,#727272 75.1%,#888888 75.9%,#c6c6c6 78%,#dcdcdc 78.8%,#e5e5e5 79.3%,#f3f3f3 80.1%,#f8f8f8 80.5%,#fefefe 81.3%,#ffffff 81.7%,#fefefe 83.8%,#f6f6f6 84.6%,#e9e9e9 85.5%,#e1e1e1 85.9%,#cccccc 86.7%,#818181 89.2%,#5f5f5f 90.5%,#4e4e4e 91.3%,#474747 91.7%,#3b3b3b 92.5%,#313131 93.8%,#2d2d2d 95%,#2b2b2b 96.3%,#2b2b2b 100%)"></i><i style="background:linear-gradient(90deg,#111111 0%,#151515 21.2%,#1f1f1f 40.2%,#2a2a2a 59.3%,#313131 67.2%,#363636 70.5%,#393939 71.4%,#3e3e3e 72.2%,#474747 73%,#545454 73.9%,#656565 74.7%,#7a7a7a 75.5%,#c4c4c4 78%,#dadada 78.8%,#e3e3e3 79.3%,#f2f2f2 80.1%,#f7f7f7 80.5%,#fefefe 81.3%,#ffffff 81.7%,#ffffff 83.4%,#fefefe 83.8%,#f6f6f6 84.6%,#e9e9e9 85.5%,#e1e1e1 85.9%,#cccccc 86.7%,#818181 89.2%,#5f5f5f 90.5%,#4e4e4e 91.3%,#464646 91.7%,#3b3b3b 92.5%,#313131 93.8%,#2d2d2d 95%,#2b2b2b 100%)"></i><i style="background:linear-gradient(90deg,#121212 0%,#171717 21.6%,#2b2b2b 58.9%,#323232 67.2%,#373737 71%,#3b3b3b 71.8%,#414141 72.6%,#4c4c4c 73.4%,#525252 73.9%,#636363 74.7%,#787878 75.5%,#c2c2c2 78%,#d8d8d8 78.8%,#e2e2e2 79.3%,#f1f1f1 80.1%,#f6f6f6 80.5%,#fdfdfd 81.3%,#ffffff 82.2%,#ffffff 83.4%,#fdfdfd 83.8%,#f6f6f6 84.6%,#e9e9e9 85.5%,#e1e1e1 85.9%,#cccccc 86.7%,#b4b4b4 87.6%,#818181 89.2%,#5f5f5f 90.5%,#4d4d4d 91.3%,#464646 91.7%,#3b3b3b 92.5%,#313131 93.8%,#2d2d2d 95%,#2b2b2b 100%)"></i><i style="background:linear-gradient(90deg,#131313 0%,#181818 21.6%,#2b2b2b 59.3%,#313131 67.2%,#363636 71%,#3a3a3a 71.8%,#404040 72.6%,#4a4a4a 73.4%,#585858 74.3%,#616161 74.7%,#757575 75.5%,#cbcbcb 78.4%,#e0e0e0 79.3%,#e8e8e8 79.7%,#efefef 80.1%,#f9f9f9 80.9%,#fefefe 81.7%,#ffffff 82.6%,#fefefe 83.4%,#fafafa 84.2%,#f0f0f0 85.1%,#e9e9e9 85.5%,#e1e1e1 85.9%,#cccccc 86.7%,#b4b4b4 87.6%,#808080 89.2%,#5f5f5f 90.5%,#4d4d4d 91.3%,#464646 91.7%,#3b3b3b 92.5%,#313131 93.8%,#2d2d2d 95%,#2b2b2b 100%)"></i><i style="background:linear-gradient(90deg,#151515 0%,#1a1a1a 21.6%,#2b2b2b 59.3%,#353535 71%,#383838 71.8%,#3e3e3e 72.6%,#484848 73.4%,#565656 74.3%,#5e5e5e 74.7%,#727272 75.5%,#8a8a8a 76.3%,#bcbcbc 78%,#d3d3d3 78.8%,#e6e6e6 79.7%,#ededed 80.1%,#f3f3f3 80.5%,#fbfbfb 81.3%,#fefefe 82.6%,#fdfdfd 83.4%,#f9f9f9 84.2%,#f0f0f0 85.1%,#e9e9e9 85.5%,#e0e0e0 85.9%,#cccccc 86.7%,#b4b4b4 87.6%,#808080 89.2%,#5e5e5e 90.5%,#4d4d4d 91.3%,#454545 91.7%,#3a3a3a 92.5%,#313131 93.8%,#2c2c2c 95%,#2b2b2b 100%)"></i><i style="background:linear-gradient(90deg,#171717 0%,#1b1b1b 21.6%,#2b2b2b 59.3%,#343434 71%,#373737 71.8%,#3d3d3d 72.6%,#464646 73.4%,#535353 74.3%,#5c5c5c 74.7%,#6f6f6f 75.5%,#878787 76.3%,#c5c5c5 78.4%,#dbdbdb 79.3%,#e4e4e4 79.7%,#f1f1f1 80.5%,#f6f6f6 80.9%,#fbfbfb 81.7%,#fdfdfd 82.6%,#fcfcfc 83.4%,#f8f8f8 84.2%,#efefef 85.1%,#e8e8e8 85.5%,#e0e0e0 85.9%,#cccccc 86.7%,#b3b3b3 87.6%,#808080 89.2%,#5e5e5e 90.5%,#4c4c4c 91.3%,#454545 91.7%,#3a3a3a 92.5%,#303030 93.8%,#2c2c2c 95%,#2b2b2b 100%)"></i><i style="background:linear-gradient(90deg,#191919 0%,#1e1e1e 22%,#232323 25.3%,#383838 30.7%,#3c3c3c 33.2%,#393939 35.3%,#2a2a2a 40.7%,#272727 44%,#2b2b2b 59.3%,#323232 70.1%,#353535 71.4%,#393939 72.2%,#3f3f3f 73%,#4a4a4a 73.9%,#595959 74.7%,#787878 75.9%,#b6b6b6 78%,#cecece 78.8%,#e1e1e1 79.7%,#e9e9e9 80.1%,#efefef 80.5%,#f8f8f8 81.3%,#fbfbfb 82.2%,#fcfcfc 83%,#fafafa 83.8%,#f4f4f4 84.6%,#efefef 85.1%,#e0e0e0 85.9%,#d6d6d6 86.3%,#c0c0c0 87.1%,#7f7f7f 89.2%,#686868 90%,#545454 90.9%,#4c4c4c 91.3%,#3f3f3f 92.1%,#333333 93.4%,#2d2d2d 94.6%,#2b2b2b 96.3%,#2b2b2b 100%)"></i><i style="background:linear-gradient(90deg,#1b1b1b 0%,#1e1e1e 18.3%,#212121 22.4%,#252525 24.1%,#2d2d2d 25.7%,#383838 27.4%,#525252 30.7%,#585858 32%,#5a5a5a 32.8%,#5a5a5a 33.6%,#565656 34.9%,#3a3a3a 39%,#313131 40.7%,#2c2c2c 42.3%,#292929 44%,#282828 47.3%,#2b2b2b 58.9%,#323232 70.1%,#343434 71.4%,#383838 72.2%,#3e3e3e 73%,#484848 73.9%,#575757 74.7%,#606060 75.1%,#757575 75.9%,#cbcbcb 78.8%,#dfdfdf 79.7%,#e7e7e7 80.1%,#eeeeee 80.5%,#f6f6f6 81.3%,#fafafa 82.2%,#fbfbfb 83%,#f9f9f9 83.8%,#f3f3f3 84.6%,#eeeeee 85.1%,#dfdfdf 85.9%,#d6d6d6 86.3%,#bfbfbf 87.1%,#7f7f7f 89.2%,#676767 90%,#545454 90.9%,#4b4b4b 91.3%,#3e3e3e 92.1%,#323232 93.4%,#2d2d2d 94.6%,#2b2b2b 96.3%,#2b2b2b 100%)"></i><i style="background:linear-gradient(90deg,#1d1d1d 0%,#1f1f1f 18.3%,#212121 20.7%,#242424 22.4%,#2a2a2a 24.1%,#363636 25.7%,#474747 27.4%,#6f6f6f 30.7%,#797979 32%,#7c7c7c 32.8%,#7b7b7b 33.6%,#747474 34.9%,#686868 36.1%,#4b4b4b 38.6%,#3b3b3b 40.2%,#313131 41.9%,#2c2c2c 43.6%,#292929 47.3%,#2b2b2b 58.9%,#333333 71.4%,#363636 72.2%,#3c3c3c 73%,#464646 73.9%,#545454 74.7%,#5d5d5d 75.1%,#727272 75.9%,#c9c9c9 78.8%,#dddddd 79.7%,#e5e5e5 80.1%,#ececec 80.5%,#f5f5f5 81.3%,#f9f9f9 82.2%,#fafafa 83%,#f8f8f8 83.8%,#f3f3f3 84.6%,#ededed 85.1%,#dfdfdf 85.9%,#d5d5d5 86.3%,#bfbfbf 87.1%,#7e7e7e 89.2%,#676767 90%,#535353 90.9%,#4b4b4b 91.3%,#3e3e3e 92.1%,#323232 93.4%,#2d2d2d 94.6%,#2b2b2b 96.3%,#2b2b2b 100%)"></i><i style="background:linear-gradient(90deg,#1e1e1e 0%,#212121 18.3%,#232323 20.7%,#272727 22.4%,#2f2f2f 24.1%,#3e3e3e 25.7%,#555555 27.4%,#7f7f7f 29.9%,#8c8c8c 30.7%,#989898 32%,#9c9c9c 32.8%,#9b9b9b 33.6%,#919191 34.9%,#808080 36.1%,#595959 38.6%,#434343 40.2%,#353535 41.9%,#2e2e2e 43.6%,#2a2a2a 46.1%,#2a2a2a 49.8%,#2b2b2b 59.3%,#313131 71.8%,#343434 72.6%,#393939 73.4%,#424242 74.3%,#484848 74.7%,#575757 75.5%,#6b6b6b 76.3%,#b3b3b3 78.8%,#c9c9c9 79.7%,#d2d2d2 80.1%,#dfdfdf 80.9%,#e3e3e3 81.3%,#e9e9e9 82.2%,#eaeaea 83%,#e9e9e9 83.8%,#e4e4e4 84.6%,#e0e0e0 85.1%,#d2d2d2 85.9%,#c9c9c9 86.3%,#b3b3b3 87.1%,#757575 89.2%,#5e5e5e 90%,#4c4c4c 90.9%,#454545 91.3%,#3a3a3a 92.1%,#303030 93.4%,#2c2c2c 94.6%,#2b2b2b 100%)"></i><i style="background:linear-gradient(90deg,#1f1f1f 0%,#212121 18.3%,#232323 20.7%,#282828 22.4%,#323232 24.1%,#3a3a3a 24.9%,#454545 25.7%,#515151 26.6%,#616161 27.4%,#949494 29.9%,#a3a3a3 30.7%,#afafaf 31.5%,#b3b3b3 32%,#b7b7b7 32.8%,#b5b5b5 33.6%,#b3b3b3 34%,#aaaaaa 34.9%,#959595 36.1%,#636363 38.6%,#555555 39.4%,#494949 40.2%,#3f3f3f 41.1%,#373737 41.9%,#2e2e2e 43.6%,#2a2a2a 45.6%,#292929 49.4%,#2a2a2a 58.9%,#2f2f2f 68.9%,#2e2e2e 71.4%,#2f2f2f 72.6%,#323232 73.4%,#373737 74.3%,#414141 75.1%,#4f4f4f 75.9%,#575757 76.3%,#6c6c6c 77.2%,#9b9b9b 78.8%,#b1b1b1 79.7%,#c3c3c3 80.5%,#c9c9c9 80.9%,#cfcfcf 81.3%,#d5d5d5 82.2%,#d8d8d8 83.4%,#d6d6d6 84.2%,#d3d3d3 84.6%,#cfcfcf 85.1%,#c2c2c2 85.9%,#bababa 86.3%,#a5a5a5 87.1%,#757575 88.8%,#5f5f5f 89.6%,#4c4c4c 90.5%,#454545 90.9%,#393939 91.7%,#2f2f2f 92.9%,#2b2b2b 94.2%,#2b2b2b 100%)"></i><i style="background:linear-gradient(90deg,#1f1f1f 0%,#212121 18.7%,#242424 21.2%,#2b2b2b 22.8%,#313131 23.7%,#393939 24.5%,#4a4a4a 25.7%,#595959 26.6%,#6b6b6b 27.4%,#a7a7a7 29.9%,#b9b9b9 30.7%,#c6c6c6 31.5%,#cbcbcb 32%,#d0d0d0 32.8%,#cecece 33.6%,#cbcbcb 34%,#c0c0c0 34.9%,#a7a7a7 36.1%,#767676 38.2%,#646464 39%,#545454 39.8%,#474747 40.7%,#3d3d3d 41.5%,#363636 42.3%,#303030 43.2%,#2b2b2b 44.4%,#282828 47.7%,#282828 58.9%,#2d2d2d 69.3%,#2b2b2b 72.6%,#2e2e2e 73.9%,#363636 75.1%,#404040 75.9%,#464646 76.3%,#4e4e4e 76.8%,#616161 77.6%,#8e8e8e 79.3%,#a3a3a3 80.1%,#b4b4b4 80.9%,#bababa 81.3%,#c2c2c2 82.2%,#c5c5c5 83.4%,#c4c4c4 84.2%,#c2c2c2 84.6%,#b9b9b9 85.5%,#b3b3b3 85.9%,#ababab 86.3%,#979797 87.1%,#696969 88.8%,#555555 89.6%,#444444 90.5%,#3e3e3e 90.9%,#343434 91.7%,#2c2c2c 92.9%,#2a2a2a 94.2%,#2b2b2b 100%)"></i><i style="background:linear-gradient(90deg,#202020 0%,#212121 18.7%,#242424 21.2%,#2c2c2c 22.8%,#323232 23.7%,#3b3b3b 24.5%,#4f4f4f 25.7%,#606060 26.6%,#747474 27.4%,#b8b8b8 29.9%,#cccccc 30.7%,#dbdbdb 31.5%,#e1e1e1 32%,#e6e6e6 32.8%,#e4e4e4 33.6%,#e0e0e0 34%,#d4d4d4 34.9%,#cccccc 35.3%,#b8b8b8 36.1%,#808080 38.2%,#6b6b6b 39%,#595959 39.8%,#4a4a4a 40.7%,#3f3f3f 41.5%,#333333 42.7%,#2e2e2e 43.6%,#292929 44.8%,#262626 48.1%,#262626 58.9%,#2b2b2b 69.3%,#292929 73%,#2b2b2b 74.7%,#343434 75.9%,#3f3f3f 76.8%,#464646 77.2%,#595959 78%,#9c9c9c 80.5%,#adadad 81.3%,#b7b7b7 82.2%,#bbbbbb 82.6%,#bdbdbd 83.8%,#bbbbbb 84.6%,#b8b8b8 85.1%,#acacac 85.9%,#9a9a9a 86.7%,#606060 88.8%,#4c4c4c 89.6%,#3d3d3d 90.5%,#333333 91.3%,#2d2d2d 92.1%,#292929 93.4%,#2a2a2a 100%)"></i><i style="background:linear-gradient(90deg,#202020 0%,#202020 18.7%,#242424 21.2%,#2c2c2c 22.8%,#333333 23.7%,#3c3c3c 24.5%,#515151 25.7%,#636363 26.6%,#787878 27.4%,#c1c1c1 29.9%,#d6d6d6 30.7%,#e6e6e6 31.5%,#ebebeb 32%,#f1f1f1 32.8%,#efefef 33.6%,#ebebeb 34%,#dddddd 34.9%,#d5d5d5 35.3%,#c0c0c0 36.1%,#848484 38.2%,#6e6e6e 39%,#5b5b5b 39.8%,#4c4c4c 40.7%,#3f3f3f 41.5%,#333333 42.7%,#2d2d2d 43.6%,#282828 44.8%,#252525 48.1%,#242424 58.9%,#292929 69.3%,#272727 73.9%,#292929 75.5%,#2e2e2e 76.3%,#323232 76.8%,#3e3e3e 77.6%,#464646 78%,#5a5a5a 78.8%,#959595 80.9%,#a6a6a6 81.7%,#b1b1b1 82.6%,#b4b4b4 83%,#b6b6b6 83.8%,#b4b4b4 84.6%,#b1b1b1 85.1%,#a5a5a5 85.9%,#939393 86.7%,#636363 88.4%,#4d4d4d 89.2%,#3d3d3d 90%,#323232 90.9%,#2c2c2c 91.7%,#282828 92.9%,#2a2a2a 100%)"></i><i style="background:linear-gradient(90deg,#202020 0%,#202020 18.7%,#242424 21.2%,#2b2b2b 22.8%,#323232 23.7%,#3c3c3c 24.5%,#505050 25.7%,#636363 26.6%,#787878 27.4%,#c0c0c0 29.9%,#d5d5d5 30.7%,#e5e5e5 31.5%,#eaeaea 32%,#f0f0f0 32.8%,#eeeeee 33.6%,#eaeaea 34%,#dddddd 34.9%,#d4d4d4 35.3%,#bfbfbf 36.1%,#838383 38.2%,#6d6d6d 39%,#5a5a5a 39.8%,#4a4a4a 40.7%,#3e3e3e 41.5%,#313131 42.7%,#2c2c2c 43.6%,#272727 44.8%,#232323 48.1%,#222222 58.9%,#272727 69.3%,#252525 74.7%,#272727 76.3%,#2c2c2c 77.2%,#313131 77.6%,#3e3e3e 78.4%,#525252 79.3%,#8e8e8e 81.3%,#a0a0a0 82.2%,#a7a7a7 82.6%,#ababab 83%,#adadad 83.4%,#aeaeae 84.2%,#ababab 85.1%,#a6a6a6 85.5%,#9f9f9f 85.9%,#8c8c8c 86.7%,#5a5a5a 88.4%,#454545 89.2%,#363636 90%,#2d2d2d 90.9%,#292929 91.7%,#272727 92.9%,#2a2a2a 100%)"></i><i style="background:linear-gradient(90deg,#212121 0%,#202020 18.7%,#232323 21.2%,#2b2b2b 22.8%,#323232 23.7%,#3b3b3b 24.5%,#505050 25.7%,#626262 26.6%,#777777 27.4%,#bfbfbf 29.9%,#d4d4d4 30.7%,#e4e4e4 31.5%,#eaeaea 32%,#efefef 32.8%,#ededed 33.6%,#e9e9e9 34%,#dcdcdc 34.9%,#d3d3d3 35.3%,#bebebe 36.1%,#828282 38.2%,#6c6c6c 39%,#595959 39.8%,#494949 40.7%,#3d3d3d 41.5%,#303030 42.7%,#2b2b2b 43.6%,#262626 44.8%,#222222 48.1%,#202020 58.9%,#252525 69.3%,#232323 75.1%,#242424 76.8%,#272727 77.6%,#2b2b2b 78%,#373737 78.8%,#4a4a4a 79.7%,#7d7d7d 81.3%,#949494 82.2%,#9d9d9d 82.6%,#a3a3a3 83%,#a6a6a6 83.4%,#a9a9a9 84.2%,#a6a6a6 85.1%,#a1a1a1 85.5%,#9a9a9a 85.9%,#868686 86.7%,#5f5f5f 88%,#474747 88.8%,#363636 89.6%,#2c2c2c 90.5%,#282828 91.3%,#272727 92.1%,#292929 100%)"></i><i style="background:linear-gradient(90deg,#212121 0%,#202020 18.7%,#232323 21.2%,#2b2b2b 22.8%,#313131 23.7%,#3b3b3b 24.5%,#4f4f4f 25.7%,#616161 26.6%,#777777 27.4%,#bfbfbf 29.9%,#d3d3d3 30.7%,#e3e3e3 31.5%,#e9e9e9 32%,#eeeeee 32.8%,#ececec 33.6%,#e8e8e8 34%,#dbdbdb 34.9%,#d2d2d2 35.3%,#bdbdbd 36.1%,#818181 38.2%,#6b6b6b 39%,#585858 39.8%,#484848 40.7%,#3c3c3c 41.5%,#2f2f2f 42.7%,#2a2a2a 43.6%,#252525 44.8%,#202020 48.1%,#1f1f1f 58.9%,#242424 69.3%,#212121 75.5%,#232323 77.2%,#282828 78%,#2c2c2c 78.4%,#323232 78.8%,#3a3a3a 79.3%,#454545 79.7%,#525252 80.1%,#8d8d8d 81.7%,#9a9a9a 82.2%,#a5a5a5 82.6%,#adadad 83%,#b3b3b3 83.4%,#b7b7b7 84.2%,#b5b5b5 85.1%,#b0b0b0 85.5%,#a9a9a9 85.9%,#9f9f9f 86.3%,#929292 86.7%,#666666 88%,#4b4b4b 88.8%,#404040 89.2%,#373737 89.6%,#2c2c2c 90.5%,#282828 91.3%,#262626 92.1%,#292929 100%)"></i><i style="background:linear-gradient(90deg,#222222 0%,#202020 18.7%,#232323 21.2%,#2b2b2b 22.8%,#323232 23.7%,#3b3b3b 24.5%,#505050 25.7%,#626262 26.6%,#777777 27.4%,#bfbfbf 29.9%,#d4d4d4 30.7%,#e4e4e4 31.5%,#e9e9e9 32%,#efefef 32.8%,#ececec 33.6%,#e8e8e8 34%,#dbdbdb 34.9%,#d2d2d2 35.3%,#bdbdbd 36.1%,#818181 38.2%,#6b6b6b 39%,#585858 39.8%,#494949 40.7%,#3c3c3c 41.5%,#2f2f2f 42.7%,#2a2a2a 43.6%,#252525 44.8%,#212121 48.1%,#1f1f1f 58.9%,#242424 69.3%,#212121 75.9%,#232323 77.6%,#292929 78.4%,#2e2e2e 78.8%,#363636 79.3%,#404040 79.7%,#4d4d4d 80.1%,#5b5b5b 80.5%,#9f9f9f 82.2%,#adadad 82.6%,#b8b8b8 83%,#bfbfbf 83.4%,#c3c3c3 83.8%,#c5c5c5 84.6%,#c4c4c4 85.1%,#c0c0c0 85.5%,#b8b8b8 85.9%,#aeaeae 86.3%,#a0a0a0 86.7%,#5d5d5d 88.4%,#4f4f4f 88.8%,#434343 89.2%,#393939 89.6%,#323232 90%,#2d2d2d 90.5%,#282828 91.3%,#262626 92.1%,#292929 100%)"></i><i style="background:linear-gradient(90deg,#222222 0%,#202020 18.7%,#232323 21.2%,#2b2b2b 22.8%,#323232 23.7%,#3b3b3b 24.5%,#505050 25.7%,#626262 26.6%,#777777 27.4%,#bfbfbf 29.9%,#d4d4d4 30.7%,#e4e4e4 31.5%,#e9e9e9 32%,#efefef 32.8%,#ededed 33.6%,#e9e9e9 34%,#dcdcdc 34.9%,#d3d3d3 35.3%,#bebebe 36.1%,#828282 38.2%,#6c6c6c 39%,#595959 39.8%,#494949 40.7%,#3d3d3d 41.5%,#303030 42.7%,#2a2a2a 43.6%,#252525 44.8%,#212121 48.1%,#1f1f1f 58.9%,#242424 69.3%,#212121 76.3%,#242424 78%,#2b2b2b 78.8%,#313131 79.3%,#3a3a3a 79.7%,#464646 80.1%,#555555 80.5%,#676767 80.9%,#a1a1a1 82.2%,#b2b2b2 82.6%,#c0c0c0 83%,#cacaca 83.4%,#d0d0d0 83.8%,#d3d3d3 84.2%,#d4d4d4 84.6%,#d3d3d3 85.1%,#cfcfcf 85.5%,#c8c8c8 85.9%,#bdbdbd 86.3%,#aeaeae 86.7%,#9d9d9d 87.1%,#646464 88.4%,#535353 88.8%,#454545 89.2%,#3b3b3b 89.6%,#333333 90%,#2d2d2d 90.5%,#282828 91.3%,#262626 92.1%,#292929 100%)"></i><i style="background:linear-gradient(90deg,#232323 0%,#202020 18.3%,#222222 20.7%,#282828 22.4%,#2e2e2e 23.2%,#363636 24.1%,#414141 24.9%,#505050 25.7%,#626262 26.6%,#777777 27.4%,#bfbfbf 29.9%,#d4d4d4 30.7%,#e4e4e4 31.5%,#eaeaea 32%,#efefef 32.8%,#ededed 33.6%,#e9e9e9 34%,#dcdcdc 34.9%,#d3d3d3 35.3%,#bebebe 36.1%,#828282 38.2%,#6c6c6c 39%,#595959 39.8%,#4a4a4a 40.7%,#3d3d3d 41.5%,#303030 42.7%,#2b2b2b 43.6%,#262626 44.8%,#212121 48.1%,#1f1f1f 58.9%,#242424 69.3%,#212121 76.3%,#232323 78%,#2a2a2a 78.8%,#303030 79.3%,#383838 79.7%,#444444 80.1%,#535353 80.5%,#656565 80.9%,#a1a1a1 82.2%,#b3b3b3 82.6%,#c2c2c2 83%,#cdcdcd 83.4%,#d4d4d4 83.8%,#d8d8d8 84.2%,#d9d9d9 84.6%,#d8d8d8 85.1%,#d4d4d4 85.5%,#cdcdcd 85.9%,#c2c2c2 86.3%,#b3b3b3 86.7%,#a1a1a1 87.1%,#666666 88.4%,#545454 88.8%,#464646 89.2%,#3b3b3b 89.6%,#333333 90%,#2d2d2d 90.5%,#282828 91.3%,#262626 92.1%,#292929 100%)"></i><i style="background:linear-gradient(90deg,#232323 0%,#202020 18.3%,#222222 20.7%,#282828 22.4%,#2e2e2e 23.2%,#363636 24.1%,#414141 24.9%,#505050 25.7%,#626262 26.6%,#777777 27.4%,#bfbfbf 29.9%,#d4d4d4 30.7%,#e4e4e4 31.5%,#eaeaea 32%,#f0f0f0 32.8%,#ededed 33.6%,#e9e9e9 34%,#dcdcdc 34.9%,#d3d3d3 35.3%,#bebebe 36.1%,#838383 38.2%,#6d6d6d 39%,#5a5a5a 39.8%,#4a4a4a 40.7%,#3d3d3d 41.5%,#313131 42.7%,#2b2b2b 43.6%,#262626 44.8%,#212121 48.1%,#1f1f1f 58.9%,#242424 69.3%,#212121 76.3%,#232323 78%,#2a2a2a 78.8%,#303030 79.3%,#383838 79.7%,#444444 80.1%,#535353 80.5%,#656565 80.9%,#a1a1a1 82.2%,#b3b3b3 82.6%,#c2c2c2 83%,#cdcdcd 83.4%,#d4d4d4 83.8%,#d8d8d8 84.2%,#d9d9d9 84.6%,#d8d8d8 85.1%,#d4d4d4 85.5%,#cdcdcd 85.9%,#c2c2c2 86.3%,#b3b3b3 86.7%,#a1a1a1 87.1%,#666666 88.4%,#545454 88.8%,#464646 89.2%,#3b3b3b 89.6%,#333333 90%,#2d2d2d 90.5%,#282828 91.3%,#262626 92.1%,#292929 100%)"></i><i style="background:linear-gradient(90deg,#232323 0%,#202020 18.3%,#222222 20.7%,#282828 22.4%,#2e2e2e 23.2%,#363636 24.1%,#414141 24.9%,#505050 25.7%,#626262 26.6%,#777777 27.4%,#c0c0c0 29.9%,#d4d4d4 30.7%,#e5e5e5 31.5%,#eaeaea 32%,#f0f0f0 32.8%,#eeeeee 33.6%,#eaeaea 34%,#dcdcdc 34.9%,#d4d4d4 35.3%,#bfbfbf 36.1%,#838383 38.2%,#6d6d6d 39%,#5a5a5a 39.8%,#4a4a4a 40.7%,#3e3e3e 41.5%,#313131 42.7%,#2b2b2b 43.6%,#262626 44.8%,#222222 48.1%,#1f1f1f 58.9%,#242424 69.3%,#212121 76.3%,#232323 78%,#2a2a2a 78.8%,#303030 79.3%,#383838 79.7%,#444444 80.1%,#535353 80.5%,#656565 80.9%,#a1a1a1 82.2%,#b3b3b3 82.6%,#c2c2c2 83%,#cdcdcd 83.4%,#d4d4d4 83.8%,#d8d8d8 84.2%,#d9d9d9 84.6%,#d8d8d8 85.1%,#d4d4d4 85.5%,#cdcdcd 85.9%,#c2c2c2 86.3%,#b3b3b3 86.7%,#a1a1a1 87.1%,#666666 88.4%,#545454 88.8%,#464646 89.2%,#3b3b3b 89.6%,#333333 90%,#2d2d2d 90.5%,#282828 91.3%,#262626 92.1%,#292929 100%)"></i><i style="background:linear-gradient(90deg,#242424 0%,#202020 18.3%,#222222 20.7%,#282828 22.4%,#2e2e2e 23.2%,#363636 24.1%,#414141 24.9%,#505050 25.7%,#626262 26.6%,#777777 27.4%,#c0c0c0 29.9%,#d5d5d5 30.7%,#e5e5e5 31.5%,#eaeaea 32%,#f0f0f0 32.8%,#eeeeee 33.6%,#eaeaea 34%,#dddddd 34.9%,#d4d4d4 35.3%,#bfbfbf 36.1%,#838383 38.2%,#6d6d6d 39%,#5a5a5a 39.8%,#4b4b4b 40.7%,#3e3e3e 41.5%,#313131 42.7%,#2c2c2c 43.6%,#272727 44.8%,#222222 48.1%,#1f1f1f 58.9%,#242424 69.3%,#212121 76.3%,#232323 78%,#2a2a2a 78.8%,#303030 79.3%,#383838 79.7%,#444444 80.1%,#535353 80.5%,#656565 80.9%,#a1a1a1 82.2%,#b3b3b3 82.6%,#c2c2c2 83%,#cdcdcd 83.4%,#d4d4d4 83.8%,#d8d8d8 84.2%,#d9d9d9 84.6%,#d8d8d8 85.1%,#d4d4d4 85.5%,#cdcdcd 85.9%,#c2c2c2 86.3%,#b3b3b3 86.7%,#a1a1a1 87.1%,#666666 88.4%,#545454 88.8%,#464646 89.2%,#3b3b3b 89.6%,#333333 90%,#2d2d2d 90.5%,#282828 91.3%,#262626 92.1%,#292929 100%)"></i><i style="background:linear-gradient(90deg,#242424 0%,#202020 18.3%,#222222 20.7%,#282828 22.4%,#2e2e2e 23.2%,#363636 24.1%,#414141 24.9%,#505050 25.7%,#626262 26.6%,#777777 27.4%,#c0c0c0 29.9%,#d5d5d5 30.7%,#e5e5e5 31.5%,#eaeaea 32%,#f0f0f0 32.8%,#eeeeee 33.6%,#eaeaea 34%,#dddddd 34.9%,#d4d4d4 35.3%,#bfbfbf 36.1%,#838383 38.2%,#6d6d6d 39%,#5a5a5a 39.8%,#4b4b4b 40.7%,#3e3e3e 41.5%,#313131 42.7%,#2c2c2c 43.6%,#272727 44.8%,#222222 48.1%,#1f1f1f 58.9%,#242424 69.3%,#212121 76.3%,#232323 78%,#2a2a2a 78.8%,#303030 79.3%,#383838 79.7%,#444444 80.1%,#535353 80.5%,#656565 80.9%,#a1a1a1 82.2%,#b3b3b3 82.6%,#c2c2c2 83%,#cdcdcd 83.4%,#d4d4d4 83.8%,#d8d8d8 84.2%,#d9d9d9 84.6%,#d8d8d8 85.1%,#d4d4d4 85.5%,#cdcdcd 85.9%,#c2c2c2 86.3%,#b3b3b3 86.7%,#a1a1a1 87.1%,#666666 88.4%,#545454 88.8%,#464646 89.2%,#3b3b3b 89.6%,#333333 90%,#2d2d2d 90.5%,#282828 91.3%,#262626 92.1%,#292929 100%)"></i></div></div><div class="hc" style="left:210px;top:408px;width:115px;height:89px"><div class="hm" style="width:121px;height:95px"><i style="background:linear-gradient(90deg,#141414 0%,#1a1a1a 39%,#1d1d1d 39.8%,#222222 40.7%,#454545 44.4%,#535353 46.5%,#6e6e6e 52.7%,#7c7c7c 56.8%,#7f7f7f 58.9%,#7f7f7f 85.1%,#7e7e7e 87.1%,#7c7c7c 88%,#757575 89.2%,#545454 92.9%,#484848 94.6%,#3b3b3b 97.5%,#383838 100%)"></i><i style="background:linear-gradient(90deg,#141414 0%,#1a1a1a 39%,#1d1d1d 39.8%,#222222 40.7%,#454545 44.4%,#535353 46.5%,#6e6e6e 52.7%,#7c7c7c 56.8%,#7f7f7f 58.9%,#7f7f7f 85.1%,#7e7e7e 87.1%,#7c7c7c 88%,#757575 89.2%,#545454 92.9%,#484848 94.6%,#3b3b3b 97.5%,#383838 100%)"></i><i style="background:linear-gradient(90deg,#141414 0%,#1a1a1a 37.3%,#1c1c1c 38.2%,#212121 39%,#464646 42.7%,#515151 44.4%,#6d6d6d 51%,#7e7e7e 56.8%,#818181 58.9%,#818181 85.1%,#808080 87.1%,#7d7d7d 88%,#757575 89.2%,#515151 93.4%,#414141 95.9%,#383838 97.9%,#363636 100%)"></i><i style="background:linear-gradient(90deg,#141414 0%,#1a1a1a 35.7%,#1d1d1d 36.5%,#232323 37.3%,#474747 40.7%,#515151 42.3%,#6d6d6d 49.4%,#808080 56.4%,#838383 58.9%,#848484 85.1%,#828282 87.1%,#7f7f7f 88%,#797979 88.8%,#515151 93.4%,#3d3d3d 96.3%,#353535 97.9%,#343434 100%)"></i><i style="background:linear-gradient(90deg,#141414 0%,#1b1b1b 33.6%,#212121 34.9%,#282828 35.7%,#464646 38.6%,#4c4c4c 39.4%,#525252 40.7%,#6d6d6d 48.1%,#808080 56%,#838383 58.5%,#838383 83.8%,#828282 85.9%,#7f7f7f 86.7%,#797979 87.6%,#515151 92.1%,#3a3a3a 95.9%,#333333 97.5%,#323232 100%)"></i><i style="background:linear-gradient(90deg,#141414 0%,#1b1b1b 29%,#1c1c1c 31.1%,#1f1f1f 32%,#242424 32.8%,#444444 36.5%,#4f4f4f 38.6%,#6c6c6c 46.9%,#7e7e7e 55.2%,#818181 57.7%,#808080 83.4%,#7e7e7e 84.2%,#797979 85.1%,#555555 89.2%,#4c4c4c 90.5%,#343434 95.9%,#303030 97.9%,#303030 100%)"></i><i style="background:linear-gradient(90deg,#141414 0%,#1d1d1d 28.2%,#222222 29.9%,#454545 34.9%,#505050 37.3%,#6c6c6c 46.1%,#7c7c7c 54.4%,#7f7f7f 56.8%,#7f7f7f 79.7%,#7e7e7e 81.3%,#7b7b7b 82.2%,#767676 83%,#555555 86.7%,#4b4b4b 88.4%,#434343 90.9%,#343434 94.6%,#2e2e2e 97.5%,#2d2d2d 100%)"></i><i style="background:linear-gradient(90deg,#141414 0%,#1e1e1e 25.7%,#232323 27.4%,#474747 33.6%,#515151 36.5%,#6c6c6c 45.2%,#7a7a7a 53.5%,#7c7c7c 56%,#7c7c7c 78.8%,#7a7a7a 79.7%,#757575 80.5%,#565656 84.2%,#4c4c4c 85.9%,#424242 89.2%,#333333 93.4%,#2c2c2c 97.1%,#2b2b2b 100%)"></i><i style="background:linear-gradient(90deg,#141414 0%,#1f1f1f 23.2%,#242424 24.9%,#494949 32.4%,#676767 42.3%,#6e6e6e 45.6%,#797979 52.7%,#7a7a7a 54.8%,#797979 76.8%,#777777 77.6%,#727272 78.4%,#535353 82.2%,#4b4b4b 83.8%,#424242 87.6%,#313131 92.5%,#2a2a2a 97.1%,#292929 100%)"></i><i style="background:linear-gradient(90deg,#141414 0%,#151515 4.1%,#1f1f1f 21.6%,#252525 23.2%,#484848 30.3%,#666666 40.2%,#6c6c6c 42.7%,#777777 49.8%,#7a7a7a 53.1%,#797979 72.6%,#787878 74.3%,#737373 75.5%,#535353 80.1%,#4b4b4b 81.7%,#424242 85.5%,#313131 90.9%,#272727 97.1%,#262626 100%)"></i><i style="background:linear-gradient(90deg,#141414 0%,#1d1d1d 16.6%,#202020 19.9%,#262626 21.6%,#484848 28.6%,#646464 37.8%,#6c6c6c 41.5%,#787878 49%,#7a7a7a 51%,#777777 71.4%,#717171 73%,#555555 77.6%,#4c4c4c 79.7%,#424242 83.8%,#303030 89.6%,#252525 96.7%,#242424 100%)"></i><i style="background:linear-gradient(90deg,#141414 0%,#151515 3.7%,#1f1f1f 17.8%,#252525 19.5%,#474747 26.6%,#646464 35.7%,#6a6a6a 38.2%,#777777 46.1%,#7a7a7a 49.4%,#777777 66.8%,#767676 68.9%,#6f6f6f 70.5%,#4f4f4f 76.8%,#414141 82.2%,#313131 87.1%,#242424 96.3%,#222222 100%)"></i><i style="background:linear-gradient(90deg,#141414 0%,#161616 3.7%,#1f1f1f 16.2%,#252525 17.8%,#484848 24.9%,#626262 33.2%,#6b6b6b 37.3%,#787878 45.2%,#7a7a7a 47.3%,#757575 66%,#707070 67.6%,#5d5d5d 71.4%,#4f4f4f 74.7%,#414141 80.5%,#303030 85.9%,#212121 96.3%,#1f1f1f 100%)"></i><i style="background:linear-gradient(90deg,#141414 0%,#161616 3.7%,#1f1f1f 14.9%,#252525 16.6%,#474747 23.2%,#5d5d5d 30.3%,#696969 34.9%,#787878 43.2%,#7b7b7b 45.6%,#767676 63.5%,#717171 65.1%,#5f5f5f 68.9%,#4f4f4f 72.6%,#424242 78.4%,#2e2e2e 84.2%,#1f1f1f 96.3%,#1e1e1e 100%)"></i><i style="background:linear-gradient(90deg,#141414 0%,#161616 3.7%,#1f1f1f 14.1%,#262626 15.8%,#444444 21.2%,#4c4c4c 23.2%,#666666 32.4%,#7a7a7a 41.5%,#7c7c7c 44%,#787878 61.4%,#747474 62.7%,#616161 66.4%,#4f4f4f 70.5%,#414141 76.8%,#2d2d2d 82.6%,#1e1e1e 96.3%,#1d1d1d 100%)"></i><i style="background:linear-gradient(90deg,#141414 0%,#161616 3.3%,#1f1f1f 12.9%,#252525 14.5%,#424242 19.5%,#4b4b4b 21.6%,#636363 30.3%,#797979 39%,#7c7c7c 40.7%,#7d7d7d 42.3%,#7b7b7b 58.9%,#777777 60.2%,#636363 63.9%,#505050 68.5%,#4b4b4b 70.1%,#424242 74.7%,#2c2c2c 80.9%,#1d1d1d 96.3%,#1b1b1b 100%)"></i><i style="background:linear-gradient(90deg,#141414 0%,#161616 3.3%,#1f1f1f 12%,#262626 13.7%,#404040 17.8%,#4a4a4a 19.9%,#7b7b7b 37.8%,#7e7e7e 39.4%,#7f7f7f 41.1%,#7e7e7e 55.2%,#7d7d7d 56.8%,#787878 58.1%,#616161 62.2%,#505050 66.4%,#4b4b4b 68%,#414141 73%,#2e2e2e 78%,#2a2a2a 79.3%,#1b1b1b 96.3%,#1a1a1a 100%)"></i><i style="background:linear-gradient(90deg,#151515 0%,#161616 3.3%,#202020 10.8%,#272727 12.4%,#424242 16.6%,#494949 18.3%,#626262 27.4%,#7c7c7c 36.1%,#7f7f7f 37.8%,#7f7f7f 39.4%,#7f7f7f 52.7%,#7e7e7e 54.4%,#7a7a7a 55.6%,#646464 59.3%,#505050 63.9%,#4b4b4b 65.6%,#424242 70.5%,#2a2a2a 76.8%,#272727 78.8%,#1a1a1a 95.9%,#191919 100%)"></i><i style="background:linear-gradient(90deg,#161616 0%,#181818 2.9%,#222222 9.1%,#292929 10.8%,#434343 14.9%,#4b4b4b 16.6%,#7c7c7c 34.4%,#7f7f7f 36.1%,#7f7f7f 37.8%,#7f7f7f 49.8%,#7e7e7e 51.5%,#797979 52.7%,#626262 56.4%,#4f4f4f 60.6%,#424242 67.2%,#2c2c2c 73%,#282828 74.7%,#191919 96.3%,#181818 100%)"></i><i style="background:linear-gradient(90deg,#171717 0%,#191919 2.9%,#252525 7.5%,#2c2c2c 9.1%,#444444 13.3%,#4c4c4c 14.9%,#7d7d7d 32.8%,#7f7f7f 35.3%,#7f7f7f 46.1%,#7f7f7f 48.1%,#7b7b7b 49.4%,#626262 53.1%,#4e4e4e 57.3%,#414141 64.3%,#292929 71.4%,#181818 95.4%,#171717 100%)"></i><i style="background:linear-gradient(90deg,#181818 0%,#1b1b1b 2.5%,#252525 5.4%,#2e2e2e 7.5%,#464646 11.6%,#4d4d4d 13.3%,#7c7c7c 30.7%,#7f7f7f 33.2%,#7f7f7f 43.6%,#7f7f7f 45.2%,#7b7b7b 46.5%,#606060 50.2%,#4e4e4e 53.5%,#4b4b4b 54.8%,#424242 61%,#2c2c2c 67.2%,#272727 68.9%,#171717 95.9%,#161616 100%)"></i><i style="background:linear-gradient(90deg,#1a1a1a 0%,#1a1a1a 1.2%,#1d1d1d 2.5%,#434343 9.1%,#4e4e4e 11.6%,#666666 19.9%,#7b7b7b 28.2%,#7f7f7f 31.1%,#7f7f7f 41.1%,#7e7e7e 42.7%,#7b7b7b 43.6%,#5d5d5d 47.3%,#535353 49%,#4d4d4d 50.2%,#424242 57.7%,#272727 66%,#161616 95.4%,#141414 100%)"></i><i style="background:linear-gradient(90deg,#242424 0%,#252525 1.7%,#292929 2.9%,#4a4a4a 9.1%,#535353 11.2%,#696969 19.1%,#7a7a7a 26.1%,#808080 29.9%,#808080 39.4%,#7e7e7e 41.1%,#7b7b7b 41.9%,#616161 45.2%,#545454 47.3%,#4e4e4e 48.5%,#4b4b4b 49.8%,#414141 56.4%,#2b2b2b 63.1%,#262626 64.7%,#141414 95.9%,#131313 100%)"></i><i style="background:linear-gradient(90deg,#2f2f2f 0%,#2f2f2f 1.7%,#323232 2.9%,#3b3b3b 5%,#545454 10%,#707070 19.5%,#818181 28.2%,#808080 37.8%,#7f7f7f 39%,#7b7b7b 40.2%,#5f5f5f 44%,#535353 46.1%,#4e4e4e 47.3%,#414141 55.2%,#2a2a2a 61.8%,#262626 63.5%,#131313 95.9%,#121212 100%)"></i><i style="background:linear-gradient(90deg,#393939 0%,#3a3a3a 2.1%,#3e3e3e 3.7%,#444444 5.4%,#5a5a5a 10%,#6d6d6d 16.2%,#737373 18.7%,#828282 27.4%,#808080 36.1%,#7f7f7f 37.3%,#7b7b7b 38.6%,#636363 41.9%,#4f4f4f 45.6%,#4b4b4b 47.3%,#414141 53.9%,#252525 61.8%,#121212 95.4%,#111111 100%)"></i><i style="background:linear-gradient(90deg,#444444 0%,#454545 2.5%,#494949 4.6%,#5e5e5e 9.5%,#717171 15.4%,#767676 17.4%,#838383 26.1%,#818181 34%,#7f7f7f 35.7%,#7b7b7b 36.9%,#616161 40.7%,#4e4e4e 44.4%,#4b4b4b 45.6%,#414141 52.3%,#292929 58.9%,#252525 60.6%,#111111 95.4%,#101010 100%)"></i><i style="background:linear-gradient(90deg,#505050 0%,#515151 2.5%,#555555 4.6%,#686868 9.1%,#7a7a7a 16.2%,#848484 25.3%,#818181 32.4%,#7f7f7f 34%,#7d7d7d 34.9%,#626262 39%,#535353 41.9%,#4e4e4e 43.2%,#414141 51%,#282828 58.1%,#232323 59.8%,#101010 95.9%,#0f0f0f 100%)"></i><i style="background:linear-gradient(90deg,#5e5e5e 0%,#5f5f5f 2.1%,#626262 3.7%,#737373 8.3%,#808080 14.9%,#858585 24.1%,#818181 30.7%,#7f7f7f 32.4%,#7a7a7a 33.6%,#646464 37.3%,#4f4f4f 41.5%,#4b4b4b 43.2%,#414141 49.8%,#262626 57.3%,#222222 58.9%,#0f0f0f 95.9%,#0e0e0e 100%)"></i><i style="background:linear-gradient(90deg,#6c6c6c 0%,#6c6c6c 1.7%,#6f6f6f 3.3%,#7d7d7d 7.1%,#818181 8.3%,#878787 13.3%,#868686 23.2%,#818181 29%,#7f7f7f 30.7%,#7a7a7a 32%,#636363 36.1%,#4e4e4e 40.2%,#4b4b4b 41.5%,#414141 48.5%,#262626 56%,#222222 57.7%,#0f0f0f 95%,#0e0e0e 100%)"></i><i style="background:linear-gradient(90deg,#797979 0%,#7b7b7b 2.5%,#8b8b8b 6.6%,#8e8e8e 8.7%,#8e8e8e 13.7%,#838383 26.6%,#808080 28.6%,#7c7c7c 29.9%,#555555 37.3%,#4e4e4e 39%,#414141 47.3%,#252525 55.2%,#202020 56.8%,#0e0e0e 95.4%,#0d0d0d 100%)"></i><i style="background:linear-gradient(90deg,#868686 0%,#888888 2.5%,#979797 6.2%,#9a9a9a 7.9%,#959595 12.9%,#818181 27%,#787878 29.5%,#555555 36.5%,#4e4e4e 38.2%,#414141 46.1%,#242424 54.4%,#1f1f1f 56.4%,#0d0d0d 100%)"></i><i style="background:linear-gradient(90deg,#8d8d8d 0%,#8e8e8e 1.2%,#909090 2.5%,#a3a3a3 6.2%,#a7a7a7 7.5%,#a6a6a6 9.5%,#a2a2a2 13.3%,#8e8e8e 21.6%,#808080 28.2%,#6f6f6f 32.4%,#535353 37.3%,#4e4e4e 38.6%,#414141 46.1%,#242424 53.9%,#1f1f1f 56%,#0d0d0d 100%)"></i><i style="background:linear-gradient(90deg,#949494 0%,#959595 1.2%,#989898 2.5%,#9e9e9e 3.7%,#afafaf 6.2%,#b4b4b4 7.5%,#b4b4b4 8.7%,#b1b1b1 12.9%,#acacac 14.9%,#949494 21.6%,#848484 27.8%,#767676 32%,#6e6e6e 33.6%,#525252 38.2%,#4d4d4d 39.4%,#414141 46.1%,#242424 53.5%,#1f1f1f 55.2%,#0d0d0d 100%)"></i><i style="background:linear-gradient(90deg,#9b9b9b 0%,#9c9c9c 1.2%,#a0a0a0 2.5%,#a7a7a7 3.7%,#bbbbbb 6.2%,#c1c1c1 7.5%,#c2c2c2 8.7%,#bebebe 13.3%,#b8b8b8 15.4%,#9e9e9e 20.3%,#979797 22%,#767676 33.2%,#6f6f6f 34.4%,#535353 38.6%,#4d4d4d 39.8%,#414141 46.1%,#202020 54.4%,#1d1d1d 57.3%,#0d0d0d 100%)"></i><i style="background:linear-gradient(90deg,#a3a3a3 0%,#a4a4a4 1.7%,#aaaaaa 2.9%,#b4b4b4 4.1%,#c7c7c7 6.2%,#cecece 7.5%,#cfcfcf 9.1%,#cbcbcb 14.1%,#c8c8c8 15.4%,#c3c3c3 16.2%,#a5a5a5 20.3%,#9c9c9c 22%,#898989 27.4%,#797979 33.6%,#727272 34.9%,#575757 38.6%,#4f4f4f 39.8%,#4b4b4b 41.1%,#414141 46.1%,#242424 52.7%,#202020 53.9%,#1e1e1e 56.4%,#0d0d0d 100%)"></i><i style="background:linear-gradient(90deg,#a5a5a5 0%,#a7a7a7 1.7%,#adadad 2.9%,#b7b7b7 4.1%,#cbcbcb 6.2%,#d2d2d2 7.5%,#d3d3d3 9.1%,#d1d1d1 14.1%,#cecece 15.4%,#c8c8c8 16.2%,#a9a9a9 19.9%,#9f9f9f 21.6%,#8a8a8a 27.4%,#7a7a7a 34%,#737373 35.3%,#565656 39%,#4f4f4f 40.2%,#414141 46.1%,#262626 52.3%,#202020 53.9%,#1e1e1e 56.4%,#0d0d0d 100%)"></i><i style="background:linear-gradient(90deg,#a8a8a8 0%,#a8a8a8 1.2%,#adadad 2.5%,#b6b6b6 3.7%,#cecece 6.2%,#d6d6d6 7.5%,#d7d7d7 9.1%,#d6d6d6 14.1%,#d4d4d4 14.9%,#d0d0d0 15.8%,#aaaaaa 19.9%,#a0a0a0 21.6%,#8b8b8b 27.4%,#7a7a7a 34.4%,#737373 35.7%,#585858 39%,#515151 40.2%,#424242 46.1%,#262626 52.3%,#202020 53.9%,#1e1e1e 56.4%,#0d0d0d 100%)"></i><i style="background:linear-gradient(90deg,#aaaaaa 0%,#ababab 1.2%,#afafaf 2.5%,#b9b9b9 3.7%,#d2d2d2 6.2%,#d9d9d9 7.5%,#dcdcdc 9.1%,#dcdcdc 14.1%,#dadada 14.9%,#d5d5d5 15.8%,#aeaeae 19.5%,#a4a4a4 21.2%,#8b8b8b 27.4%,#7a7a7a 34.9%,#727272 36.1%,#5a5a5a 39%,#525252 40.2%,#424242 46.1%,#262626 52.3%,#202020 53.9%,#1e1e1e 56.4%,#0d0d0d 100%)"></i><i style="background:linear-gradient(90deg,#acacac 0%,#adadad 1.2%,#b2b2b2 2.5%,#bbbbbb 3.7%,#d5d5d5 6.2%,#dddddd 7.5%,#e0e0e0 9.1%,#e1e1e1 14.1%,#dfdfdf 14.9%,#d9d9d9 15.8%,#b3b3b3 19.1%,#acacac 19.9%,#a7a7a7 20.7%,#8c8c8c 27.4%,#7e7e7e 34%,#7a7a7a 35.3%,#727272 36.5%,#5c5c5c 39%,#545454 40.2%,#434343 46.1%,#262626 52.3%,#202020 53.9%,#1e1e1e 56.4%,#0d0d0d 100%)"></i><i style="background:linear-gradient(90deg,#afafaf 0%,#b0b0b0 1.2%,#b4b4b4 2.5%,#bebebe 3.7%,#d5d5d5 6.2%,#dcdcdc 7.5%,#dfdfdf 9.1%,#e0e0e0 14.1%,#dddddd 14.9%,#d7d7d7 15.8%,#b1b1b1 19.1%,#a6a6a6 20.7%,#8c8c8c 27.4%,#7a7a7a 35.3%,#737373 36.5%,#5d5d5d 39%,#555555 40.2%,#505050 41.5%,#434343 46.1%,#262626 52.3%,#202020 53.9%,#1d1d1d 56.4%,#0d0d0d 100%)"></i><i style="background:linear-gradient(90deg,#b3b3b3 0%,#b3b3b3 1.2%,#b8b8b8 2.5%,#cfcfcf 5.8%,#d7d7d7 7.5%,#d8d8d8 9.5%,#d8d8d8 14.1%,#d5d5d5 14.9%,#cfcfcf 15.8%,#b0b0b0 18.7%,#a4a4a4 20.3%,#8c8c8c 27%,#7a7a7a 35.3%,#727272 36.5%,#5c5c5c 39%,#545454 40.2%,#4f4f4f 41.5%,#434343 46.1%,#252525 52.3%,#1f1f1f 53.9%,#1d1d1d 56.4%,#0c0c0c 100%)"></i><i style="background:linear-gradient(90deg,#b6b6b6 0%,#b9b9b9 2.1%,#cbcbcb 5.4%,#d1d1d1 7.1%,#d2d2d2 9.1%,#cfcfcf 14.1%,#cacaca 15.4%,#acacac 18.7%,#a1a1a1 20.3%,#8b8b8b 27%,#797979 35.3%,#727272 36.5%,#5b5b5b 39%,#535353 40.2%,#4e4e4e 41.5%,#424242 46.1%,#232323 52.7%,#1e1e1e 54.4%,#0c0c0c 100%)"></i><i style="background:linear-gradient(90deg,#bababa 0%,#bbbbbb 1.7%,#c7c7c7 4.6%,#cccccc 7.1%,#cacaca 12%,#c7c7c7 14.1%,#c1c1c1 15.4%,#a7a7a7 18.7%,#9d9d9d 20.3%,#898989 27%,#787878 35.3%,#717171 36.5%,#5a5a5a 39%,#525252 40.2%,#4d4d4d 41.5%,#424242 46.1%,#222222 52.7%,#1d1d1d 54.4%,#0c0c0c 100%)"></i><i style="background:linear-gradient(90deg,#bdbdbd 0%,#bfbfbf 1.7%,#c5c5c5 3.7%,#c7c7c7 5.4%,#c5c5c5 8.7%,#bebebe 14.1%,#b9b9b9 15.4%,#a0a0a0 19.1%,#989898 20.7%,#888888 27%,#777777 35.3%,#707070 36.5%,#595959 39%,#515151 40.2%,#4c4c4c 41.5%,#414141 46.1%,#212121 52.7%,#1c1c1c 54.4%,#0b0b0b 100%)"></i><i style="background:linear-gradient(90deg,#c1c1c1 0%,#c2c2c2 1.7%,#c6c6c6 3.7%,#c6c6c6 4.6%,#b8b8b8 13.3%,#b2b2b2 14.9%,#9b9b9b 19.1%,#949494 20.7%,#787878 34.9%,#757575 35.7%,#6f6f6f 36.5%,#585858 39%,#505050 40.2%,#4c4c4c 41.5%,#414141 46.1%,#212121 52.7%,#1b1b1b 54.4%,#0b0b0b 100%)"></i><i style="background:linear-gradient(90deg,#c4c4c4 0%,#c7c7c7 3.3%,#c7c7c7 4.1%,#bbbbbb 7.9%,#adadad 14.1%,#969696 19.1%,#919191 20.7%,#777777 34.9%,#747474 35.7%,#6f6f6f 36.5%,#575757 39%,#4f4f4f 40.2%,#4b4b4b 41.5%,#414141 46.1%,#202020 52.7%,#1b1b1b 54.4%,#0a0a0a 100%)"></i><i style="background:linear-gradient(90deg,#c7c7c7 0%,#c8c8c8 3.7%,#b8b8b8 7.5%,#a7a7a7 14.1%,#8f8f8f 20.3%,#777777 34.9%,#737373 35.7%,#6e6e6e 36.5%,#575757 39%,#4e4e4e 40.2%,#4a4a4a 41.5%,#404040 46.1%,#202020 52.7%,#1a1a1a 54.4%,#0a0a0a 100%)"></i><i style="background:linear-gradient(90deg,#c7c7c7 0%,#c8c8c8 3.7%,#b8b8b8 7.5%,#a7a7a7 14.1%,#8f8f8f 20.3%,#777777 34.9%,#737373 35.7%,#6e6e6e 36.5%,#575757 39%,#4e4e4e 40.2%,#4a4a4a 41.5%,#404040 46.1%,#202020 52.7%,#1a1a1a 54.4%,#0a0a0a 100%)"></i></div></div><div class="hc" style="left:391px;top:408px;width:115px;height:89px"><div class="hm" style="width:121px;height:95px"><i style="background:linear-gradient(90deg,#525252 0%,#525252 1.7%,#555555 2.9%,#6c6c6c 8.3%,#7d7d7d 14.5%,#8b8b8b 23.2%,#8c8c8c 39%,#888888 49.4%,#8d8d8d 53.5%,#8b8b8b 54.8%,#7b7b7b 62.2%,#777777 63.5%,#696969 66%,#636363 67.2%,#595959 70.5%,#4f4f4f 74.7%,#3b3b3b 90.5%,#343434 97.1%,#333333 100%)"></i><i style="background:linear-gradient(90deg,#525252 0%,#525252 1.7%,#555555 2.9%,#6c6c6c 8.3%,#7d7d7d 14.5%,#8b8b8b 23.2%,#8c8c8c 39%,#888888 49.4%,#8d8d8d 53.5%,#8b8b8b 54.8%,#7b7b7b 62.2%,#777777 63.5%,#696969 66%,#636363 67.2%,#595959 70.5%,#4f4f4f 74.7%,#3b3b3b 90.5%,#343434 97.1%,#333333 100%)"></i><i style="background:linear-gradient(90deg,#505050 0%,#505050 1.7%,#535353 2.9%,#6a6a6a 8.3%,#7d7d7d 14.9%,#8c8c8c 24.1%,#8d8d8d 26.6%,#8c8c8c 38.6%,#8a8a8a 49.4%,#909090 53.9%,#7f7f7f 62.2%,#646464 68.9%,#5b5b5b 71.8%,#505050 75.9%,#464646 82.2%,#3b3b3b 90%,#343434 97.1%,#333333 100%)"></i><i style="background:linear-gradient(90deg,#4e4e4e 0%,#4e4e4e 1.7%,#515151 2.9%,#686868 8.3%,#7d7d7d 15.4%,#8c8c8c 24.9%,#8e8e8e 27.8%,#8b8b8b 49%,#8c8c8c 50.2%,#929292 52.7%,#949494 53.9%,#909090 56.8%,#838383 62.7%,#5f5f5f 72.2%,#4f4f4f 78.4%,#464646 82.6%,#3b3b3b 89.6%,#343434 97.1%,#333333 100%)"></i><i style="background:linear-gradient(90deg,#4d4d4d 0%,#4f4f4f 2.9%,#656565 8.7%,#7a7a7a 16.2%,#888888 25.7%,#8a8a8a 28.6%,#8c8c8c 49%,#8f8f8f 50.6%,#969696 53.1%,#979797 54.4%,#939393 57.3%,#868686 63.1%,#767676 68%,#5d5d5d 74.3%,#535353 77.6%,#484848 82.2%,#3a3a3a 90%,#343434 97.1%,#333333 100%)"></i><i style="background:linear-gradient(90deg,#4d4d4d 0%,#4e4e4e 2.9%,#5e5e5e 9.1%,#6f6f6f 16.6%,#7d7d7d 26.1%,#808080 29%,#8d8d8d 49%,#8f8f8f 50.6%,#979797 53.1%,#989898 54.4%,#949494 57.7%,#898989 63.5%,#797979 68.5%,#666666 73%,#5a5a5a 76.3%,#484848 83%,#3a3a3a 90%,#343434 97.1%,#333333 100%)"></i><i style="background:linear-gradient(90deg,#4d4d4d 0%,#4f4f4f 3.7%,#666666 17.8%,#757575 28.2%,#8d8d8d 49%,#909090 50.6%,#989898 53.1%,#999999 54.4%,#929292 61.4%,#8d8d8d 63.9%,#7c7c7c 68.9%,#686868 73.4%,#5a5a5a 77.2%,#464646 84.2%,#3a3a3a 90%,#343434 97.1%,#333333 100%)"></i><i style="background:linear-gradient(90deg,#4c4c4c 0%,#4d4d4d 3.3%,#515151 9.5%,#5e5e5e 20.3%,#808080 42.3%,#8d8d8d 49.4%,#999999 53.1%,#9a9a9a 54.8%,#959595 61.8%,#919191 63.9%,#7f7f7f 69.3%,#696969 74.3%,#595959 78%,#4b4b4b 83%,#3f3f3f 88%,#393939 91.3%,#343434 97.1%,#333333 100%)"></i><i style="background:linear-gradient(90deg,#484848 0%,#494949 3.3%,#4f4f4f 9.5%,#676767 30.3%,#7e7e7e 42.7%,#8d8d8d 49.4%,#9a9a9a 53.1%,#9c9c9c 55.2%,#989898 61.8%,#949494 64.3%,#828282 69.7%,#595959 79.3%,#4b4b4b 83.4%,#3e3e3e 88.4%,#393939 91.7%,#343434 97.5%,#333333 100%)"></i><i style="background:linear-gradient(90deg,#444444 0%,#454545 3.3%,#545454 16.6%,#636363 31.5%,#7c7c7c 43.6%,#8c8c8c 49.4%,#9c9c9c 53.5%,#9e9e9e 56.4%,#9b9b9b 62.2%,#969696 64.7%,#848484 70.1%,#4e4e4e 83%,#3e3e3e 88.4%,#393939 91.7%,#343434 97.5%,#333333 100%)"></i><i style="background:linear-gradient(90deg,#404040 0%,#414141 2.9%,#4b4b4b 10%,#535353 17.4%,#5f5f5f 32.8%,#797979 44%,#8c8c8c 49.4%,#9e9e9e 53.5%,#a0a0a0 54.8%,#a1a1a1 57.3%,#9e9e9e 63.1%,#8f8f8f 68%,#878787 70.5%,#787878 74.3%,#4c4c4c 83.8%,#3d3d3d 88.8%,#383838 92.1%,#343434 97.5%,#333333 100%)"></i><i style="background:linear-gradient(90deg,#3b3b3b 0%,#3d3d3d 2.9%,#494949 10%,#4f4f4f 16.2%,#595959 32%,#5c5c5c 34%,#757575 44.4%,#898989 49%,#9f9f9f 53.5%,#a3a3a3 55.6%,#a3a3a3 58.5%,#a3a3a3 61.8%,#a1a1a1 63.5%,#8e8e8e 69.7%,#757575 75.9%,#4c4c4c 84.2%,#3d3d3d 88.8%,#393939 91.7%,#343434 97.5%,#333333 100%)"></i><i style="background:linear-gradient(90deg,#383838 0%,#393939 2.9%,#474747 10.4%,#4d4d4d 17%,#565656 32.8%,#585858 34.9%,#737373 44.8%,#7f7f7f 47.3%,#9d9d9d 52.7%,#a2a2a2 53.9%,#a6a6a6 56.8%,#a6a6a6 61%,#a3a3a3 63.9%,#8c8c8c 71.4%,#727272 77.6%,#4c4c4c 84.6%,#3e3e3e 88.8%,#393939 91.7%,#343434 97.5%,#333333 100%)"></i><i style="background:linear-gradient(90deg,#363636 0%,#373737 3.3%,#454545 11.6%,#4e4e4e 19.5%,#575757 35.3%,#6d6d6d 43.2%,#747474 45.2%,#9c9c9c 52.3%,#a4a4a4 53.9%,#a8a8a8 56.4%,#a9a9a9 60.6%,#a8a8a8 62.7%,#a6a6a6 63.9%,#8f8f8f 71.4%,#767676 77.2%,#4d4d4d 84.6%,#3f3f3f 88.8%,#393939 91.7%,#343434 97.5%,#333333 100%)"></i><i style="background:linear-gradient(90deg,#343434 0%,#363636 3.7%,#4e4e4e 20.7%,#555555 34%,#585858 36.1%,#737373 45.2%,#7c7c7c 46.9%,#9e9e9e 52.3%,#a5a5a5 53.9%,#aaaaaa 56.4%,#ababab 60.2%,#ababab 62.2%,#a8a8a8 63.9%,#929292 71.4%,#797979 77.2%,#4e4e4e 84.6%,#3f3f3f 88.8%,#3a3a3a 91.7%,#343434 97.5%,#333333 100%)"></i><i style="background:linear-gradient(90deg,#323232 0%,#353535 4.6%,#414141 13.7%,#4e4e4e 22%,#575757 36.5%,#6c6c6c 43.6%,#747474 45.6%,#9d9d9d 51.9%,#a6a6a6 53.5%,#acacac 56%,#adadad 59.3%,#ababab 63.5%,#969696 71%,#7d7d7d 76.8%,#4d4d4d 85.1%,#404040 88.8%,#393939 92.1%,#343434 97.5%,#333333 100%)"></i><i style="background:linear-gradient(90deg,#303030 0%,#313131 3.3%,#3e3e3e 14.1%,#4e4e4e 23.2%,#555555 35.3%,#575757 37.3%,#6b6b6b 43.6%,#737373 45.6%,#7a7a7a 46.9%,#9e9e9e 51.9%,#a7a7a7 53.5%,#aeaeae 56%,#b0b0b0 58.9%,#b0b0b0 61.8%,#aeaeae 63.5%,#989898 71.4%,#7e7e7e 77.2%,#4e4e4e 85.1%,#414141 88.8%,#3a3a3a 92.1%,#343434 97.5%,#333333 100%)"></i><i style="background:linear-gradient(90deg,#2f2f2f 0%,#303030 3.7%,#3c3c3c 15.4%,#4d4d4d 24.5%,#565656 37.8%,#5d5d5d 39.8%,#727272 45.6%,#7c7c7c 47.3%,#9c9c9c 51.5%,#a9a9a9 53.5%,#b0b0b0 56%,#b2b2b2 58.9%,#b0b0b0 63.5%,#9b9b9b 71.4%,#808080 77.2%,#505050 85.1%,#434343 88.4%,#3a3a3a 92.1%,#343434 97.5%,#333333 100%)"></i><i style="background:linear-gradient(90deg,#2d2d2d 0%,#2e2e2e 3.7%,#393939 16.2%,#3d3d3d 18.3%,#4d4d4d 25.3%,#545454 36.9%,#575757 38.6%,#6a6a6a 44%,#737373 46.1%,#7c7c7c 47.3%,#9e9e9e 51.5%,#ababab 53.5%,#b2b2b2 56%,#b4b4b4 58.5%,#b4b4b4 61.8%,#b3b3b3 63.5%,#9e9e9e 71.4%,#838383 77.2%,#515151 85.1%,#474747 87.6%,#3e3e3e 90.5%,#3b3b3b 92.1%,#343434 97.5%,#333333 100%)"></i><i style="background:linear-gradient(90deg,#2b2b2b 0%,#2c2c2c 3.7%,#373737 17.4%,#3b3b3b 19.5%,#4d4d4d 26.6%,#565656 39%,#5d5d5d 41.1%,#727272 46.1%,#7b7b7b 47.3%,#9c9c9c 51%,#adadad 53.5%,#b5b5b5 56%,#b7b7b7 58.5%,#b5b5b5 63.5%,#a0a0a0 71.4%,#868686 77.2%,#525252 85.1%,#474747 87.6%,#3b3b3b 92.1%,#343434 97.5%,#333333 100%)"></i><i style="background:linear-gradient(90deg,#292929 0%,#2a2a2a 3.7%,#353535 18.7%,#393939 20.7%,#4d4d4d 27.8%,#545454 38.2%,#565656 39.8%,#696969 44.4%,#737373 46.5%,#7d7d7d 47.7%,#9d9d9d 51%,#aeaeae 53.5%,#b7b7b7 56%,#b9b9b9 58.5%,#b8b8b8 63.5%,#a5a5a5 71%,#9d9d9d 73%,#868686 77.6%,#545454 85.1%,#4b4b4b 86.7%,#3c3c3c 92.1%,#343434 97.5%,#333333 100%)"></i><i style="background:linear-gradient(90deg,#272727 0%,#282828 3.7%,#333333 19.9%,#373737 22%,#4c4c4c 28.6%,#555555 40.2%,#5d5d5d 42.3%,#727272 46.5%,#7c7c7c 47.7%,#9e9e9e 51%,#b0b0b0 53.5%,#b9b9b9 56%,#bcbcbc 58.5%,#bababa 63.5%,#a8a8a8 71%,#9f9f9f 73%,#898989 77.6%,#555555 85.1%,#4c4c4c 86.7%,#3c3c3c 92.1%,#353535 97.1%,#333333 100%)"></i><i style="background:linear-gradient(90deg,#262626 0%,#272727 3.7%,#333333 21.2%,#363636 22.8%,#4c4c4c 29.5%,#555555 40.7%,#5d5d5d 42.7%,#707070 46.5%,#7b7b7b 47.7%,#9e9e9e 51%,#b1b1b1 53.5%,#bbbbbb 56%,#bebebe 58.5%,#bcbcbc 63.5%,#a9a9a9 71.4%,#8b8b8b 77.6%,#565656 85.1%,#4b4b4b 87.1%,#3c3c3c 92.5%,#343434 97.5%,#333333 100%)"></i><i style="background:linear-gradient(90deg,#262626 0%,#272727 3.7%,#323232 21.6%,#363636 23.2%,#474747 28.2%,#4b4b4b 29.9%,#535353 39.4%,#555555 41.1%,#666666 44.8%,#727272 46.9%,#7e7e7e 48.1%,#9e9e9e 51%,#b2b2b2 53.5%,#bebebe 56%,#c1c1c1 58.1%,#c0c0c0 61.8%,#bfbfbf 63.5%,#ababab 71%,#a3a3a3 73%,#8c8c8c 77.6%,#565656 85.1%,#4d4d4d 86.7%,#434343 89.6%,#3c3c3c 92.5%,#343434 97.5%,#333333 100%)"></i><i style="background:linear-gradient(90deg,#252525 0%,#262626 3.7%,#323232 22%,#353535 23.7%,#474747 28.6%,#4b4b4b 30.3%,#525252 39.4%,#555555 41.1%,#636363 44.4%,#717171 46.9%,#7c7c7c 48.1%,#a1a1a1 51.5%,#adadad 52.7%,#b6b6b6 53.9%,#c0c0c0 56%,#c3c3c3 58.1%,#c3c3c3 61.8%,#c1c1c1 63.5%,#adadad 71%,#a2a2a2 73.4%,#8a8a8a 78%,#595959 84.6%,#4d4d4d 86.7%,#434343 89.6%,#3c3c3c 92.5%,#343434 97.5%,#333333 100%)"></i><i style="background:linear-gradient(90deg,#252525 0%,#262626 3.7%,#313131 22.4%,#353535 24.1%,#464646 29%,#4b4b4b 30.7%,#525252 39.8%,#555555 41.5%,#666666 45.2%,#6f6f6f 46.9%,#7b7b7b 48.1%,#a1a1a1 51.5%,#adadad 52.7%,#b7b7b7 53.9%,#c2c2c2 56%,#c6c6c6 58.1%,#c5c5c5 61.8%,#c3c3c3 63.5%,#ababab 71.8%,#8b8b8b 78%,#565656 85.1%,#4f4f4f 86.3%,#494949 87.6%,#3c3c3c 92.5%,#343434 97.5%,#333333 100%)"></i><i style="background:linear-gradient(90deg,#252525 0%,#262626 3.7%,#313131 22.8%,#353535 24.9%,#4a4a4a 30.7%,#515151 39.8%,#545454 41.5%,#626262 44.8%,#6e6e6e 46.9%,#7a7a7a 48.1%,#979797 50.6%,#aaaaaa 52.3%,#bbbbbb 54.4%,#c6c6c6 56.4%,#c9c9c9 58.1%,#c8c8c8 61.8%,#c6c6c6 63.5%,#acacac 71.8%,#8c8c8c 78%,#595959 84.6%,#4f4f4f 86.3%,#494949 87.6%,#3c3c3c 92.5%,#343434 97.5%,#333333 100%)"></i><i style="background:linear-gradient(90deg,#252525 0%,#252525 4.1%,#313131 23.7%,#353535 25.3%,#494949 31.1%,#515151 40.2%,#545454 41.9%,#656565 45.6%,#707070 47.3%,#787878 48.1%,#aaaaaa 52.3%,#bdbdbd 54.4%,#c9c9c9 56.4%,#cccccc 58.1%,#cacaca 61.8%,#c8c8c8 63.5%,#adadad 71.8%,#8d8d8d 78%,#5f5f5f 83.8%,#515151 85.9%,#4b4b4b 87.1%,#3c3c3c 92.5%,#343434 97.5%,#333333 100%)"></i><i style="background:linear-gradient(90deg,#242424 0%,#252525 4.1%,#303030 24.1%,#343434 25.7%,#444444 29.9%,#494949 31.5%,#505050 40.2%,#535353 41.9%,#606060 44.8%,#6b6b6b 46.9%,#777777 48.1%,#a5a5a5 51.9%,#bbbbbb 53.9%,#c9c9c9 56%,#cdcdcd 56.8%,#cecece 58.1%,#cdcdcd 61.8%,#cacaca 63.5%,#aeaeae 71.8%,#8e8e8e 78%,#626262 83.4%,#535353 85.5%,#4b4b4b 87.1%,#3c3c3c 92.5%,#343434 97.5%,#333333 100%)"></i><i style="background:linear-gradient(90deg,#242424 0%,#252525 4.1%,#303030 24.5%,#333333 26.1%,#444444 30.3%,#494949 32%,#505050 40.7%,#545454 42.3%,#616161 45.2%,#6a6a6a 46.9%,#767676 48.1%,#aaaaaa 52.3%,#bcbcbc 53.9%,#cccccc 56%,#cfcfcf 56.8%,#d1d1d1 58.1%,#cfcfcf 61.8%,#cdcdcd 63.5%,#b0b0b0 71.8%,#8f8f8f 78%,#626262 83.4%,#535353 85.5%,#4b4b4b 87.1%,#3c3c3c 92.5%,#343434 97.5%,#333333 100%)"></i><i style="background:linear-gradient(90deg,#242424 0%,#242424 3.7%,#2f2f2f 24.9%,#333333 26.6%,#444444 30.7%,#494949 32.4%,#505050 40.7%,#535353 42.3%,#616161 45.6%,#6c6c6c 47.3%,#797979 48.5%,#aaaaaa 52.3%,#bdbdbd 53.9%,#cecece 56%,#d2d2d2 56.8%,#d4d4d4 58.1%,#d2d2d2 61.8%,#cfcfcf 63.5%,#b1b1b1 71.8%,#909090 78%,#868686 79.3%,#6f6f6f 81.7%,#626262 83.4%,#535353 85.5%,#4b4b4b 87.1%,#3c3c3c 92.5%,#343434 97.5%,#333333 100%)"></i><i style="background:linear-gradient(90deg,#232323 0%,#242424 3.7%,#2f2f2f 25.3%,#323232 27%,#434343 31.1%,#484848 32.8%,#4f4f4f 40.7%,#525252 42.3%,#606060 45.6%,#6b6b6b 47.3%,#787878 48.5%,#b0b0b0 52.7%,#c3c3c3 54.4%,#cdcdcd 55.6%,#d3d3d3 56.4%,#d6d6d6 57.3%,#d6d6d6 58.1%,#d4d4d4 61.8%,#d1d1d1 63.5%,#b2b2b2 71.8%,#909090 78%,#878787 79.3%,#656565 83%,#535353 85.5%,#4b4b4b 87.1%,#3c3c3c 92.5%,#343434 97.5%,#333333 100%)"></i><i style="background:linear-gradient(90deg,#232323 0%,#242424 4.1%,#2f2f2f 26.1%,#333333 27.8%,#474747 32.8%,#4f4f4f 41.1%,#525252 42.7%,#5f5f5f 45.6%,#6a6a6a 47.3%,#777777 48.5%,#b0b0b0 52.7%,#c4c4c4 54.4%,#d0d0d0 55.6%,#d5d5d5 56.4%,#d8d8d8 57.3%,#d9d9d9 58.1%,#d7d7d7 61.8%,#d4d4d4 63.5%,#b3b3b3 71.8%,#919191 78%,#888888 79.3%,#656565 83%,#535353 85.5%,#4b4b4b 87.1%,#3c3c3c 92.5%,#343434 97.5%,#333333 100%)"></i><i style="background:linear-gradient(90deg,#232323 0%,#242424 4.1%,#2e2e2e 26.6%,#323232 28.2%,#434343 32%,#474747 33.2%,#4e4e4e 41.1%,#515151 42.7%,#5e5e5e 45.6%,#686868 47.3%,#707070 48.1%,#7b7b7b 49%,#b1b1b1 52.7%,#c5c5c5 54.4%,#d2d2d2 55.6%,#d8d8d8 56.4%,#dbdbdb 57.3%,#dcdcdc 58.1%,#d9d9d9 61.8%,#d6d6d6 63.5%,#b4b4b4 71.8%,#909090 78.4%,#656565 83%,#535353 85.5%,#4b4b4b 87.1%,#3c3c3c 92.5%,#343434 97.5%,#333333 100%)"></i><i style="background:linear-gradient(90deg,#222222 0%,#2e2e2e 27%,#323232 28.6%,#434343 32.4%,#474747 33.6%,#4e4e4e 41.5%,#525252 43.2%,#5f5f5f 46.1%,#6b6b6b 47.7%,#7f7f7f 49.4%,#b7b7b7 53.1%,#cccccc 54.8%,#dadada 56.4%,#dedede 57.3%,#dfdfdf 58.1%,#dcdcdc 61.8%,#d8d8d8 63.5%,#b4b4b4 72.2%,#919191 78.4%,#868686 79.7%,#707070 81.7%,#656565 83%,#535353 85.5%,#4b4b4b 87.1%,#3c3c3c 92.5%,#343434 97.5%,#333333 100%)"></i><i style="background:linear-gradient(90deg,#222222 0%,#2e2e2e 27%,#323232 28.6%,#424242 32.4%,#474747 33.6%,#4e4e4e 41.5%,#525252 43.2%,#5f5f5f 46.1%,#6b6b6b 47.7%,#7f7f7f 49.4%,#b7b7b7 53.1%,#cccccc 54.8%,#dbdbdb 56.4%,#dedede 57.3%,#dfdfdf 58.1%,#dcdcdc 61.8%,#d9d9d9 63.5%,#b4b4b4 72.2%,#919191 78.4%,#868686 79.7%,#707070 81.7%,#656565 83%,#535353 85.5%,#4b4b4b 87.1%,#3c3c3c 92.5%,#343434 97.5%,#333333 100%)"></i><i style="background:linear-gradient(90deg,#222222 0%,#2e2e2e 27%,#323232 28.6%,#424242 32.4%,#474747 33.6%,#4e4e4e 41.5%,#525252 43.2%,#5f5f5f 46.1%,#6b6b6b 47.7%,#7f7f7f 49.4%,#b7b7b7 53.1%,#cccccc 54.8%,#dbdbdb 56.4%,#dedede 57.3%,#dfdfdf 58.1%,#dcdcdc 61.8%,#d9d9d9 63.5%,#b4b4b4 72.2%,#919191 78.4%,#868686 79.7%,#707070 81.7%,#656565 83%,#535353 85.5%,#4b4b4b 87.1%,#3c3c3c 92.5%,#343434 97.5%,#333333 100%)"></i><i style="background:linear-gradient(90deg,#222222 0%,#2e2e2e 27%,#323232 28.6%,#424242 32.4%,#474747 33.6%,#4e4e4e 41.5%,#525252 43.2%,#5f5f5f 46.1%,#6b6b6b 47.7%,#7f7f7f 49.4%,#b7b7b7 53.1%,#cccccc 54.8%,#dbdbdb 56.4%,#dedede 57.3%,#dfdfdf 58.1%,#dcdcdc 61.8%,#d9d9d9 63.5%,#b4b4b4 72.2%,#919191 78.4%,#868686 79.7%,#707070 81.7%,#656565 83%,#535353 85.5%,#4b4b4b 87.1%,#3c3c3c 92.5%,#343434 97.5%,#333333 100%)"></i><i style="background:linear-gradient(90deg,#222222 0%,#2e2e2e 27%,#323232 28.6%,#424242 32.4%,#474747 33.6%,#4e4e4e 41.5%,#525252 43.2%,#5f5f5f 46.1%,#6b6b6b 47.7%,#7f7f7f 49.4%,#b7b7b7 53.1%,#cccccc 54.8%,#dbdbdb 56.4%,#dedede 57.3%,#dfdfdf 58.1%,#dcdcdc 61.8%,#d9d9d9 63.5%,#b4b4b4 72.2%,#919191 78.4%,#868686 79.7%,#707070 81.7%,#656565 83%,#535353 85.5%,#4b4b4b 87.1%,#3c3c3c 92.5%,#343434 97.5%,#333333 100%)"></i><i style="background:linear-gradient(90deg,#222222 0%,#2e2e2e 27%,#323232 28.6%,#424242 32.4%,#474747 33.6%,#4e4e4e 41.5%,#525252 43.2%,#5f5f5f 46.1%,#6b6b6b 47.7%,#7f7f7f 49.4%,#b7b7b7 53.1%,#cccccc 54.8%,#dbdbdb 56.4%,#dedede 57.3%,#dfdfdf 58.1%,#dcdcdc 61.8%,#d9d9d9 63.5%,#b4b4b4 72.2%,#919191 78.4%,#868686 79.7%,#707070 81.7%,#656565 83%,#535353 85.5%,#4b4b4b 87.1%,#3c3c3c 92.5%,#343434 97.5%,#333333 100%)"></i><i style="background:linear-gradient(90deg,#222222 0%,#2e2e2e 27%,#323232 28.6%,#424242 32.4%,#474747 33.6%,#4e4e4e 41.5%,#525252 43.2%,#5f5f5f 46.1%,#6b6b6b 47.7%,#7f7f7f 49.4%,#b7b7b7 53.1%,#cccccc 54.8%,#dbdbdb 56.4%,#dedede 57.3%,#dfdfdf 58.1%,#dcdcdc 61.8%,#d9d9d9 63.5%,#b4b4b4 72.2%,#919191 78.4%,#868686 79.7%,#707070 81.7%,#656565 83%,#535353 85.5%,#4b4b4b 87.1%,#3c3c3c 92.5%,#343434 97.5%,#333333 100%)"></i><i style="background:linear-gradient(90deg,#222222 0%,#2e2e2e 27%,#323232 28.6%,#424242 32.4%,#474747 33.6%,#4e4e4e 41.5%,#525252 43.2%,#5f5f5f 46.1%,#6b6b6b 47.7%,#7f7f7f 49.4%,#b7b7b7 53.1%,#cccccc 54.8%,#dbdbdb 56.4%,#dedede 57.3%,#dfdfdf 58.1%,#dcdcdc 61.8%,#d9d9d9 63.5%,#b4b4b4 72.2%,#919191 78.4%,#868686 79.7%,#707070 81.7%,#656565 83%,#535353 85.5%,#4b4b4b 87.1%,#3c3c3c 92.5%,#343434 97.5%,#333333 100%)"></i><i style="background:linear-gradient(90deg,#222222 0%,#2e2e2e 27%,#323232 28.6%,#424242 32.4%,#474747 33.6%,#4e4e4e 41.5%,#525252 43.2%,#5f5f5f 46.1%,#6b6b6b 47.7%,#7f7f7f 49.4%,#b7b7b7 53.1%,#cccccc 54.8%,#dbdbdb 56.4%,#dedede 57.3%,#dfdfdf 58.1%,#dcdcdc 61.8%,#d9d9d9 63.5%,#b4b4b4 72.2%,#919191 78.4%,#868686 79.7%,#707070 81.7%,#656565 83%,#535353 85.5%,#4b4b4b 87.1%,#3c3c3c 92.5%,#343434 97.5%,#333333 100%)"></i><i style="background:linear-gradient(90deg,#222222 0%,#2e2e2e 27%,#323232 28.6%,#424242 32.4%,#474747 33.6%,#4e4e4e 41.5%,#525252 43.2%,#5f5f5f 46.1%,#6b6b6b 47.7%,#7f7f7f 49.4%,#b7b7b7 53.1%,#cccccc 54.8%,#dbdbdb 56.4%,#dedede 57.3%,#dfdfdf 58.1%,#dcdcdc 61.8%,#d9d9d9 63.5%,#b4b4b4 72.2%,#919191 78.4%,#868686 79.7%,#707070 81.7%,#656565 83%,#535353 85.5%,#4b4b4b 87.1%,#3c3c3c 92.5%,#343434 97.5%,#333333 100%)"></i><i style="background:linear-gradient(90deg,#222222 0%,#2e2e2e 27%,#323232 28.6%,#424242 32.4%,#474747 33.6%,#4e4e4e 41.5%,#525252 43.2%,#5f5f5f 46.1%,#6b6b6b 47.7%,#7f7f7f 49.4%,#b7b7b7 53.1%,#cccccc 54.8%,#dbdbdb 56.4%,#dedede 57.3%,#dfdfdf 58.1%,#dcdcdc 61.8%,#d9d9d9 63.5%,#b4b4b4 72.2%,#919191 78.4%,#868686 79.7%,#707070 81.7%,#656565 83%,#535353 85.5%,#4b4b4b 87.1%,#3c3c3c 92.5%,#343434 97.5%,#333333 100%)"></i><i style="background:linear-gradient(90deg,#363636 0%,#363636 4.1%,#414141 25.7%,#4c4c4c 33.6%,#5c5c5c 41.5%,#656565 44%,#737373 46.9%,#808080 48.5%,#adadad 52.7%,#b9b9b9 53.9%,#c6c6c6 56%,#c9c9c9 56.8%,#cacaca 58.1%,#c9c9c9 61.8%,#c5c5c5 63.9%,#acacac 71%,#979797 75.9%,#8c8c8c 78%,#6b6b6b 81.7%,#5b5b5b 83.8%,#505050 85.5%,#4a4a4a 86.7%,#3c3c3c 92.1%,#343434 97.5%,#333333 100%)"></i><i style="background:linear-gradient(90deg,#474747 0%,#484848 3.7%,#525252 23.2%,#525252 32.8%,#535353 34.4%,#696969 41.1%,#7e7e7e 46.5%,#858585 47.7%,#a7a7a7 52.3%,#b0b0b0 53.9%,#b7b7b7 56.8%,#b8b8b8 61.4%,#b6b6b6 63.1%,#b4b4b4 64.3%,#8f8f8f 76.3%,#888888 77.6%,#6a6a6a 81.3%,#575757 83.8%,#505050 85.1%,#4a4a4a 86.3%,#3d3d3d 91.3%,#343434 97.1%,#333333 100%)"></i><i style="background:linear-gradient(90deg,#474747 0%,#484848 3.7%,#525252 23.2%,#525252 32.8%,#535353 34.4%,#696969 41.1%,#7e7e7e 46.5%,#858585 47.7%,#a7a7a7 52.3%,#b0b0b0 53.9%,#b7b7b7 56.8%,#b8b8b8 61.4%,#b6b6b6 63.1%,#b4b4b4 64.3%,#8f8f8f 76.3%,#888888 77.6%,#6a6a6a 81.3%,#575757 83.8%,#505050 85.1%,#4a4a4a 86.3%,#3d3d3d 91.3%,#343434 97.1%,#333333 100%)"></i></div></div><svg width="550" height="528" viewBox="0 0 550 528"><defs><filter id="cm" x="0" y="0" width="1" height="1" color-interpolation-filters="sRGB"><feGaussianBlur stdDeviation="0.3 0.9"/><feComponentTransfer><feFuncR type="table" tableValues="0.886 0.868 0.85 0.832 0.814 0.796 0.773 0.75 0.727 0.705 0.682 0.659 0.639 0.618 0.598 0.578 0.558 0.537 0.518 0.498 0.478 0.459 0.439 0.391 0.342 0.293 0.245 0.196 0.155 0.114 0.073 0.031 0.025 0.019 0.013 0.006 0 0.004 0.008 0.012 0.016 0.02 0.043 0.067 0.09 0.114 0.137 0.183 0.229 0.275 0.32 0.366 0.412 0.446 0.48 0.515 0.549 0.583 0.618 0.652 0.686 0.72 0.753 0.787 0.82 0.854 0.888 0.921 0.955 0.988 0.99 0.991 0.992 0.993 0.995 0.996 0.997 0.999 1 1 1 1 1 1 1 1 1 1 1 0.993 0.987 0.98 0.974 0.967 0.961 0.954 0.948 0.941 0.935 0.928 0.922"/><feFuncG type="table" tableValues="0.914 0.898 0.882 0.867 0.851 0.835 0.816 0.796 0.776 0.757 0.737 0.718 0.699 0.681 0.663 0.644 0.626 0.608 0.588 0.569 0.549 0.529 0.51 0.486 0.463 0.439 0.416 0.392 0.387 0.382 0.377 0.373 0.396 0.42 0.443 0.467 0.49 0.506 0.522 0.537 0.553 0.569 0.592 0.616 0.639 0.663 0.686 0.724 0.761 0.798 0.835 0.873 0.91 0.916 0.923 0.929 0.935 0.942 0.948 0.954 0.961 0.961 0.961 0.961 0.961 0.961 0.961 0.961 0.961 0.961 0.937 0.913 0.889 0.865 0.841 0.817 0.793 0.769 0.745 0.714 0.682 0.651 0.62 0.588 0.557 0.525 0.494 0.463 0.431 0.405 0.379 0.353 0.327 0.301 0.275 0.248 0.222 0.196 0.17 0.144 0.118"/><feFuncB type="table" tableValues="1 0.998 0.997 0.995 0.994 0.992 0.991 0.99 0.988 0.987 0.986 0.984 0.982 0.98 0.978 0.976 0.975 0.973 0.971 0.969 0.968 0.966 0.965 0.965 0.965 0.965 0.965 0.965 0.964 0.963 0.962 0.961 0.918 0.875 0.831 0.788 0.745 0.698 0.651 0.604 0.557 0.51 0.455 0.4 0.345 0.29 0.235 0.196 0.157 0.118 0.078 0.039 0 0 0 0 0 0 0 0 0 0 0 0 0 0 0 0 0 0 0 0 0 0 0 0 0 0 0 0 0 0 0 0 0 0 0 0 0 0.002 0.003 0.005 0.007 0.008 0.01 0.011 0.013 0.015 0.016 0.018 0.02"/></feComponentTransfer></filter><filter id="cm0" x="0" y="0" width="1" height="1" color-interpolation-filters="sRGB"><feComponentTransfer><feFuncR type="table" tableValues="0.886 0.868 0.85 0.832 0.814 0.796 0.773 0.75 0.727 0.705 0.682 0.659 0.639 0.618 0.598 0.578 0.558 0.537 0.518 0.498 0.478 0.459 0.439 0.391 0.342 0.293 0.245 0.196 0.155 0.114 0.073 0.031 0.025 0.019 0.013 0.006 0 0.004 0.008 0.012 0.016 0.02 0.043 0.067 0.09 0.114 0.137 0.183 0.229 0.275 0.32 0.366 0.412 0.446 0.48 0.515 0.549 0.583 0.618 0.652 0.686 0.72 0.753 0.787 0.82 0.854 0.888 0.921 0.955 0.988 0.99 0.991 0.992 0.993 0.995 0.996 0.997 0.999 1 1 1 1 1 1 1 1 1 1 1 0.993 0.987 0.98 0.974 0.967 0.961 0.954 0.948 0.941 0.935 0.928 0.922"/><feFuncG type="table" tableValues="0.914 0.898 0.882 0.867 0.851 0.835 0.816 0.796 0.776 0.757 0.737 0.718 0.699 0.681 0.663 0.644 0.626 0.608 0.588 0.569 0.549 0.529 0.51 0.486 0.463 0.439 0.416 0.392 0.387 0.382 0.377 0.373 0.396 0.42 0.443 0.467 0.49 0.506 0.522 0.537 0.553 0.569 0.592 0.616 0.639 0.663 0.686 0.724 0.761 0.798 0.835 0.873 0.91 0.916 0.923 0.929 0.935 0.942 0.948 0.954 0.961 0.961 0.961 0.961 0.961 0.961 0.961 0.961 0.961 0.961 0.937 0.913 0.889 0.865 0.841 0.817 0.793 0.769 0.745 0.714 0.682 0.651 0.62 0.588 0.557 0.525 0.494 0.463 0.431 0.405 0.379 0.353 0.327 0.301 0.275 0.248 0.222 0.196 0.17 0.144 0.118"/><feFuncB type="table" tableValues="1 0.998 0.997 0.995 0.994 0.992 0.991 0.99 0.988 0.987 0.986 0.984 0.982 0.98 0.978 0.976 0.975 0.973 0.971 0.969 0.968 0.966 0.965 0.965 0.965 0.965 0.965 0.965 0.964 0.963 0.962 0.961 0.918 0.875 0.831 0.788 0.745 0.698 0.651 0.604 0.557 0.51 0.455 0.4 0.345 0.29 0.235 0.196 0.157 0.118 0.078 0.039 0 0 0 0 0 0 0 0 0 0 0 0 0 0 0 0 0 0 0 0 0 0 0 0 0 0 0 0 0 0 0 0 0 0 0 0 0 0.002 0.003 0.005 0.007 0.008 0.01 0.011 0.013 0.015 0.016 0.018 0.02"/></feComponentTransfer></filter><linearGradient id="cbg" x1="0" y1="1" x2="0" y2="0"><stop offset="0" stop-color="#000"/><stop offset="1" stop-color="#fff"/></linearGradient><clipPath id="clipp00"><rect x="28.2" y="17.1" width="115.1" height="89.1"/></clipPath><clipPath id="clipp01"><rect x="209.8" y="17.1" width="115.1" height="89.1"/></clipPath><clipPath id="clipp02"><rect x="391.3" y="17.1" width="115.1" height="89.1"/></clipPath><clipPath id="clipp10"><rect x="28.2" y="147.4" width="115.1" height="89.1"/></clipPath><clipPath id="clipp11"><rect x="209.8" y="147.4" width="115.1" height="89.1"/></clipPath><clipPath id="clipp12"><rect x="391.3" y="147.4" width="115.1" height="89.1"/></clipPath><clipPath id="clipp20"><rect x="28.2" y="278.2" width="115.1" height="89.1"/></clipPath><clipPath id="clipp21"><rect x="209.8" y="278.2" width="115.1" height="89.1"/></clipPath><clipPath id="clipp22"><rect x="391.3" y="278.2" width="115.1" height="89.1"/></clipPath><clipPath id="clipp30"><rect x="28.2" y="408.3" width="115.1" height="89.1"/></clipPath><clipPath id="clipp31"><rect x="209.8" y="408.3" width="115.1" height="89.1"/></clipPath><clipPath id="clipp32"><rect x="391.3" y="408.3" width="115.1" height="89.1"/></clipPath></defs><g clip-path="url(#clipp00)"><path d="M66.8 106 L66.8 80.3 L127.7 75 L127.7 27.3 L119.8 23 L119.8 17.2" stroke="#000" stroke-width="1.3" fill="none" stroke-linejoin="miter"/></g><path d="M28.2 106.2h-2.2 M28.2 96.52h-1.4 M28.2 86.83h-2.2 M28.2 77.15h-1.4 M28.2 67.46h-2.2 M28.2 57.78h-1.4 M28.2 48.09h-2.2 M28.2 38.41h-1.4 M28.2 28.72h-2.2 M28.2 19.04h-1.4 M28.2 106.2v2.2 M35.79 106.2v1.4 M43.38 106.2v2.2 M50.98 106.2v1.4 M58.57 106.2v2.2 M66.16 106.2v1.4 M73.75 106.2v2.2 M81.35 106.2v1.4 M88.94 106.2v2.2 M96.53 106.2v1.4 M104.12 106.2v2.2 M111.72 106.2v1.4 M119.31 106.2v2.2 M126.9 106.2v1.4 M134.49 106.2v2.2 M142.09 106.2v1.4" stroke="#4a4a4a" stroke-width="0.7" fill="none"/><rect x="28.2" y="17.1" width="115.1" height="89.1" fill="none" stroke="#4a4a4a" stroke-width="0.8"/><text x="24" y="109.4" text-anchor="end" class="t">0</text><text x="24" y="90.03" text-anchor="end" class="t">1</text><text x="24" y="70.66" text-anchor="end" class="t">2</text><text x="24" y="51.29" text-anchor="end" class="t">3</text><text x="24" y="31.92" text-anchor="end" class="t">4</text><text x="28.2" y="117.4" text-anchor="middle" class="t">N</text><text x="43.38" y="117.4" text-anchor="middle" class="t">NE</text><text x="58.57" y="117.4" text-anchor="middle" class="t">E</text><text x="73.75" y="117.4" text-anchor="middle" class="t">SE</text><text x="88.94" y="117.4" text-anchor="middle" class="t">S</text><text x="104.12" y="117.4" text-anchor="middle" class="t">SW</text><text x="119.31" y="117.4" text-anchor="middle" class="t">W</text><text x="134.49" y="117.4" text-anchor="middle" class="t">NW</text><text x="85.75" y="12.8" text-anchor="middle" class="l">(a1) Spr.</text><text x="85.75" y="129.5" text-anchor="middle" class="l">HWD</text><text transform="translate(11.6 61.65) rotate(-90)" text-anchor="middle" class="l">AGL (km)</text><g filter="url(#cm0)"><rect x="150.6" y="17.1" width="5.2" height="89.1" fill="url(#cbg)"/></g><rect x="150.6" y="17.1" width="5.2" height="89.1" fill="none" stroke="#4a4a4a" stroke-width="0.7"/><text x="159.6" y="109.4" class="t">0</text><text x="159.6" y="91.58" class="t">5</text><text x="159.6" y="73.76" class="t">10</text><text x="159.6" y="55.94" class="t">15</text><text x="159.6" y="38.12" class="t">20</text><text x="159.6" y="20.3" class="t">25</text><path d="M155.8 106.2h2 M155.8 88.38h2 M155.8 70.56h2 M155.8 52.74h2 M155.8 34.92h2 M155.8 17.1h2" stroke="#4a4a4a" stroke-width="0.7"/><text transform="translate(179.8 62.45) rotate(-90)" text-anchor="middle" class="l">Probability (%)</text><g clip-path="url(#clipp01)"><path d="M219.3 106.2 L228.1 102.1 L219.7 92.5 L219.7 87.2 L223.7 83.7 L219.7 79.3 L228.1 71 L229 61.7 L238.7 52.9 L251.9 45.8 L259.8 39.6 L266 35.2 L272.2 32.6 L267.8 28.2 L277.4 17.2" stroke="#000" stroke-width="1.3" fill="none" stroke-linejoin="miter"/></g><path d="M209.8 106.2h-2.2 M209.8 96.52h-1.4 M209.8 86.83h-2.2 M209.8 77.15h-1.4 M209.8 67.46h-2.2 M209.8 57.78h-1.4 M209.8 48.09h-2.2 M209.8 38.41h-1.4 M209.8 28.72h-2.2 M209.8 19.04h-1.4 M209.8 106.2v2.2 M219.39 106.2v1.4 M228.98 106.2v2.2 M238.58 106.2v1.4 M248.17 106.2v2.2 M257.76 106.2v1.4 M267.35 106.2v2.2 M276.94 106.2v1.4 M286.53 106.2v2.2 M296.12 106.2v1.4 M305.72 106.2v2.2 M315.31 106.2v1.4 M324.9 106.2v2.2" stroke="#4a4a4a" stroke-width="0.7" fill="none"/><rect x="209.8" y="17.1" width="115.1" height="89.1" fill="none" stroke="#4a4a4a" stroke-width="0.8"/><text x="205.6" y="109.4" text-anchor="end" class="t">0</text><text x="205.6" y="90.03" text-anchor="end" class="t">1</text><text x="205.6" y="70.66" text-anchor="end" class="t">2</text><text x="205.6" y="51.29" text-anchor="end" class="t">3</text><text x="205.6" y="31.92" text-anchor="end" class="t">4</text><text x="209.8" y="117.4" text-anchor="middle" class="t">0</text><text x="228.98" y="117.4" text-anchor="middle" class="t">4</text><text x="248.17" y="117.4" text-anchor="middle" class="t">8</text><text x="267.35" y="117.4" text-anchor="middle" class="t">12</text><text x="286.53" y="117.4" text-anchor="middle" class="t">16</text><text x="305.72" y="117.4" text-anchor="middle" class="t">20</text><text x="324.9" y="117.4" text-anchor="middle" class="t">24</text><text x="267.35" y="12.8" text-anchor="middle" class="l">(a2) Spr.</text><text x="267.35" y="129.5" text-anchor="middle" class="l">HWS (m/s)</text><text transform="translate(193.2 61.65) rotate(-90)" text-anchor="middle" class="l">AGL (km)</text><g filter="url(#cm0)"><rect x="332.2" y="17.1" width="5.2" height="89.1" fill="url(#cbg)"/></g><rect x="332.2" y="17.1" width="5.2" height="89.1" fill="none" stroke="#4a4a4a" stroke-width="0.7"/><text x="341.2" y="109.4" class="t">0</text><text x="341.2" y="91.58" class="t">3</text><text x="341.2" y="73.76" class="t">6</text><text x="341.2" y="55.94" class="t">9</text><text x="341.2" y="38.12" class="t">12</text><text x="341.2" y="20.3" class="t">15</text><path d="M337.4 106.2h2 M337.4 88.38h2 M337.4 70.56h2 M337.4 52.74h2 M337.4 34.92h2 M337.4 17.1h2" stroke="#4a4a4a" stroke-width="0.7"/><text transform="translate(361.4 62.45) rotate(-90)" text-anchor="middle" class="l">Probability (%)</text><path d="M448.85 17.1V106.2" stroke="#142014" stroke-width="1.05" stroke-dasharray="3.4 1.4"/><g clip-path="url(#clipp02)"><path d="M455.5 17.2 L455.5 61.1 L468.1 65.7 L468.1 103 L455 106" stroke="#000" stroke-width="1.3" fill="none" stroke-linejoin="miter"/></g><path d="M391.3 106.2h-2.2 M391.3 96.52h-1.4 M391.3 86.83h-2.2 M391.3 77.15h-1.4 M391.3 67.46h-2.2 M391.3 57.78h-1.4 M391.3 48.09h-2.2 M391.3 38.41h-1.4 M391.3 28.72h-2.2 M391.3 19.04h-1.4 M397.69 106.2v2.2 M410.48 106.2v1.4 M423.27 106.2v2.2 M436.06 106.2v1.4 M448.85 106.2v2.2 M461.64 106.2v1.4 M474.43 106.2v2.2 M487.22 106.2v1.4 M500.01 106.2v2.2" stroke="#4a4a4a" stroke-width="0.7" fill="none"/><rect x="391.3" y="17.1" width="115.1" height="89.1" fill="none" stroke="#4a4a4a" stroke-width="0.8"/><text x="387.1" y="109.4" text-anchor="end" class="t">0</text><text x="387.1" y="90.03" text-anchor="end" class="t">1</text><text x="387.1" y="70.66" text-anchor="end" class="t">2</text><text x="387.1" y="51.29" text-anchor="end" class="t">3</text><text x="387.1" y="31.92" text-anchor="end" class="t">4</text><text x="397.69" y="117.4" text-anchor="middle" class="t">−0.4</text><text x="423.27" y="117.4" text-anchor="middle" class="t">−0.2</text><text x="448.85" y="117.4" text-anchor="middle" class="t">0</text><text x="474.43" y="117.4" text-anchor="middle" class="t">0.2</text><text x="500.01" y="117.4" text-anchor="middle" class="t">0.4</text><text x="448.85" y="12.8" text-anchor="middle" class="l">(a3) Spr.</text><text x="448.85" y="129.5" text-anchor="middle" class="l">VWS (m/s)</text><text transform="translate(374.7 61.65) rotate(-90)" text-anchor="middle" class="l">AGL (km)</text><g filter="url(#cm0)"><rect x="513.7" y="17.1" width="5.2" height="89.1" fill="url(#cbg)"/></g><rect x="513.7" y="17.1" width="5.2" height="89.1" fill="none" stroke="#4a4a4a" stroke-width="0.7"/><text x="522.7" y="109.4" class="t">0</text><text x="522.7" y="87.12" class="t">7</text><text x="522.7" y="64.85" class="t">14</text><text x="522.7" y="42.58" class="t">21</text><text x="522.7" y="20.3" class="t">28</text><path d="M518.9 106.2h2 M518.9 83.92h2 M518.9 61.65h2 M518.9 39.38h2 M518.9 17.1h2" stroke="#4a4a4a" stroke-width="0.7"/><text transform="translate(542.9 62.45) rotate(-90)" text-anchor="middle" class="l">Probability (%)</text><g clip-path="url(#clipp10)"><path d="M66.5 236.5 L66.5 195.8 L127.7 190.9 L127.7 147.7" stroke="#000" stroke-width="1.3" fill="none" stroke-linejoin="miter"/></g><path d="M28.2 236.5h-2.2 M28.2 226.82h-1.4 M28.2 217.13h-2.2 M28.2 207.45h-1.4 M28.2 197.76h-2.2 M28.2 188.08h-1.4 M28.2 178.39h-2.2 M28.2 168.71h-1.4 M28.2 159.02h-2.2 M28.2 149.34h-1.4 M28.2 236.5v2.2 M35.79 236.5v1.4 M43.38 236.5v2.2 M50.98 236.5v1.4 M58.57 236.5v2.2 M66.16 236.5v1.4 M73.75 236.5v2.2 M81.35 236.5v1.4 M88.94 236.5v2.2 M96.53 236.5v1.4 M104.12 236.5v2.2 M111.72 236.5v1.4 M119.31 236.5v2.2 M126.9 236.5v1.4 M134.49 236.5v2.2 M142.09 236.5v1.4" stroke="#4a4a4a" stroke-width="0.7" fill="none"/><rect x="28.2" y="147.4" width="115.1" height="89.1" fill="none" stroke="#4a4a4a" stroke-width="0.8"/><text x="24" y="239.7" text-anchor="end" class="t">0</text><text x="24" y="220.33" text-anchor="end" class="t">1</text><text x="24" y="200.96" text-anchor="end" class="t">2</text><text x="24" y="181.59" text-anchor="end" class="t">3</text><text x="24" y="162.22" text-anchor="end" class="t">4</text><text x="28.2" y="247.7" text-anchor="middle" class="t">N</text><text x="43.38" y="247.7" text-anchor="middle" class="t">NE</text><text x="58.57" y="247.7" text-anchor="middle" class="t">E</text><text x="73.75" y="247.7" text-anchor="middle" class="t">SE</text><text x="88.94" y="247.7" text-anchor="middle" class="t">S</text><text x="104.12" y="247.7" text-anchor="middle" class="t">SW</text><text x="119.31" y="247.7" text-anchor="middle" class="t">W</text><text x="134.49" y="247.7" text-anchor="middle" class="t">NW</text><text x="85.75" y="143.1" text-anchor="middle" class="l">(b1) Sum.</text><text x="85.75" y="259.8" text-anchor="middle" class="l">HWD</text><text transform="translate(11.6 191.95) rotate(-90)" text-anchor="middle" class="l">AGL (km)</text><g filter="url(#cm0)"><rect x="150.6" y="147.4" width="5.2" height="89.1" fill="url(#cbg)"/></g><rect x="150.6" y="147.4" width="5.2" height="89.1" fill="none" stroke="#4a4a4a" stroke-width="0.7"/><text x="159.6" y="239.7" class="t">0</text><text x="159.6" y="221.88" class="t">5</text><text x="159.6" y="204.06" class="t">10</text><text x="159.6" y="186.24" class="t">15</text><text x="159.6" y="168.42" class="t">20</text><text x="159.6" y="150.6" class="t">25</text><path d="M155.8 236.5h2 M155.8 218.68h2 M155.8 200.86h2 M155.8 183.04h2 M155.8 165.22h2 M155.8 147.4h2" stroke="#4a4a4a" stroke-width="0.7"/><text transform="translate(179.8 192.75) rotate(-90)" text-anchor="middle" class="l">Probability (%)</text><g clip-path="url(#clipp11)"><path d="M224.6 236.5 L224.6 227 L219.3 221.7 L219.3 210.3 L223.7 206.7 L223.7 181.2 L233.4 177.7 L234.3 173.3 L238.7 168 L259.8 163.6 L266 159.8 L276.6 153 L281.8 147.7" stroke="#000" stroke-width="1.3" fill="none" stroke-linejoin="miter"/></g><path d="M209.8 236.5h-2.2 M209.8 226.82h-1.4 M209.8 217.13h-2.2 M209.8 207.45h-1.4 M209.8 197.76h-2.2 M209.8 188.08h-1.4 M209.8 178.39h-2.2 M209.8 168.71h-1.4 M209.8 159.02h-2.2 M209.8 149.34h-1.4 M209.8 236.5v2.2 M219.39 236.5v1.4 M228.98 236.5v2.2 M238.58 236.5v1.4 M248.17 236.5v2.2 M257.76 236.5v1.4 M267.35 236.5v2.2 M276.94 236.5v1.4 M286.53 236.5v2.2 M296.12 236.5v1.4 M305.72 236.5v2.2 M315.31 236.5v1.4 M324.9 236.5v2.2" stroke="#4a4a4a" stroke-width="0.7" fill="none"/><rect x="209.8" y="147.4" width="115.1" height="89.1" fill="none" stroke="#4a4a4a" stroke-width="0.8"/><text x="205.6" y="239.7" text-anchor="end" class="t">0</text><text x="205.6" y="220.33" text-anchor="end" class="t">1</text><text x="205.6" y="200.96" text-anchor="end" class="t">2</text><text x="205.6" y="181.59" text-anchor="end" class="t">3</text><text x="205.6" y="162.22" text-anchor="end" class="t">4</text><text x="209.8" y="247.7" text-anchor="middle" class="t">0</text><text x="228.98" y="247.7" text-anchor="middle" class="t">4</text><text x="248.17" y="247.7" text-anchor="middle" class="t">8</text><text x="267.35" y="247.7" text-anchor="middle" class="t">12</text><text x="286.53" y="247.7" text-anchor="middle" class="t">16</text><text x="305.72" y="247.7" text-anchor="middle" class="t">20</text><text x="324.9" y="247.7" text-anchor="middle" class="t">24</text><text x="267.35" y="143.1" text-anchor="middle" class="l">(b2) Sum.</text><text x="267.35" y="259.8" text-anchor="middle" class="l">HWS (m/s)</text><text transform="translate(193.2 191.95) rotate(-90)" text-anchor="middle" class="l">AGL (km)</text><g filter="url(#cm0)"><rect x="332.2" y="147.4" width="5.2" height="89.1" fill="url(#cbg)"/></g><rect x="332.2" y="147.4" width="5.2" height="89.1" fill="none" stroke="#4a4a4a" stroke-width="0.7"/><text x="341.2" y="239.7" class="t">0</text><text x="341.2" y="221.88" class="t">3</text><text x="341.2" y="204.06" class="t">6</text><text x="341.2" y="186.24" class="t">9</text><text x="341.2" y="168.42" class="t">12</text><text x="341.2" y="150.6" class="t">15</text><path d="M337.4 236.5h2 M337.4 218.68h2 M337.4 200.86h2 M337.4 183.04h2 M337.4 165.22h2 M337.4 147.4h2" stroke="#4a4a4a" stroke-width="0.7"/><text transform="translate(361.4 192.75) rotate(-90)" text-anchor="middle" class="l">Probability (%)</text><path d="M448.85 147.4V236.5" stroke="#142014" stroke-width="1.05" stroke-dasharray="3.4 1.4"/><g clip-path="url(#clipp12)"><path d="M455.5 147.7 L455.5 182.1 L468.1 186.8 L468.1 233.1 L455 236.5" stroke="#000" stroke-width="1.3" fill="none" stroke-linejoin="miter"/></g><path d="M391.3 236.5h-2.2 M391.3 226.82h-1.4 M391.3 217.13h-2.2 M391.3 207.45h-1.4 M391.3 197.76h-2.2 M391.3 188.08h-1.4 M391.3 178.39h-2.2 M391.3 168.71h-1.4 M391.3 159.02h-2.2 M391.3 149.34h-1.4 M397.69 236.5v2.2 M410.48 236.5v1.4 M423.27 236.5v2.2 M436.06 236.5v1.4 M448.85 236.5v2.2 M461.64 236.5v1.4 M474.43 236.5v2.2 M487.22 236.5v1.4 M500.01 236.5v2.2" stroke="#4a4a4a" stroke-width="0.7" fill="none"/><rect x="391.3" y="147.4" width="115.1" height="89.1" fill="none" stroke="#4a4a4a" stroke-width="0.8"/><text x="387.1" y="239.7" text-anchor="end" class="t">0</text><text x="387.1" y="220.33" text-anchor="end" class="t">1</text><text x="387.1" y="200.96" text-anchor="end" class="t">2</text><text x="387.1" y="181.59" text-anchor="end" class="t">3</text><text x="387.1" y="162.22" text-anchor="end" class="t">4</text><text x="397.69" y="247.7" text-anchor="middle" class="t">−0.4</text><text x="423.27" y="247.7" text-anchor="middle" class="t">−0.2</text><text x="448.85" y="247.7" text-anchor="middle" class="t">0</text><text x="474.43" y="247.7" text-anchor="middle" class="t">0.2</text><text x="500.01" y="247.7" text-anchor="middle" class="t">0.4</text><text x="448.85" y="143.1" text-anchor="middle" class="l">(b3) Sum.</text><text x="448.85" y="259.8" text-anchor="middle" class="l">VWS (m/s)</text><text transform="translate(374.7 191.95) rotate(-90)" text-anchor="middle" class="l">AGL (km)</text><g filter="url(#cm0)"><rect x="513.7" y="147.4" width="5.2" height="89.1" fill="url(#cbg)"/></g><rect x="513.7" y="147.4" width="5.2" height="89.1" fill="none" stroke="#4a4a4a" stroke-width="0.7"/><text x="522.7" y="239.7" class="t">0</text><text x="522.7" y="217.42" class="t">7</text><text x="522.7" y="195.15" class="t">14</text><text x="522.7" y="172.88" class="t">21</text><text x="522.7" y="150.6" class="t">28</text><path d="M518.9 236.5h2 M518.9 214.22h2 M518.9 191.95h2 M518.9 169.68h2 M518.9 147.4h2" stroke="#4a4a4a" stroke-width="0.7"/><text transform="translate(542.9 192.75) rotate(-90)" text-anchor="middle" class="l">Probability (%)</text><g clip-path="url(#clipp20)"><path d="M66.5 367.4 L66.5 340.7 L128.3 335.6 L128.3 292.8 L120.3 289.3 L120.3 278.6" stroke="#000" stroke-width="1.3" fill="none" stroke-linejoin="miter"/></g><path d="M28.2 367.3h-2.2 M28.2 357.62h-1.4 M28.2 347.93h-2.2 M28.2 338.25h-1.4 M28.2 328.56h-2.2 M28.2 318.88h-1.4 M28.2 309.19h-2.2 M28.2 299.51h-1.4 M28.2 289.82h-2.2 M28.2 280.14h-1.4 M28.2 367.3v2.2 M35.79 367.3v1.4 M43.38 367.3v2.2 M50.98 367.3v1.4 M58.57 367.3v2.2 M66.16 367.3v1.4 M73.75 367.3v2.2 M81.35 367.3v1.4 M88.94 367.3v2.2 M96.53 367.3v1.4 M104.12 367.3v2.2 M111.72 367.3v1.4 M119.31 367.3v2.2 M126.9 367.3v1.4 M134.49 367.3v2.2 M142.09 367.3v1.4" stroke="#4a4a4a" stroke-width="0.7" fill="none"/><rect x="28.2" y="278.2" width="115.1" height="89.1" fill="none" stroke="#4a4a4a" stroke-width="0.8"/><text x="24" y="370.5" text-anchor="end" class="t">0</text><text x="24" y="351.13" text-anchor="end" class="t">1</text><text x="24" y="331.76" text-anchor="end" class="t">2</text><text x="24" y="312.39" text-anchor="end" class="t">3</text><text x="24" y="293.02" text-anchor="end" class="t">4</text><text x="28.2" y="378.5" text-anchor="middle" class="t">N</text><text x="43.38" y="378.5" text-anchor="middle" class="t">NE</text><text x="58.57" y="378.5" text-anchor="middle" class="t">E</text><text x="73.75" y="378.5" text-anchor="middle" class="t">SE</text><text x="88.94" y="378.5" text-anchor="middle" class="t">S</text><text x="104.12" y="378.5" text-anchor="middle" class="t">SW</text><text x="119.31" y="378.5" text-anchor="middle" class="t">W</text><text x="134.49" y="378.5" text-anchor="middle" class="t">NW</text><text x="85.75" y="273.9" text-anchor="middle" class="l">(c1) Aut.</text><text x="85.75" y="390.6" text-anchor="middle" class="l">HWD</text><text transform="translate(11.6 322.75) rotate(-90)" text-anchor="middle" class="l">AGL (km)</text><g filter="url(#cm0)"><rect x="150.6" y="278.2" width="5.2" height="89.1" fill="url(#cbg)"/></g><rect x="150.6" y="278.2" width="5.2" height="89.1" fill="none" stroke="#4a4a4a" stroke-width="0.7"/><text x="159.6" y="370.5" class="t">0</text><text x="159.6" y="352.68" class="t">5</text><text x="159.6" y="334.86" class="t">10</text><text x="159.6" y="317.04" class="t">15</text><text x="159.6" y="299.22" class="t">20</text><text x="159.6" y="281.4" class="t">25</text><path d="M155.8 367.3h2 M155.8 349.48h2 M155.8 331.66h2 M155.8 313.84h2 M155.8 296.02h2 M155.8 278.2h2" stroke="#4a4a4a" stroke-width="0.7"/><text transform="translate(179.8 323.55) rotate(-90)" text-anchor="middle" class="l">Probability (%)</text><g clip-path="url(#clipp21)"><path d="M214 366.8 L223.7 363.3 L219.3 358.9 L219.3 335.1 L223.7 330.7 L223.7 321.9 L242.2 313.1 L253.7 303.4 L267 299.9 L278.3 298.1 L287.1 293.7 L287.1 278.6" stroke="#000" stroke-width="1.3" fill="none" stroke-linejoin="miter"/></g><path d="M209.8 367.3h-2.2 M209.8 357.62h-1.4 M209.8 347.93h-2.2 M209.8 338.25h-1.4 M209.8 328.56h-2.2 M209.8 318.88h-1.4 M209.8 309.19h-2.2 M209.8 299.51h-1.4 M209.8 289.82h-2.2 M209.8 280.14h-1.4 M209.8 367.3v2.2 M219.39 367.3v1.4 M228.98 367.3v2.2 M238.58 367.3v1.4 M248.17 367.3v2.2 M257.76 367.3v1.4 M267.35 367.3v2.2 M276.94 367.3v1.4 M286.53 367.3v2.2 M296.12 367.3v1.4 M305.72 367.3v2.2 M315.31 367.3v1.4 M324.9 367.3v2.2" stroke="#4a4a4a" stroke-width="0.7" fill="none"/><rect x="209.8" y="278.2" width="115.1" height="89.1" fill="none" stroke="#4a4a4a" stroke-width="0.8"/><text x="205.6" y="370.5" text-anchor="end" class="t">0</text><text x="205.6" y="351.13" text-anchor="end" class="t">1</text><text x="205.6" y="331.76" text-anchor="end" class="t">2</text><text x="205.6" y="312.39" text-anchor="end" class="t">3</text><text x="205.6" y="293.02" text-anchor="end" class="t">4</text><text x="209.8" y="378.5" text-anchor="middle" class="t">0</text><text x="228.98" y="378.5" text-anchor="middle" class="t">4</text><text x="248.17" y="378.5" text-anchor="middle" class="t">8</text><text x="267.35" y="378.5" text-anchor="middle" class="t">12</text><text x="286.53" y="378.5" text-anchor="middle" class="t">16</text><text x="305.72" y="378.5" text-anchor="middle" class="t">20</text><text x="324.9" y="378.5" text-anchor="middle" class="t">24</text><text x="267.35" y="273.9" text-anchor="middle" class="l">(c2) Aut.</text><text x="267.35" y="390.6" text-anchor="middle" class="l">HWS (m/s)</text><text transform="translate(193.2 322.75) rotate(-90)" text-anchor="middle" class="l">AGL (km)</text><g filter="url(#cm0)"><rect x="332.2" y="278.2" width="5.2" height="89.1" fill="url(#cbg)"/></g><rect x="332.2" y="278.2" width="5.2" height="89.1" fill="none" stroke="#4a4a4a" stroke-width="0.7"/><text x="341.2" y="370.5" class="t">0</text><text x="341.2" y="352.68" class="t">3</text><text x="341.2" y="334.86" class="t">6</text><text x="341.2" y="317.04" class="t">9</text><text x="341.2" y="299.22" class="t">12</text><text x="341.2" y="281.4" class="t">15</text><path d="M337.4 367.3h2 M337.4 349.48h2 M337.4 331.66h2 M337.4 313.84h2 M337.4 296.02h2 M337.4 278.2h2" stroke="#4a4a4a" stroke-width="0.7"/><text transform="translate(361.4 323.55) rotate(-90)" text-anchor="middle" class="l">Probability (%)</text><path d="M448.85 278.2V367.3" stroke="#142014" stroke-width="1.05" stroke-dasharray="3.4 1.4"/><g clip-path="url(#clipp22)"><path d="M429.5 278.6 L454.9 284.4 L455.5 316.6 L468.1 321 L468.1 364.1 L454.9 367.4" stroke="#000" stroke-width="1.3" fill="none" stroke-linejoin="miter"/></g><path d="M391.3 367.3h-2.2 M391.3 357.62h-1.4 M391.3 347.93h-2.2 M391.3 338.25h-1.4 M391.3 328.56h-2.2 M391.3 318.88h-1.4 M391.3 309.19h-2.2 M391.3 299.51h-1.4 M391.3 289.82h-2.2 M391.3 280.14h-1.4 M397.69 367.3v2.2 M410.48 367.3v1.4 M423.27 367.3v2.2 M436.06 367.3v1.4 M448.85 367.3v2.2 M461.64 367.3v1.4 M474.43 367.3v2.2 M487.22 367.3v1.4 M500.01 367.3v2.2" stroke="#4a4a4a" stroke-width="0.7" fill="none"/><rect x="391.3" y="278.2" width="115.1" height="89.1" fill="none" stroke="#4a4a4a" stroke-width="0.8"/><text x="387.1" y="370.5" text-anchor="end" class="t">0</text><text x="387.1" y="351.13" text-anchor="end" class="t">1</text><text x="387.1" y="331.76" text-anchor="end" class="t">2</text><text x="387.1" y="312.39" text-anchor="end" class="t">3</text><text x="387.1" y="293.02" text-anchor="end" class="t">4</text><text x="397.69" y="378.5" text-anchor="middle" class="t">−0.4</text><text x="423.27" y="378.5" text-anchor="middle" class="t">−0.2</text><text x="448.85" y="378.5" text-anchor="middle" class="t">0</text><text x="474.43" y="378.5" text-anchor="middle" class="t">0.2</text><text x="500.01" y="378.5" text-anchor="middle" class="t">0.4</text><text x="448.85" y="273.9" text-anchor="middle" class="l">(c3) Aut.</text><text x="448.85" y="390.6" text-anchor="middle" class="l">VWS (m/s)</text><text transform="translate(374.7 322.75) rotate(-90)" text-anchor="middle" class="l">AGL (km)</text><g filter="url(#cm0)"><rect x="513.7" y="278.2" width="5.2" height="89.1" fill="url(#cbg)"/></g><rect x="513.7" y="278.2" width="5.2" height="89.1" fill="none" stroke="#4a4a4a" stroke-width="0.7"/><text x="522.7" y="370.5" class="t">0</text><text x="522.7" y="348.22" class="t">7</text><text x="522.7" y="325.95" class="t">14</text><text x="522.7" y="303.67" class="t">21</text><text x="522.7" y="281.4" class="t">28</text><path d="M518.9 367.3h2 M518.9 345.02h2 M518.9 322.75h2 M518.9 300.47h2 M518.9 278.2h2" stroke="#4a4a4a" stroke-width="0.7"/><text transform="translate(542.9 323.55) rotate(-90)" text-anchor="middle" class="l">Probability (%)</text><g clip-path="url(#clipp30)"><path d="M127.7 497.7 L127.7 494.1 L66.5 488.9 L66.5 480.1 L127.7 475.3 L120.3 470.4 L120.3 447.5 L127.7 443.1 L120.3 439.5 L120.3 408.9" stroke="#000" stroke-width="1.3" fill="none" stroke-linejoin="miter"/></g><path d="M28.2 497.4h-2.2 M28.2 487.72h-1.4 M28.2 478.03h-2.2 M28.2 468.35h-1.4 M28.2 458.66h-2.2 M28.2 448.98h-1.4 M28.2 439.29h-2.2 M28.2 429.61h-1.4 M28.2 419.92h-2.2 M28.2 410.24h-1.4 M28.2 497.4v2.2 M35.79 497.4v1.4 M43.38 497.4v2.2 M50.98 497.4v1.4 M58.57 497.4v2.2 M66.16 497.4v1.4 M73.75 497.4v2.2 M81.35 497.4v1.4 M88.94 497.4v2.2 M96.53 497.4v1.4 M104.12 497.4v2.2 M111.72 497.4v1.4 M119.31 497.4v2.2 M126.9 497.4v1.4 M134.49 497.4v2.2 M142.09 497.4v1.4" stroke="#4a4a4a" stroke-width="0.7" fill="none"/><rect x="28.2" y="408.3" width="115.1" height="89.1" fill="none" stroke="#4a4a4a" stroke-width="0.8"/><text x="24" y="500.6" text-anchor="end" class="t">0</text><text x="24" y="481.23" text-anchor="end" class="t">1</text><text x="24" y="461.86" text-anchor="end" class="t">2</text><text x="24" y="442.49" text-anchor="end" class="t">3</text><text x="24" y="423.12" text-anchor="end" class="t">4</text><text x="28.2" y="508.6" text-anchor="middle" class="t">N</text><text x="43.38" y="508.6" text-anchor="middle" class="t">NE</text><text x="58.57" y="508.6" text-anchor="middle" class="t">E</text><text x="73.75" y="508.6" text-anchor="middle" class="t">SE</text><text x="88.94" y="508.6" text-anchor="middle" class="t">S</text><text x="104.12" y="508.6" text-anchor="middle" class="t">SW</text><text x="119.31" y="508.6" text-anchor="middle" class="t">W</text><text x="134.49" y="508.6" text-anchor="middle" class="t">NW</text><text x="85.75" y="404" text-anchor="middle" class="l">(d1) Win.</text><text x="85.75" y="520.7" text-anchor="middle" class="l">HWD</text><text transform="translate(11.6 452.85) rotate(-90)" text-anchor="middle" class="l">AGL (km)</text><g filter="url(#cm0)"><rect x="150.6" y="408.3" width="5.2" height="89.1" fill="url(#cbg)"/></g><rect x="150.6" y="408.3" width="5.2" height="89.1" fill="none" stroke="#4a4a4a" stroke-width="0.7"/><text x="159.6" y="500.6" class="t">0</text><text x="159.6" y="482.78" class="t">5</text><text x="159.6" y="464.96" class="t">10</text><text x="159.6" y="447.14" class="t">15</text><text x="159.6" y="429.32" class="t">20</text><text x="159.6" y="411.5" class="t">25</text><path d="M155.8 497.4h2 M155.8 479.58h2 M155.8 461.76h2 M155.8 443.94h2 M155.8 426.12h2 M155.8 408.3h2" stroke="#4a4a4a" stroke-width="0.7"/><text transform="translate(179.8 453.65) rotate(-90)" text-anchor="middle" class="l">Probability (%)</text><g clip-path="url(#clipp31)"><path d="M214.6 497.7 L214.6 489.9 L223.4 484.5 L219 480.1 L219 474.6 L224.5 470.3 L233.2 465.9 L243 457.2 L252.8 451.7 L252.8 443 L285.6 433.2 L258.3 428.8 L272.5 423.4 L300.8 419 L310.6 408.9" stroke="#000" stroke-width="1.3" fill="none" stroke-linejoin="miter"/></g><path d="M209.8 497.4h-2.2 M209.8 487.72h-1.4 M209.8 478.03h-2.2 M209.8 468.35h-1.4 M209.8 458.66h-2.2 M209.8 448.98h-1.4 M209.8 439.29h-2.2 M209.8 429.61h-1.4 M209.8 419.92h-2.2 M209.8 410.24h-1.4 M209.8 497.4v2.2 M219.39 497.4v1.4 M228.98 497.4v2.2 M238.58 497.4v1.4 M248.17 497.4v2.2 M257.76 497.4v1.4 M267.35 497.4v2.2 M276.94 497.4v1.4 M286.53 497.4v2.2 M296.12 497.4v1.4 M305.72 497.4v2.2 M315.31 497.4v1.4 M324.9 497.4v2.2" stroke="#4a4a4a" stroke-width="0.7" fill="none"/><rect x="209.8" y="408.3" width="115.1" height="89.1" fill="none" stroke="#4a4a4a" stroke-width="0.8"/><text x="205.6" y="500.6" text-anchor="end" class="t">0</text><text x="205.6" y="481.23" text-anchor="end" class="t">1</text><text x="205.6" y="461.86" text-anchor="end" class="t">2</text><text x="205.6" y="442.49" text-anchor="end" class="t">3</text><text x="205.6" y="423.12" text-anchor="end" class="t">4</text><text x="209.8" y="508.6" text-anchor="middle" class="t">0</text><text x="228.98" y="508.6" text-anchor="middle" class="t">4</text><text x="248.17" y="508.6" text-anchor="middle" class="t">8</text><text x="267.35" y="508.6" text-anchor="middle" class="t">12</text><text x="286.53" y="508.6" text-anchor="middle" class="t">16</text><text x="305.72" y="508.6" text-anchor="middle" class="t">20</text><text x="324.9" y="508.6" text-anchor="middle" class="t">24</text><text x="267.35" y="404" text-anchor="middle" class="l">(d2) Win.</text><text x="267.35" y="520.7" text-anchor="middle" class="l">HWS (m/s)</text><text transform="translate(193.2 452.85) rotate(-90)" text-anchor="middle" class="l">AGL (km)</text><g filter="url(#cm0)"><rect x="332.2" y="408.3" width="5.2" height="89.1" fill="url(#cbg)"/></g><rect x="332.2" y="408.3" width="5.2" height="89.1" fill="none" stroke="#4a4a4a" stroke-width="0.7"/><text x="341.2" y="500.6" class="t">0</text><text x="341.2" y="482.78" class="t">3</text><text x="341.2" y="464.96" class="t">6</text><text x="341.2" y="447.14" class="t">9</text><text x="341.2" y="429.32" class="t">12</text><text x="341.2" y="411.5" class="t">15</text><path d="M337.4 497.4h2 M337.4 479.58h2 M337.4 461.76h2 M337.4 443.94h2 M337.4 426.12h2 M337.4 408.3h2" stroke="#4a4a4a" stroke-width="0.7"/><text transform="translate(361.4 453.65) rotate(-90)" text-anchor="middle" class="l">Probability (%)</text><path d="M448.85 408.3V497.4" stroke="#142014" stroke-width="1.05" stroke-dasharray="3.4 1.4"/><g clip-path="url(#clipp32)"><path d="M429.5 408.9 L449 414 L454.9 414 L455.5 461.6 L468.1 466 L468.1 494.1 L454.9 497.7" stroke="#000" stroke-width="1.3" fill="none" stroke-linejoin="miter"/></g><path d="M391.3 497.4h-2.2 M391.3 487.72h-1.4 M391.3 478.03h-2.2 M391.3 468.35h-1.4 M391.3 458.66h-2.2 M391.3 448.98h-1.4 M391.3 439.29h-2.2 M391.3 429.61h-1.4 M391.3 419.92h-2.2 M391.3 410.24h-1.4 M397.69 497.4v2.2 M410.48 497.4v1.4 M423.27 497.4v2.2 M436.06 497.4v1.4 M448.85 497.4v2.2 M461.64 497.4v1.4 M474.43 497.4v2.2 M487.22 497.4v1.4 M500.01 497.4v2.2" stroke="#4a4a4a" stroke-width="0.7" fill="none"/><rect x="391.3" y="408.3" width="115.1" height="89.1" fill="none" stroke="#4a4a4a" stroke-width="0.8"/><text x="387.1" y="500.6" text-anchor="end" class="t">0</text><text x="387.1" y="481.23" text-anchor="end" class="t">1</text><text x="387.1" y="461.86" text-anchor="end" class="t">2</text><text x="387.1" y="442.49" text-anchor="end" class="t">3</text><text x="387.1" y="423.12" text-anchor="end" class="t">4</text><text x="397.69" y="508.6" text-anchor="middle" class="t">−0.4</text><text x="423.27" y="508.6" text-anchor="middle" class="t">−0.2</text><text x="448.85" y="508.6" text-anchor="middle" class="t">0</text><text x="474.43" y="508.6" text-anchor="middle" class="t">0.2</text><text x="500.01" y="508.6" text-anchor="middle" class="t">0.4</text><text x="448.85" y="404" text-anchor="middle" class="l">(d3) Win.</text><text x="448.85" y="520.7" text-anchor="middle" class="l">VWS (m/s)</text><text transform="translate(374.7 452.85) rotate(-90)" text-anchor="middle" class="l">AGL (km)</text><g filter="url(#cm0)"><rect x="513.7" y="408.3" width="5.2" height="89.1" fill="url(#cbg)"/></g><rect x="513.7" y="408.3" width="5.2" height="89.1" fill="none" stroke="#4a4a4a" stroke-width="0.7"/><text x="522.7" y="500.6" class="t">0</text><text x="522.7" y="478.32" class="t">7</text><text x="522.7" y="456.05" class="t">14</text><text x="522.7" y="433.77" class="t">21</text><text x="522.7" y="411.5" class="t">28</text><path d="M518.9 497.4h2 M518.9 475.12h2 M518.9 452.85h2 M518.9 430.57h2 M518.9 408.3h2" stroke="#4a4a4a" stroke-width="0.7"/><text transform="translate(542.9 453.65) rotate(-90)" text-anchor="middle" class="l">Probability (%)</text></svg></body></html>
